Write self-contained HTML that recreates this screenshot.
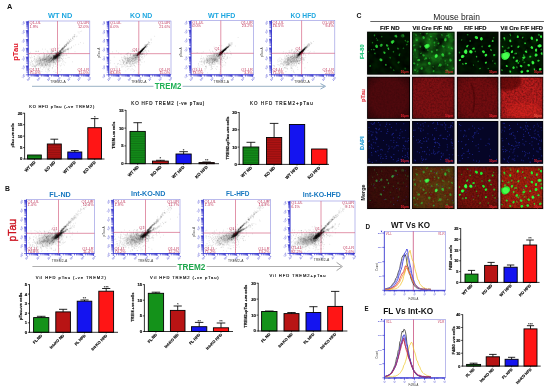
<!DOCTYPE html>
<html><head><meta charset="utf-8"><title>Figure</title>
<style>html,body{margin:0;padding:0;background:#fff}svg{display:block;filter:blur(.3px)}text{font-family:"Liberation Sans",sans-serif}</style></head>
<body>
<svg width="550" height="391" viewBox="0 0 550 391">
<defs><radialGradient id="cl"><stop offset="0" stop-color="#444" stop-opacity=".85"/><stop offset=".5" stop-color="#555" stop-opacity=".4"/><stop offset="1" stop-color="#666" stop-opacity="0"/></radialGradient><radialGradient id="cg"><stop offset="0" stop-color="#000" stop-opacity=".95"/><stop offset=".45" stop-color="#000" stop-opacity=".7"/><stop offset="1" stop-color="#000" stop-opacity="0"/></radialGradient><filter id="b1" x="-30%" y="-30%" width="160%" height="160%"><feGaussianBlur stdDeviation=".5"/></filter><filter id="b2" x="-30%" y="-30%" width="160%" height="160%"><feGaussianBlur stdDeviation=".9"/></filter><filter id="b0" x="-30%" y="-30%" width="160%" height="160%"><feGaussianBlur stdDeviation=".3"/></filter><filter id="nz" x="0" y="0" width="100%" height="100%"><feTurbulence type="fractalNoise" baseFrequency=".55" numOctaves="2" seed="3"/><feColorMatrix type="matrix" values="0 0 0 0 0  0 0 0 0 0  0 0 0 0 0  1.6 0 0 0 -.55"/></filter><radialGradient id="vg"><stop offset=".55" stop-color="#000" stop-opacity="0"/><stop offset="1" stop-color="#000" stop-opacity=".55"/></radialGradient><filter id="gm0" x="0" y="0" width="100%" height="100%" color-interpolation-filters="sRGB"><feTurbulence type="fractalNoise" baseFrequency=".11" numOctaves="3" seed="7"/><feColorMatrix type="matrix" values="0 0 0 0 0  0.15 0 0 0 -0.020000000000000004  0 0 0 0 0  0 0 0 0 1"/></filter><filter id="gq0" x="0" y="0" width="100%" height="100%" color-interpolation-filters="sRGB"><feTurbulence type="fractalNoise" baseFrequency=".11" numOctaves="3" seed="7"/><feColorMatrix type="matrix" values="0 0 0 0 .15  0 0 0 0 .75  0 0 0 0 .12  0.165 0 0 0 -0.07700000000000001"/></filter><filter id="gm1" x="0" y="0" width="100%" height="100%" color-interpolation-filters="sRGB"><feTurbulence type="fractalNoise" baseFrequency=".11" numOctaves="3" seed="8"/><feColorMatrix type="matrix" values=".1 0 0 0 0  0.55 0 0 0 -0.009999999999999995  .1 0 0 0 0  0 0 0 0 1"/></filter><filter id="gq1" x="0" y="0" width="100%" height="100%" color-interpolation-filters="sRGB"><feTurbulence type="fractalNoise" baseFrequency=".11" numOctaves="3" seed="8"/><feColorMatrix type="matrix" values="0 0 0 0 .15  0 0 0 0 .75  0 0 0 0 .12  0.6050000000000001 0 0 0 -0.066"/></filter><filter id="gm2" x="0" y="0" width="100%" height="100%" color-interpolation-filters="sRGB"><feTurbulence type="fractalNoise" baseFrequency=".11" numOctaves="3" seed="9"/><feColorMatrix type="matrix" values="0 0 0 0 0  0.16 0 0 0 -0.03  0 0 0 0 0  0 0 0 0 1"/></filter><filter id="gq2" x="0" y="0" width="100%" height="100%" color-interpolation-filters="sRGB"><feTurbulence type="fractalNoise" baseFrequency=".11" numOctaves="3" seed="9"/><feColorMatrix type="matrix" values="0 0 0 0 .15  0 0 0 0 .75  0 0 0 0 .12  0.17600000000000002 0 0 0 -0.08800000000000001"/></filter><filter id="gm3" x="0" y="0" width="100%" height="100%" color-interpolation-filters="sRGB"><feTurbulence type="fractalNoise" baseFrequency=".11" numOctaves="3" seed="10"/><feColorMatrix type="matrix" values="0 0 0 0 -0  0.26 0 0 0 -0.05  0 0 0 0 0  0 0 0 0 1"/></filter><filter id="gq3" x="0" y="0" width="100%" height="100%" color-interpolation-filters="sRGB"><feTurbulence type="fractalNoise" baseFrequency=".11" numOctaves="3" seed="10"/><feColorMatrix type="matrix" values="0 0 0 0 .15  0 0 0 0 .75  0 0 0 0 .12  0.28600000000000003 0 0 0 -0.11000000000000001"/></filter><clipPath id="c00"><rect x="367.2" y="31.8" width="42.8" height="42.7"/></clipPath><clipPath id="c01"><rect x="367.2" y="76.8" width="42.8" height="42"/></clipPath><clipPath id="c02"><rect x="367.2" y="121" width="42.8" height="42.8"/></clipPath><clipPath id="c03"><rect x="367.2" y="166.3" width="42.8" height="42.7"/></clipPath><clipPath id="c10"><rect x="412.1" y="31.8" width="42.4" height="42.7"/></clipPath><clipPath id="c11"><rect x="412.1" y="76.8" width="42.4" height="42"/></clipPath><clipPath id="c12"><rect x="412.1" y="121" width="42.4" height="42.8"/></clipPath><clipPath id="c13"><rect x="412.1" y="166.3" width="42.4" height="42.7"/></clipPath><clipPath id="c20"><rect x="456.9" y="31.8" width="41.5" height="42.7"/></clipPath><clipPath id="c21"><rect x="456.9" y="76.8" width="41.5" height="42"/></clipPath><clipPath id="c22"><rect x="456.9" y="121" width="41.5" height="42.8"/></clipPath><clipPath id="c23"><rect x="456.9" y="166.3" width="41.5" height="42.7"/></clipPath><clipPath id="c30"><rect x="500.4" y="31.8" width="42.8" height="42.7"/></clipPath><clipPath id="c31"><rect x="500.4" y="76.8" width="42.8" height="42"/></clipPath><clipPath id="c32"><rect x="500.4" y="121" width="42.8" height="42.8"/></clipPath><clipPath id="c33"><rect x="500.4" y="166.3" width="42.8" height="42.7"/></clipPath></defs>
<rect width="550" height="391" fill="#fff"/>
<text x="6.9" y="8.7" font-size="7.4" fill="#111" font-weight="bold">A</text>
<text x="5" y="191.3" font-size="7.7" fill="#111" font-weight="bold" textLength="4.9" lengthAdjust="spacingAndGlyphs">B</text>
<text x="356.5" y="17.8" font-size="7.7" fill="#111" font-weight="bold" textLength="5" lengthAdjust="spacingAndGlyphs">C</text>
<text x="365.5" y="229" font-size="7.7" fill="#111" font-weight="bold" textLength="4.6" lengthAdjust="spacingAndGlyphs">D</text>
<text x="364.4" y="310.8" font-size="7.7" fill="#111" font-weight="bold" textLength="4.1" lengthAdjust="spacingAndGlyphs">E</text>
<text x="60.1" y="17.7" font-size="7.5" fill="#1ea7e0" font-weight="bold" text-anchor="middle" textLength="24.4" lengthAdjust="spacingAndGlyphs">WT ND</text>
<rect x="28.2" y="21" width="61.6" height="53.8" fill="#fff" stroke="#8d8de0" stroke-width=".6"/>
<line x1="28.2" y1="21" x2="28.2" y2="74.8" stroke="#2626cc" stroke-width="0.8"/>
<line x1="28.2" y1="74.8" x2="89.8" y2="74.8" stroke="#2626cc" stroke-width="0.8"/>
<path d="M31.2 74.8v1.8M28.2 72.1h-2M33 74.8v1.8M28.2 70.6h-2M34.3 74.8v1.8M28.2 69.5h-2M35.3 74.8v1.8M28.2 68.6h-2M36.1 74.8v1.8M28.2 67.9h-2M36.7 74.8v1.8M28.2 67.3h-2M37.3 74.8v1.8M28.2 66.8h-2M37.8 74.8v1.8M28.2 66.4h-2M41.4 74.8v1.8M28.2 63.3h-2M43.1 74.8v1.8M28.2 61.8h-2M44.4 74.8v1.8M28.2 60.7h-2M45.4 74.8v1.8M28.2 59.8h-2M46.2 74.8v1.8M28.2 59.1h-2M46.9 74.8v1.8M28.2 58.5h-2M47.4 74.8v1.8M28.2 58h-2M48 74.8v1.8M28.2 57.5h-2M51.5 74.8v1.8M28.2 54.5h-2M53.3 74.8v1.8M28.2 52.9h-2M54.5 74.8v1.8M28.2 51.8h-2M55.5 74.8v1.8M28.2 51h-2M56.3 74.8v1.8M28.2 50.3h-2M57 74.8v1.8M28.2 49.7h-2M57.6 74.8v1.8M28.2 49.2h-2M58.1 74.8v1.8M28.2 48.7h-2M61.6 74.8v1.8M28.2 45.6h-2M63.4 74.8v1.8M28.2 44.1h-2M64.6 74.8v1.8M28.2 43h-2M65.6 74.8v1.8M28.2 42.1h-2M66.4 74.8v1.8M28.2 41.4h-2M67.1 74.8v1.8M28.2 40.8h-2M67.7 74.8v1.8M28.2 40.3h-2M68.2 74.8v1.8M28.2 39.9h-2M71.7 74.8v1.8M28.2 36.8h-2M73.5 74.8v1.8M28.2 35.3h-2M74.7 74.8v1.8M28.2 34.2h-2M75.7 74.8v1.8M28.2 33.3h-2M76.5 74.8v1.8M28.2 32.6h-2M77.2 74.8v1.8M28.2 32h-2M77.8 74.8v1.8M28.2 31.5h-2M78.3 74.8v1.8M28.2 31h-2M81.8 74.8v1.8M28.2 28h-2M83.6 74.8v1.8M28.2 26.4h-2M84.9 74.8v1.8M28.2 25.3h-2M85.8 74.8v1.8M28.2 24.5h-2M86.6 74.8v1.8M28.2 23.8h-2M87.3 74.8v1.8M28.2 23.2h-2M87.9 74.8v1.8M28.2 22.7h-2M88.4 74.8v1.8M28.2 22.2h-2" stroke="#2020c8" stroke-width=".55"/>
<line x1="25.8" y1="74.8" x2="28.2" y2="74.8" stroke="#2222cc" stroke-width="0.65"/>
<text x="25.4" y="75.2" font-size="2.7" fill="#3333cc" text-anchor="end" transform="rotate(-55 25.4 75.2)">10<tspan font-size="2" dy="-1">0</tspan></text>
<line x1="28.2" y1="74.8" x2="28.2" y2="77.2" stroke="#2222cc" stroke-width="0.65"/>
<text x="29.2" y="79.8" font-size="2.7" fill="#3333cc" text-anchor="middle" transform="rotate(-35 29.2 79.8)">10<tspan font-size="2" dy="-1">0</tspan></text>
<line x1="25.8" y1="66" x2="28.2" y2="66" stroke="#2222cc" stroke-width="0.65"/>
<text x="25.4" y="66.4" font-size="2.7" fill="#3333cc" text-anchor="end" transform="rotate(-55 25.4 66.4)">10<tspan font-size="2" dy="-1">1</tspan></text>
<line x1="38.3" y1="74.8" x2="38.3" y2="77.2" stroke="#2222cc" stroke-width="0.65"/>
<text x="39.3" y="79.8" font-size="2.7" fill="#3333cc" text-anchor="middle" transform="rotate(-35 39.3 79.8)">10<tspan font-size="2" dy="-1">1</tspan></text>
<line x1="25.8" y1="57.1" x2="28.2" y2="57.1" stroke="#2222cc" stroke-width="0.65"/>
<text x="25.4" y="57.5" font-size="2.7" fill="#3333cc" text-anchor="end" transform="rotate(-55 25.4 57.5)">10<tspan font-size="2" dy="-1">2</tspan></text>
<line x1="48.4" y1="74.8" x2="48.4" y2="77.2" stroke="#2222cc" stroke-width="0.65"/>
<text x="49.4" y="79.8" font-size="2.7" fill="#3333cc" text-anchor="middle" transform="rotate(-35 49.4 79.8)">10<tspan font-size="2" dy="-1">2</tspan></text>
<line x1="25.8" y1="48.3" x2="28.2" y2="48.3" stroke="#2222cc" stroke-width="0.65"/>
<text x="25.4" y="48.7" font-size="2.7" fill="#3333cc" text-anchor="end" transform="rotate(-55 25.4 48.7)">10<tspan font-size="2" dy="-1">3</tspan></text>
<line x1="58.5" y1="74.8" x2="58.5" y2="77.2" stroke="#2222cc" stroke-width="0.65"/>
<text x="59.5" y="79.8" font-size="2.7" fill="#3333cc" text-anchor="middle" transform="rotate(-35 59.5 79.8)">10<tspan font-size="2" dy="-1">3</tspan></text>
<line x1="25.8" y1="39.5" x2="28.2" y2="39.5" stroke="#2222cc" stroke-width="0.65"/>
<text x="25.4" y="39.9" font-size="2.7" fill="#3333cc" text-anchor="end" transform="rotate(-55 25.4 39.9)">10<tspan font-size="2" dy="-1">4</tspan></text>
<line x1="68.7" y1="74.8" x2="68.7" y2="77.2" stroke="#2222cc" stroke-width="0.65"/>
<text x="69.7" y="79.8" font-size="2.7" fill="#3333cc" text-anchor="middle" transform="rotate(-35 69.7 79.8)">10<tspan font-size="2" dy="-1">4</tspan></text>
<line x1="25.8" y1="30.6" x2="28.2" y2="30.6" stroke="#2222cc" stroke-width="0.65"/>
<text x="25.4" y="31" font-size="2.7" fill="#3333cc" text-anchor="end" transform="rotate(-55 25.4 31)">10<tspan font-size="2" dy="-1">5</tspan></text>
<line x1="78.8" y1="74.8" x2="78.8" y2="77.2" stroke="#2222cc" stroke-width="0.65"/>
<text x="79.8" y="79.8" font-size="2.7" fill="#3333cc" text-anchor="middle" transform="rotate(-35 79.8 79.8)">10<tspan font-size="2" dy="-1">5</tspan></text>
<line x1="25.8" y1="21.8" x2="28.2" y2="21.8" stroke="#2222cc" stroke-width="0.65"/>
<text x="25.4" y="22.2" font-size="2.7" fill="#3333cc" text-anchor="end" transform="rotate(-55 25.4 22.2)">10<tspan font-size="2" dy="-1">6</tspan></text>
<line x1="88.9" y1="74.8" x2="88.9" y2="77.2" stroke="#2222cc" stroke-width="0.65"/>
<text x="89.9" y="79.8" font-size="2.7" fill="#3333cc" text-anchor="middle" transform="rotate(-35 89.9 79.8)">10<tspan font-size="2" dy="-1">6</tspan></text>
<line x1="57.5" y1="21" x2="57.5" y2="74.8" stroke="#d25a7c" stroke-width="0.65"/>
<line x1="28.2" y1="53.6" x2="89.8" y2="53.6" stroke="#d25a7c" stroke-width="0.65"/>
<ellipse cx="48" cy="59.8" rx="15" ry="7.5" fill="url(#cl)" opacity=".4" transform="rotate(-14 48 59.8)"/>
<path d="M60.9 55h0M56 55.3h0M53.8 58.5h0M52.8 56.9h0M57.1 55.9h0M57.1 54.2h0M56.5 56.1h0M53.3 59.8h0M59.3 57.9h0M56.9 55.6h0M59.7 53.9h0M58.4 54h0M57.9 56.8h0M58.3 54.9h0M54.2 58.9h0M57.3 56.8h0M57.9 56.8h0M56.5 56.5h0M57.2 53.7h0M55.1 56.5h0M61.3 52h0M58.6 55.5h0M54.5 55.2h0M58.5 53.8h0M57.2 53.4h0M56.5 58.4h0M58.9 52h0M53.2 58.9h0M58.4 54.9h0M56.4 54.6h0M58.9 56.1h0M54.2 55.7h0M55.3 58.5h0M52.2 59.7h0M54 58.1h0M55.9 56.7h0M60.5 53.5h0M59.7 53.3h0M55.6 57.6h0M49.5 62h0M55.9 54.6h0M57.2 54.7h0M50.3 61h0M53.7 57.7h0M57.2 57.8h0M56.7 56h0M55.9 53.6h0M58.6 52.6h0M56.6 54.2h0M53.8 57.8h0M61.7 53h0M54.8 57.2h0M53.6 58.5h0M55.7 58.1h0M52.9 58.7h0M53.8 57.2h0M58.3 54.9h0M58.9 56.2h0M58.2 52.5h0M56.3 53.3h0M57.9 58.2h0M55.7 56.2h0M56.9 55.9h0M55.9 55.4h0M59.9 54.9h0M56.2 56.9h0M59 55.9h0M58 56.1h0M55 55.7h0M56.1 58.2h0M59 54.3h0M55.4 57.7h0M61.7 54.1h0M54.8 57.6h0M52 58.1h0M57 55.8h0M59.9 55.5h0M59.6 55.8h0M54.2 56.2h0M60 57.8h0M56.4 54.3h0M58.3 57.1h0M54.6 59.1h0M56.1 58.7h0M58.7 54.9h0M61.1 51.7h0M56.4 59.5h0M56.2 60.2h0M55.5 55.3h0M56.6 56.3h0M56.8 55.6h0M57.2 51.7h0M54.9 57.1h0M59.3 50.5h0M54.7 55.8h0M55.4 58.2h0M58.7 56.8h0M55.3 57.7h0M60.1 54.7h0M56.6 58h0M55.7 59.9h0M56.8 55.8h0M57.9 56.5h0M60.7 52.5h0M56.1 57.5h0M52.9 56.3h0M58.2 54.1h0M58.4 52.9h0M49.6 62.4h0M58.2 57.5h0M58 55.4h0M57.6 54.6h0M55.6 54.7h0M57.1 54.3h0M56 57.8h0M57.9 53.3h0M60.9 51.5h0M59.3 55.4h0M57.2 55.9h0M61.6 53.4h0M56.1 53.5h0M55.6 58.9h0M56.2 54.8h0M54.7 57.2h0M58.5 55.2h0M58.3 53.3h0M58.5 53.7h0M57.2 58.5h0M56.6 55.9h0M55.7 56.2h0M61.5 54.4h0M58.4 54.9h0M59 54h0M57.9 55.7h0M58.1 57.7h0M61.9 53.9h0M53.3 62h0M57.8 54.3h0M57.4 57.4h0M60.1 54.6h0M56.9 55.9h0M58.5 54.4h0M53.8 57.4h0M56.4 56.8h0M60.9 50.2h0M57.6 55.1h0M58.4 56.9h0M59.4 53.5h0M54 56h0M57.4 57.6h0M56.4 57.4h0M58.6 55.1h0M59.1 53.9h0M53.5 56.7h0M58.5 53.9h0M56.4 57.7h0M56 59.6h0M57.7 54.3h0M55.9 58.6h0M53.1 58h0M56.7 56.4h0M56.9 56.6h0M55.5 56.8h0M60.1 54.2h0M56.8 58.8h0M51.7 60.4h0M59 55.8h0M56.5 55.6h0M57.8 54.8h0M55.3 52.4h0M56.8 54.6h0M59.4 55h0M57.9 54.3h0M57.3 55h0M56.9 55.6h0M56 60h0M56.6 52.7h0M57.5 53h0M55.4 56.1h0M55.4 57.5h0M54.5 55.4h0M56.8 56.6h0M60.5 52.1h0M53.3 58.3h0M57.4 54h0M55.2 58.2h0M56.7 56.4h0M54.3 56.7h0M55.6 56.7h0M56 57.3h0M58.3 55.6h0M56.9 54.3h0M54.4 59.3h0M56.6 56.3h0M53.5 58.4h0M54.2 56.7h0M53.7 56h0M57.7 57.2h0M54.8 57.8h0M54.4 59.1h0M60 51.1h0M57.1 58.1h0M57.5 55.6h0M51.4 60.3h0M60 55.7h0M57.6 54.3h0M53.3 55.8h0M54.8 59.5h0M55.1 55.1h0M58.3 51.8h0M59.3 53.3h0M57.9 56.2h0M58.2 56.9h0M56.3 55.8h0M53.7 56.1h0M55.6 58.6h0M59.7 55.9h0M63.8 51.3h0M56.6 53.9h0M57.7 58.9h0M57.7 55h0M55.7 53.7h0M53.4 56.6h0M51.9 61.4h0M58.7 54h0M56.5 54.5h0M58.2 56h0M61.6 54.6h0M57.6 55.1h0M54 57.3h0M58.5 55.5h0M57.9 57.8h0M58.1 54.9h0M56.1 56.7h0M53.4 57.2h0M56.9 54.9h0M56.9 58h0M57.1 57.9h0M57.7 57.7h0M56.2 53.5h0M59.4 53.4h0M51.8 60.4h0M55.8 54.6h0M55.5 58h0M60.9 54.4h0M60.4 54.8h0M49.8 60.6h0M54.7 53.1h0M59.1 55.5h0M54.3 57.4h0M54.2 58.1h0M56.4 56.3h0M54.3 58.7h0M56.5 57.8h0M56 54.1h0M53 59.2h0M55.7 57.7h0M58.5 54.6h0M51.4 58.5h0M57 54h0M59.1 53.8h0M57 54.3h0M53.8 53.5h0M56.5 57.2h0M53.6 57.2h0M56.4 56.4h0M55.1 58.5h0M53.4 60.7h0M52.4 58.3h0M58.9 52.5h0M52.5 59.7h0M53.3 57h0M54.2 56.9h0M53.3 57.2h0M59.9 52.2h0M57.7 52.8h0M56.8 53.8h0M55.9 57.8h0M53.6 55.3h0M55 57.2h0M57.1 54h0M55.8 56.9h0M52.4 59.5h0M54.8 58.3h0M56.1 56.3h0M50.5 61.1h0M54.8 56h0M54.2 56h0M57.5 56.5h0M57.5 54.5h0M61.3 53.6h0M54.1 58h0M52.4 59.4h0M59.3 56h0M54 55.3h0M57.2 57.9h0M57.9 57.2h0M59.8 56.1h0M57.4 54.3h0M59.7 57.8h0M53.7 55.4h0M62 52.3h0M54.5 56.9h0M53.3 60.1h0M56.3 55.3h0M55.1 56.6h0M59 53.8h0M59.2 52.5h0M54.6 57h0M55.1 57.2h0M60 55.3h0M54.9 59.7h0M58.1 57.6h0M55.4 55.7h0M59 55.2h0M55.4 57.2h0M57.1 56.2h0M51.3 58.5h0M56.9 56.3h0M53.7 55.5h0M59.5 53.1h0M55.3 59.9h0M60.1 54.9h0M59 55h0M54.1 58.2h0M57.9 56.1h0M56.8 54.2h0M54.7 57.1h0M55.3 55.7h0M51 58.7h0M57.2 55.6h0M56.3 53.1h0M56.2 57.9h0M50.8 59.2h0M53.4 60.8h0M56.1 55.6h0M56.8 55.8h0M59.7 55.5h0M59 54.7h0M59.1 55.4h0M57.8 52h0M57.4 55.6h0M56.7 55.6h0M56.7 56.8h0M57.1 55.9h0M52.8 57.2h0M53.2 56h0M54.5 56.4h0M50.5 58h0M54.9 56.6h0M62.6 52.6h0M54.2 57.3h0M53.4 57.5h0M55.6 56.9h0M55.7 58.3h0M59.7 56.8h0M53.9 59.6h0M54.2 55.4h0M54.4 55.2h0M58.7 59h0M61.2 55.3h0M58.1 52.2h0M57.6 55.5h0M56.7 54.3h0M53.4 62.4h0M59.7 54.1h0M55.4 57.4h0M54.3 59.7h0M56.8 55.7h0M55.4 57h0M56.5 55.5h0M59 54.4h0M55.5 55.5h0M60.6 55h0M56.6 52.9h0M56.5 57.9h0M57.7 57.4h0M56.1 57.9h0M55.7 52.7h0M55.3 56.8h0M54.2 56.6h0M60.3 52.8h0M57.3 53.2h0M51 60h0M56.9 54.6h0M58.5 55.9h0M55.4 57.1h0M55.6 58.8h0M61.3 53.1h0M54.7 56.5h0M56.6 57.7h0M55.9 59.2h0M53.5 58.7h0M61.2 55.3h0M56.2 57.8h0M63.7 52.2h0M51.4 61h0M61.4 50.2h0M57 52.2h0M59.7 52.1h0M59.2 55.4h0M48.5 60.5h0M56 54h0M55.7 55.3h0M59.4 52.9h0M54.8 58.7h0M59.4 53.5h0M57.6 56.1h0M54.3 56h0M57.5 54.8h0M53.9 59.9h0M57.7 55.4h0M54.5 57.5h0M58.4 55.4h0M53.7 57h0M57.5 55.7h0M57.6 53.3h0M60.2 56.1h0M58.9 54.4h0M57.6 53.1h0M62.2 49.8h0M73.1 36.9h0M74.4 34.9h0M65.3 46.5h0M80.2 31.5h0M70.6 38.9h0M69.5 42.4h0M69.3 40.7h0M63.2 48.1h0M74.8 36.8h0M59.6 51.3h0M72.5 37.8h0M62.1 49.4h0M68 43.7h0M62.1 49.3h0M74.8 36.2h0M64.2 45.2h0M65.1 45.3h0M64.9 46.1h0M72 40.2h0M66.4 44.6h0M62.1 49.1h0M66.2 46h0M65.4 46.4h0M66.6 44.6h0M62.4 48.1h0M63.7 48.8h0M67 43.5h0M76.7 36.7h0M62.7 48.1h0M64 47.5h0M68.8 41.4h0M64 46.9h0M60.7 51.2h0M62.6 48.7h0M60.9 50.5h0M61.9 49.9h0M61.7 49.1h0M69.5 42.9h0M67.1 42.7h0M64.5 47.4h0M67.2 41.5h0M68.4 42.9h0M60.6 51.6h0M61.9 50.5h0M59.8 51.7h0M81.7 31.1h0M63.1 48.1h0M59.9 50.7h0M66.7 45.6h0M64.9 46.4h0M63.2 49.6h0M60.2 50.9h0M64.8 45.6h0M60.6 51.1h0M61.7 49.6h0M71.1 41.2h0M73.4 38.1h0M59.9 50.8h0M62.9 48.2h0M64.3 46.5h0M77 36.1h0M60.6 51.4h0M63.2 48.5h0M64.6 46.4h0M64 48.8h0M61.5 48.8h0M64.6 47.4h0M61.1 49.9h0M69.3 41.3h0M59.8 52h0M82.1 25.1h0M61.5 49.3h0M69.4 41.5h0M72.5 38.7h0M68.5 43.5h0M63.4 48.2h0M65.5 46.2h0M66.4 45.8h0M66 45h0M60.6 50.5h0M68.1 43.5h0M61.8 49.7h0M64.3 47.6h0M62.3 48.7h0M74.2 36.4h0M67.7 43.2h0M62.3 49h0M67.3 42.9h0M74.2 34.9h0M62 48.9h0M60.6 50.9h0M60.6 50.8h0M65.1 46.5h0M67.5 42.5h0M61.2 49.9h0M60.7 49.7h0M63.2 47.6h0M59.8 52h0M66.3 45.1h0M60.3 51.3h0M62.2 48.6h0M59.6 51.5h0M62.5 49.1h0M70.1 41.7h0M67.7 43.9h0M68.6 42.7h0M60.3 51h0M60.1 51.7h0M59.9 51.8h0M79.1 33.1h0M66.7 44.6h0M62.2 50h0M64.3 46.3h0M63.2 49.4h0M70.3 39.5h0M65.6 44.5h0M73.1 36.4h0M66.7 45.3h0M64.5 46h0M62.9 48.1h0M75 34.8h0M59.8 51.2h0M64.7 46.9h0M63.8 48h0M65.1 46.2h0M65.1 46.8h0M63.9 47.1h0M62.9 48.6h0M66.5 43.7h0M72.4 38.3h0M68.5 42.6h0M62.1 49.1h0M68.1 44.2h0M61.1 51.2h0M74.6 37h0M73.8 39.6h0M62.6 49.1h0M72.6 38.1h0M62.8 48.3h0M66.1 45.4h0M61.6 49.3h0M65.5 44.5h0M60.1 52.3h0M66.5 44.2h0M62.4 47.8h0M63.6 47.2h0M69.7 40.5h0M78.1 31.9h0M63.2 48h0M64 47.2h0M59.9 51.6h0M59.9 51.5h0M60.6 51.2h0M62.9 49h0M62.3 50.2h0M66.9 44.1h0M71.1 40.4h0M70.8 39.6h0M61.3 49.6h0M60.7 50.5h0M70.4 41.5h0M74.1 36.4h0M62.1 48.2h0M68.6 39.7h0M59.4 53.5h0M61.2 53h0M67.6 48.3h0M64.8 51.3h0M63.6 52.3h0M71.3 47.9h0M60.1 53.1h0M61.2 52.4h0M65.9 50.5h0M71.3 47.4h0M61.9 52.6h0M65.7 50h0M59.5 53.2h0M65.8 51.9h0M66.9 49h0M62.9 52.1h0M67.1 49.6h0M62.1 52h0M62.7 50.8h0M68.5 48.1h0M60 53.3h0M59.5 53.9h0M59.8 53.8h0M65.7 51.5h0M67.7 49.3h0M78.7 44.3h0M68.6 49h0M61.9 52.4h0M64.5 50.9h0M62.6 50.8h0M62.4 53.1h0M80.6 42.6h0M71.6 46.8h0M60.5 52.9h0M68.2 50.9h0M60 53h0M63.6 50.9h0M67.6 49.4h0M73.7 45.9h0M64.9 49.8h0M64.6 50.5h0M67.2 49.5h0M59.8 53.3h0M63.4 51.2h0M63.7 49.8h0M60.8 53.2h0M59.5 54h0M60.9 52.9h0M61.4 51.5h0M65.1 49.6h0M61 52.4h0M62.9 51.8h0M62.3 52.5h0M62.1 52.8h0M60.5 53.3h0M59.9 53.2h0M64 51.9h0M63.9 50.5h0M66.1 50h0M60.9 53.2h0M61.5 52.6h0M60.4 53.7h0M60 53.5h0M68.1 49.7h0M63.5 51.8h0M70.7 48.7h0M63.5 51h0M60.3 53.2h0M65 51.8h0M59.8 53.9h0M66.1 49.4h0M64.4 51.8h0M59.9 53.4h0M60.7 53.1h0M61.7 52.4h0M83.5 43.2h0M61.7 52.7h0M65.6 50.1h0M61.4 52.5h0M68.5 48.9h0M60.3 53h0M68.2 49.3h0M63.6 50.8h0M60.5 52.7h0M59.7 53.8h0M67.8 48.7h0M75.7 44.8h0M69.3 48.2h0M64.6 51h0M63.2 52.1h0M62.5 61.8h0M44.3 53.9h0M35.7 69.1h0M58.2 61.8h0M49 59.9h0M53.2 60.3h0M49.3 55.7h0M37.8 63.2h0M48.2 65.3h0M39.4 54.4h0M32.8 63.8h0M62.7 54.6h0M43.4 62.6h0M62.1 60.3h0M56.6 61.2h0M46.6 60.6h0M53.1 65.6h0M30.6 62.4h0M52 57.9h0M47.8 58.9h0M41.3 63.6h0M59.5 55.4h0M53 62.8h0M43.6 60.7h0M38.9 68.5h0M63.1 55h0M65.8 58.4h0M34.1 65.5h0M51.3 61h0M54.5 56.4h0M58.5 58.3h0M64.6 55h0M29.1 72.4h0M52.9 51.4h0M43.7 57.9h0M56.5 55.1h0M58.4 55.1h0M56.7 55.2h0M39.4 64.5h0M47.3 62.1h0M35 59.3h0M46.9 67.9h0M51.7 52.3h0M51.3 54.1h0M57.5 60.7h0M66.8 55.6h0M45.2 63.8h0M37.7 60.9h0M40.5 59.6h0M37.8 56.9h0M40 63.5h0M49.2 59.2h0M53.2 61.4h0M53.7 66.4h0M51.5 60.4h0M45.4 64.8h0M59.7 45.1h0M55.3 53.6h0M51.9 59.1h0M38.1 57.2h0M47.9 70.1h0M38.6 60.8h0M46.5 59.2h0M59.1 64.9h0M48.8 61.3h0M46.9 66.3h0M48.8 62.3h0M47.8 64.3h0M48.1 56.5h0M64 48h0M50.3 57.9h0M42.3 69.6h0M51.6 57.3h0M41.8 62.8h0M48.9 58.7h0M44.1 66.9h0M50.7 58.4h0M38.4 59.4h0M54.8 55.1h0M54.3 57.7h0M52.4 60h0M45.3 59.6h0M48.7 62.3h0M69.2 57.6h0M39 70.9h0M47.8 57.2h0M50 59.1h0M51.1 58.9h0M49.3 64.5h0M63 56.2h0M62.5 59.6h0M59 58h0M51 62.2h0M41.1 61.9h0M40 65.6h0M51 61.4h0M45.9 57.4h0M56.8 55.8h0M47.3 60.2h0M52.9 58.8h0M40 57.9h0M57.3 56.2h0M46.7 56.8h0M56.9 59.3h0M43.9 54.2h0M63.7 53.5h0M39.2 60.3h0M39.6 62.1h0M44 56.3h0M54.3 54.8h0M33.8 65h0M44.1 56.7h0M35 60.6h0M43.8 59.1h0M45.3 65.5h0M57.9 58.5h0M53.5 56.6h0M37.2 64.8h0M60.1 53.9h0M43 58.5h0M38.3 64.6h0M40.6 67.2h0M62.8 56.2h0M48.3 56.4h0M56.5 57.9h0M36.4 59.3h0M52.7 56.7h0M52.7 59.6h0M60.8 56h0M58.2 61.5h0M59.8 55.4h0M52.3 68.7h0M47.2 57.7h0M49.5 54.9h0M41.8 59.9h0M47 64h0M39.9 61.3h0M51 57.9h0M56 66.5h0M39.8 58.7h0M44.6 58.7h0M44.7 62.4h0M64.3 65.1h0M47.6 52h0M61.9 56.2h0M46 64.7h0M48 59h0M42.1 65h0M55.6 54.5h0M44.8 65.6h0M42.9 59.6h0M42.6 60.4h0M56.1 57.9h0M57.4 59.7h0M32.3 64h0M48.2 53.3h0M55.4 57.7h0M45 62.7h0M57.2 60.2h0M44.7 60.6h0M68.7 49.3h0M49.6 59.6h0M61.6 58.6h0M50.7 58h0M59.3 57.1h0M48.3 60.5h0M54.7 58.2h0M51.4 62.1h0M43 60.3h0M49.8 62h0M53.4 56.5h0M40.3 60.5h0M45.2 64.1h0M54.3 58.4h0M39.6 57h0M50.2 61.6h0M52 57.8h0M53 50.9h0M59 62.8h0M50.5 60.1h0M47.6 63.5h0M41.2 59.4h0M51.7 53.3h0M53.2 60.3h0M48.7 57.7h0M63.2 53.7h0M50.6 62.3h0M49.3 63.6h0M49.1 60.6h0M49.2 62.1h0M44 64.4h0M57.1 53.4h0M36.2 57.9h0M42.7 64h0M50.3 66.6h0M61.4 50.3h0M45.7 59.3h0M62.5 59h0M56.3 54.5h0M65.3 50.9h0M48.9 55.9h0M41.7 62.5h0M41.9 64.2h0M53.3 58.7h0M54.7 62.5h0M57.6 52.9h0M54.7 61.5h0M45.8 59h0M59.2 59.4h0M50.6 64.8h0M57.3 64.1h0M46.2 64.2h0M32.4 61.5h0M62.4 52.2h0M47.6 58.6h0M53.4 62.9h0M62.2 55.5h0M52.1 62.2h0M58.4 56h0M59.6 51.1h0M50.8 53.8h0M44.9 57.6h0M64.2 62h0M55.5 58.5h0M32.2 57.5h0M50.8 62h0M53 55.7h0M42.8 63.4h0M68 57.4h0M48.6 59.3h0M52.8 59.8h0M37.8 68.6h0M53 60.7h0M45.7 64.8h0M57.1 54.6h0M57.2 54.6h0M34.1 66.9h0M40.6 59.7h0M41.3 61.4h0M46.1 61h0M53.5 64.8h0M53 60.5h0M53.4 61.6h0M56.5 58.7h0M39.1 58.5h0M51.2 57.8h0M45.4 58.5h0M43.5 65.3h0M55 53.1h0M50.6 59.1h0M45.6 64.6h0M51.7 59.2h0M42.3 65.1h0M51.2 60.1h0M43.9 66.8h0M34.8 58.4h0M40.3 59.9h0M46.3 61.1h0M60.4 58.8h0M50 58.7h0M52.4 61.8h0M43.6 67.9h0M49.2 62.9h0M28.9 65.7h0M46.3 65.6h0M57.5 58.6h0M54.1 57h0M42 65.9h0M38.9 60.3h0M39 58.6h0M45.9 63.7h0M41.3 64.5h0M33.4 60.5h0M42.1 64h0M59 47.9h0M50.2 65.6h0M49.8 65.8h0M58.6 58.1h0M37.2 60.2h0M61.4 52.8h0M39.9 60.3h0M59.5 57.2h0M36.2 60.6h0M55 62.5h0M61.8 58.2h0M52.5 54.9h0M43.8 55.7h0M48 61.5h0M49 55.9h0M54.1 61.8h0M58.4 48.7h0M53.8 62.3h0M55 58.1h0M51 58.1h0M43.1 57.3h0M75 51.7h0M53.8 60.4h0M56.3 57.4h0M57.4 65.1h0M43.5 58.8h0M40.7 60.5h0M39 63.6h0M55 62.7h0M59.5 55.3h0M50.3 56.2h0M49.6 59.8h0M53.1 58.3h0M40.6 65.7h0M47.4 54.6h0M35.2 66h0M34.6 66.1h0M61.6 58.3h0M55.9 60h0M44.2 61.8h0M33.9 66.1h0M54.3 58.8h0M57.8 56.6h0M35.5 68.7h0M49.6 57.1h0M44.6 59.4h0M50.2 54.4h0M49.8 58h0M54.2 57h0M53.9 54.9h0M51.8 57.7h0M57.9 58.7h0M57.2 55.6h0M44.1 60.8h0M40.5 60.8h0M58.9 52.8h0M44.4 61.1h0M63.2 64.1h0M44.3 59.1h0M50.9 56.6h0M33 66.2h0M52.2 59.9h0M53.5 59.1h0M44.1 63.3h0M48.8 60.3h0M40.1 62.3h0M48.3 56.5h0M42.6 59.7h0M48.9 57.2h0M40.1 62.3h0M39.2 63.5h0M41.9 60.7h0M57.3 48.8h0M37.9 60.6h0M47.5 56.6h0M41.1 59.3h0M40.8 62.2h0M43.3 60.5h0M49.6 62.1h0M43.7 59.4h0M51.6 50.6h0M49.1 56.1h0M56 56.5h0M42.2 65.4h0M44.2 57.5h0M52 51.4h0M47.9 62.6h0M39.1 65.9h0M46.3 58.2h0M35.9 68.5h0M59.7 55.4h0M51.3 51.7h0M49.7 60.8h0M42.5 58.9h0M47 57h0M35.6 66.1h0M56.2 59.9h0M55.2 61.9h0M45.3 49.2h0M48.9 57.5h0M39.7 64h0M40.2 57.3h0M68.3 52.9h0M50.5 61.4h0M53.7 57.9h0M53 58.1h0M45.2 59.6h0M54.2 60.8h0M51.9 53h0M47.4 62h0M46 62.3h0M50.4 63.8h0M30.5 65.2h0M57.8 59.8h0M44.7 59.9h0M46.3 62h0M54.8 55.8h0M57.8 59h0M31.9 62.7h0M47.7 57.4h0M49.7 59.2h0M48.1 58.8h0M51 56.8h0M52.8 51.8h0M49.4 57.6h0M46 61.5h0M42.6 49.1h0M37.1 62h0M46.5 58.4h0M44 63.6h0M48.6 55.7h0M42.3 65h0M50 60.7h0M49.2 60.3h0M44.2 57.1h0M40.7 58.4h0M63.5 58.1h0M49.4 59.1h0M36.2 65.9h0M35.3 67.2h0M44.4 55.4h0M60.5 52.7h0M46.7 59.6h0M37.1 64.5h0M38.1 61.8h0M40.3 68h0M49.9 64.9h0M44.8 61.6h0M53.3 58.7h0M47.2 64.4h0M52.1 59h0M54.6 47.6h0M40.8 63.7h0M45.9 59.4h0M36.9 61.4h0M59.9 54.7h0M40.8 60.7h0M57.3 54.9h0M35.8 64h0M46.2 60.9h0M34.7 59.2h0M46.6 61.5h0M63.6 60.9h0M58.6 60.7h0M57.7 59.7h0M54 56.8h0M45.5 65.6h0M39.3 60h0M47.2 60.8h0M43.3 59.3h0M42.3 58.5h0M47.1 72.9h0M40.4 71.3h0M39 63h0M48.6 62.1h0M46.1 56.2h0M44.4 59.6h0M36.9 62.5h0M49.2 53.8h0M38.6 65.5h0M41 59.2h0M43.9 58.5h0M53.4 59.3h0M66 53.6h0M51.7 56.2h0M56.1 51.8h0M42.1 60.6h0M72.4 61.8h0M65.1 55.2h0M36.6 65h0M57.5 54.7h0M65.7 62.7h0M35.1 61.8h0M46.7 59.2h0M47.8 60.1h0M47.9 69.8h0M44.7 56h0M58.9 60.8h0M39.4 58.8h0M41 53.4h0M38.5 64.2h0M38.1 61.6h0M46.5 58h0M52.9 59.2h0M59.2 58.2h0M44.7 67.2h0M51.7 60.8h0M51.3 57.7h0M41.9 66.3h0M42.9 60.1h0M56.5 61.4h0M49.9 67h0M48.1 68.9h0M60.3 57.3h0M47.5 64.3h0M35.4 66h0M55.2 64.1h0M60.6 57.7h0M52.5 55h0M53.2 55.5h0M38.6 69.2h0M63.5 55.3h0M52.4 67.9h0M38.6 68.3h0M46.7 62.7h0M49 65.6h0M58.9 56.4h0M59.2 60.6h0M60.2 52.6h0M56.1 57.7h0M50.5 53.2h0M66.6 54.7h0M52.2 53h0M47.5 60.7h0M49.6 55.1h0M51.7 57.3h0M56 53.3h0M58.3 53.1h0M40 63.8h0M54.2 59.9h0M44.3 59.8h0M42 65.8h0M34.1 59h0M39.6 64.1h0M37.1 65.9h0M34.4 56.8h0M51.9 60.4h0M46.5 65.5h0M45.2 58.6h0M48 65.1h0M48.3 67.1h0M60.7 60.7h0M57 62.5h0M52.1 49.6h0M50.5 58.7h0M38.7 55.1h0M49.7 55.1h0M48.7 56.5h0M51.4 55.2h0M50.9 58.9h0M45.1 59.6h0M50.2 49h0M33.2 64.2h0M36.7 51.3h0M55.1 60.1h0M31.9 66.2h0M58.3 52.5h0M48.9 58.7h0M30.6 52.3h0M30.7 57.7h0M39.1 63.1h0M49.2 70.3h0M56.9 54.6h0M49.5 70.9h0M37.3 64.6h0M61.1 65.3h0M51.9 57.8h0M61.3 69.9h0M39.6 57.6h0M29.4 61.8h0M57.4 68.8h0M34 56.2h0M34.4 56.6h0M35.7 54.4h0M47.1 71.8h0M56.8 65h0M39.4 71.7h0M36 51.5h0M36.2 68.9h0M51.8 57.8h0M36.3 65.4h0M45.7 69h0M43.6 52.5h0M31.5 56h0M46.1 67.2h0M47.2 50.8h0M60 61.2h0M46.7 55.1h0M37.1 55.6h0M48.8 71.7h0M37.7 58.7h0M38.5 51.3h0M29.5 68.7h0M60.8 51.6h0M31.7 61.1h0M39 56.3h0M57.3 55.1h0M35.5 71.6h0M49.3 66.5h0M50.8 51.2h0M60.8 51.3h0M36.5 61.6h0M56.3 72.6h0M29.5 53.8h0M29.7 53.8h0M58.7 52.6h0M46.6 55.1h0M29.5 57.1h0M37.6 63.2h0M57.4 62.9h0M46.4 57.1h0M35 61.7h0M41.9 71.5h0M35.9 51.2h0M30.9 58h0M36.3 59.8h0M57.6 67.5h0M48.4 69.9h0M57.6 52.1h0M51.5 53.6h0M42.5 59.6h0M38 51.6h0M35.5 67h0M60.1 71.7h0M29.9 63.8h0M35.4 62.7h0M46.4 54.4h0M32 61.7h0M30.9 70.1h0M57.9 50.9h0M55.1 70.1h0M30.5 64.2h0M44.5 54.7h0M55.6 63.7h0M55.4 72.3h0M60.5 66h0M57.4 52.1h0M40.1 61.6h0M45.7 59.1h0M55.6 64.1h0M56.5 60.9h0M59.6 58.9h0M61.3 63.7h0M41.4 65h0M32.6 66.5h0M48.6 69.3h0M31.6 60.3h0M48.1 52h0M53.8 71.5h0M49.4 68.3h0M59.7 61.1h0M45.7 71.2h0M51.1 57h0M48.2 68.4h0M56.5 53.6h0M34.6 66.5h0M52.3 67.5h0M45 59.5h0M60.2 56.5h0M38.5 51.2h0M31.9 65.1h0M50.6 55.7h0M53.1 54.6h0" stroke="#222" stroke-width=".4" stroke-linecap="round" opacity=".32" fill="none"/>
<ellipse cx="56.6" cy="56.1" rx="6" ry="2.1" fill="url(#cg)" opacity=".88" transform="rotate(-40 56.6 56.1)"/>
<ellipse cx="57.5" cy="54" rx="2.2" ry=".9" fill="#b01030" opacity=".35" transform="rotate(-40 57.5 54)"/>
<text x="29.4" y="24.4" font-size="3.9" fill="#c23a5e">Q1-UL</text>
<text x="29.4" y="27.6" font-size="3.9" fill="#c23a5e">1.9%</text>
<text x="89" y="24.4" font-size="3.9" fill="#c23a5e" text-anchor="end">Q1-UR</text>
<text x="89" y="27.6" font-size="3.9" fill="#c23a5e" text-anchor="end">12.0%</text>
<text x="29.4" y="70.8" font-size="3.9" fill="#c23a5e">Q1-LL</text>
<text x="29.4" y="73.9" font-size="3.9" fill="#c23a5e">75.0%</text>
<text x="89" y="70.8" font-size="3.9" fill="#c23a5e" text-anchor="end">Q1-LR</text>
<text x="89" y="73.9" font-size="3.9" fill="#c23a5e" text-anchor="end">11.0%</text>
<text x="56.5" y="50.6" font-size="3.9" fill="#c23a5e" text-anchor="end">Q1</text>
<text x="58" y="83" font-size="3.3" fill="#333" text-anchor="middle" letter-spacing=".15">TREM2-A</text>
<text x="141.1" y="17.7" font-size="7.5" fill="#1ea7e0" font-weight="bold" text-anchor="middle" textLength="22.4" lengthAdjust="spacingAndGlyphs">KO ND</text>
<rect x="108.8" y="21" width="62.2" height="53.8" fill="#fff" stroke="#8d8de0" stroke-width=".6"/>
<line x1="108.8" y1="21" x2="108.8" y2="74.8" stroke="#2626cc" stroke-width="0.8"/>
<line x1="108.8" y1="74.8" x2="171" y2="74.8" stroke="#2626cc" stroke-width="0.8"/>
<path d="M111.9 74.8v1.8M108.8 72.1h-2M113.7 74.8v1.8M108.8 70.6h-2M114.9 74.8v1.8M108.8 69.5h-2M115.9 74.8v1.8M108.8 68.6h-2M116.7 74.8v1.8M108.8 67.9h-2M117.4 74.8v1.8M108.8 67.3h-2M118 74.8v1.8M108.8 66.8h-2M118.5 74.8v1.8M108.8 66.4h-2M122.1 74.8v1.8M108.8 63.3h-2M123.9 74.8v1.8M108.8 61.8h-2M125.2 74.8v1.8M108.8 60.7h-2M126.1 74.8v1.8M108.8 59.8h-2M127 74.8v1.8M108.8 59.1h-2M127.6 74.8v1.8M108.8 58.5h-2M128.2 74.8v1.8M108.8 58h-2M128.8 74.8v1.8M108.8 57.5h-2M132.3 74.8v1.8M108.8 54.5h-2M134.1 74.8v1.8M108.8 52.9h-2M135.4 74.8v1.8M108.8 51.8h-2M136.4 74.8v1.8M108.8 51h-2M137.2 74.8v1.8M108.8 50.3h-2M137.9 74.8v1.8M108.8 49.7h-2M138.4 74.8v1.8M108.8 49.2h-2M139 74.8v1.8M108.8 48.7h-2M142.5 74.8v1.8M108.8 45.6h-2M144.3 74.8v1.8M108.8 44.1h-2M145.6 74.8v1.8M108.8 43h-2M146.6 74.8v1.8M108.8 42.1h-2M147.4 74.8v1.8M108.8 41.4h-2M148.1 74.8v1.8M108.8 40.8h-2M148.7 74.8v1.8M108.8 40.3h-2M149.2 74.8v1.8M108.8 39.9h-2M152.7 74.8v1.8M108.8 36.8h-2M154.5 74.8v1.8M108.8 35.3h-2M155.8 74.8v1.8M108.8 34.2h-2M156.8 74.8v1.8M108.8 33.3h-2M157.6 74.8v1.8M108.8 32.6h-2M158.3 74.8v1.8M108.8 32h-2M158.9 74.8v1.8M108.8 31.5h-2M159.4 74.8v1.8M108.8 31h-2M162.9 74.8v1.8M108.8 28h-2M164.7 74.8v1.8M108.8 26.4h-2M166 74.8v1.8M108.8 25.3h-2M167 74.8v1.8M108.8 24.5h-2M167.8 74.8v1.8M108.8 23.8h-2M168.5 74.8v1.8M108.8 23.2h-2M169.1 74.8v1.8M108.8 22.7h-2M169.6 74.8v1.8M108.8 22.2h-2" stroke="#2020c8" stroke-width=".55"/>
<line x1="106.4" y1="74.8" x2="108.8" y2="74.8" stroke="#2222cc" stroke-width="0.65"/>
<text x="106" y="75.2" font-size="2.7" fill="#3333cc" text-anchor="end" transform="rotate(-55 106 75.2)">10<tspan font-size="2" dy="-1">0</tspan></text>
<line x1="108.8" y1="74.8" x2="108.8" y2="77.2" stroke="#2222cc" stroke-width="0.65"/>
<text x="109.8" y="79.8" font-size="2.7" fill="#3333cc" text-anchor="middle" transform="rotate(-35 109.8 79.8)">10<tspan font-size="2" dy="-1">0</tspan></text>
<line x1="106.4" y1="66" x2="108.8" y2="66" stroke="#2222cc" stroke-width="0.65"/>
<text x="106" y="66.4" font-size="2.7" fill="#3333cc" text-anchor="end" transform="rotate(-55 106 66.4)">10<tspan font-size="2" dy="-1">1</tspan></text>
<line x1="119" y1="74.8" x2="119" y2="77.2" stroke="#2222cc" stroke-width="0.65"/>
<text x="120" y="79.8" font-size="2.7" fill="#3333cc" text-anchor="middle" transform="rotate(-35 120 79.8)">10<tspan font-size="2" dy="-1">1</tspan></text>
<line x1="106.4" y1="57.1" x2="108.8" y2="57.1" stroke="#2222cc" stroke-width="0.65"/>
<text x="106" y="57.5" font-size="2.7" fill="#3333cc" text-anchor="end" transform="rotate(-55 106 57.5)">10<tspan font-size="2" dy="-1">2</tspan></text>
<line x1="129.2" y1="74.8" x2="129.2" y2="77.2" stroke="#2222cc" stroke-width="0.65"/>
<text x="130.2" y="79.8" font-size="2.7" fill="#3333cc" text-anchor="middle" transform="rotate(-35 130.2 79.8)">10<tspan font-size="2" dy="-1">2</tspan></text>
<line x1="106.4" y1="48.3" x2="108.8" y2="48.3" stroke="#2222cc" stroke-width="0.65"/>
<text x="106" y="48.7" font-size="2.7" fill="#3333cc" text-anchor="end" transform="rotate(-55 106 48.7)">10<tspan font-size="2" dy="-1">3</tspan></text>
<line x1="139.4" y1="74.8" x2="139.4" y2="77.2" stroke="#2222cc" stroke-width="0.65"/>
<text x="140.4" y="79.8" font-size="2.7" fill="#3333cc" text-anchor="middle" transform="rotate(-35 140.4 79.8)">10<tspan font-size="2" dy="-1">3</tspan></text>
<line x1="106.4" y1="39.5" x2="108.8" y2="39.5" stroke="#2222cc" stroke-width="0.65"/>
<text x="106" y="39.9" font-size="2.7" fill="#3333cc" text-anchor="end" transform="rotate(-55 106 39.9)">10<tspan font-size="2" dy="-1">4</tspan></text>
<line x1="149.6" y1="74.8" x2="149.6" y2="77.2" stroke="#2222cc" stroke-width="0.65"/>
<text x="150.6" y="79.8" font-size="2.7" fill="#3333cc" text-anchor="middle" transform="rotate(-35 150.6 79.8)">10<tspan font-size="2" dy="-1">4</tspan></text>
<line x1="106.4" y1="30.6" x2="108.8" y2="30.6" stroke="#2222cc" stroke-width="0.65"/>
<text x="106" y="31" font-size="2.7" fill="#3333cc" text-anchor="end" transform="rotate(-55 106 31)">10<tspan font-size="2" dy="-1">5</tspan></text>
<line x1="159.9" y1="74.8" x2="159.9" y2="77.2" stroke="#2222cc" stroke-width="0.65"/>
<text x="160.9" y="79.8" font-size="2.7" fill="#3333cc" text-anchor="middle" transform="rotate(-35 160.9 79.8)">10<tspan font-size="2" dy="-1">5</tspan></text>
<line x1="106.4" y1="21.8" x2="108.8" y2="21.8" stroke="#2222cc" stroke-width="0.65"/>
<text x="106" y="22.2" font-size="2.7" fill="#3333cc" text-anchor="end" transform="rotate(-55 106 22.2)">10<tspan font-size="2" dy="-1">6</tspan></text>
<line x1="170.1" y1="74.8" x2="170.1" y2="77.2" stroke="#2222cc" stroke-width="0.65"/>
<text x="171.1" y="79.8" font-size="2.7" fill="#3333cc" text-anchor="middle" transform="rotate(-35 171.1 79.8)">10<tspan font-size="2" dy="-1">6</tspan></text>
<line x1="138.8" y1="21" x2="138.8" y2="74.8" stroke="#d25a7c" stroke-width="0.65"/>
<line x1="108.8" y1="53.7" x2="171" y2="53.7" stroke="#d25a7c" stroke-width="0.65"/>
<ellipse cx="131.8" cy="59.2" rx="11" ry="6" fill="url(#cl)" opacity=".2" transform="rotate(-20 131.8 59.2)"/>
<path d="M148.8 42.2h0M140.6 51.9h0M142 49.3h0M140.4 51.5h0M143.2 48.3h0M141 51.2h0M143 49.5h0M140.3 50.2h0M143.9 47.9h0M142.2 50.2h0M139.8 52.6h0M142.7 49.7h0M146.2 47h0M144.3 47.6h0M138.9 53.7h0M140 52.6h0M154.7 36.3h0M139.9 52.2h0M144.5 46.6h0M139.2 52.2h0M139 52.6h0M147.4 46.5h0M141.3 50.9h0M138.6 53.2h0M144.2 48.1h0M148.9 43h0M147.2 44.7h0M145 48.3h0M142.6 49.2h0M147.4 43.5h0M139.4 52.5h0M139.7 53.2h0M139.5 52.7h0M141.6 50.4h0M141.9 50.1h0M145.3 46.4h0M144.1 47.9h0M141.9 49.7h0M140.1 52.6h0M149 42.6h0M140 52.3h0M141.4 50h0M141.1 51h0M138.8 53.6h0M140.6 51.4h0M140.7 52.8h0M143.3 49.4h0M140.6 51.4h0M141.6 51.8h0M145.3 47.3h0M143 49.3h0M142.3 50.7h0M149 44.1h0M146 46.2h0M142.2 50.1h0M139.7 52.5h0M142 51.2h0M139.8 52.7h0M141.3 51h0M142.8 49.5h0M143.8 47.4h0M142 50.6h0M143.6 48.7h0M139.1 52.5h0M144.5 46.8h0M142.9 48.5h0M142 50.4h0M140.6 51.3h0M142.9 49.8h0M140.3 51.9h0M142.4 49.4h0M141.2 51h0M142.1 50.1h0M142.2 49.6h0M144.5 47.7h0M139.8 52.7h0M141.4 51h0M144.3 48.4h0M151.4 40h0M151.1 38.9h0M139.6 53.4h0M139.1 53.9h0M143.9 47.2h0M139.5 52.6h0M143.8 48.8h0M140 52.4h0M140.7 51.8h0M139.2 53h0M141.2 51.4h0M139.3 53.5h0M143.7 48.4h0M141.5 51.6h0M141.7 51.9h0M145.6 46.1h0M143.8 48.7h0M140 52.3h0M143.7 48.9h0M139.7 52.9h0M139.9 52h0M148.6 42.9h0M141.5 50.5h0M143 49.1h0M145.6 46.6h0M142 50.6h0M142 49.5h0M143.7 48.6h0M143.3 49.3h0M140.7 52.4h0M142.2 50.3h0M146.8 46.6h0M145.7 46.9h0M141.2 51.8h0M142.9 49.8h0M138.7 53.4h0M140.5 52h0M146.8 46h0M145 45.3h0M139.1 53.3h0M142.4 48.8h0M139.4 52.5h0M142.1 50.7h0M139.7 52.4h0M143.7 48.3h0M146.2 45.2h0M146.1 45.1h0M139.9 52.9h0M142.2 50h0M145.1 47.5h0M143.7 48h0M139.5 52.7h0M149.8 44.8h0M141.8 50.9h0M140.6 51.9h0M148.3 41.5h0M140.1 52.1h0M139.9 52.9h0M141.6 49.9h0M144 48.5h0M143.3 49.4h0M145.6 45.9h0M143.4 49.2h0M139.4 52.7h0M142.5 49.3h0M139.9 52.1h0M146.5 45.4h0M140.9 51.3h0M139.8 52.6h0M145.8 45.1h0M141.4 51.6h0M143.3 48.9h0M140.7 50.3h0M139.9 51.9h0M142.6 49.5h0M138.6 53.2h0M139 52.6h0M140.1 53h0M144.5 48.2h0M144.9 46.9h0M143.8 48.4h0M140.4 50.8h0M143 48h0M149.5 42.5h0M139.2 52.6h0M145.9 45h0M145.8 47.1h0M139 53.2h0M138.7 53.2h0M142.2 51.1h0M143.1 49.8h0M142 50.5h0M143.2 48.7h0M142.8 51h0M139.1 53.4h0M147.3 44.8h0M142.4 48.9h0M145.5 46.7h0M140.8 52h0M139.8 52.6h0M145.7 47h0M142.7 50.5h0M139.5 52.4h0M141.8 49.4h0M140.3 51.9h0M141.3 51.5h0M142.5 49.9h0M144.5 47.7h0M142.9 49.2h0M142.9 49.1h0M147.5 45h0M141.5 51.6h0M144.3 47.9h0M140.3 52h0M140.3 51.7h0M143.1 48.1h0M141.1 50.8h0M139.8 52.5h0M141.5 50.3h0M147.1 44.4h0M140.3 51.4h0M140.1 52.6h0M142 50.4h0M141.4 52.3h0M145.5 47.5h0M142.1 50.6h0M139.6 53h0M141.4 51h0M142.3 50.1h0M146 44.6h0M144.9 47.5h0M142.2 49.8h0M141.6 51h0M141.7 51.4h0M141.9 50.8h0M139.5 52.6h0M140.7 50.9h0M146 47h0M144.4 49h0M143.3 48.5h0M142 48.7h0M138.8 53h0M145.1 45.4h0M138.4 52.8h0M140.8 52.3h0M140.6 51.3h0M141.1 51.5h0M142.7 49.3h0M148.2 43.9h0M144 49.8h0M139.6 52.9h0M141.5 51.3h0M146.3 44.7h0M138.9 53.1h0M141.9 50.3h0M140.8 51.1h0M140.5 52.6h0M141.3 51.5h0M140.5 51.7h0M140.8 51.8h0M139.1 53.9h0M139 53.9h0M139 53.8h0M141.7 50.2h0M144.6 48.5h0M141.2 51.3h0M141.3 50.5h0M139.1 53.1h0M147.1 44.5h0M143.3 49.9h0M142 49.8h0M143.2 49h0M145 47.3h0M142.8 50.5h0M143.3 48.3h0M150.8 39.9h0M147.2 44.5h0M143.3 49.1h0M140.1 52.2h0M151.3 42.7h0M146.8 46.7h0M142.3 48.5h0M142.3 50.2h0M138.9 53.5h0M142.2 50.4h0M140.1 52.6h0M139.6 52.6h0M145 46.8h0M148.2 44.3h0M139.3 53.7h0M141 51.2h0M140.4 52h0M142.6 51h0M140.8 50.9h0M141.9 49.1h0M142.4 50.4h0M140.4 52.2h0M141.3 51.3h0M141.8 50.6h0M143.6 49.2h0M144.2 46.6h0M139.6 52.3h0M141 51.2h0M145.7 47.2h0M140.8 51.3h0M141.7 51h0M143.2 49.3h0M145.6 47.3h0M140.6 51.1h0M142.4 49.9h0M139.3 51.6h0M140.1 53.1h0M140.4 51.1h0M144.4 47.9h0M139.8 52.9h0M144.1 47.4h0M143.5 47.8h0M140 51.8h0M146.3 46.1h0M142 49.2h0M139.8 52.6h0M139.6 53h0M136.7 54.7h0M141.3 54.1h0M141.2 50.8h0M137.5 55.4h0M140.3 54.5h0M137.6 54h0M139.4 52.1h0M137.6 55.7h0M137.5 53.7h0M137.8 54.2h0M137.6 53.9h0M139 53h0M138.3 55.6h0M137.7 55.9h0M139.1 53h0M137.7 52.8h0M138.1 53.1h0M137.4 55.5h0M137.5 55.2h0M139.7 54.1h0M139.7 54.1h0M137.2 55h0M140.1 53.8h0M138.7 53.1h0M136.3 55.1h0M139.3 51.8h0M138.5 54.8h0M138.6 53h0M141.3 51.2h0M139.4 54.2h0M138.5 55h0M137.7 53.7h0M137.4 55.7h0M138.5 53.8h0M137.7 54.6h0M140.3 53.6h0M138.3 54.6h0M135.1 56.1h0M136.9 54.5h0M138 51.7h0M139.6 53.8h0M141.2 50.5h0M140.1 54.3h0M139.1 52.1h0M137.2 53.9h0M139 54.4h0M140.7 52.4h0M140.4 53.4h0M137.8 55.7h0M139.7 52.5h0M137.2 55.6h0M139.1 54.3h0M135.7 56.5h0M142.1 51.9h0M138.1 54.1h0M137.4 53.9h0M137.8 54.7h0M136.8 55.8h0M138 52.9h0M136.8 53.8h0M138.7 54.1h0M137.8 54.9h0M139.7 53.7h0M136.4 55.8h0M135.2 55h0M140.4 53h0M140.7 52.7h0M137.9 54.9h0M138.6 55.7h0M135.5 57.8h0M138.2 55.3h0M139.7 51.9h0M141 52.7h0M137.5 57.5h0M135.9 55h0M139.3 52.2h0M138.7 53.7h0M138.1 56.6h0M140.5 51.9h0M140.6 51.7h0M138.6 53.5h0M136.4 55.8h0M137.4 55.7h0M138.3 53.5h0M140.5 52.4h0M140.7 51.1h0M137.4 54.2h0M138.7 53.6h0M139.7 55.1h0M139.1 52.5h0M138.8 53.3h0M137.9 54.4h0M139 54.4h0M139.9 52.6h0M137.4 55.3h0M138 54.2h0M136.7 55.8h0M136.8 57.5h0M140 53.4h0M137.3 55.6h0M140.1 52.1h0M136.9 55.6h0M136 58h0M138.2 52.6h0M140.2 53.7h0M139.8 53.5h0M140.7 51.9h0M140.3 51.9h0M137.3 54.9h0M137.3 55.8h0M137.7 55.3h0M140 54.6h0M140.5 51.1h0M138.1 54.2h0M138.8 56.1h0M140 52.1h0M136.2 55.7h0M139.5 55h0M137.7 56.8h0M136.7 56.4h0M136.6 55.5h0M135.6 57.9h0M137.8 53.4h0M135.5 57.1h0M137.5 53.2h0M139 53.3h0M136.4 55.2h0M135.6 58.1h0M139.7 52.5h0M136 55.2h0M137.4 54h0M138.3 53.1h0M140.5 53.5h0M137.1 54.4h0M134.4 58.4h0M138.3 52.9h0M139.5 52h0M137.4 56.3h0M137.7 52.1h0M136.6 54.3h0M138.3 54.5h0M137.9 54.8h0M139.4 52.6h0M136.1 55.3h0M140.7 53.9h0M138.4 54.6h0M136.9 54.9h0M139.4 52.4h0M138.7 53.9h0M140.2 52.5h0M132.2 57.7h0M129.5 63.6h0M146.4 47.8h0M139.2 52.6h0M128.5 59.1h0M129.6 58.4h0M129.3 66.6h0M122.8 59.9h0M127.6 61.3h0M124.1 61.8h0M134.2 65.4h0M136.9 56.9h0M134.1 65h0M131.7 56.5h0M128.5 58.9h0M138.2 52.9h0M128.8 60h0M126.8 63.3h0M130.3 61.4h0M136.6 62.8h0M143.9 51.3h0M123.6 57.7h0M136 59.4h0M132.7 58.6h0M143.1 58.2h0M134.4 60.4h0M123.2 66.6h0M146.4 54.2h0M130.3 64.2h0M129.5 60.2h0M136.7 56.6h0M136.7 50h0M116.9 67.3h0M136.3 58.2h0M130.2 59.8h0M135.3 53.5h0M134.2 55.3h0M146.7 54.9h0M134.9 61.7h0M139.4 59.8h0M128.5 60.8h0M138.7 57.3h0M133.4 56.4h0M134.5 63.2h0M124.4 56.7h0M124.3 56.1h0M141.9 62.3h0M136.1 57.8h0M142.3 59.1h0M117.8 64h0M148.9 51.3h0M127.9 58.2h0M143.1 53.3h0M136 62h0M134 58.3h0M125.5 56.8h0M139.5 51.5h0M140.3 60.5h0M142.7 54.4h0M127.3 61.1h0M141.6 57.5h0M135.9 57.1h0M138.2 49.5h0M125.7 67.1h0M136.2 60.1h0M120 60.3h0M130 59.4h0M140.4 53.8h0M133.4 55.8h0M131.5 60.6h0M135.9 61.2h0M124.8 64.5h0M135.5 54.8h0M141.2 53.2h0M130.6 61.5h0M142 53.8h0M142.7 56.6h0M128.1 63.2h0M133 56h0M132.3 63.5h0M135 57h0M137.7 51.8h0M137.6 61.9h0M124.8 57.6h0M127.1 60h0M127.9 60.5h0M126.4 62.1h0M136.7 58.9h0M129.4 63.1h0M122.4 60.1h0M132.8 63.4h0M130.5 61.8h0M144.3 61.8h0M143.9 51.7h0M134.8 59.9h0M137.4 58.9h0M132.1 59.2h0M124.1 64.6h0M134.8 55.9h0M144.6 54.4h0M128.8 62.4h0M136 60h0M132.6 61.7h0M134.1 62.7h0M134.7 55h0M126.4 63.2h0M138.5 51.3h0M136.9 57h0M134.4 55.2h0M125.4 59.3h0M127.4 59.2h0M133.6 58.6h0M144.9 50.8h0M130 60.1h0M136.6 53.6h0M123.6 63.1h0M135.6 59.9h0M136.5 51.7h0M139.8 55.7h0M146.4 52.3h0M118.7 63.5h0M134.2 59.4h0M134.1 56.3h0M121.9 62.1h0M130.6 57.2h0M133.1 57.5h0M119.4 60.6h0M127.3 59.8h0M143.5 54.7h0M135.7 50h0M140.6 53.9h0M136 53.6h0M132.9 61.7h0M132.8 59.6h0M127.6 58h0M134.6 57.4h0M133.5 56h0M130.6 62.3h0M141.9 53.9h0M128.7 60.7h0M139 57.5h0M139.9 55.4h0M126 54.4h0M138.5 57.6h0M128.8 61.5h0M125.7 65.1h0M140 60.3h0M130.5 64.8h0M138.8 62.3h0M122.1 66.1h0M141.3 54.6h0M139.1 56.8h0M142.3 54.4h0M132.8 54.5h0M146 50.9h0M125.7 58.1h0M133.5 58.7h0M136.3 63.1h0M138.8 51.2h0M134 57.7h0M137.9 57.3h0M141.6 56h0M145.3 50.7h0M140.8 59.2h0M127.7 55.8h0M128.8 61.6h0M143.2 49.6h0M130.6 54.9h0M138.1 57.4h0M133.4 61.3h0M135.4 63.2h0M130.8 57.3h0M133 58.6h0M141.1 54.3h0M129.3 57.6h0M127.2 53.6h0M134 60.2h0M133.7 55.6h0M139.2 59h0M134.8 60.3h0M132.4 60.4h0M136 53.2h0M129.4 57.4h0M134.6 48.7h0M134.8 58h0M131.9 60.5h0M123.3 63.1h0M127.8 58.4h0M141.7 54.2h0M139.8 56h0M130.8 58.1h0M123.3 61h0M134.3 63.3h0M138.1 59.8h0M126.6 58.3h0M135.5 59.7h0M126.3 64.9h0M128.8 61.2h0M130.1 62.4h0M138.9 60.2h0M127.1 61.4h0M147.5 53.4h0M136 58h0M130.2 66h0M142.9 52.5h0M136.9 64.1h0M136 57.9h0M139.6 59.3h0M124.8 58.8h0M143.1 52.9h0M132.4 56.5h0M145 49.7h0M134 56.9h0M130.6 55.1h0M127.6 59.9h0M133.9 51.6h0M133.2 55.4h0M132.4 57.3h0M132 58.1h0M135.9 57.6h0M121 54.3h0M123.5 63.2h0M121.5 59.2h0M144.7 53h0M131.7 60.4h0M136.8 55.3h0M132.8 51.2h0M135.2 60h0M121.8 66.1h0M144.4 45h0M132 64.2h0M137.1 54.5h0M128.6 58.9h0M137 54h0M123.2 62.7h0M128.3 66.6h0M126.1 62.2h0M130.8 54h0M128.7 52.8h0M134.9 54.4h0M124 56.1h0M142.1 57.1h0M126.1 60.5h0M137 59.2h0M132.1 51.2h0M143.9 54.1h0M141.4 50.8h0M138.5 61.5h0M139.9 51.5h0M131.6 64.8h0M127.6 63.2h0M131.1 53.8h0M139.4 60.3h0M137.1 58h0M138.7 49.2h0M133.1 64.9h0M136.4 61.4h0M131.3 60.5h0M125.3 63.4h0M134.5 56.7h0M132.7 59.1h0M134.4 60.9h0M138.7 48.5h0M134.9 62.1h0M125.1 60.9h0M148.3 50.7h0M139.5 57.1h0M123.2 61.3h0M120.6 61.9h0M139.1 58.8h0M134.6 56h0M137.5 61.6h0M138.3 60.4h0M136 59.2h0M127.5 66.3h0M125.5 58.1h0M127.9 57.8h0M141.6 54.7h0M131 58.4h0M133.3 63.5h0M142.6 53.5h0M144.4 56.7h0M135.4 62.6h0M133.8 59.6h0M133.5 54.2h0M124.2 58.3h0M126.9 58.7h0M129.6 64h0M133.2 61.5h0M134.8 54.8h0M130.4 54h0M121.5 64.3h0M132.6 59.1h0M138.7 51.5h0M130.9 51h0M127.1 62.9h0M122.1 57.7h0M131.2 65.5h0M137.6 56.2h0M136.8 57.5h0M129.8 57.8h0M135.5 57.2h0M137.5 54.8h0M137.9 55.2h0M140.8 59.4h0M128.8 68.6h0M134.8 55.4h0M124.4 62.1h0M133.3 55.6h0M125.3 59.7h0M125.4 58.9h0M127 62.4h0M116.6 72h0M129.7 59.6h0M124.3 65.8h0M131.5 57.8h0M126.8 63h0M135.5 55.3h0M143 51.5h0M140.6 56.4h0M123.5 61h0M136 55.9h0M133.2 58.1h0M135.1 55.3h0M144.9 55.4h0M142.3 54.2h0M133.6 54.7h0M133.5 64h0M134.4 55.3h0M129.3 62.1h0M132.3 66.3h0M134.2 58.2h0M138.1 62.7h0M122.4 59.8h0M127.4 53.3h0M131.6 58.7h0M138.5 58.9h0M137.2 59.2h0M130.9 70h0M142.4 53.9h0M126.9 62.7h0M139.6 58h0M138.2 60.3h0M135.2 54.4h0M128.9 53.6h0M138.6 54.5h0M134.7 65.8h0M127.5 60.7h0M126.8 54.1h0M139.2 56h0M132.6 61.6h0M131.6 61.6h0M140.8 53.2h0M135.7 58.2h0M140.6 64.8h0M126.7 66.6h0M133.7 60.8h0M135.2 57.3h0M124.6 61.7h0M127.5 66h0M135.5 55.6h0M130.7 63.5h0M123.5 62.8h0M133.4 55.1h0M140.8 61.2h0M110.7 60.4h0M127.3 54.9h0M138.8 64.5h0M127 57.3h0M114.2 57.1h0M131 66.5h0M132.4 51.4h0M135.5 66.8h0M132.3 62.8h0M138 72.9h0M129.1 60.7h0M127.7 69.2h0M132.1 68.6h0M120 64.6h0M117.6 64h0M110.3 63h0M133.8 71.7h0M125.8 70.9h0M116.4 51h0M128.1 58.6h0M122.8 64.5h0M134.7 70.6h0M120.5 64.2h0M130.6 66.5h0M129.1 61.4h0M136.5 51.2h0M135.7 54.6h0M115.8 66.2h0M124.8 58.6h0M112.4 51.9h0M118.6 52.9h0M132.8 55.3h0M122.4 60.4h0M133.1 69.6h0M130.6 55.7h0M114.3 63.6h0M121.9 67.4h0M116.9 66.7h0M121.6 57.2h0M115.8 68.1h0M126.4 63.3h0" stroke="#222" stroke-width=".4" stroke-linecap="round" opacity=".32" fill="none"/>
<ellipse cx="141.7" cy="50.6" rx="8.4" ry=".85" fill="url(#cg)" transform="rotate(-47 141.7 50.6)"/>
<ellipse cx="139.3" cy="53.1" rx="3.2" ry="1.15" fill="url(#cg)" opacity=".85" transform="rotate(-47 139.3 53.1)"/>
<ellipse cx="138.8" cy="53.7" rx="2.2" ry=".9" fill="#b01030" opacity=".5" transform="rotate(-47 138.8 53.7)"/>
<text x="110" y="24.4" font-size="3.9" fill="#c23a5e">Q1-UL</text>
<text x="110" y="27.6" font-size="3.9" fill="#c23a5e">0.0%</text>
<text x="170.2" y="24.4" font-size="3.9" fill="#c23a5e" text-anchor="end">Q1-UR</text>
<text x="170.2" y="27.6" font-size="3.9" fill="#c23a5e" text-anchor="end">21.6%</text>
<text x="110" y="70.8" font-size="3.9" fill="#c23a5e">Q1-LL</text>
<text x="110" y="73.9" font-size="3.9" fill="#c23a5e">63.4%</text>
<text x="170.2" y="70.8" font-size="3.9" fill="#c23a5e" text-anchor="end">Q1-LR</text>
<text x="170.2" y="73.9" font-size="3.9" fill="#c23a5e" text-anchor="end">15.0%</text>
<text x="137.8" y="50.7" font-size="3.9" fill="#c23a5e" text-anchor="end">Q1</text>
<text x="138.9" y="83" font-size="3.3" fill="#333" text-anchor="middle" letter-spacing=".15">TREM2-A</text>
<text x="100.2" y="52.7" font-size="3.2" fill="#333" text-anchor="middle" transform="rotate(-90 100.2 52.7)">pTau-A</text>
<text x="221.6" y="17.7" font-size="7.5" fill="#1ea7e0" font-weight="bold" text-anchor="middle" textLength="27.4" lengthAdjust="spacingAndGlyphs">WT HFD</text>
<rect x="191" y="20.6" width="62.6" height="54.2" fill="#fff" stroke="#8d8de0" stroke-width=".6"/>
<line x1="191" y1="20.6" x2="191" y2="74.8" stroke="#2626cc" stroke-width="0.8"/>
<line x1="191" y1="74.8" x2="253.6" y2="74.8" stroke="#2626cc" stroke-width="0.8"/>
<path d="M194.1 74.8v1.8M191 72.1h-2M195.9 74.8v1.8M191 70.6h-2M197.2 74.8v1.8M191 69.4h-2M198.2 74.8v1.8M191 68.6h-2M199 74.8v1.8M191 67.9h-2M199.7 74.8v1.8M191 67.3h-2M200.3 74.8v1.8M191 66.8h-2M200.8 74.8v1.8M191 66.3h-2M204.4 74.8v1.8M191 63.2h-2M206.2 74.8v1.8M191 61.7h-2M207.5 74.8v1.8M191 60.5h-2M208.5 74.8v1.8M191 59.7h-2M209.3 74.8v1.8M191 59h-2M210 74.8v1.8M191 58.4h-2M210.6 74.8v1.8M191 57.9h-2M211.1 74.8v1.8M191 57.4h-2M214.6 74.8v1.8M191 54.3h-2M216.5 74.8v1.8M191 52.8h-2M217.7 74.8v1.8M191 51.6h-2M218.7 74.8v1.8M191 50.8h-2M219.6 74.8v1.8M191 50.1h-2M220.2 74.8v1.8M191 49.5h-2M220.8 74.8v1.8M191 49h-2M221.4 74.8v1.8M191 48.5h-2M224.9 74.8v1.8M191 45.4h-2M226.7 74.8v1.8M191 43.9h-2M228 74.8v1.8M191 42.7h-2M229 74.8v1.8M191 41.9h-2M229.8 74.8v1.8M191 41.2h-2M230.5 74.8v1.8M191 40.6h-2M231.1 74.8v1.8M191 40.1h-2M231.6 74.8v1.8M191 39.6h-2M235.2 74.8v1.8M191 36.5h-2M237 74.8v1.8M191 35h-2M238.3 74.8v1.8M191 33.9h-2M239.3 74.8v1.8M191 33h-2M240.1 74.8v1.8M191 32.3h-2M240.8 74.8v1.8M191 31.7h-2M241.4 74.8v1.8M191 31.2h-2M241.9 74.8v1.8M191 30.7h-2M245.5 74.8v1.8M191 27.6h-2M247.3 74.8v1.8M191 26.1h-2M248.6 74.8v1.8M191 25h-2M249.6 74.8v1.8M191 24.1h-2M250.4 74.8v1.8M191 23.4h-2M251.1 74.8v1.8M191 22.8h-2M251.7 74.8v1.8M191 22.3h-2M252.2 74.8v1.8M191 21.8h-2" stroke="#2020c8" stroke-width=".55"/>
<line x1="188.6" y1="74.8" x2="191" y2="74.8" stroke="#2222cc" stroke-width="0.65"/>
<text x="188.2" y="75.2" font-size="2.7" fill="#3333cc" text-anchor="end" transform="rotate(-55 188.2 75.2)">10<tspan font-size="2" dy="-1">0</tspan></text>
<line x1="191" y1="74.8" x2="191" y2="77.2" stroke="#2222cc" stroke-width="0.65"/>
<text x="192" y="79.8" font-size="2.7" fill="#3333cc" text-anchor="middle" transform="rotate(-35 192 79.8)">10<tspan font-size="2" dy="-1">0</tspan></text>
<line x1="188.6" y1="65.9" x2="191" y2="65.9" stroke="#2222cc" stroke-width="0.65"/>
<text x="188.2" y="66.3" font-size="2.7" fill="#3333cc" text-anchor="end" transform="rotate(-55 188.2 66.3)">10<tspan font-size="2" dy="-1">1</tspan></text>
<line x1="201.3" y1="74.8" x2="201.3" y2="77.2" stroke="#2222cc" stroke-width="0.65"/>
<text x="202.3" y="79.8" font-size="2.7" fill="#3333cc" text-anchor="middle" transform="rotate(-35 202.3 79.8)">10<tspan font-size="2" dy="-1">1</tspan></text>
<line x1="188.6" y1="57" x2="191" y2="57" stroke="#2222cc" stroke-width="0.65"/>
<text x="188.2" y="57.4" font-size="2.7" fill="#3333cc" text-anchor="end" transform="rotate(-55 188.2 57.4)">10<tspan font-size="2" dy="-1">2</tspan></text>
<line x1="211.6" y1="74.8" x2="211.6" y2="77.2" stroke="#2222cc" stroke-width="0.65"/>
<text x="212.6" y="79.8" font-size="2.7" fill="#3333cc" text-anchor="middle" transform="rotate(-35 212.6 79.8)">10<tspan font-size="2" dy="-1">2</tspan></text>
<line x1="188.6" y1="48.1" x2="191" y2="48.1" stroke="#2222cc" stroke-width="0.65"/>
<text x="188.2" y="48.5" font-size="2.7" fill="#3333cc" text-anchor="end" transform="rotate(-55 188.2 48.5)">10<tspan font-size="2" dy="-1">3</tspan></text>
<line x1="221.8" y1="74.8" x2="221.8" y2="77.2" stroke="#2222cc" stroke-width="0.65"/>
<text x="222.8" y="79.8" font-size="2.7" fill="#3333cc" text-anchor="middle" transform="rotate(-35 222.8 79.8)">10<tspan font-size="2" dy="-1">3</tspan></text>
<line x1="188.6" y1="39.2" x2="191" y2="39.2" stroke="#2222cc" stroke-width="0.65"/>
<text x="188.2" y="39.6" font-size="2.7" fill="#3333cc" text-anchor="end" transform="rotate(-55 188.2 39.6)">10<tspan font-size="2" dy="-1">4</tspan></text>
<line x1="232.1" y1="74.8" x2="232.1" y2="77.2" stroke="#2222cc" stroke-width="0.65"/>
<text x="233.1" y="79.8" font-size="2.7" fill="#3333cc" text-anchor="middle" transform="rotate(-35 233.1 79.8)">10<tspan font-size="2" dy="-1">4</tspan></text>
<line x1="188.6" y1="30.3" x2="191" y2="30.3" stroke="#2222cc" stroke-width="0.65"/>
<text x="188.2" y="30.7" font-size="2.7" fill="#3333cc" text-anchor="end" transform="rotate(-55 188.2 30.7)">10<tspan font-size="2" dy="-1">5</tspan></text>
<line x1="242.4" y1="74.8" x2="242.4" y2="77.2" stroke="#2222cc" stroke-width="0.65"/>
<text x="243.4" y="79.8" font-size="2.7" fill="#3333cc" text-anchor="middle" transform="rotate(-35 243.4 79.8)">10<tspan font-size="2" dy="-1">5</tspan></text>
<line x1="188.6" y1="21.4" x2="191" y2="21.4" stroke="#2222cc" stroke-width="0.65"/>
<text x="188.2" y="21.8" font-size="2.7" fill="#3333cc" text-anchor="end" transform="rotate(-55 188.2 21.8)">10<tspan font-size="2" dy="-1">6</tspan></text>
<line x1="252.7" y1="74.8" x2="252.7" y2="77.2" stroke="#2222cc" stroke-width="0.65"/>
<text x="253.7" y="79.8" font-size="2.7" fill="#3333cc" text-anchor="middle" transform="rotate(-35 253.7 79.8)">10<tspan font-size="2" dy="-1">6</tspan></text>
<line x1="220.8" y1="20.6" x2="220.8" y2="74.8" stroke="#d25a7c" stroke-width="0.65"/>
<line x1="191" y1="53.3" x2="253.6" y2="53.3" stroke="#d25a7c" stroke-width="0.65"/>
<ellipse cx="213.8" cy="58.8" rx="11" ry="6" fill="url(#cl)" opacity=".3" transform="rotate(-20 213.8 58.8)"/>
<path d="M221.5 53.2h0M225.6 49.6h0M222 52.1h0M230 45.1h0M221.2 53.3h0M226.2 48.4h0M223.4 50.4h0M222.5 51.6h0M226.7 46.9h0M228.6 46.1h0M221.6 52.5h0M220.9 52.7h0M221.2 53h0M224.2 49.8h0M222.2 51h0M222.6 50.5h0M228.1 47.6h0M231.8 44.2h0M222.3 51.8h0M223.2 51.5h0M225.8 48.7h0M223.5 50.5h0M225.6 49h0M224.9 50.2h0M229.3 44.6h0M224.7 48.4h0M228.9 43.8h0M222 51.9h0M228 45.2h0M225.7 48.4h0M221.4 52.5h0M223.6 50.2h0M221.3 53h0M228.6 44.1h0M228.5 47.1h0M223.2 51.3h0M223.5 51.8h0M221.8 52.3h0M221.9 52.3h0M221.5 52.3h0M229.8 43.4h0M238.1 37.5h0M221.6 52.8h0M221.8 52.4h0M222.6 52.1h0M222.9 51.2h0M230.4 45.1h0M226.3 49.9h0M224.4 49.7h0M226.6 48.3h0M224.5 49.3h0M226.9 47.5h0M226 48.3h0M228.1 47.3h0M221.3 53.2h0M226.5 48h0M221.5 52.7h0M226.5 48.6h0M227.5 47.4h0M221.9 52.2h0M224.3 49.6h0M222.5 51.3h0M222.5 50.9h0M222.5 51.8h0M225.6 47.4h0M221.1 53.5h0M224.2 50h0M223.7 51h0M225.5 49.7h0M222.5 52.2h0M220.9 53.1h0M227.7 46.6h0M222.2 52.3h0M221.8 52.1h0M223 51.8h0M221.4 52.5h0M222.9 51.8h0M223.1 50.7h0M222.5 51.5h0M224.8 50.4h0M224.5 49.5h0M221.3 53.1h0M223.9 50.5h0M223.5 49.8h0M222.6 52.1h0M222.9 50.7h0M222.1 51.7h0M223.7 51h0M221.7 52.2h0M223.9 51h0M225.3 49.6h0M223.2 51h0M232.4 42.9h0M230.2 42.9h0M232.1 44.1h0M223.8 50.4h0M220.7 52.6h0M223.5 50.2h0M222.1 52.6h0M221.1 53.2h0M224 50.1h0M221.3 52.7h0M226.6 47.4h0M229.5 44.6h0M225.7 48.4h0M228.8 46.2h0M222.9 51.8h0M223.6 50.2h0M231.2 45.1h0M224 50.1h0M221.4 53.6h0M229.3 45.9h0M222.8 51.7h0M229.3 45.3h0M225.3 50.2h0M228.2 46h0M221 53h0M226.9 46.7h0M224.5 50.1h0M221.8 53h0M225.8 49.1h0M220.8 53.2h0M223.2 51.2h0M222.2 52.2h0M230 44.7h0M225.9 49.1h0M222.7 52h0M225.3 50h0M224.6 49.6h0M222.6 52.1h0M225.5 49.7h0M221.6 52.2h0M223.5 51h0M225.7 49.5h0M221.5 52.2h0M222.6 51h0M225.2 49.6h0M228.3 46.5h0M227.6 47.7h0M224.4 50.2h0M227.9 46.6h0M225.5 49.3h0M230.1 45.8h0M225 49.3h0M227.2 46.7h0M221.4 53.2h0M227.6 48.1h0M225.5 47.9h0M222.3 51.2h0M221.2 52.4h0M226.2 49h0M223.5 50.9h0M221 53h0M222.7 51.7h0M222.9 51.2h0M230.1 45.2h0M228 47.8h0M224.5 48.9h0M226.7 47.7h0M221.1 52.9h0M221.2 52.4h0M221.2 52.7h0M220.4 52.7h0M224.9 49.8h0M228.8 45.4h0M221.1 53.3h0M221.1 53.6h0M220.7 53h0M224.3 50.6h0M224 50.9h0M225.9 49.1h0M225.7 48.8h0M220.7 53.1h0M223.3 50.2h0M223.2 50.6h0M227.8 47.2h0M222.9 51.2h0M227.8 47.7h0M225.6 48.5h0M228.2 47.1h0M222.5 52.2h0M223.1 51.8h0M222.4 52.2h0M224.4 48.6h0M223.3 51.8h0M229.3 46.5h0M224 50.2h0M221.1 53.2h0M225.5 49.1h0M223.2 51.6h0M224.9 50.5h0M231.1 46.2h0M227.3 47.5h0M229.9 45.4h0M223.2 50.5h0M228.5 46.5h0M223.6 50.3h0M221.5 51.5h0M224.3 50.3h0M221.9 53h0M225.5 47.5h0M222.8 51.2h0M222.4 52.2h0M224.1 51.1h0M226.7 46.7h0M221.5 53.5h0M223 51.8h0M221 53h0M228.9 46.9h0M222.2 52.5h0M226.9 47.3h0M225.2 49.4h0M226.1 48.8h0M222.7 52.2h0M225.3 49h0M223.1 51.2h0M222.2 52.7h0M229 47h0M222.6 51.6h0M225.1 49.2h0M221.6 51.8h0M223.2 51.9h0M225.3 48.3h0M222 53h0M227.7 46.8h0M223.1 51.2h0M225.3 49.3h0M221.9 51.6h0M223.5 50.7h0M224.6 49.2h0M225.8 50h0M222.1 51.9h0M223.2 51h0M225 50.4h0M225.6 48.5h0M223.8 50.1h0M222.1 52.4h0M228 47.3h0M220.7 52.9h0M220.9 52.8h0M221.5 53.1h0M221.7 52.4h0M224.4 50h0M221.1 52.6h0M223.5 51.4h0M228.6 45.9h0M227 48.8h0M223.9 50.8h0M222.8 51.7h0M221.8 51.6h0M222.2 52.3h0M228 47.4h0M223.6 49.9h0M223 51.2h0M223.5 51.1h0M226.9 47.7h0M222.1 52.5h0M221 53h0M223.6 49.7h0M225.2 49.1h0M226.7 47.7h0M228.8 44.3h0M222.2 51.7h0M224.1 49.8h0M226.7 47.3h0M229.1 45.9h0M223.5 50.3h0M226.1 48.5h0M223.2 51.8h0M226.4 48.4h0M223.7 50.2h0M231.5 42.7h0M222.7 51.4h0M222.2 51.3h0M225.2 49.5h0M221.1 53.2h0M231.3 43.3h0M225.7 50h0M221.6 52.4h0M224.6 49.2h0M227.4 46.8h0M220.9 52.8h0M224 49h0M223.9 50h0M220.8 52.8h0M221.9 52.4h0M223.7 50.8h0M224.1 50.9h0M222.4 51.3h0M227.2 48h0M222.9 52h0M220.8 52.9h0M225.8 50.1h0M221.5 52.3h0M225.2 49.9h0M223.5 50.6h0M224.1 50.3h0M221.2 52.7h0M223.9 50.6h0M221.7 52.8h0M219.9 54.5h0M221.2 53.1h0M221.9 53.5h0M220.8 53.4h0M219.2 55.2h0M220.1 53.6h0M219.5 55.1h0M224.5 50.5h0M220.8 53.8h0M219.6 54.5h0M219.1 54.1h0M220.9 53.5h0M219.8 53.3h0M220.2 52.6h0M221.4 52.4h0M220.9 54.2h0M220.5 52h0M220.3 54.2h0M217.4 53.5h0M220.3 53.7h0M221.1 53.1h0M220.8 53.6h0M222.8 52.1h0M221 52.6h0M222 52h0M220.3 51.2h0M220.7 53.2h0M220.5 55.1h0M220.9 53h0M220.8 55.6h0M221.9 53.1h0M220.1 55.5h0M221.1 52.7h0M219.3 52.7h0M220.7 52h0M221.4 52.2h0M219.7 54.7h0M220.1 52.6h0M220.7 54.1h0M219.2 53.1h0M219.5 53.3h0M219.6 54.4h0M220.2 53.6h0M218.2 56.1h0M219.9 53.6h0M221.8 54.7h0M217.6 54.3h0M221.1 52.1h0M221.8 51.2h0M220.2 54.8h0M222 52.7h0M221 52.9h0M219.7 54.1h0M222.7 52.4h0M220.6 53.8h0M222.4 53.3h0M220.2 53.8h0M222.5 54.9h0M221.5 54.2h0M218.7 56.2h0M217.7 54.8h0M219.4 54.4h0M220.9 53.6h0M220.5 53h0M224.5 50.4h0M222.6 54.1h0M222.2 52.7h0M222 54.4h0M218.3 54.4h0M219.4 52.1h0M220 55.4h0M219.8 54.4h0M220.8 51.9h0M220.5 52.9h0M218.7 54.9h0M220.1 53.4h0M220 55.1h0M222.5 52.5h0M219.7 53.1h0M218.6 54h0M221.3 54h0M221.8 52.4h0M220 54.3h0M221 53.9h0M222.2 51.2h0M222.3 49.5h0M216.9 55h0M218.8 54.8h0M223.1 50.4h0M221.8 51.9h0M220 52.8h0M223.7 50.6h0M220.9 56h0M220.9 53.7h0M219.7 53.3h0M218.2 55.4h0M223.1 51.8h0M220.8 54.6h0M219.9 55.8h0M219.9 53.1h0M221.7 53.1h0M220.1 54.2h0M222.7 53.3h0M217.6 53h0M223.3 50.7h0M220.1 54.5h0M220.4 54.9h0M218.5 55.1h0M219.5 56.3h0M220.7 54.7h0M221.8 51h0M220.5 54.4h0M220.4 53.5h0M222.2 53.1h0M219.5 54.3h0M221.5 52.9h0M220 52.7h0M222.9 51.2h0M220.8 53.3h0M220.6 53.6h0M219.4 55h0M222.4 52.3h0M221.8 53h0M221.6 54.8h0M219.7 54.8h0M222.1 52.5h0M218.2 54.3h0M222.2 50.9h0M220.8 54h0M219.5 52.3h0M217.6 56.1h0M219.1 54.5h0M220.7 53.6h0M217.5 54.3h0M221.4 52h0M217.5 53.9h0M220.5 52.1h0M219.3 55.4h0M221.2 53.6h0M216.8 53.4h0M218.8 54.7h0M220 55.1h0M220.3 52.5h0M221.2 52.8h0M220.4 55h0M218.6 56.5h0M220.8 50.8h0M220 53.8h0M218.4 54.8h0M219.3 54.8h0M210.3 52h0M223 58.6h0M209.6 63.5h0M227.6 47.8h0M211.9 57.4h0M218.4 55.9h0M206 66.2h0M212.9 61.7h0M229.7 50h0M212.4 62.6h0M214.3 60.4h0M215.8 68.4h0M219.1 58h0M215.8 59.4h0M203.9 61.3h0M219.3 52.2h0M215.1 57.9h0M212.3 68.5h0M219.7 57.7h0M209.6 60.5h0M212.8 58.7h0M217.2 66.8h0M224.3 61.2h0M225 65.1h0M210 55.3h0M216.3 58.7h0M214.8 56h0M220 62.8h0M216.2 56.9h0M222.7 54.3h0M212.6 60.3h0M200.3 70.7h0M214.3 60.4h0M217.1 59h0M206.6 68h0M218.8 58h0M235.3 46h0M219.7 56.1h0M205.5 69h0M204.5 62.6h0M214.3 59.2h0M209.1 65.5h0M216.1 53.1h0M206.8 62.3h0M207.3 62.7h0M216.8 55.4h0M201.5 58.4h0M217 55.6h0M227 52.2h0M217.6 59.8h0M215.6 59.2h0M221.5 55.3h0M217 56.2h0M228.2 54h0M219.3 45.5h0M211.2 55.4h0M214.9 56.6h0M207.8 59.9h0M220.6 60.2h0M211.7 63.4h0M210.9 62.1h0M209.5 64.2h0M230.2 51.6h0M222.5 50.1h0M211.6 69.4h0M214.6 60.3h0M204 62.2h0M210.1 64.6h0M212.2 68.8h0M207.7 62.2h0M201.4 61.8h0M222.9 54.9h0M206.4 63.3h0M221.3 57.6h0M220.9 50.8h0M227.2 56.4h0M201.5 70.2h0M211.9 61.3h0M201.4 60.9h0M203 65.8h0M213 55.5h0M212.7 63.3h0M209.8 62.3h0M206.3 55.2h0M211.5 58.5h0M216.3 61.3h0M211.9 58h0M220.1 58h0M214.6 59.3h0M200.1 61.7h0M204.1 61h0M220.2 50h0M220.7 54h0M213.2 57.1h0M219.3 54.2h0M201.1 64.6h0M214 60.9h0M218.4 52.5h0M216.2 58.2h0M214.4 58.8h0M216.7 55.5h0M214.2 62.2h0M207.7 60.6h0M207.7 57h0M212.1 60h0M224.8 53.9h0M221.2 58h0M214.1 47h0M215.7 58.2h0M207.9 61.3h0M224.2 50.5h0M211.7 62.8h0M202.4 59h0M217.1 61h0M223.2 58h0M230.3 54h0M206.1 60.8h0M219.1 58.1h0M202.1 64.4h0M209.4 59.5h0M224.5 54.1h0M210.4 59.5h0M211.3 67.2h0M220.6 59.6h0M210 57.7h0M215.7 49.8h0M221.1 51.2h0M215.6 59.3h0M209.7 61.5h0M220.1 63.4h0M218.1 63.9h0M217.8 56.5h0M220.3 54.3h0M216 60.2h0M222.5 56.5h0M205.6 66.5h0M215.8 56.8h0M209.6 62.4h0M217.3 59.9h0M214.5 64.1h0M213.2 60.4h0M216.5 61.6h0M210.1 58.9h0M213.1 56.4h0M210 55.6h0M220.3 61.8h0M208.6 63.5h0M206.9 58.2h0M212.7 59.5h0M217.1 50.2h0M206.1 61.8h0M213.9 66.6h0M212.7 56.6h0M221.8 45.8h0M203.4 72.6h0M210.7 60.1h0M213.2 55.6h0M213.4 53.9h0M221.4 58.7h0M219 53.3h0M201.8 61.3h0M207.6 62.4h0M203.7 58.9h0M215.8 59.5h0M214.9 53.5h0M211 67.2h0M220.7 53h0M227.4 53.2h0M214.4 55.3h0M224.8 55h0M213.9 55.2h0M206.3 62.1h0M215.4 63.9h0M208.6 59.2h0M221.6 58.8h0M210.8 65.2h0M218.2 60.3h0M217.4 60.9h0M211.9 58.5h0M222.1 57h0M217.6 61.5h0M216.5 59.2h0M200 61.8h0M219.9 53.1h0M212.9 59.8h0M214.2 61.7h0M217.8 56.5h0M221.8 54.3h0M210.2 61.2h0M218.9 56.2h0M207.4 59.1h0M216.5 60.2h0M226.5 53.4h0M212.5 51.1h0M223.6 58.4h0M214.6 55.7h0M197.7 67.3h0M210.1 65.6h0M220.3 61.1h0M214.3 62.9h0M206 67h0M214.1 54.1h0M211.7 55.8h0M216.3 55h0M206.2 60.1h0M213.3 59.6h0M219.8 61.1h0M218.1 63.2h0M198.3 64.1h0M220.5 51.3h0M213.5 59.6h0M204.3 60h0M218.6 55.7h0M225.8 63h0M213.9 54.4h0M214.3 56.4h0M205.1 60.3h0M211.5 58.2h0M221.3 59.9h0M217.4 56h0M217.6 57.3h0M215.9 54.3h0M194.7 69h0M210.6 58h0M214.7 58.1h0M213.3 64.5h0M215.7 58.8h0M208.9 60.1h0M217.8 56.9h0M216.6 54.1h0M216.9 53.7h0M211.6 56.6h0M216.4 61.8h0M216.4 54.5h0M216 61.7h0M219.8 58.3h0M207.1 59.1h0M210.1 58.2h0M216.3 57.9h0M212.7 61.2h0M209.9 58.9h0M215 53.2h0M208.6 55.4h0M207.8 60.3h0M214.1 59.8h0M216.6 53.4h0M227.6 58.6h0M206.5 58.8h0M211.7 60.2h0M218.8 56.8h0M220.7 59.2h0M209.9 60.5h0M220.8 54.3h0M222.3 55.8h0M225.3 54.6h0M224.1 48.9h0M224.5 56.4h0M212.6 63.1h0M213.3 61.9h0M221.4 59.7h0M229.9 57.8h0M231.6 54.7h0M215.9 59.3h0M214.1 54h0M215.3 53.7h0M212.8 57.9h0M210.7 55.8h0M215.5 57.9h0M224.1 57.2h0M220.9 54.3h0M212.3 54.6h0M209.3 63h0M213.5 58.3h0M211.6 65.2h0M214.8 62.5h0M214.9 61.8h0M207.9 55.8h0M222 54.5h0M216.9 60.8h0M219.5 57.6h0M206.7 58.7h0M215.3 60.5h0M218.3 58.4h0M209.7 60.2h0M220.9 52.8h0M211.3 62.9h0M225.4 55.9h0M214.5 54.9h0M213.7 55.8h0M216 60.5h0M218.2 61.8h0M207.6 56.3h0M224.2 58.7h0M208.4 61.1h0M207.7 60.8h0M217.2 61h0M207.9 56.1h0M218.4 55.7h0M223.6 50.8h0M209.5 50.1h0M222.7 60.3h0M217.4 56.2h0M201 58.3h0M212 66.4h0M220.5 54h0M217.8 59.2h0M217.8 53.8h0M212.3 62.9h0M219.3 55.4h0M231 53.4h0M212.4 62.5h0M220.1 55.9h0M227.1 57.8h0M215.2 60.8h0M219.1 55.7h0M219.5 54.6h0M213.5 61.2h0M206.5 60.1h0M208.7 63.2h0M211.7 66.2h0M224.7 52.1h0M215.8 56.7h0M215 60.7h0M225.4 62.5h0M226.6 49.3h0M211.6 58.8h0M212.8 59.6h0M219 55.1h0M211.8 68.1h0M220.2 64.4h0M211.6 64.6h0M226.4 59h0M210.1 62.1h0M209.4 56.2h0M215 60.2h0M213.4 58.4h0M218.8 54.4h0M218 60.1h0M219.4 58.7h0M208.2 59.7h0M212.3 61.9h0M203.3 63.1h0M204.5 64.5h0M211.5 59.7h0M221.6 62.1h0M208.4 61.1h0M201.9 62.3h0M210.6 62.4h0M214.2 58.9h0M207.4 59.8h0M207.5 61.1h0M204.5 63.1h0M223.1 65h0M225.3 59.4h0M220.7 62h0M214.8 59.8h0M202.3 61.1h0M221.9 49.4h0M217 57.3h0M212.6 60.3h0M214.6 54.3h0M213.7 52.1h0M224.8 54.6h0M220.4 52.9h0M227.4 57.5h0M217.3 58.3h0M217.2 54.8h0M213.9 57.9h0M217.9 62.9h0M222.6 56.5h0M219 55.8h0M211.2 53.7h0M206.1 57.1h0M214.4 57.9h0M218.2 61.4h0M219.3 56.1h0M211.7 58.4h0M218.6 53.6h0M204.9 61.2h0M222.3 60.1h0M218.2 50h0M214.1 61.2h0M222.7 62.3h0M208.8 61.9h0M204.5 61.3h0M212.6 62.2h0M215.4 51.7h0M214.2 59.9h0M224.2 52.2h0M209 58.3h0M221.5 54.8h0M215.6 59.7h0M209.8 64.2h0M204.8 68.8h0M210.1 56.7h0M209.6 55.9h0M208.8 57.6h0M207.1 60.5h0M216.7 55.5h0M215.7 54.9h0M216.2 56.6h0M207.7 61.3h0M213.5 56.3h0M214.7 60.3h0M206.5 59.5h0M219 56.8h0M220.9 65h0M206.7 62.6h0M212.9 64.3h0M218.1 51.9h0M222 55.7h0M212.8 59.1h0M215.9 54.7h0M212.8 64.1h0M207.9 58.6h0M220.2 62.5h0M203.3 51.8h0M210.1 58.8h0M209.6 58.5h0M192.2 51.2h0M197.2 52.5h0M219.9 63.9h0M199.8 67h0M212.8 51.8h0M216.6 55.7h0M224.7 53.6h0M201.4 56.2h0M220.3 69.5h0M211 53.8h0M206.1 66.8h0M193.9 71.9h0M219.6 72.2h0M214.9 64.8h0M224 56.6h0M202 53.2h0M197.9 69.1h0M195.1 67.8h0M205 70.9h0M216.9 66.4h0M219.7 51.3h0M200.7 59h0M206.1 66.1h0M220.8 67.7h0M222.5 66.7h0M203.7 62.2h0M216.6 69.5h0M204.1 58.7h0M212.2 55.7h0M221 50.3h0M213.3 61.7h0M198.4 63.7h0M207.6 72.9h0M221 64.1h0M220.6 71.1h0M197.4 69.7h0M219.3 73.6h0M216.9 59.5h0M198.8 65.6h0M198.9 68.1h0M210.8 69.7h0M203.7 57.4h0M221.7 65.9h0M204.4 63.5h0" stroke="#222" stroke-width=".4" stroke-linecap="round" opacity=".32" fill="none"/>
<ellipse cx="223.9" cy="50.5" rx="8.4" ry=".85" fill="url(#cg)" transform="rotate(-42 223.9 50.5)"/>
<ellipse cx="221.4" cy="52.8" rx="3.2" ry="1.15" fill="url(#cg)" opacity=".85" transform="rotate(-42 221.4 52.8)"/>
<ellipse cx="220.8" cy="53.3" rx="2.2" ry=".9" fill="#b01030" opacity=".5" transform="rotate(-42 220.8 53.3)"/>
<text x="192.2" y="24" font-size="3.9" fill="#c23a5e">Q1-UL</text>
<text x="192.2" y="27.2" font-size="3.9" fill="#c23a5e">0.0%</text>
<text x="252.8" y="24" font-size="3.9" fill="#c23a5e" text-anchor="end">Q1-UR</text>
<text x="252.8" y="27.2" font-size="3.9" fill="#c23a5e" text-anchor="end">23.2%</text>
<text x="192.2" y="70.8" font-size="3.9" fill="#c23a5e">Q1-LL</text>
<text x="192.2" y="73.9" font-size="3.9" fill="#c23a5e">73.5%</text>
<text x="252.8" y="70.8" font-size="3.9" fill="#c23a5e" text-anchor="end">Q1-LR</text>
<text x="252.8" y="73.9" font-size="3.9" fill="#c23a5e" text-anchor="end">3.3%</text>
<text x="219.8" y="50.3" font-size="3.9" fill="#c23a5e" text-anchor="end">Q1</text>
<text x="221.3" y="83" font-size="3.3" fill="#333" text-anchor="middle" letter-spacing=".15">TREM2-A</text>
<text x="182.4" y="52.3" font-size="3.2" fill="#333" text-anchor="middle" transform="rotate(-90 182.4 52.3)">pTau-A</text>
<text x="303.3" y="17.5" font-size="7.5" fill="#1ea7e0" font-weight="bold" text-anchor="middle" textLength="25.6" lengthAdjust="spacingAndGlyphs">KO HFD</text>
<rect x="271.4" y="20.6" width="63.4" height="54.2" fill="#fff" stroke="#8d8de0" stroke-width=".6"/>
<line x1="271.4" y1="20.6" x2="271.4" y2="74.8" stroke="#2626cc" stroke-width="0.8"/>
<line x1="271.4" y1="74.8" x2="334.8" y2="74.8" stroke="#2626cc" stroke-width="0.8"/>
<path d="M274.5 74.8v1.8M271.4 72.1h-2M276.4 74.8v1.8M271.4 70.6h-2M277.7 74.8v1.8M271.4 69.4h-2M278.7 74.8v1.8M271.4 68.6h-2M279.5 74.8v1.8M271.4 67.9h-2M280.2 74.8v1.8M271.4 67.3h-2M280.8 74.8v1.8M271.4 66.8h-2M281.3 74.8v1.8M271.4 66.3h-2M284.9 74.8v1.8M271.4 63.2h-2M286.8 74.8v1.8M271.4 61.7h-2M288.1 74.8v1.8M271.4 60.5h-2M289.1 74.8v1.8M271.4 59.7h-2M289.9 74.8v1.8M271.4 59h-2M290.6 74.8v1.8M271.4 58.4h-2M291.2 74.8v1.8M271.4 57.9h-2M291.7 74.8v1.8M271.4 57.4h-2M295.3 74.8v1.8M271.4 54.3h-2M297.2 74.8v1.8M271.4 52.8h-2M298.5 74.8v1.8M271.4 51.6h-2M299.5 74.8v1.8M271.4 50.8h-2M300.3 74.8v1.8M271.4 50.1h-2M301 74.8v1.8M271.4 49.5h-2M301.6 74.8v1.8M271.4 49h-2M302.1 74.8v1.8M271.4 48.5h-2M305.8 74.8v1.8M271.4 45.4h-2M307.6 74.8v1.8M271.4 43.9h-2M308.9 74.8v1.8M271.4 42.7h-2M309.9 74.8v1.8M271.4 41.9h-2M310.7 74.8v1.8M271.4 41.2h-2M311.4 74.8v1.8M271.4 40.6h-2M312 74.8v1.8M271.4 40.1h-2M312.6 74.8v1.8M271.4 39.6h-2M316.2 74.8v1.8M271.4 36.5h-2M318 74.8v1.8M271.4 35h-2M319.3 74.8v1.8M271.4 33.9h-2M320.3 74.8v1.8M271.4 33h-2M321.1 74.8v1.8M271.4 32.3h-2M321.8 74.8v1.8M271.4 31.7h-2M322.4 74.8v1.8M271.4 31.2h-2M323 74.8v1.8M271.4 30.7h-2M326.6 74.8v1.8M271.4 27.6h-2M328.4 74.8v1.8M271.4 26.1h-2M329.7 74.8v1.8M271.4 25h-2M330.7 74.8v1.8M271.4 24.1h-2M331.5 74.8v1.8M271.4 23.4h-2M332.2 74.8v1.8M271.4 22.8h-2M332.8 74.8v1.8M271.4 22.3h-2M333.4 74.8v1.8M271.4 21.8h-2" stroke="#2020c8" stroke-width=".55"/>
<line x1="269" y1="74.8" x2="271.4" y2="74.8" stroke="#2222cc" stroke-width="0.65"/>
<text x="268.6" y="75.2" font-size="2.7" fill="#3333cc" text-anchor="end" transform="rotate(-55 268.6 75.2)">10<tspan font-size="2" dy="-1">0</tspan></text>
<line x1="271.4" y1="74.8" x2="271.4" y2="77.2" stroke="#2222cc" stroke-width="0.65"/>
<text x="272.4" y="79.8" font-size="2.7" fill="#3333cc" text-anchor="middle" transform="rotate(-35 272.4 79.8)">10<tspan font-size="2" dy="-1">0</tspan></text>
<line x1="269" y1="65.9" x2="271.4" y2="65.9" stroke="#2222cc" stroke-width="0.65"/>
<text x="268.6" y="66.3" font-size="2.7" fill="#3333cc" text-anchor="end" transform="rotate(-55 268.6 66.3)">10<tspan font-size="2" dy="-1">1</tspan></text>
<line x1="281.8" y1="74.8" x2="281.8" y2="77.2" stroke="#2222cc" stroke-width="0.65"/>
<text x="282.8" y="79.8" font-size="2.7" fill="#3333cc" text-anchor="middle" transform="rotate(-35 282.8 79.8)">10<tspan font-size="2" dy="-1">1</tspan></text>
<line x1="269" y1="57" x2="271.4" y2="57" stroke="#2222cc" stroke-width="0.65"/>
<text x="268.6" y="57.4" font-size="2.7" fill="#3333cc" text-anchor="end" transform="rotate(-55 268.6 57.4)">10<tspan font-size="2" dy="-1">2</tspan></text>
<line x1="292.2" y1="74.8" x2="292.2" y2="77.2" stroke="#2222cc" stroke-width="0.65"/>
<text x="293.2" y="79.8" font-size="2.7" fill="#3333cc" text-anchor="middle" transform="rotate(-35 293.2 79.8)">10<tspan font-size="2" dy="-1">2</tspan></text>
<line x1="269" y1="48.1" x2="271.4" y2="48.1" stroke="#2222cc" stroke-width="0.65"/>
<text x="268.6" y="48.5" font-size="2.7" fill="#3333cc" text-anchor="end" transform="rotate(-55 268.6 48.5)">10<tspan font-size="2" dy="-1">3</tspan></text>
<line x1="302.6" y1="74.8" x2="302.6" y2="77.2" stroke="#2222cc" stroke-width="0.65"/>
<text x="303.6" y="79.8" font-size="2.7" fill="#3333cc" text-anchor="middle" transform="rotate(-35 303.6 79.8)">10<tspan font-size="2" dy="-1">3</tspan></text>
<line x1="269" y1="39.2" x2="271.4" y2="39.2" stroke="#2222cc" stroke-width="0.65"/>
<text x="268.6" y="39.6" font-size="2.7" fill="#3333cc" text-anchor="end" transform="rotate(-55 268.6 39.6)">10<tspan font-size="2" dy="-1">4</tspan></text>
<line x1="313" y1="74.8" x2="313" y2="77.2" stroke="#2222cc" stroke-width="0.65"/>
<text x="314" y="79.8" font-size="2.7" fill="#3333cc" text-anchor="middle" transform="rotate(-35 314 79.8)">10<tspan font-size="2" dy="-1">4</tspan></text>
<line x1="269" y1="30.3" x2="271.4" y2="30.3" stroke="#2222cc" stroke-width="0.65"/>
<text x="268.6" y="30.7" font-size="2.7" fill="#3333cc" text-anchor="end" transform="rotate(-55 268.6 30.7)">10<tspan font-size="2" dy="-1">5</tspan></text>
<line x1="323.4" y1="74.8" x2="323.4" y2="77.2" stroke="#2222cc" stroke-width="0.65"/>
<text x="324.4" y="79.8" font-size="2.7" fill="#3333cc" text-anchor="middle" transform="rotate(-35 324.4 79.8)">10<tspan font-size="2" dy="-1">5</tspan></text>
<line x1="269" y1="21.4" x2="271.4" y2="21.4" stroke="#2222cc" stroke-width="0.65"/>
<text x="268.6" y="21.8" font-size="2.7" fill="#3333cc" text-anchor="end" transform="rotate(-55 268.6 21.8)">10<tspan font-size="2" dy="-1">6</tspan></text>
<line x1="333.8" y1="74.8" x2="333.8" y2="77.2" stroke="#2222cc" stroke-width="0.65"/>
<text x="334.8" y="79.8" font-size="2.7" fill="#3333cc" text-anchor="middle" transform="rotate(-35 334.8 79.8)">10<tspan font-size="2" dy="-1">6</tspan></text>
<line x1="301.6" y1="20.6" x2="301.6" y2="74.8" stroke="#d25a7c" stroke-width="0.65"/>
<line x1="271.4" y1="53.3" x2="334.8" y2="53.3" stroke="#d25a7c" stroke-width="0.65"/>
<ellipse cx="292.4" cy="59.6" rx="11" ry="6" fill="url(#cl)" opacity=".3" transform="rotate(-20 292.4 59.6)"/>
<path d="M299.7 54h0M301.6 52.1h0M303.8 50h0M306.2 46.5h0M299.6 53.6h0M302.9 50.4h0M300.5 53.2h0M302.4 52.4h0M302.8 49.6h0M300.2 53h0M302.1 52.1h0M300 52.6h0M300.8 52.6h0M304.5 48.4h0M302.3 51.2h0M301.4 52.2h0M307.5 45.3h0M303 50.3h0M304.2 48.8h0M305.5 47h0M304.1 49.3h0M303.2 49.9h0M301.7 52.2h0M299.9 53.5h0M305.7 48.1h0M300.8 53.3h0M303.6 50h0M302.4 51.1h0M302.1 51.6h0M301.7 51.4h0M304.6 49.9h0M302.3 51.9h0M301.1 52.3h0M302.6 51.1h0M299.7 53.2h0M299.9 54h0M301.9 52.1h0M306.4 47.4h0M307.7 44.3h0M299.9 52.4h0M303.2 50.4h0M307 46.2h0M309.3 45.4h0M305.1 47.4h0M300.4 53.4h0M301.8 51.8h0M308.9 46.3h0M299.7 53.8h0M302.1 51.5h0M300.1 53h0M300 53.7h0M304.2 49.3h0M299.9 53.8h0M302.1 51.5h0M300.4 52.8h0M304.7 49h0M300.2 54.8h0M303.7 50.3h0M299.9 53.2h0M304.6 48.8h0M299.9 54.1h0M304.2 49.5h0M299.9 54.5h0M301.7 51.2h0M302.9 50.7h0M299.7 54.1h0M301 53.5h0M300.4 53.2h0M304.5 48.6h0M304 49.4h0M304.5 48.3h0M300.9 51.7h0M301.4 52.1h0M302.2 52.4h0M307.2 45h0M303.3 51h0M301 51.7h0M301.3 51.6h0M302.9 49.7h0M301.2 53.5h0M301.1 52.3h0M310.7 42.3h0M300 53.4h0M301.3 52.1h0M306 47.3h0M302 51.6h0M303 49.8h0M299.1 53.4h0M299.5 54h0M300 53.4h0M300.9 52.4h0M301.9 50.7h0M303.3 49.6h0M301.5 51.7h0M301.1 51.9h0M305.1 47.5h0M305 48.7h0M300.6 52.9h0M303.6 49.5h0M303.2 49.6h0M302.4 51.5h0M299.7 53.2h0M308.2 45.4h0M300.2 53.1h0M303.6 49.7h0M300.1 53h0M300.2 53.8h0M301.4 52.1h0M304.5 49.6h0M303.3 49.7h0M308.1 46.2h0M299.6 53.7h0M301.5 51.7h0M302.8 51.8h0M307 47.2h0M304.7 50.1h0M300.7 53.1h0M303.6 49.9h0M308.7 44.2h0M299.5 54h0M301.9 52.2h0M306.7 46.9h0M301.2 52.3h0M300.1 54.3h0M304.8 49.7h0M305.8 47.6h0M301.8 50.9h0M304 50.8h0M309.5 44.4h0M303.1 51.5h0M300.5 52.3h0M301.8 51.8h0M299.8 53.3h0M300.6 52.7h0M301.7 52h0M300.3 52.9h0M302.8 50.3h0M303.1 50.2h0M300.8 52.5h0M308.9 45.9h0M302.7 51.6h0M301.4 52.5h0M300.3 53.2h0M307.3 45.6h0M301.5 51h0M301.9 51.5h0M303.8 49.3h0M308.6 43.9h0M299.6 52.7h0M304.7 49.5h0M302.4 50.2h0M305.3 47.2h0M303.5 51.3h0M304.8 49.2h0M304.8 48h0M300.8 53h0M302.8 51.5h0M309.2 44.2h0M303.4 50.5h0M300.8 52.4h0M300.1 53.5h0M302 52.1h0M301.3 51.5h0M307.6 47.5h0M301.2 52.1h0M311.3 43.4h0M309.6 43.7h0M302.4 50.8h0M302.5 51.2h0M301.8 52.9h0M305.2 47.4h0M301.6 52.2h0M303.5 51.4h0M304.1 50.4h0M301.5 51.3h0M302.8 50.6h0M302 51.4h0M300.4 53.2h0M300.5 53.3h0M313.5 41.5h0M302.3 52.3h0M301.2 51.5h0M304.9 46.9h0M304.3 48.4h0M305.7 47.3h0M300.1 52.8h0M302.1 51.4h0M302.1 50.9h0M302 51.6h0M301.7 51.4h0M305.2 49.1h0M301.8 51.3h0M303.3 50.7h0M308.8 45h0M311.2 42.7h0M301.1 52.7h0M303.8 48.6h0M300.4 53.7h0M306.7 47h0M303.3 51.2h0M306.6 46.9h0M308.4 44h0M306.4 48.2h0M302.1 50.7h0M304.7 49.4h0M302.6 50.6h0M304.7 47.5h0M300.4 53h0M301.6 51.6h0M303.3 49.5h0M303.5 51.3h0M302.2 50.9h0M303.6 48.6h0M306.3 46.1h0M302.9 49.8h0M303.6 49.4h0M303.7 49.8h0M306 48.1h0M305.2 48.3h0M302.1 51.1h0M300 53.6h0M300.8 51.5h0M300 53.2h0M307.8 45.5h0M299.6 53.9h0M302.6 50.2h0M300 53.4h0M299.5 53.9h0M302 51.6h0M306.2 48.6h0M299.1 53.6h0M301 53h0M300.3 53.1h0M310.8 44.2h0M299.2 53.4h0M301.9 52.4h0M300.7 52h0M302.1 51.5h0M309.1 44.7h0M302.7 50.6h0M299.3 53.7h0M305 47.4h0M302.5 51.7h0M299.9 54.2h0M303 50.6h0M302.4 52.4h0M305.1 49.3h0M311.8 43.4h0M300.5 53.2h0M302.6 52.2h0M303.5 48.7h0M301.7 51.8h0M302.4 51.6h0M302.2 51.3h0M300.2 54.2h0M309.5 45.7h0M301.4 52.7h0M304 48.1h0M307.7 46.6h0M303 51.4h0M307.3 46.5h0M300.9 52.9h0M303.4 50.2h0M306.6 48.9h0M302.6 50.5h0M302.2 51.3h0M302.6 52.3h0M305.9 47.3h0M301 52.5h0M305 47.9h0M303.2 49.2h0M301.9 51.8h0M303.1 51h0M304.8 48.5h0M304.8 49.6h0M303 49.5h0M302 51.6h0M300.2 53.6h0M302 51.3h0M302.2 50.9h0M304.5 49.8h0M302.1 51.2h0M307.9 47.6h0M299.7 53.9h0M303 51.5h0M300.1 52.2h0M300.7 52.8h0M302.4 52h0M301.5 52.2h0M303.3 50.7h0M302.7 51.3h0M300.2 53.4h0M300.6 52.1h0M301.4 52.2h0M301.4 52.8h0M303.3 49.7h0M304.9 48.5h0M302.4 51.8h0M304.1 48.8h0M299.5 53.9h0M297.1 57.2h0M299.5 54.3h0M300 54.5h0M298.1 55.8h0M298.2 54.7h0M298.6 56.4h0M295.2 57.4h0M299.9 53.3h0M298.8 56h0M297.6 55.6h0M299.3 53.5h0M298.4 55.2h0M299.9 52.5h0M299.8 53.6h0M297.8 54.1h0M301.9 52.3h0M299.3 53.9h0M301 51.7h0M297.2 55.4h0M299.2 54.7h0M296.4 57.5h0M300.1 54.7h0M299.6 55.8h0M301.6 51.3h0M299.3 55.4h0M300.8 52.7h0M299.7 51.8h0M300.7 53.4h0M300.7 53.5h0M299.8 53.2h0M299.7 51.2h0M299.1 53.7h0M301.1 51h0M299.3 54.2h0M300.2 53.3h0M297.5 55.9h0M301.2 53.3h0M297.3 54.7h0M297.2 56.2h0M298.6 54.4h0M298.5 55.3h0M301.6 53.2h0M299 55.6h0M299.6 55.6h0M301.2 53.6h0M302.9 51.9h0M301.3 54h0M297.4 55.7h0M299.2 55.5h0M298.4 53.6h0M297.9 55.4h0M298.2 54.8h0M297.1 56.6h0M297 56h0M298 55.1h0M300.9 52.1h0M296.9 53.4h0M298 55.8h0M299.2 55.4h0M299.2 55.4h0M300.2 54.7h0M299.3 55.4h0M297.9 54.6h0M299.8 51.9h0M298.8 56.8h0M299.6 54.4h0M299.4 54.1h0M301.9 51.7h0M301.1 52.4h0M297.9 55.2h0M300.8 56h0M298.5 55.6h0M297.3 57h0M299.2 54.9h0M298.9 54h0M299.2 54.3h0M300.5 52.9h0M298.1 53.8h0M300.2 53.1h0M298.6 56.5h0M300.4 53.1h0M298.3 53.5h0M295.8 57.9h0M297.4 57h0M298.7 55.1h0M298.6 55.5h0M300.3 53.4h0M300.6 53.9h0M297.8 53.6h0M299.6 53.2h0M296.4 54.7h0M297.4 57.8h0M302.5 52.8h0M300.7 50.3h0M299.3 52.5h0M297.4 56.9h0M299.8 52.5h0M295.7 55.8h0M299.3 55.3h0M302.2 51.9h0M296.9 55.2h0M299.5 54.8h0M296.4 57.5h0M298.7 55.9h0M297.3 57.4h0M302 53.3h0M301.3 52.3h0M298.5 53.6h0M298.5 54h0M300.4 54.1h0M299.8 55.7h0M296.8 56h0M301.3 51.9h0M298.4 51.9h0M300.7 51.9h0M298.7 56h0M298 53.2h0M300.3 52h0M298.1 54.6h0M298.1 54.8h0M298.2 54.7h0M302.7 51.1h0M299.5 53.2h0M301.9 52.3h0M298.8 54h0M299 52.2h0M297.8 55.2h0M299.6 54.1h0M297.3 56.9h0M298 54.8h0M299 54.1h0M298.1 54.9h0M300 53.5h0M298.9 53.7h0M300.7 52.9h0M298.6 56.2h0M296.6 55.9h0M299.9 53.1h0M298.3 54.7h0M299.3 54.7h0M299.4 53.2h0M297.1 53.9h0M298.6 55.5h0M299.8 55.2h0M298.8 55h0M299.5 52.5h0M300.1 51.7h0M297.5 53.7h0M298 54.2h0M299.1 51.8h0M296.4 59.3h0M297.3 61.3h0M298.4 53.8h0M297 54.9h0M288.7 59.7h0M289.8 58.1h0M300.1 56.8h0M280.5 60.9h0M290.8 68.4h0M294.7 56.6h0M295.4 49.8h0M303.2 54.1h0M287.3 64.3h0M287.6 57h0M299.3 64.1h0M290.9 59.7h0M292.6 60.8h0M290.6 60.5h0M288.1 60.5h0M298.2 51.7h0M298.6 63.5h0M288.7 59.4h0M294 58.7h0M286.5 64.7h0M297.8 61.2h0M297.7 55.2h0M292.1 57.2h0M310.2 51.4h0M299.7 62.2h0M292.6 60.2h0M296.6 63.8h0M285.5 63h0M296.4 59.6h0M288.4 64.3h0M296.2 54.4h0M287.2 68.7h0M288.7 55h0M295.6 54.2h0M293.4 60.9h0M286.8 56.3h0M305.1 50h0M285.7 61.8h0M296.1 57.8h0M287.8 64.5h0M285.8 58.9h0M298.1 61.1h0M296.7 61.2h0M296.2 61h0M288.5 58.2h0M297.4 61.3h0M290.4 57.4h0M292.8 63.3h0M292.7 58.4h0M292.3 58.4h0M296.6 56.4h0M294.1 58h0M288.3 61.1h0M294.6 52.3h0M295 59.4h0M292.2 55.7h0M289.3 63.1h0M287.9 64.8h0M290.9 61.3h0M274 68.2h0M293.9 53h0M299.7 55h0M286.2 66.8h0M302.8 59.5h0M299.4 61.1h0M282 62.8h0M302.8 57.8h0M294.2 57.9h0M290.9 57.2h0M291.7 49.4h0M300.2 56.7h0M274.7 66.1h0M294.8 58.2h0M298.1 60.2h0M296.7 51.7h0M279 61.5h0M298.6 50.3h0M289.8 58.3h0M291.8 53.8h0M297 56.8h0M299.5 57.3h0M293.5 62.7h0M302.1 57.8h0M288.8 62.1h0M300.7 59.3h0M304.5 59.3h0M291.8 67.6h0M298.4 59.9h0M294.4 54.3h0M280.7 66.3h0M300.7 62.7h0M287.9 60.8h0M290.5 62.6h0M288.3 58h0M283.8 62h0M299.5 52.4h0M291.1 65.2h0M287.5 53.6h0M287.5 64.3h0M293.3 55.8h0M289.6 65.1h0M284.9 67.4h0M290.9 62.2h0M286.2 58.6h0M309.2 52.7h0M287.2 63.3h0M288.5 57.3h0M287.5 59.3h0M301.8 49.9h0M295.6 52.3h0M297.1 55.9h0M297.5 56.7h0M299.9 59.3h0M296.4 60.4h0M290.3 58.9h0M288.5 63h0M295.9 57.7h0M285.9 61.6h0M296.9 60.7h0M289.6 63.2h0M285.3 60.4h0M286.5 62.5h0M287.2 58.7h0M300.6 60.3h0M282.8 66.9h0M299.4 60.4h0M291 65h0M296.9 52.9h0M279.2 60.6h0M297.8 69.6h0M284.9 64.2h0M294.6 59.3h0M298.3 61.2h0M294.8 65.2h0M299.4 61.5h0M301.3 52.8h0M304 51.9h0M294.5 57.9h0M287.8 61h0M283.7 65h0M292.6 56.9h0M294.7 59.9h0M291.9 52.7h0M296.5 59.1h0M307.4 62.6h0M301.5 58.3h0M296.1 56.5h0M290.6 57h0M288.4 57.7h0M302.4 62.2h0M274.5 66h0M279 59.1h0M292 58.6h0M314.1 51.8h0M286.9 55.8h0M296.4 55h0M290.2 55.1h0M301.3 57.9h0M300.9 54.3h0M293.8 57.6h0M286.8 63.8h0M281.1 61.2h0M284.8 62.5h0M283.4 62.1h0M287.4 59.5h0M291.2 67.2h0M287.4 66h0M291.8 70.6h0M295.2 62.2h0M284.7 67.9h0M292.5 56.5h0M294.4 64.9h0M289.5 61.3h0M301.7 60h0M286.5 55.9h0M300.3 58.5h0M299.1 60.8h0M294.3 61.5h0M289.6 59.7h0M294.3 56.6h0M292.8 65.5h0M293.2 62.3h0M294.7 53.9h0M297.7 50.5h0M296.1 57.7h0M287.9 63.7h0M291.1 67.3h0M281.9 68.6h0M300.1 58.4h0M284.9 57.5h0M279.3 65.2h0M291.9 63h0M295.1 60.7h0M282.7 63.6h0M296.5 62h0M276.5 69.7h0M281.3 63.9h0M295.5 66.2h0M297.2 58h0M287.6 57.8h0M284.2 61.6h0M288.2 65.5h0M286.7 64.6h0M291.8 56.5h0M293.6 52.1h0M295.8 58.1h0M289.9 61.4h0M297.5 61.3h0M293.8 57h0M296.3 51.1h0M304.2 53.8h0M296.6 63.7h0M288.5 59.6h0M294.6 55.4h0M300.1 50.1h0M290.7 61.3h0M294.8 56.6h0M303.8 60.5h0M294.1 61.7h0M285.5 65.8h0M295.7 61.3h0M298.2 58.5h0M292.7 54h0M281.4 58.8h0M298.8 57.7h0M289 58.1h0M298 57h0M303.7 53.8h0M285.6 54h0M288 62.5h0M283.6 65.1h0M297 53h0M295.4 53h0M293.8 57h0M297 53.7h0M291.9 61.4h0M289.6 58.9h0M288.4 64.5h0M294.9 61.2h0M299 58.6h0M295.5 55.9h0M293.2 61.2h0M284.5 58.6h0M298.7 63.5h0M296.7 58h0M303.5 59h0M303 58.6h0M295.1 61.5h0M303.6 59.3h0M283.5 69h0M290 55.8h0M285.2 63.3h0M277.5 60.2h0M294.4 61h0M303.5 55.3h0M288 58h0M298.1 57.6h0M294.8 55.8h0M287.1 58.8h0M294.6 59.8h0M303.3 57.8h0M294.4 63.2h0M283.2 59.9h0M297.5 60.9h0M293.2 53.7h0M284.1 63.4h0M295.8 50.8h0M290.4 59.9h0M300.5 60.5h0M290 56.7h0M291.6 57.3h0M288.5 63.2h0M292.4 49.8h0M293.1 60.9h0M284.8 67.7h0M295.7 58.2h0M289.9 64h0M299.9 53.7h0M277.7 69.3h0M291.2 52h0M299.4 47h0M288.1 55.1h0M283.4 62.7h0M308 50.3h0M301.2 53h0M286.5 61.8h0M281.2 69.4h0M286.9 55.7h0M291.7 58.2h0M287.7 62.3h0M303.2 54.4h0M288.4 64.3h0M299.5 54h0M291.4 56.4h0M283.5 65.6h0M297.1 63.1h0M304.2 44.9h0M284.3 61.5h0M305.2 54.5h0M298.6 53.8h0M302.3 61h0M302.4 59.1h0M290.9 66.6h0M288.1 57.6h0M287.9 61.5h0M301.9 56h0M296.6 57.4h0M297.5 57.9h0M286.2 71.6h0M299.3 60.2h0M296.7 55.4h0M292.5 61.9h0M301.8 57.6h0M289 59.7h0M286 60.2h0M291.5 57.2h0M296.1 65.7h0M288.5 55.1h0M288.9 64.9h0M286.5 65.5h0M300.7 55.2h0M283.6 64.3h0M287 61.5h0M305.7 55.5h0M280.5 63.4h0M286.4 68.1h0M294.9 56h0M293.6 57.9h0M285.8 56.8h0M292.1 56.5h0M291.1 61.9h0M300.2 53.6h0M294.5 54.4h0M279.3 68h0M303.2 53.1h0M284.6 56h0M291.1 62.9h0M295.2 53h0M293.8 53.1h0M290.8 61.1h0M294.6 51.2h0M287.6 60.6h0M295.6 56.3h0M296.9 62.4h0M282.3 64h0M308.8 54.2h0M292.3 63.8h0M299.8 57.3h0M277.3 64.7h0M294.8 60.4h0M302.7 49.4h0M285.4 62.1h0M298.5 54.4h0M286.8 62.8h0M293.9 61.9h0M291.9 60.7h0M282.3 64.7h0M295.6 56.9h0M285.1 67.8h0M298.9 56.2h0M299.6 63.3h0M291.2 65.2h0M297.8 56.2h0M291.4 64.5h0M300.4 58.8h0M286.9 59.6h0M292.3 54h0M282.4 59.8h0M296.2 59.9h0M292.8 61.6h0M303.4 51.1h0M298.4 55h0M301.9 48.9h0M294.2 51.6h0M292.9 58.7h0M291.2 62.4h0M284.9 61.3h0M297.7 56.1h0M297.2 57.4h0M294.4 55.6h0M284.7 60.3h0M301.9 57.5h0M290.4 57.8h0M301.2 59h0M293.4 61.4h0M294.4 63.6h0M287.1 62.2h0M297 59.5h0M288.1 58.6h0M299 63.3h0M287.4 60.3h0M301.4 55.3h0M298.1 60.9h0M292.9 66.5h0M293.7 57.5h0M300.3 60.8h0M287.6 61.2h0M289.8 60.6h0M285 63.1h0M301.6 54h0M291.7 59.2h0M284.8 62.1h0M290.2 57.5h0M303 53.5h0M289.2 50.5h0M296.7 57.3h0M299.7 54h0M292.3 59h0M304.5 57.7h0M281.4 71.5h0M301.1 54.7h0M285.6 59.3h0M281.5 61.8h0M299.3 56.6h0M287.9 63h0M296.9 58.8h0M298.5 62.8h0M297.6 62.1h0M300.1 56.1h0M298.4 57.2h0M291.3 61.5h0M297.6 60.7h0M294.4 53.4h0M293.9 60.3h0M298.8 58.6h0M293.1 59.1h0M301.5 59.5h0M293.7 60.1h0M294.2 57.4h0M293.2 57.9h0M297.9 54.2h0M291.2 62.1h0M296 54.6h0M287.8 60h0M296.1 61h0M293.5 65.2h0M298 51.6h0M292 62.9h0M300.2 55.2h0M291.4 59.2h0M294.2 54.8h0M295.3 62.5h0M295.6 61.6h0M289.1 63.7h0M291.4 61.7h0M297.1 53.8h0M287 65.1h0M298.1 59.2h0M289 64.1h0M297.8 54.4h0M286.1 64.6h0M294 55.7h0M290.4 57h0M296 58.3h0M299.8 57.9h0M295.3 63.1h0M292.4 55.4h0M292.4 56.3h0M298.7 63.6h0M288.9 59.9h0M285.3 68.1h0M305.7 57.3h0M304.2 60.2h0M290 59.9h0M281.5 59.6h0M292.4 68.9h0M300.4 55.5h0M291.7 68.5h0M278.7 69.3h0M280.4 64.2h0M289 62.9h0M300.7 53.6h0M281 73h0M293.3 71.5h0M280 57.8h0M291.8 68.6h0M289.4 52.1h0M287.2 68.4h0M301.7 52.4h0M285.4 71.7h0M296.8 64.8h0M277.9 61.9h0M286.3 62.1h0M288.8 52.4h0M299.4 60.6h0M278.7 64.8h0M283.1 53.3h0M291.7 50.8h0M302.9 63.7h0M281.2 72.3h0M291.7 50.6h0M296.4 51.6h0M281.6 63.7h0M294.3 72.7h0M299.6 54.5h0M290.6 52.7h0M295.8 60.3h0M294.1 51.9h0M288.8 60.6h0M273.8 65.8h0M304.9 67.9h0M304.4 52.6h0M293.6 64h0M287.4 69.2h0M286.1 52.4h0M293.4 70.3h0M284.7 65.1h0M277.3 73.3h0M304.9 50.7h0M293.7 72.1h0M289.4 52.2h0M296.6 62.1h0M283.7 51.7h0M279.8 69.5h0M288 62.8h0M293.7 59.2h0M297.6 67.3h0M273.1 65.3h0" stroke="#222" stroke-width=".4" stroke-linecap="round" opacity=".32" fill="none"/>
<ellipse cx="302.4" cy="51.1" rx="8.4" ry=".85" fill="url(#cg)" transform="rotate(-45 302.4 51.1)"/>
<ellipse cx="300" cy="53.5" rx="3.2" ry="1.15" fill="url(#cg)" opacity=".85" transform="rotate(-45 300 53.5)"/>
<ellipse cx="301.6" cy="53.3" rx="2.2" ry=".9" fill="#b01030" opacity=".5" transform="rotate(-45 301.6 53.3)"/>
<text x="272.6" y="24" font-size="3.9" fill="#c23a5e">Q1-UL</text>
<text x="272.6" y="27.2" font-size="3.9" fill="#c23a5e">16.5%</text>
<text x="334" y="24" font-size="3.9" fill="#c23a5e" text-anchor="end">Q1-UR</text>
<text x="334" y="27.2" font-size="3.9" fill="#c23a5e" text-anchor="end">9.4%</text>
<text x="272.6" y="70.8" font-size="3.9" fill="#c23a5e">Q1-LL</text>
<text x="272.6" y="73.9" font-size="3.9" fill="#c23a5e">71.5%</text>
<text x="334" y="70.8" font-size="3.9" fill="#c23a5e" text-anchor="end">Q1-LR</text>
<text x="334" y="73.9" font-size="3.9" fill="#c23a5e" text-anchor="end">2.5%</text>
<text x="300.6" y="50.3" font-size="3.9" fill="#c23a5e" text-anchor="end">Q1</text>
<text x="302.1" y="83" font-size="3.3" fill="#333" text-anchor="middle" letter-spacing=".15">TREM2-A</text>
<text x="262.8" y="52.3" font-size="3.2" fill="#333" text-anchor="middle" transform="rotate(-90 262.8 52.3)">pTau-A</text>
<text x="18.2" y="52" font-size="7.6" fill="#e01020" font-weight="bold" text-anchor="middle" transform="rotate(-90 18.2 52)">pTau</text>
<line x1="32" y1="86.3" x2="324" y2="86.3" stroke="#8fa9bd" stroke-width="0.9"/>
<path d="M320.5 83.6L325.5 86.3L320.5 89" fill="none" stroke="#6f93b3" stroke-width=".8"/>
<rect x="153.5" y="82" width="29" height="8" fill="#fff"/>
<text x="168" y="89.2" font-size="8.4" fill="#1fb155" font-weight="bold" text-anchor="middle" textLength="26.6" lengthAdjust="spacingAndGlyphs">TREM2</text>
<text x="61.8" y="107.8" font-size="4" fill="#111" text-anchor="middle" textLength="65" lengthAdjust="spacing" stroke="#111" stroke-width=".16">KO HFD pTau (-ve TREM2)</text>
<rect x="27.6" y="155" width="13.7" height="4" fill="#14921a" stroke="#000" stroke-width=".9"/>
<path d="M28 156.6H40.9M28 158.3H40.9" stroke="#000" stroke-width=".45" opacity=".45"/>
<text x="35.9" y="162.6" font-size="4.2" fill="#111" font-weight="bold" text-anchor="end" transform="rotate(-45 35.9 162.6)" stroke="#111" stroke-width=".18">WT ND</text>
<line x1="34.5" y1="159" x2="34.5" y2="160.2" stroke="#000" stroke-width="0.6"/>
<line x1="54.3" y1="144" x2="54.3" y2="139.2" stroke="#000" stroke-width="0.85"/>
<line x1="50.4" y1="139.2" x2="58.2" y2="139.2" stroke="#000" stroke-width="0.85"/>
<rect x="47.3" y="144" width="14" height="15" fill="#b81414" stroke="#000" stroke-width=".9"/>
<path d="M47.7 145.6H60.9M47.7 147.3H60.9M47.7 149.1H60.9M47.7 150.8H60.9M47.7 152.6H60.9M47.7 154.3H60.9M47.7 156.1H60.9M47.7 157.8H60.9" stroke="#000" stroke-width=".45" opacity=".45"/>
<text x="55.7" y="162.6" font-size="4.2" fill="#111" font-weight="bold" text-anchor="end" transform="rotate(-45 55.7 162.6)" stroke="#111" stroke-width=".18">KO ND</text>
<line x1="54.3" y1="159" x2="54.3" y2="160.2" stroke="#000" stroke-width="0.6"/>
<line x1="74.8" y1="152" x2="74.8" y2="150.5" stroke="#000" stroke-width="0.85"/>
<line x1="70.9" y1="150.5" x2="78.7" y2="150.5" stroke="#000" stroke-width="0.85"/>
<rect x="67.8" y="152" width="14" height="7" fill="#1414f0" stroke="#000" stroke-width=".9"/>
<text x="76.2" y="162.6" font-size="4.2" fill="#111" font-weight="bold" text-anchor="end" transform="rotate(-45 76.2 162.6)" stroke="#111" stroke-width=".18">WT HFD</text>
<line x1="74.8" y1="159" x2="74.8" y2="160.2" stroke="#000" stroke-width="0.6"/>
<line x1="94.7" y1="127.7" x2="94.7" y2="118.6" stroke="#000" stroke-width="0.85"/>
<line x1="90.8" y1="118.6" x2="98.5" y2="118.6" stroke="#000" stroke-width="0.85"/>
<rect x="87.8" y="127.7" width="13.7" height="31.3" fill="#ff1515" stroke="#000" stroke-width=".9"/>
<text x="94.7" y="119.3" font-size="4.2" fill="#222" font-weight="bold" text-anchor="middle">*</text>
<text x="96.1" y="162.6" font-size="4.2" fill="#111" font-weight="bold" text-anchor="end" transform="rotate(-45 96.1 162.6)" stroke="#111" stroke-width=".18">KO HFD</text>
<line x1="94.7" y1="159" x2="94.7" y2="160.2" stroke="#000" stroke-width="0.6"/>
<line x1="24.6" y1="112.9" x2="24.6" y2="159.3" stroke="#000" stroke-width="0.8"/>
<line x1="24.3" y1="159" x2="104.5" y2="159" stroke="#000" stroke-width="0.8"/>
<line x1="23" y1="159" x2="24.6" y2="159" stroke="#000" stroke-width="0.7"/>
<text x="22.3" y="160.4" font-size="4.2" fill="#111" font-weight="bold" text-anchor="end" stroke="#111" stroke-width=".18">0</text>
<line x1="23" y1="147.6" x2="24.6" y2="147.6" stroke="#000" stroke-width="0.7"/>
<text x="22.3" y="149" font-size="4.2" fill="#111" font-weight="bold" text-anchor="end" stroke="#111" stroke-width=".18">5</text>
<line x1="23" y1="136.1" x2="24.6" y2="136.1" stroke="#000" stroke-width="0.7"/>
<text x="22.3" y="137.5" font-size="4.2" fill="#111" font-weight="bold" text-anchor="end" stroke="#111" stroke-width=".18">10</text>
<line x1="23" y1="124.7" x2="24.6" y2="124.7" stroke="#000" stroke-width="0.7"/>
<text x="22.3" y="126.1" font-size="4.2" fill="#111" font-weight="bold" text-anchor="end" stroke="#111" stroke-width=".18">15</text>
<line x1="23" y1="113.2" x2="24.6" y2="113.2" stroke="#000" stroke-width="0.7"/>
<text x="22.3" y="114.7" font-size="4.2" fill="#111" font-weight="bold" text-anchor="end" stroke="#111" stroke-width=".18">20</text>
<text x="14.3" y="135.4" font-size="3.6" fill="#111" font-weight="bold" text-anchor="middle" transform="rotate(-90 14.3 135.4)" stroke="#111" stroke-width=".18">pTau +ve cells</text>
<text x="167.8" y="104.9" font-size="4.5" fill="#111" text-anchor="middle" textLength="73" lengthAdjust="spacing" stroke="#111" stroke-width=".16">KO HFD TREM2 (-ve pTau)</text>
<line x1="137.7" y1="131.4" x2="137.7" y2="122.7" stroke="#000" stroke-width="0.85"/>
<line x1="133.4" y1="122.7" x2="141.9" y2="122.7" stroke="#000" stroke-width="0.85"/>
<rect x="130" y="131.4" width="15.3" height="32.3" fill="#14921a" stroke="#000" stroke-width=".9"/>
<path d="M130.4 133H144.9M130.4 134.8H144.9M130.4 136.5H144.9M130.4 138.2H144.9M130.4 140H144.9M130.4 141.8H144.9M130.4 143.5H144.9M130.4 145.2H144.9M130.4 147H144.9M130.4 148.8H144.9M130.4 150.5H144.9M130.4 152.2H144.9M130.4 154H144.9M130.4 155.8H144.9M130.4 157.5H144.9M130.4 159.2H144.9M130.4 161H144.9M130.4 162.8H144.9" stroke="#000" stroke-width=".45" opacity=".45"/>
<text x="139.1" y="167.3" font-size="4.2" fill="#111" font-weight="bold" text-anchor="end" transform="rotate(-45 139.1 167.3)" stroke="#111" stroke-width=".18">WT ND</text>
<line x1="137.7" y1="163.7" x2="137.7" y2="164.9" stroke="#000" stroke-width="0.6"/>
<line x1="160.4" y1="161.1" x2="160.4" y2="160.3" stroke="#000" stroke-width="0.85"/>
<line x1="156" y1="160.3" x2="164.8" y2="160.3" stroke="#000" stroke-width="0.85"/>
<rect x="152.5" y="161.1" width="15.8" height="2.6" fill="#b81414" stroke="#000" stroke-width=".9"/>
<text x="160.4" y="160.2" font-size="4.2" fill="#222" font-weight="bold" text-anchor="middle">*</text>
<text x="161.8" y="167.3" font-size="4.2" fill="#111" font-weight="bold" text-anchor="end" transform="rotate(-45 161.8 167.3)" stroke="#111" stroke-width=".18">KO ND</text>
<line x1="160.4" y1="163.7" x2="160.4" y2="164.9" stroke="#000" stroke-width="0.6"/>
<line x1="183.6" y1="154" x2="183.6" y2="151.7" stroke="#000" stroke-width="0.85"/>
<line x1="179.3" y1="151.7" x2="187.9" y2="151.7" stroke="#000" stroke-width="0.85"/>
<rect x="176" y="154" width="15.2" height="9.7" fill="#1414f0" stroke="#000" stroke-width=".9"/>
<text x="183.6" y="151.8" font-size="4.2" fill="#222" font-weight="bold" text-anchor="middle">*</text>
<text x="185" y="167.3" font-size="4.2" fill="#111" font-weight="bold" text-anchor="end" transform="rotate(-45 185 167.3)" stroke="#111" stroke-width=".18">WT HFD</text>
<line x1="183.6" y1="163.7" x2="183.6" y2="164.9" stroke="#000" stroke-width="0.6"/>
<line x1="206.7" y1="162.6" x2="206.7" y2="162" stroke="#000" stroke-width="0.85"/>
<line x1="202.4" y1="162" x2="210.9" y2="162" stroke="#000" stroke-width="0.85"/>
<rect x="199" y="162.6" width="15.3" height="1.1" fill="#ff1515" stroke="#000" stroke-width=".9"/>
<text x="206.7" y="162" font-size="4.2" fill="#222" font-weight="bold" text-anchor="middle">**</text>
<text x="208.1" y="167.3" font-size="4.2" fill="#111" font-weight="bold" text-anchor="end" transform="rotate(-45 208.1 167.3)" stroke="#111" stroke-width=".18">KO HFD</text>
<line x1="206.7" y1="163.7" x2="206.7" y2="164.9" stroke="#000" stroke-width="0.6"/>
<line x1="126" y1="110" x2="126" y2="164" stroke="#000" stroke-width="0.8"/>
<line x1="125.7" y1="163.7" x2="219" y2="163.7" stroke="#000" stroke-width="0.8"/>
<line x1="124.4" y1="163.7" x2="126" y2="163.7" stroke="#000" stroke-width="0.7"/>
<text x="123.7" y="165.1" font-size="4.2" fill="#111" font-weight="bold" text-anchor="end" stroke="#111" stroke-width=".18">0</text>
<line x1="124.4" y1="145.9" x2="126" y2="145.9" stroke="#000" stroke-width="0.7"/>
<text x="123.7" y="147.3" font-size="4.2" fill="#111" font-weight="bold" text-anchor="end" stroke="#111" stroke-width=".18">5</text>
<line x1="124.4" y1="128.1" x2="126" y2="128.1" stroke="#000" stroke-width="0.7"/>
<text x="123.7" y="129.5" font-size="4.2" fill="#111" font-weight="bold" text-anchor="end" stroke="#111" stroke-width=".18">10</text>
<line x1="124.4" y1="110.3" x2="126" y2="110.3" stroke="#000" stroke-width="0.7"/>
<text x="123.7" y="111.8" font-size="4.2" fill="#111" font-weight="bold" text-anchor="end" stroke="#111" stroke-width=".18">15</text>
<text x="115.4" y="135.2" font-size="3.7" fill="#111" font-weight="bold" text-anchor="middle" transform="rotate(-90 115.4 135.2)" stroke="#111" stroke-width=".18">TREM +ve cells</text>
<text x="281.3" y="105.3" font-size="4.5" fill="#111" text-anchor="middle" textLength="62.8" lengthAdjust="spacing" stroke="#111" stroke-width=".16">KO HFD TREM2+pTau</text>
<line x1="250.9" y1="147" x2="250.9" y2="142.3" stroke="#000" stroke-width="0.85"/>
<line x1="246.5" y1="142.3" x2="255.3" y2="142.3" stroke="#000" stroke-width="0.85"/>
<rect x="243" y="147" width="15.8" height="17.4" fill="#14921a" stroke="#000" stroke-width=".9"/>
<path d="M243.4 148.6H258.4M243.4 150.3H258.4M243.4 152.1H258.4M243.4 153.8H258.4M243.4 155.6H258.4M243.4 157.3H258.4M243.4 159.1H258.4M243.4 160.8H258.4M243.4 162.6H258.4" stroke="#000" stroke-width=".45" opacity=".45"/>
<text x="252.3" y="168" font-size="4.2" fill="#111" font-weight="bold" text-anchor="end" transform="rotate(-45 252.3 168)" stroke="#111" stroke-width=".18">WT ND</text>
<line x1="250.9" y1="164.4" x2="250.9" y2="165.6" stroke="#000" stroke-width="0.6"/>
<line x1="274.1" y1="137.5" x2="274.1" y2="123.4" stroke="#000" stroke-width="0.85"/>
<line x1="269.8" y1="123.4" x2="278.4" y2="123.4" stroke="#000" stroke-width="0.85"/>
<rect x="266.5" y="137.5" width="15.2" height="26.9" fill="#b81414" stroke="#000" stroke-width=".9"/>
<path d="M266.9 139.1H281.3M266.9 140.8H281.3M266.9 142.6H281.3M266.9 144.3H281.3M266.9 146.1H281.3M266.9 147.8H281.3M266.9 149.6H281.3M266.9 151.3H281.3M266.9 153.1H281.3M266.9 154.8H281.3M266.9 156.6H281.3M266.9 158.3H281.3M266.9 160.1H281.3M266.9 161.8H281.3M266.9 163.6H281.3" stroke="#000" stroke-width=".45" opacity=".45"/>
<text x="275.5" y="168" font-size="4.2" fill="#111" font-weight="bold" text-anchor="end" transform="rotate(-45 275.5 168)" stroke="#111" stroke-width=".18">KO ND</text>
<line x1="274.1" y1="164.4" x2="274.1" y2="165.6" stroke="#000" stroke-width="0.6"/>
<rect x="289.4" y="124.5" width="15.3" height="39.9" fill="#1414f0" stroke="#000" stroke-width=".9"/>
<text x="298.4" y="168" font-size="4.2" fill="#111" font-weight="bold" text-anchor="end" transform="rotate(-45 298.4 168)" stroke="#111" stroke-width=".18">WT HFD</text>
<line x1="297" y1="164.4" x2="297" y2="165.6" stroke="#000" stroke-width="0.6"/>
<rect x="311.6" y="149" width="15.4" height="15.4" fill="#ff1515" stroke="#000" stroke-width=".9"/>
<text x="320.7" y="168" font-size="4.2" fill="#111" font-weight="bold" text-anchor="end" transform="rotate(-45 320.7 168)" stroke="#111" stroke-width=".18">KO HFD</text>
<line x1="319.3" y1="164.4" x2="319.3" y2="165.6" stroke="#000" stroke-width="0.6"/>
<line x1="239.2" y1="112.2" x2="239.2" y2="164.8" stroke="#000" stroke-width="0.8"/>
<line x1="238.9" y1="164.4" x2="329" y2="164.4" stroke="#000" stroke-width="0.8"/>
<line x1="237.6" y1="164.4" x2="239.2" y2="164.4" stroke="#000" stroke-width="0.7"/>
<text x="236.9" y="165.8" font-size="4.2" fill="#111" font-weight="bold" text-anchor="end" stroke="#111" stroke-width=".18">0</text>
<line x1="237.6" y1="147.1" x2="239.2" y2="147.1" stroke="#000" stroke-width="0.7"/>
<text x="236.9" y="148.5" font-size="4.2" fill="#111" font-weight="bold" text-anchor="end" stroke="#111" stroke-width=".18">10</text>
<line x1="237.6" y1="129.8" x2="239.2" y2="129.8" stroke="#000" stroke-width="0.7"/>
<text x="236.9" y="131.2" font-size="4.2" fill="#111" font-weight="bold" text-anchor="end" stroke="#111" stroke-width=".18">20</text>
<line x1="237.6" y1="112.5" x2="239.2" y2="112.5" stroke="#000" stroke-width="0.7"/>
<text x="236.9" y="114" font-size="4.2" fill="#111" font-weight="bold" text-anchor="end" stroke="#111" stroke-width=".18">30</text>
<text x="229.3" y="138" font-size="3.7" fill="#111" font-weight="bold" text-anchor="middle" transform="rotate(-90 229.3 138)" textLength="43" lengthAdjust="spacingAndGlyphs" stroke="#111" stroke-width=".18">TREM2+pTau +ve cells</text>
<text x="60" y="196.6" font-size="6.8" fill="#1878c0" font-weight="bold" text-anchor="middle" textLength="21.5" lengthAdjust="spacingAndGlyphs">FL-ND</text>
<rect x="26.4" y="199.6" width="68.1" height="54" fill="#fff" stroke="#8d8de0" stroke-width=".6"/>
<line x1="26.4" y1="199.6" x2="26.4" y2="253.6" stroke="#2626cc" stroke-width="0.8"/>
<line x1="26.4" y1="253.6" x2="94.5" y2="253.6" stroke="#2626cc" stroke-width="0.8"/>
<path d="M29.8 253.6v1.8M26.4 250.9h-2M31.7 253.6v1.8M26.4 249.4h-2M33.1 253.6v1.8M26.4 248.3h-2M34.2 253.6v1.8M26.4 247.4h-2M35.1 253.6v1.8M26.4 246.7h-2M35.8 253.6v1.8M26.4 246.1h-2M36.5 253.6v1.8M26.4 245.6h-2M37.1 253.6v1.8M26.4 245.1h-2M40.9 253.6v1.8M26.4 242.1h-2M42.9 253.6v1.8M26.4 240.5h-2M44.3 253.6v1.8M26.4 239.4h-2M45.4 253.6v1.8M26.4 238.5h-2M46.3 253.6v1.8M26.4 237.8h-2M47 253.6v1.8M26.4 237.2h-2M47.7 253.6v1.8M26.4 236.7h-2M48.2 253.6v1.8M26.4 236.3h-2M52.1 253.6v1.8M26.4 233.2h-2M54.1 253.6v1.8M26.4 231.6h-2M55.5 253.6v1.8M26.4 230.5h-2M56.6 253.6v1.8M26.4 229.7h-2M57.5 253.6v1.8M26.4 229h-2M58.2 253.6v1.8M26.4 228.4h-2M58.9 253.6v1.8M26.4 227.9h-2M59.4 253.6v1.8M26.4 227.4h-2M63.3 253.6v1.8M26.4 224.3h-2M65.3 253.6v1.8M26.4 222.8h-2M66.7 253.6v1.8M26.4 221.7h-2M67.8 253.6v1.8M26.4 220.8h-2M68.6 253.6v1.8M26.4 220.1h-2M69.4 253.6v1.8M26.4 219.5h-2M70 253.6v1.8M26.4 219h-2M70.6 253.6v1.8M26.4 218.5h-2M74.5 253.6v1.8M26.4 215.5h-2M76.5 253.6v1.8M26.4 213.9h-2M77.8 253.6v1.8M26.4 212.8h-2M78.9 253.6v1.8M26.4 211.9h-2M79.8 253.6v1.8M26.4 211.2h-2M80.6 253.6v1.8M26.4 210.6h-2M81.2 253.6v1.8M26.4 210.1h-2M81.8 253.6v1.8M26.4 209.7h-2M85.7 253.6v1.8M26.4 206.6h-2M87.6 253.6v1.8M26.4 205h-2M89 253.6v1.8M26.4 203.9h-2M90.1 253.6v1.8M26.4 203.1h-2M91 253.6v1.8M26.4 202.4h-2M91.7 253.6v1.8M26.4 201.8h-2M92.4 253.6v1.8M26.4 201.3h-2M93 253.6v1.8M26.4 200.8h-2" stroke="#2020c8" stroke-width=".55"/>
<line x1="24" y1="253.6" x2="26.4" y2="253.6" stroke="#2222cc" stroke-width="0.65"/>
<text x="23.6" y="254" font-size="2.7" fill="#3333cc" text-anchor="end" transform="rotate(-55 23.6 254)">10<tspan font-size="2" dy="-1">0</tspan></text>
<line x1="26.4" y1="253.6" x2="26.4" y2="256" stroke="#2222cc" stroke-width="0.65"/>
<text x="27.4" y="258.6" font-size="2.7" fill="#3333cc" text-anchor="middle" transform="rotate(-35 27.4 258.6)">10<tspan font-size="2" dy="-1">0</tspan></text>
<line x1="24" y1="244.7" x2="26.4" y2="244.7" stroke="#2222cc" stroke-width="0.65"/>
<text x="23.6" y="245.1" font-size="2.7" fill="#3333cc" text-anchor="end" transform="rotate(-55 23.6 245.1)">10<tspan font-size="2" dy="-1">1</tspan></text>
<line x1="37.6" y1="253.6" x2="37.6" y2="256" stroke="#2222cc" stroke-width="0.65"/>
<text x="38.6" y="258.6" font-size="2.7" fill="#3333cc" text-anchor="middle" transform="rotate(-35 38.6 258.6)">10<tspan font-size="2" dy="-1">1</tspan></text>
<line x1="24" y1="235.9" x2="26.4" y2="235.9" stroke="#2222cc" stroke-width="0.65"/>
<text x="23.6" y="236.3" font-size="2.7" fill="#3333cc" text-anchor="end" transform="rotate(-55 23.6 236.3)">10<tspan font-size="2" dy="-1">2</tspan></text>
<line x1="48.8" y1="253.6" x2="48.8" y2="256" stroke="#2222cc" stroke-width="0.65"/>
<text x="49.8" y="258.6" font-size="2.7" fill="#3333cc" text-anchor="middle" transform="rotate(-35 49.8 258.6)">10<tspan font-size="2" dy="-1">2</tspan></text>
<line x1="24" y1="227" x2="26.4" y2="227" stroke="#2222cc" stroke-width="0.65"/>
<text x="23.6" y="227.4" font-size="2.7" fill="#3333cc" text-anchor="end" transform="rotate(-55 23.6 227.4)">10<tspan font-size="2" dy="-1">3</tspan></text>
<line x1="59.9" y1="253.6" x2="59.9" y2="256" stroke="#2222cc" stroke-width="0.65"/>
<text x="60.9" y="258.6" font-size="2.7" fill="#3333cc" text-anchor="middle" transform="rotate(-35 60.9 258.6)">10<tspan font-size="2" dy="-1">3</tspan></text>
<line x1="24" y1="218.1" x2="26.4" y2="218.1" stroke="#2222cc" stroke-width="0.65"/>
<text x="23.6" y="218.5" font-size="2.7" fill="#3333cc" text-anchor="end" transform="rotate(-55 23.6 218.5)">10<tspan font-size="2" dy="-1">4</tspan></text>
<line x1="71.1" y1="253.6" x2="71.1" y2="256" stroke="#2222cc" stroke-width="0.65"/>
<text x="72.1" y="258.6" font-size="2.7" fill="#3333cc" text-anchor="middle" transform="rotate(-35 72.1 258.6)">10<tspan font-size="2" dy="-1">4</tspan></text>
<line x1="24" y1="209.3" x2="26.4" y2="209.3" stroke="#2222cc" stroke-width="0.65"/>
<text x="23.6" y="209.7" font-size="2.7" fill="#3333cc" text-anchor="end" transform="rotate(-55 23.6 209.7)">10<tspan font-size="2" dy="-1">5</tspan></text>
<line x1="82.3" y1="253.6" x2="82.3" y2="256" stroke="#2222cc" stroke-width="0.65"/>
<text x="83.3" y="258.6" font-size="2.7" fill="#3333cc" text-anchor="middle" transform="rotate(-35 83.3 258.6)">10<tspan font-size="2" dy="-1">5</tspan></text>
<line x1="24" y1="200.4" x2="26.4" y2="200.4" stroke="#2222cc" stroke-width="0.65"/>
<text x="23.6" y="200.8" font-size="2.7" fill="#3333cc" text-anchor="end" transform="rotate(-55 23.6 200.8)">10<tspan font-size="2" dy="-1">6</tspan></text>
<line x1="93.5" y1="253.6" x2="93.5" y2="256" stroke="#2222cc" stroke-width="0.65"/>
<text x="94.5" y="258.6" font-size="2.7" fill="#3333cc" text-anchor="middle" transform="rotate(-35 94.5 258.6)">10<tspan font-size="2" dy="-1">6</tspan></text>
<line x1="58.5" y1="199.6" x2="58.5" y2="253.6" stroke="#d25a7c" stroke-width="0.65"/>
<line x1="26.4" y1="233.3" x2="94.5" y2="233.3" stroke="#d25a7c" stroke-width="0.65"/>
<ellipse cx="49" cy="239.5" rx="15" ry="7.5" fill="url(#cl)" opacity=".4" transform="rotate(-14 49 239.5)"/>
<path d="M53.7 237.2h0M57.2 232.2h0M55.3 233.9h0M60.4 233.8h0M60.4 232.6h0M58.2 234.8h0M55.8 237.6h0M54.1 238.1h0M59.3 234.5h0M58.3 238.9h0M57.2 235.2h0M57.5 235.1h0M56.3 236.3h0M62.5 231.8h0M58.5 236.2h0M62.3 231.5h0M58 239.6h0M53.6 238.5h0M61 236.8h0M53.1 235.4h0M58.7 234h0M56.9 237.2h0M58.3 235.7h0M57.5 238.1h0M61.2 232.8h0M57 237.6h0M57.8 233.9h0M57.2 237.9h0M57 235.8h0M58 235.4h0M55.9 234h0M62 232.5h0M56.2 238.7h0M58.3 235.3h0M62 236h0M60.2 236.3h0M61.9 230.4h0M56.9 237.7h0M53.1 239.1h0M61.5 234.3h0M57.3 232.8h0M63.7 231.6h0M59.8 234.8h0M52.1 238h0M56.1 240.3h0M55.3 237.4h0M57.4 237h0M59 235.1h0M51.8 235.4h0M58.1 235.8h0M60.4 233.3h0M56.3 237.6h0M52.8 238.1h0M55.3 238.3h0M63.3 232.4h0M60.5 233.8h0M57.8 234.9h0M54.8 234.1h0M53.5 237.1h0M60.1 234.8h0M61.6 235.1h0M57.6 237.6h0M62.3 231.9h0M60 233.5h0M53.6 239.3h0M55.6 237.7h0M56.6 237.2h0M54 242.4h0M60.5 232.8h0M55.3 237.8h0M59.5 234.9h0M56.8 233.1h0M55.9 239.6h0M56.8 233.9h0M54.2 236.2h0M56 239.2h0M57.9 237.5h0M56.7 234h0M57.8 239.6h0M54.7 236.4h0M60.7 233.4h0M58.7 237.4h0M53.5 240h0M53.7 236.7h0M56.4 238.8h0M55.6 234.3h0M56 239.8h0M59.1 232.6h0M63.3 230.4h0M54.4 238.3h0M61.2 235.6h0M59.7 233.3h0M54.8 235.6h0M56.8 235.4h0M57 234.1h0M55.5 236.1h0M53.5 237.2h0M53.9 236.8h0M59 234.8h0M54.6 239.2h0M59.5 236.8h0M56.8 236.1h0M55.9 237.5h0M58.9 235h0M57.3 237h0M57.9 236h0M55.3 238.1h0M54.3 237.1h0M59.7 237.7h0M60 233.8h0M57.9 237.3h0M62 234.2h0M57.2 236.5h0M56.4 236.3h0M55.1 237.4h0M51.1 239.2h0M57.8 234.1h0M57.7 233.4h0M56.9 237.1h0M54.3 237.4h0M63.1 230h0M55.2 236.8h0M57.6 235.8h0M60.6 234.6h0M56.2 236.4h0M52.7 237.4h0M56.3 238.2h0M58.5 236.5h0M59.7 233.8h0M62.3 230.9h0M55.6 236.8h0M60.2 233.4h0M56 237.9h0M60.2 233.4h0M57.8 237.5h0M60.8 234.8h0M55.8 237.8h0M56.9 233.3h0M60.6 233.5h0M58.6 238.9h0M57.3 234.9h0M57.8 236.6h0M59.5 234.1h0M54.7 237h0M54.6 236.5h0M57 235.4h0M56.9 234.9h0M55.2 237.5h0M57.6 237.8h0M55.4 238h0M56.3 234.7h0M59.5 234.5h0M52.8 240.9h0M59.2 233.1h0M61.9 232.5h0M55.1 238.9h0M55.5 235.3h0M52.3 240.7h0M56.2 238.1h0M58 234.6h0M57.7 238.8h0M62.4 233.1h0M55.8 235.6h0M58 238.4h0M58.4 234.6h0M54.6 238.6h0M55.3 237.8h0M60.3 235.4h0M57.6 235.3h0M59.6 237.3h0M57.2 233.7h0M61.6 232.9h0M65.8 228.1h0M57 235.8h0M58 234.5h0M52.2 237h0M56.8 235.6h0M57.9 239.3h0M60.4 235.3h0M56.5 237.2h0M56.8 236.1h0M59.9 234.9h0M58.4 235.4h0M53.3 238.2h0M58.1 234.7h0M55.9 237.9h0M54.6 237.1h0M59.4 233.7h0M61.5 233.4h0M60.5 235.4h0M52.1 240.3h0M53.9 238.1h0M58.3 237.4h0M58.8 237.6h0M56.1 236.9h0M58.5 236.7h0M56.8 235.4h0M55.5 235.2h0M61.3 234h0M58.8 235.3h0M55.7 236.8h0M58.8 233.4h0M56.9 239.1h0M61.6 232.9h0M59 235h0M60.7 232.5h0M58.1 236.2h0M60.9 232.7h0M57.7 234.9h0M55.3 236.6h0M58.5 236.6h0M55.3 236.7h0M56.8 237.1h0M58.2 233.2h0M57.5 234.2h0M58.5 233.5h0M54.2 237.4h0M56.5 235h0M58.1 235.6h0M57.9 236h0M59 233.4h0M57.5 235.9h0M52.8 240.5h0M55 236.8h0M56.5 236.9h0M58.7 235.7h0M56.4 238h0M58.2 234.6h0M58.1 236.7h0M59.1 235.7h0M58.7 236.8h0M63.3 231.8h0M55 240.9h0M54.9 235.7h0M52 241.2h0M61 234.6h0M57.8 238.1h0M56.8 235.5h0M57.8 236h0M58 236.2h0M53.4 242h0M56.7 237.7h0M55.7 237.7h0M55.7 234.7h0M59 235.7h0M53 236.1h0M55.2 236.4h0M57.8 235.7h0M62 233.2h0M57 236.6h0M49.7 240.9h0M55.1 237.7h0M58.5 235.5h0M59.2 233.3h0M58.1 235.1h0M57.8 236.2h0M57 236.7h0M58.3 237h0M57.5 236.4h0M64.4 231.2h0M59.7 235.9h0M55.6 238.7h0M59.7 234.8h0M60.5 234.7h0M59.9 232.8h0M58.1 234.5h0M60.6 233.5h0M54.4 238.7h0M55.9 238.9h0M54.8 234.4h0M57.4 237.7h0M57.8 234.6h0M59.6 235.1h0M61.8 233.8h0M57.7 234.4h0M58.4 235.6h0M57.9 236.3h0M55.1 238.9h0M57.8 236.2h0M57 235.8h0M58.8 236.2h0M57 236.9h0M56 237.9h0M56.5 234.6h0M59.6 232.6h0M56.6 234.4h0M53.8 240.1h0M52.4 236.7h0M55.7 234.8h0M58.5 238.1h0M56.8 237.1h0M59.1 235h0M58.5 237.6h0M57.6 236.4h0M56.7 234.4h0M58.3 235.3h0M59.6 235.3h0M59.7 230.8h0M55.8 236.6h0M55.7 238.1h0M57.4 236.2h0M52.7 238.3h0M57 235.6h0M55.9 237h0M55.9 235.4h0M61 231.8h0M59.6 235.2h0M59.4 233.4h0M55.4 238.4h0M56.2 233h0M50.7 240.7h0M56.3 236.4h0M57.7 234.1h0M64.7 231.4h0M60.9 233.5h0M52.7 240.4h0M56.5 237.5h0M57.8 236.8h0M55.1 237.3h0M56.9 235.1h0M56.9 237.4h0M62 231.8h0M58.6 233.1h0M56.7 237.2h0M58.1 233.7h0M59.1 234.8h0M61.4 234.2h0M58.5 234.4h0M57.4 234.5h0M54 235.8h0M53.3 237.3h0M57.3 236.2h0M54.2 238.5h0M59.2 236h0M57.4 236.3h0M57.3 237.6h0M53.9 239.3h0M53.3 242.3h0M58 232h0M55.1 235.6h0M52.9 239.1h0M56.2 238.7h0M55.3 235.9h0M57.6 236.5h0M59.9 234.7h0M53.2 238.1h0M56.3 235.5h0M59 234.1h0M57 235.7h0M56.3 234.4h0M62.1 231.1h0M54.2 235.6h0M56.1 234.7h0M59.2 236.4h0M58.6 234.2h0M60.4 233.2h0M57.4 236.1h0M56.6 237.3h0M53 236.7h0M59.7 232.8h0M56.9 237h0M55.3 235.7h0M56.2 235.4h0M58.4 234.4h0M57.5 237.2h0M52.5 237.6h0M60.2 235.7h0M57.1 235h0M60.8 233.9h0M58.4 232.1h0M56.3 235.2h0M55.3 238.7h0M58.8 234h0M58 237.8h0M58.9 234.5h0M58.8 235h0M54 238h0M58.6 236h0M53.9 237.6h0M54.8 235.6h0M60.5 234.1h0M58.8 231.1h0M57 239.3h0M52.6 237h0M59.3 237h0M58.2 233.7h0M59.1 235.2h0M58.4 235.8h0M60.4 235.4h0M61.6 234.2h0M55.6 234.4h0M57.5 233.3h0M62 230.2h0M51.5 237.8h0M58.6 235.4h0M59.3 234.9h0M56.2 238.3h0M54.5 235.8h0M60.1 234.6h0M55 237.6h0M60.7 234.8h0M55.8 239.2h0M51.3 241.2h0M58.3 235h0M56.4 234.1h0M57.6 236.7h0M55.3 237.9h0M55.2 234h0M56.5 237.7h0M53.7 239.1h0M57.2 234h0M57.6 237.3h0M58.4 233.5h0M60.2 234.2h0M59 237.1h0M59.5 234.8h0M60.3 234.6h0M60.4 233.2h0M54.5 241h0M59.9 234.8h0M76.7 217.3h0M64.7 227.4h0M60.7 231.4h0M65.3 227.5h0M67.4 225.1h0M65.8 225.9h0M63.6 228.5h0M88.2 202.2h0M60.9 230.8h0M65.2 227h0M68.3 222.7h0M81 209.1h0M60.7 230.9h0M60.8 231.4h0M78.7 211.4h0M77 215.9h0M73.6 218.7h0M74.2 217.2h0M66.6 227.7h0M62.7 229.1h0M65.5 226.4h0M64 228.8h0M70.8 221.6h0M66.3 226h0M61 230.5h0M81.3 212.7h0M63 230.1h0M90.2 201.7h0M69.1 223.3h0M84 208.6h0M86.3 206.4h0M65.7 226.4h0M63.4 228.7h0M73.6 217h0M61.5 229.3h0M71.4 220.1h0M61.7 230.9h0M65.1 227.5h0M64.4 226.8h0M91.4 200.3h0M62.9 228.8h0M67.6 224.1h0M72.9 219.8h0M72.1 220.7h0M60.7 231.5h0M66.6 224.6h0M69.2 222.8h0M66.8 224.9h0M60.8 231h0M60.9 231.5h0M63.4 227.8h0M84.5 207.9h0M64.3 226.7h0M85.5 205.5h0M88.5 204.7h0M62.2 229.8h0M85.8 207.5h0M73 219.5h0M66.8 223.8h0M64.2 228.7h0M68 224.2h0M64.4 227.4h0M66.6 224.9h0M66 225.8h0M61.3 231.2h0M62.1 230.2h0M74.9 217.8h0M72.8 218.9h0M70.3 223.4h0M64.9 226.8h0M63.2 228.5h0M78.2 210.4h0M62.5 230h0M62.3 230.6h0M68.3 224.1h0M61 231.9h0M67 225.4h0M80.1 213.5h0M61.8 230.5h0M71.6 219h0M62.6 229h0M87.9 204.2h0M71.2 221h0M61.7 230.9h0M70.3 222.1h0M80.7 210.8h0M69.8 221.8h0M78.2 215.2h0M63.6 229.1h0M64.3 228.8h0M67.2 224.8h0M81.2 209.4h0M62.8 229.3h0M63.5 228.9h0M61.4 230.6h0M64.8 227.8h0M69.6 222.8h0M70.2 221.9h0M66.9 225.5h0M70.6 220h0M83 209.3h0M62 230.1h0M68 224.9h0M80.4 208.8h0M65.4 226.3h0M74.8 217.6h0M61.5 230.3h0M63 228.3h0M63.8 229.2h0M68.9 221.5h0M61.3 229.9h0M73.8 217.7h0M69.8 222.5h0M77.3 214h0M64.7 226.7h0M63 228.4h0M65.3 226.6h0M61.3 231h0M71.2 218.8h0M61.4 231.2h0M64.1 228.5h0M76 218.5h0M80.8 210h0M65.5 226.5h0M63.2 229.5h0M63.8 228.4h0M61.1 229.9h0M86.9 204.2h0M66.8 226.3h0M61.9 230.7h0M68.6 225.5h0M68.3 224.9h0M65.8 226.1h0M65.8 226.5h0M84.3 209.4h0M64.5 226.5h0M63.7 227.3h0M75.4 215.7h0M61.1 231h0M85 204.4h0M83.4 208.5h0M68 223.2h0M73 218.9h0M62.8 228.3h0M69.2 223.1h0M62 230.3h0M73.2 220.3h0M61.7 230.7h0M62.3 229.8h0M61.2 230.3h0M78.6 213.8h0M62.2 229.9h0M68.3 223.3h0M63.2 228.8h0M72.3 219.8h0M61.8 230.4h0M68.4 222.8h0M68.9 221h0M83.6 208.2h0M63.3 228.1h0M62.3 230.7h0M64.8 225.6h0M62.1 230.6h0M70.3 221.7h0M60.3 231.2h0M86 204h0M71.2 222.5h0M65.8 226.8h0M64 227.2h0M71.7 218.3h0M69.2 222.7h0M75.4 217.2h0M60.8 231.8h0M74.9 217.2h0M60.6 230.7h0M67.4 224.2h0M62.7 229.5h0M76.3 214.7h0M69.7 221.2h0M63.2 229.4h0M63.9 229h0M68.5 223.5h0M72.4 218.2h0M63.9 228.1h0M72.2 218.6h0M74 219h0M65.9 226h0M63.2 228.6h0M77.4 214.6h0M60.8 231.5h0M74.3 218.6h0M66.1 226.5h0M74.6 215.6h0M60.9 231.4h0M75.1 216.9h0M76 213.7h0M69.1 222.5h0M68.5 221.6h0M61.2 231.9h0M62.1 228.9h0M61.2 230.9h0M64.9 227.4h0M61.4 230.7h0M65.7 226.4h0M63.8 228.2h0M62 229.6h0M89.6 204.4h0M62.6 229h0M65 226.4h0M60.9 231.4h0M66.2 226h0M77.4 212h0M71.1 221h0M81.6 206.4h0M74.2 216h0M70.7 222h0M79.9 211.4h0M62.3 229.3h0M64.2 227.9h0M74.7 218.9h0M62.1 229h0M64.6 227.2h0M61.3 230.4h0M61.9 229.9h0M63.8 228.6h0M65.6 226.4h0M61.9 230.8h0M89.4 202.2h0M76.2 214h0M61.8 231.3h0M62.2 230.1h0M65.1 231h0M67 228.7h0M63.5 232h0M73 225.8h0M61.1 232.8h0M62.7 231.4h0M61.8 233h0M62.2 232.6h0M64.2 231.3h0M61.4 232.7h0M60.5 233h0M66.9 229.5h0M70.8 228.4h0M68 229h0M61.3 233.6h0M64.5 232h0M73.8 227.1h0M66.1 231.2h0M63.7 231.9h0M63.5 232.1h0M63.6 232.1h0M60.6 233.3h0M61.9 232.4h0M60.6 233.1h0M62.7 233.3h0M60.5 232.9h0M61.2 233.8h0M62.6 232.5h0M64 232.4h0M60.9 233.4h0M66.1 230h0M63.5 231.9h0M61.6 232.8h0M62 232.6h0M64.6 232.3h0M62 231.7h0M64.7 231.2h0M63.2 231.6h0M62.7 231.7h0M63.4 232.3h0M71.9 228.1h0M62 232.2h0M65.4 231.5h0M60.9 232.6h0M60.6 233.6h0M60.9 233.3h0M60.2 232.8h0M60.6 233.2h0M65.7 230.3h0M60.3 233.3h0M62.4 232.5h0M65.8 229.3h0M70 228.3h0M65.5 231h0M63.5 231.6h0M62.2 232.4h0M71.5 227.2h0M62.9 232.4h0M73.7 223.8h0M63.5 232.9h0M60.4 232.4h0M67.5 229.6h0M61.7 232.3h0M60.8 232.5h0M63.3 232.5h0M61.6 232.5h0M65 230.6h0M63.5 231.8h0M69.4 228.9h0M66 230.6h0M65.3 231.6h0M64.4 232.1h0M61.9 232.2h0M62.3 232.2h0M74.4 225.6h0M60.3 233.2h0M64.2 231.5h0M60.6 233.6h0M69.8 230.8h0M61.5 232.8h0M61 233.2h0M61.6 233.2h0M61.8 232.7h0M61.2 234h0M68.3 230.8h0M74.2 227.1h0M61.4 232.3h0M61.2 233h0M61.4 233.1h0M66.9 229.9h0M62.2 232.5h0M70.8 228.8h0M66.7 229.2h0M72.6 226.1h0M64.7 231h0M62.2 232.9h0M63.6 231.9h0M61.1 233.4h0M62.8 232.4h0M75.6 223.1h0M67.6 229.8h0M64.9 230.9h0M62.5 232.8h0M66 231.2h0M61.7 232.1h0M61.4 233.5h0M61.7 232.9h0M60.2 233.5h0M61.7 233.1h0M65.8 230.2h0M67 229.7h0M61.6 233h0M64.9 230.9h0M66.7 230.1h0M70.5 227.1h0M65.5 230.7h0M61.3 232.9h0M63.5 231.6h0M67.4 229.7h0M62.2 232h0M70 228.5h0M61.8 232.1h0M65.7 230.3h0M62.2 232.4h0M65.5 231.4h0M47.1 238.4h0M40.2 243.6h0M51.5 240.6h0M51.5 238.6h0M43.1 241.2h0M56.5 238.2h0M54.7 241.4h0M52.7 237.7h0M42.9 246h0M48.7 239.1h0M51.2 242.1h0M56.8 234.9h0M50 243.8h0M45.3 240.8h0M42.9 235.8h0M39.9 242.7h0M51.7 229.2h0M48 239.1h0M37.8 242.4h0M44.4 246h0M42.7 245.2h0M40.4 238.1h0M61.3 233.5h0M46.2 234.4h0M51.9 244.1h0M47.8 238.9h0M49.9 236.5h0M40 242.2h0M46.9 233.6h0M31 246.2h0M40.2 243.7h0M57.3 237.2h0M44.4 231.3h0M62.7 239.3h0M43.7 237h0M53.3 230.9h0M56.1 241.3h0M40.1 238h0M64.2 233.7h0M51.3 237.7h0M34.1 247.4h0M62.9 233.7h0M43.5 246.8h0M37.9 241.4h0M38.7 236.4h0M44.1 230.8h0M40.4 242.1h0M43.8 236.8h0M70.2 236.9h0M46.3 244.4h0M55.2 238.6h0M55.9 236.4h0M46.1 247.1h0M51.2 244.8h0M33.7 240.2h0M42.8 241.7h0M49.9 243h0M54.2 238.2h0M54.5 240.8h0M51.4 229.7h0M46.4 242.6h0M47.4 245.3h0M45.9 240.6h0M43.5 240.6h0M59.5 242.1h0M57.3 239.9h0M50.6 234.3h0M54.8 235.6h0M52.3 238.3h0M56.6 235h0M56.4 237.6h0M63 235.4h0M48.1 232.7h0M57.1 237.5h0M32.5 245.8h0M53.8 237.1h0M60.4 236.1h0M49 241.1h0M41.2 243.7h0M43.3 242.1h0M58.7 235.5h0M45.5 246.8h0M50.7 243.2h0M55 239.7h0M61.5 236.1h0M37.7 241.7h0M44.9 236.5h0M47 241.7h0M54.2 238.6h0M49.1 239.9h0M46.3 237.1h0M51.1 242.4h0M44.4 240.9h0M55.3 234.3h0M53.2 239.1h0M58 233.9h0M47.2 246h0M66.8 237.1h0M61 234.1h0M58.4 238.3h0M55.3 233.4h0M51.8 241.6h0M59.4 238.6h0M54.1 242h0M63.5 230.6h0M35.6 243.5h0M64 242.6h0M56 234.4h0M55 235.8h0M57.2 237h0M63.6 232.2h0M61.9 233.6h0M56.1 239.1h0M39.2 235.1h0M48.9 238.6h0M45.9 243.3h0M53 240.9h0M42 241.1h0M49.5 243.4h0M60.3 234.8h0M49.3 230.4h0M66.8 236.3h0M54.6 239.5h0M48.4 233.2h0M42.7 238.3h0M48.1 235.8h0M52.2 241.3h0M51.8 239.5h0M69 231.4h0M45.4 243.8h0M48.1 246.5h0M45 240.8h0M63.6 229.7h0M58.9 238.2h0M52.7 244.1h0M45.9 243h0M46.8 245.2h0M40.5 241.8h0M45.7 236.5h0M58.2 235.7h0M54.1 229.5h0M41.7 237.9h0M52.6 232.6h0M53.3 242.2h0M51 239.7h0M46.9 236.9h0M50 240.2h0M62.3 236.8h0M44.8 244h0M41.2 234.1h0M48 237.2h0M55.2 237.7h0M39.4 239.4h0M46.7 248.1h0M39.6 238.2h0M60.6 242.1h0M47.9 245.1h0M49.1 236.1h0M49.6 242.9h0M61.9 235.3h0M39.7 243h0M46.2 237.8h0M53.6 239.2h0M40.1 239.4h0M61.3 235.5h0M63.7 226.5h0M41.4 241.7h0M42.2 242.1h0M50.2 234.2h0M65.4 241.9h0M36.4 241.9h0M39.3 240.6h0M46.3 239.4h0M59.5 241.4h0M47.6 241.6h0M54.9 232.1h0M50.3 235.4h0M59.9 241.5h0M53.2 244.1h0M47.5 237h0M61 236.4h0M52.3 233.7h0M55.9 237.4h0M48.6 235.5h0M43.7 239.4h0M51.8 243.7h0M35.4 237.9h0M42 238.6h0M42.8 236.8h0M44.7 242.4h0M46.3 236.8h0M54.9 238.5h0M42.5 245.9h0M44.3 237.1h0M52.7 235.4h0M42.4 246.6h0M45.9 236.7h0M51.4 238.3h0M34 241.9h0M53.7 236.5h0M53.1 233.9h0M56.6 236.1h0M43.5 236.2h0M57.5 237.1h0M46.9 241.4h0M48.6 238.3h0M52.5 236.8h0M58.2 246h0M36.2 243.1h0M46.8 242.6h0M34.9 251.5h0M57.1 245.3h0M58.8 233h0M49.3 245.8h0M58.9 234h0M52.6 243.9h0M60.5 235.1h0M53.5 240.5h0M48.1 238.9h0M58 237.2h0M50 243.8h0M59.7 238.9h0M46.5 237.2h0M41 239.4h0M52.1 233.8h0M42.8 237.4h0M51.5 237.3h0M63 241h0M50.5 238.7h0M58.6 233.7h0M57.5 232.5h0M47.2 241.4h0M50.6 233h0M43.6 241.6h0M38 249.4h0M44.5 241.4h0M72.7 232.3h0M52.6 240.9h0M48.6 235.8h0M37.7 243.5h0M48.9 244.8h0M51.9 241.4h0M41.5 240.4h0M53.5 237h0M55.4 236.3h0M48 241.4h0M41.6 251.6h0M40.4 247.5h0M62.5 235.1h0M53.9 242.1h0M53.4 241h0M47.7 241.9h0M45.3 236.3h0M48.7 242.5h0M52.7 240.1h0M47 240.7h0M43.7 240.6h0M50.6 236.1h0M61.6 228.8h0M55.2 236.7h0M58.2 235.2h0M56.6 234.6h0M43.8 240.2h0M50 235.6h0M59.2 232.7h0M48.2 240.2h0M49.4 243.5h0M42.9 245h0M59.3 237h0M65.3 229.2h0M44.7 235.2h0M51.9 234.6h0M30.5 244.8h0M39.3 240.5h0M46.2 245.7h0M30.4 245.2h0M77.4 231.9h0M52.3 238.3h0M56.9 239h0M54.5 233.7h0M50 241.1h0M50.2 241.3h0M58.9 242h0M52 241h0M46.7 238.8h0M55.5 232.9h0M59.1 232.5h0M48.9 236.5h0M43 242.9h0M36.4 248.4h0M36.7 245.6h0M47.6 238.8h0M53.1 243.4h0M51.2 236.2h0M50.4 243h0M41.8 242.5h0M59.8 234.2h0M49 243.1h0M45.1 240.5h0M47.7 240.8h0M40.2 235.4h0M58.6 233.9h0M42.4 244.6h0M45.1 239.8h0M40.5 240.7h0M53.3 242.4h0M55.6 233h0M47.3 242.5h0M42.5 237.7h0M47.6 244.1h0M40.6 244.8h0M55.5 235.2h0M39.6 240.9h0M46.7 237.7h0M51.2 247.8h0M58.1 241.8h0M49.8 243.9h0M44.3 241.7h0M60.1 245.4h0M54.5 238.6h0M49.1 235.8h0M55.4 244.2h0M55.6 237.5h0M47.4 236.2h0M61.1 236.2h0M59.3 233.3h0M56.3 240.7h0M48.5 237.5h0M72.1 239.7h0M60.4 233.9h0M62 238.4h0M64.3 235h0M47.7 235.8h0M36.7 236.3h0M46.8 240.2h0M63.2 243.4h0M44.3 232h0M52.5 240.1h0M46.1 236.6h0M44.2 241.5h0M50.5 232.4h0M48.3 235.7h0M41.8 241.7h0M42.9 241.9h0M29.5 246.7h0M51.2 237h0M42.1 235.1h0M41 248.5h0M52.9 238h0M44 238.2h0M39.9 243h0M57 233.2h0M54.6 236.2h0M52 235h0M56.7 243.9h0M44.7 239.4h0M57.2 234.5h0M38 232.4h0M45.6 244.8h0M43.4 240.1h0M28.8 242.8h0M47.6 237h0M44.9 235.7h0M42.1 245.7h0M40.2 246.7h0M38.7 247h0M48.7 241.9h0M48.1 241.6h0M68.3 225.3h0M44.9 242.1h0M61.4 231.1h0M50.6 242.5h0M45.6 240.5h0M52.4 242.5h0M53.5 239.8h0M44.3 238.8h0M67.6 229.5h0M46.6 237.5h0M50.1 235.7h0M55.6 234.8h0M44.5 234.7h0M45.3 234.3h0M47.6 241.8h0M36.6 250.1h0M56.6 238.3h0M47.1 244h0M53.3 236.7h0M51.3 239.4h0M43.4 246.4h0M38.8 243.9h0M42.2 241.1h0M48.1 240.4h0M62.6 234h0M54.7 239.6h0M51.6 234.3h0M49.3 233h0M59.9 242.4h0M51.6 240.9h0M49 232.4h0M47.7 243.6h0M49 236.3h0M64.2 242.3h0M70.4 225.2h0M50.4 241.8h0M45.4 241.4h0M59.3 234.5h0M54.9 234.2h0M29.4 244.9h0M54.4 240.1h0M56.4 233.5h0M54.2 225.7h0M51 233.7h0M49.6 234.6h0M51.7 242.2h0M58.8 234.8h0M61.7 237.3h0M61.5 236h0M40.9 241.9h0M41.9 237.5h0M32.3 244.7h0M60.5 232h0M47.4 233.9h0M53.5 242.6h0M49.7 242h0M55.6 236.9h0M55.5 231h0M48.5 240.2h0M55.7 242.8h0M47.7 236.4h0M45.9 239h0M41.6 235.9h0M51.7 233.9h0M49.5 239.3h0M49.5 243.4h0M53 239.2h0M61.9 234.5h0M38.1 240.2h0M57.6 233.2h0M42.8 243h0M69.9 232.2h0M59.4 242.7h0M45 237.8h0M47.5 237h0M49.2 234.5h0M47.5 239.3h0M66.4 229.3h0M50.2 236h0M49.1 237.6h0M42.6 240.2h0M43.3 241.7h0M58.1 238.9h0M50.6 241.5h0M48.1 241.6h0M72.2 234.8h0M66.7 237.6h0M46.4 241.2h0M41.3 243.6h0M59.9 238.3h0M57 237.6h0M45.4 233.2h0M54 241.8h0M56.7 236.4h0M54.8 240h0M54.8 235.3h0M39.4 234.2h0M45.9 238.6h0M42.8 241.7h0M38.8 243h0M62.4 235.1h0M34.9 243h0M44.6 240.6h0M46.6 237.5h0M52.3 242.5h0M47.9 240h0M37.3 250.3h0M42.1 241.2h0M37.9 244.2h0M41.6 241.5h0M44.1 239.4h0M46.1 236.6h0M47.6 236.5h0M46.3 238.3h0M40.5 242.3h0M54.3 238.3h0M36.6 244.5h0M55.3 230.9h0M56.5 228h0M51.8 240.9h0M59.9 241.9h0M53 241.7h0M62.3 242.5h0M51.8 241.6h0M39 238.8h0M60.7 237.7h0M39.6 241.2h0M35.3 242.6h0M56.5 230.6h0M48.9 240.6h0M48.1 240h0M43.5 237.7h0M49 232.2h0M48 233.9h0M43.9 246.4h0M46.1 238.2h0M56 234.4h0M44.6 240.2h0M54.2 234.3h0M48.5 232.2h0M39.1 241.6h0M44.2 241.5h0M54.8 229.6h0M52.1 239h0M46.7 240.5h0M43.1 242.5h0M51.5 245.6h0M33.4 239.4h0M53.1 242.1h0M39 237.7h0M45.4 241.6h0M42.3 244.7h0M61.6 235h0M58.1 231h0M41.4 243.6h0M56.1 232.3h0M45.8 241.9h0M48.9 236.4h0M49.7 242.3h0M44.9 235.5h0M60 234.6h0M33 244.7h0M57.5 241.3h0M57.4 237h0M52.5 240.2h0M63.3 236.8h0M37.3 246.5h0M50.9 238.3h0M48 242.7h0M49.9 240.3h0M36.4 237.9h0M43.3 242.1h0M62 232.7h0M32.1 250.4h0M37.5 242.3h0M38.1 250.3h0M60.2 243h0M30.7 238.6h0M52.1 242.9h0M37.2 239.2h0M29.6 239.3h0M56.3 238.9h0M43.8 234h0M52.4 239.6h0M40.9 247.5h0M37.8 232h0M49.9 246.8h0M29.3 238h0M58.5 241.6h0M41.7 233.2h0M37.5 243.4h0M59.5 245.1h0M61.4 239.4h0M29.8 237.9h0M40.3 231.6h0M30.3 250.6h0M58.8 233.3h0M30.3 252.2h0M33.3 237h0M35.3 234.9h0M28.5 240.6h0M54.6 231.9h0M44.7 233.2h0M55 250.5h0M58.1 242.2h0M32.4 246.3h0M29.8 247.6h0M37.9 250.2h0M37.4 246.8h0M44.8 235.6h0M44.6 239.9h0M32.9 242.5h0M46.1 245.9h0M39.3 244h0M34.4 241.9h0M35.8 247.8h0M34.1 236.8h0M29.9 237h0M46.4 235.4h0M31.6 250.2h0M38.3 235.1h0M41.4 249.1h0M53.6 250.4h0M46.6 237.8h0M45 231.6h0M51.4 249h0M59.5 248.8h0M50.1 248.2h0M37.6 242.8h0M33.1 251.2h0M45.4 234.2h0M61.9 244.1h0M34.9 249.2h0M49.4 244.2h0M58.2 237.3h0M37.1 243h0M34.5 245.9h0M44.1 234.8h0M31.8 233.9h0M47.6 250.7h0M55.4 249.2h0M47.3 248.2h0M39 238.5h0M59.1 236.1h0M49.3 243h0M29.2 242.9h0M55.4 250.1h0M42.1 250.3h0M28.7 250.5h0M51.3 248.4h0M43.1 243.4h0M56.4 235.3h0M33.8 247.1h0M58.1 235.4h0M46.6 241.6h0M38.3 249.1h0M37.3 247.7h0M41.9 233.6h0M61.2 233.6h0M31 231h0M39.7 230.9h0M32.8 251.3h0M36.3 246.3h0M34.9 230.6h0M27.6 233h0M60.9 240.5h0M36.2 231.3h0M49.9 237.4h0M33.7 240h0M52.4 237.9h0M47.1 234.5h0M47 231.2h0M59.8 251h0M47.6 240.9h0M41.3 247h0M47.7 246.1h0M43 239.2h0M52.8 234.3h0M39.4 235.7h0M34.6 249.6h0" stroke="#222" stroke-width=".4" stroke-linecap="round" opacity=".32" fill="none"/>
<ellipse cx="57.6" cy="235.8" rx="6" ry="2.1" fill="url(#cg)" opacity=".88" transform="rotate(-40 57.6 235.8)"/>
<ellipse cx="58.5" cy="233.7" rx="2.2" ry=".9" fill="#b01030" opacity=".35" transform="rotate(-40 58.5 233.7)"/>
<text x="27.6" y="203" font-size="3.9" fill="#c23a5e">Q1-UL</text>
<text x="27.6" y="206.2" font-size="3.9" fill="#c23a5e">1.4%</text>
<text x="93.7" y="203" font-size="3.9" fill="#c23a5e" text-anchor="end">Q1-UR</text>
<text x="93.7" y="206.2" font-size="3.9" fill="#c23a5e" text-anchor="end">12.4%</text>
<text x="27.6" y="249.6" font-size="3.9" fill="#c23a5e">Q1-LL</text>
<text x="27.6" y="252.7" font-size="3.9" fill="#c23a5e">74.8%</text>
<text x="93.7" y="249.6" font-size="3.9" fill="#c23a5e" text-anchor="end">Q1-LR</text>
<text x="93.7" y="252.7" font-size="3.9" fill="#c23a5e" text-anchor="end">11.4%</text>
<text x="57.5" y="230.3" font-size="3.9" fill="#c23a5e" text-anchor="end">Q1</text>
<text x="59.5" y="262.4" font-size="3.3" fill="#333" text-anchor="middle" letter-spacing=".15">TREM2-A</text>
<text x="148.2" y="196.2" font-size="6.8" fill="#1878c0" font-weight="bold" text-anchor="middle" textLength="34.5" lengthAdjust="spacingAndGlyphs">Int-KO-ND</text>
<rect x="113.3" y="199.6" width="66.7" height="54" fill="#fff" stroke="#8d8de0" stroke-width=".6"/>
<line x1="113.3" y1="199.6" x2="113.3" y2="253.6" stroke="#2626cc" stroke-width="0.8"/>
<line x1="113.3" y1="253.6" x2="180" y2="253.6" stroke="#2626cc" stroke-width="0.8"/>
<path d="M116.6 253.6v1.8M113.3 250.9h-2M118.5 253.6v1.8M113.3 249.4h-2M119.9 253.6v1.8M113.3 248.3h-2M121 253.6v1.8M113.3 247.4h-2M121.8 253.6v1.8M113.3 246.7h-2M122.6 253.6v1.8M113.3 246.1h-2M123.2 253.6v1.8M113.3 245.6h-2M123.7 253.6v1.8M113.3 245.1h-2M127.5 253.6v1.8M113.3 242.1h-2M129.5 253.6v1.8M113.3 240.5h-2M130.8 253.6v1.8M113.3 239.4h-2M131.9 253.6v1.8M113.3 238.5h-2M132.8 253.6v1.8M113.3 237.8h-2M133.5 253.6v1.8M113.3 237.2h-2M134.1 253.6v1.8M113.3 236.7h-2M134.7 253.6v1.8M113.3 236.3h-2M138.5 253.6v1.8M113.3 233.2h-2M140.4 253.6v1.8M113.3 231.6h-2M141.8 253.6v1.8M113.3 230.5h-2M142.9 253.6v1.8M113.3 229.7h-2M143.7 253.6v1.8M113.3 229h-2M144.5 253.6v1.8M113.3 228.4h-2M145.1 253.6v1.8M113.3 227.9h-2M145.6 253.6v1.8M113.3 227.4h-2M149.4 253.6v1.8M113.3 224.3h-2M151.4 253.6v1.8M113.3 222.8h-2M152.7 253.6v1.8M113.3 221.7h-2M153.8 253.6v1.8M113.3 220.8h-2M154.7 253.6v1.8M113.3 220.1h-2M155.4 253.6v1.8M113.3 219.5h-2M156 253.6v1.8M113.3 219h-2M156.6 253.6v1.8M113.3 218.5h-2M160.4 253.6v1.8M113.3 215.5h-2M162.3 253.6v1.8M113.3 213.9h-2M163.7 253.6v1.8M113.3 212.8h-2M164.8 253.6v1.8M113.3 211.9h-2M165.6 253.6v1.8M113.3 211.2h-2M166.4 253.6v1.8M113.3 210.6h-2M167 253.6v1.8M113.3 210.1h-2M167.5 253.6v1.8M113.3 209.7h-2M171.3 253.6v1.8M113.3 206.6h-2M173.3 253.6v1.8M113.3 205h-2M174.6 253.6v1.8M113.3 203.9h-2M175.7 253.6v1.8M113.3 203.1h-2M176.6 253.6v1.8M113.3 202.4h-2M177.3 253.6v1.8M113.3 201.8h-2M177.9 253.6v1.8M113.3 201.3h-2M178.5 253.6v1.8M113.3 200.8h-2" stroke="#2020c8" stroke-width=".55"/>
<line x1="110.9" y1="253.6" x2="113.3" y2="253.6" stroke="#2222cc" stroke-width="0.65"/>
<text x="110.5" y="254" font-size="2.7" fill="#3333cc" text-anchor="end" transform="rotate(-55 110.5 254)">10<tspan font-size="2" dy="-1">0</tspan></text>
<line x1="113.3" y1="253.6" x2="113.3" y2="256" stroke="#2222cc" stroke-width="0.65"/>
<text x="114.3" y="258.6" font-size="2.7" fill="#3333cc" text-anchor="middle" transform="rotate(-35 114.3 258.6)">10<tspan font-size="2" dy="-1">0</tspan></text>
<line x1="110.9" y1="244.7" x2="113.3" y2="244.7" stroke="#2222cc" stroke-width="0.65"/>
<text x="110.5" y="245.1" font-size="2.7" fill="#3333cc" text-anchor="end" transform="rotate(-55 110.5 245.1)">10<tspan font-size="2" dy="-1">1</tspan></text>
<line x1="124.2" y1="253.6" x2="124.2" y2="256" stroke="#2222cc" stroke-width="0.65"/>
<text x="125.2" y="258.6" font-size="2.7" fill="#3333cc" text-anchor="middle" transform="rotate(-35 125.2 258.6)">10<tspan font-size="2" dy="-1">1</tspan></text>
<line x1="110.9" y1="235.9" x2="113.3" y2="235.9" stroke="#2222cc" stroke-width="0.65"/>
<text x="110.5" y="236.3" font-size="2.7" fill="#3333cc" text-anchor="end" transform="rotate(-55 110.5 236.3)">10<tspan font-size="2" dy="-1">2</tspan></text>
<line x1="135.2" y1="253.6" x2="135.2" y2="256" stroke="#2222cc" stroke-width="0.65"/>
<text x="136.2" y="258.6" font-size="2.7" fill="#3333cc" text-anchor="middle" transform="rotate(-35 136.2 258.6)">10<tspan font-size="2" dy="-1">2</tspan></text>
<line x1="110.9" y1="227" x2="113.3" y2="227" stroke="#2222cc" stroke-width="0.65"/>
<text x="110.5" y="227.4" font-size="2.7" fill="#3333cc" text-anchor="end" transform="rotate(-55 110.5 227.4)">10<tspan font-size="2" dy="-1">3</tspan></text>
<line x1="146.1" y1="253.6" x2="146.1" y2="256" stroke="#2222cc" stroke-width="0.65"/>
<text x="147.1" y="258.6" font-size="2.7" fill="#3333cc" text-anchor="middle" transform="rotate(-35 147.1 258.6)">10<tspan font-size="2" dy="-1">3</tspan></text>
<line x1="110.9" y1="218.1" x2="113.3" y2="218.1" stroke="#2222cc" stroke-width="0.65"/>
<text x="110.5" y="218.5" font-size="2.7" fill="#3333cc" text-anchor="end" transform="rotate(-55 110.5 218.5)">10<tspan font-size="2" dy="-1">4</tspan></text>
<line x1="157.1" y1="253.6" x2="157.1" y2="256" stroke="#2222cc" stroke-width="0.65"/>
<text x="158.1" y="258.6" font-size="2.7" fill="#3333cc" text-anchor="middle" transform="rotate(-35 158.1 258.6)">10<tspan font-size="2" dy="-1">4</tspan></text>
<line x1="110.9" y1="209.3" x2="113.3" y2="209.3" stroke="#2222cc" stroke-width="0.65"/>
<text x="110.5" y="209.7" font-size="2.7" fill="#3333cc" text-anchor="end" transform="rotate(-55 110.5 209.7)">10<tspan font-size="2" dy="-1">5</tspan></text>
<line x1="168" y1="253.6" x2="168" y2="256" stroke="#2222cc" stroke-width="0.65"/>
<text x="169" y="258.6" font-size="2.7" fill="#3333cc" text-anchor="middle" transform="rotate(-35 169 258.6)">10<tspan font-size="2" dy="-1">5</tspan></text>
<line x1="110.9" y1="200.4" x2="113.3" y2="200.4" stroke="#2222cc" stroke-width="0.65"/>
<text x="110.5" y="200.8" font-size="2.7" fill="#3333cc" text-anchor="end" transform="rotate(-55 110.5 200.8)">10<tspan font-size="2" dy="-1">6</tspan></text>
<line x1="179" y1="253.6" x2="179" y2="256" stroke="#2222cc" stroke-width="0.65"/>
<text x="180" y="258.6" font-size="2.7" fill="#3333cc" text-anchor="middle" transform="rotate(-35 180 258.6)">10<tspan font-size="2" dy="-1">6</tspan></text>
<line x1="145.5" y1="199.6" x2="145.5" y2="253.6" stroke="#d25a7c" stroke-width="0.65"/>
<line x1="113.3" y1="232.4" x2="180" y2="232.4" stroke="#d25a7c" stroke-width="0.65"/>
<ellipse cx="136" cy="238.6" rx="15" ry="7.5" fill="url(#cl)" opacity=".4" transform="rotate(-14 136 238.6)"/>
<path d="M144.2 232.2h0M142.7 236.7h0M148.1 232h0M140.7 238.7h0M142.6 238.7h0M145.4 237.3h0M143.3 234.2h0M140.6 237.7h0M146.6 235.3h0M144.5 233.7h0M144.5 232.5h0M145.1 233.2h0M149 232.9h0M144.5 233.2h0M146.2 234.2h0M142.6 235.5h0M147.3 232h0M146.7 235.5h0M142.4 239.8h0M146.4 232.3h0M141.1 235.7h0M144.6 230.5h0M146.9 233.3h0M142.4 235.9h0M143.4 235.5h0M146 232.3h0M148 233.7h0M144.4 236.1h0M143.2 236.2h0M147.3 235.9h0M144.2 235h0M144.4 234.8h0M143.4 239.1h0M142.5 235.7h0M143.3 237.2h0M154.3 231.9h0M147.2 233.3h0M143.6 234h0M146.3 233.4h0M149.4 230.4h0M140.5 235.2h0M140.6 239.3h0M144.4 233.1h0M141 238.4h0M143.8 236h0M143.8 234.3h0M140.3 238.7h0M144.9 235h0M147.6 234h0M143.8 236.6h0M139.7 240.2h0M145.3 236.1h0M146.2 232h0M145.1 236.4h0M143.2 236.2h0M143.5 236.9h0M144.5 233.6h0M139.1 235.7h0M146.2 232.8h0M142.3 235.9h0M142.8 237.6h0M144.2 231.4h0M144.5 235.2h0M143.8 235.8h0M148.9 231.8h0M148.3 233.5h0M142.3 239.9h0M144.8 234.3h0M148.5 235.5h0M142 235.9h0M143.9 232.5h0M141.8 237.4h0M146.8 234h0M147.5 234.3h0M143.1 235.6h0M143.5 235.3h0M148 233.5h0M139.8 239.8h0M140.9 236.1h0M148.9 233.6h0M148 233.2h0M148.1 230h0M146 232.6h0M141.6 234.6h0M149.8 233.6h0M146.2 232.6h0M144.1 233.5h0M145.2 237.1h0M149.1 232.3h0M146.4 233.2h0M145.3 234h0M145.2 233.3h0M146.9 232.6h0M145 234.4h0M149.2 232.7h0M141.8 235.7h0M146.1 233.9h0M144.1 235.7h0M148.6 231.4h0M147.7 231.5h0M144.2 235.8h0M144 234.6h0M141.6 236.9h0M143.5 235.8h0M147.6 233.3h0M147.6 232.8h0M146.2 234.7h0M147.2 234.5h0M143.6 236.6h0M146.1 235.8h0M146.2 232.6h0M146.2 234.8h0M145.8 236.1h0M144.2 233.1h0M146 235.1h0M143.2 237.4h0M139.4 242.8h0M140.7 237.4h0M142.6 234.2h0M144.5 233.4h0M139.3 235.4h0M147.3 234.7h0M144 235.8h0M148.9 232.1h0M148.3 233.6h0M146.9 234h0M147.7 232.7h0M144.3 234h0M138.7 238.4h0M144.7 236.7h0M142.1 233.7h0M147.3 234.8h0M145.7 234.6h0M145.3 234.3h0M147.4 231.2h0M141.5 235.1h0M142.8 235.3h0M143.2 236.5h0M146.1 231.4h0M144.3 234h0M142.6 235.9h0M144.2 232.6h0M148.3 231.7h0M141.5 234.9h0M147.9 233.4h0M147 233.3h0M150.3 232.9h0M150.3 230.8h0M146.7 232.6h0M144.7 234.4h0M144.8 234.9h0M144.7 234.9h0M144.7 234.2h0M142.5 236h0M146.9 234.3h0M149.4 235.1h0M142.8 237.9h0M140.9 237.1h0M142.7 236.7h0M149.2 233.8h0M146.3 235.2h0M144.6 232.8h0M148.2 230.9h0M143.2 236h0M141.7 236.3h0M145.7 232.4h0M141.5 234.6h0M140.2 239.2h0M145.4 233.7h0M148 230.4h0M145.3 233.1h0M144.9 235.5h0M142.4 239.2h0M144.4 235.2h0M144.5 235.7h0M140.5 236.3h0M145.3 234h0M143.9 236.1h0M147.6 230.7h0M138.2 239.8h0M140.1 238.3h0M142.2 237h0M149.1 231h0M139.5 237.4h0M140.7 235.7h0M145.9 234.2h0M147.8 233.7h0M143.8 234.7h0M143.3 236h0M141.5 234.8h0M151.6 231.5h0M143.5 235.1h0M144 236.2h0M141.9 233.4h0M145.7 235h0M140 236.4h0M143.4 234.1h0M147.8 233.7h0M140.7 239.1h0M140.3 237.3h0M147.7 231.9h0M145.8 233.2h0M149.6 230.8h0M152.7 229.2h0M143.7 235.8h0M145.2 237.1h0M142.7 238.1h0M149.2 233h0M142.4 239.1h0M147.7 234.3h0M142.2 237.3h0M147.6 232.6h0M144.8 234.1h0M144.2 235.4h0M150.9 229.5h0M142.4 235h0M145.8 234.3h0M141.9 234.3h0M149.3 230.8h0M143 236.8h0M142.1 236.6h0M139.1 238.5h0M138.6 241.4h0M144.1 234.8h0M143.2 233.6h0M144.3 235.1h0M145.9 232.5h0M142.9 236.1h0M144.9 234.7h0M145.7 235.4h0M145.2 234.9h0M142.7 233.9h0M145.4 233.5h0M142.9 234h0M149.6 232.5h0M143.9 236.3h0M148.5 235.2h0M145.8 235.6h0M142.1 236.6h0M143.6 235.1h0M142 238h0M141.3 236.1h0M145.3 236.8h0M147.1 232.5h0M140.4 235.9h0M145.1 235.8h0M146.4 233.1h0M142.8 237.2h0M147.5 232.4h0M145.4 233.7h0M145.1 236.9h0M144.1 237.6h0M143.5 235.8h0M147.1 234h0M142.9 236.1h0M144.5 235.1h0M145 236h0M142.7 238h0M145.8 231.8h0M143.7 234.3h0M140.6 238.4h0M145.5 233.3h0M145.3 234.4h0M139.4 239h0M148.1 234.4h0M140.1 236.1h0M145.2 233.9h0M144.4 234.2h0M146.9 234.2h0M143.6 235.8h0M144.8 235.8h0M145.5 234.7h0M146.3 233.7h0M144.1 236.9h0M142.3 234.7h0M142.4 236.9h0M142.9 235.6h0M145.4 235h0M143.4 235.1h0M145.7 235.6h0M140.8 237.2h0M141.1 236.6h0M148.1 235.5h0M143.4 234.2h0M142.6 237.9h0M147.9 233.8h0M146 232.9h0M142.6 236.6h0M146.1 232.8h0M143 238.3h0M142.1 239.7h0M142.3 238h0M144.4 237.2h0M143.4 236h0M145.3 233.7h0M140.6 237.1h0M142.5 237h0M136.2 243.8h0M149.7 230.9h0M141.7 236.1h0M141.3 235.8h0M145.7 229.9h0M142.2 236.8h0M142.4 239.6h0M143.6 235.8h0M143.3 235.6h0M143.5 237.9h0M141.5 236.1h0M145.1 232.5h0M148.6 231h0M145.6 237h0M142.2 240h0M142 235.9h0M148.1 234.9h0M144.4 235.4h0M144.5 234.8h0M145.1 234.6h0M141.7 235.6h0M139 240h0M143 236.5h0M145.7 234h0M146.3 233.8h0M146.9 232.7h0M143.7 237h0M142.7 238.6h0M142.7 235.5h0M147.6 235.3h0M141.4 236.8h0M148.7 235.9h0M138.8 239.1h0M141.8 235.1h0M150.2 230.8h0M144.8 234.2h0M148.3 233h0M143.2 235.1h0M145.6 234h0M141.5 236.7h0M143.8 237.8h0M141.1 238.9h0M144.4 234.8h0M144 237.3h0M144.6 237.1h0M145.7 234.1h0M142.8 236.4h0M146 235.4h0M140.9 236.7h0M141.6 236.3h0M140.7 239.6h0M146.6 230.5h0M147.5 231.6h0M146.9 235.5h0M144.8 236.2h0M144.1 235.6h0M143.2 236.5h0M145.7 235.8h0M143.4 233.4h0M144.2 237.8h0M143 237.1h0M143.2 236.9h0M150 234.1h0M140.9 236.6h0M141.6 236.1h0M144.2 235.1h0M147.7 233.2h0M144.2 235.3h0M145.7 235.4h0M148.7 230.8h0M147.1 233.3h0M144.1 236.1h0M145.1 239.5h0M145.9 233.2h0M144.3 234.3h0M143.5 235.3h0M141.5 235.7h0M147.7 232.2h0M145.7 233.3h0M142.9 235.5h0M151.8 230.9h0M146.9 233.3h0M144.3 236.2h0M145.9 231.6h0M142.9 237.8h0M144.7 234.4h0M140.5 235.6h0M141.5 236.2h0M145 235.6h0M146.2 235h0M145 237.5h0M145.5 234.9h0M144.4 233.3h0M148.9 233.4h0M147 233.3h0M142.6 237.7h0M146.8 236.9h0M142.2 236.2h0M142.3 235.6h0M141 237.1h0M146.3 236.9h0M150.3 232.3h0M142.4 237.7h0M147.4 233.8h0M143.8 237.6h0M143.7 234.9h0M150 232h0M146.7 235.6h0M142.5 233.7h0M148 232.1h0M144.7 234.5h0M149.7 230.8h0M142 234.6h0M143.8 233.3h0M145.4 235.2h0M148.2 232.1h0M138.4 235.6h0M145 235.5h0M141.7 240.2h0M146.6 236.7h0M140.7 236h0M148.8 233.4h0M142 238.7h0M148 230.1h0M150.8 228.1h0M154.8 223.7h0M156.9 221.5h0M151.5 227.3h0M150.9 227.2h0M152.1 225.7h0M149.2 228.1h0M150.2 227.4h0M149.5 227.6h0M164.7 212.9h0M165.1 212.5h0M170.1 206.8h0M149.4 229.4h0M147.8 230.5h0M148.2 230.5h0M151.2 228.5h0M165.4 213.4h0M148.5 229.6h0M149.6 228.1h0M150.8 226.6h0M161.4 216.7h0M151.7 226.5h0M158 221.4h0M167.6 206.6h0M147.9 230h0M155.8 223.5h0M153 224.4h0M157.1 221.3h0M157.5 216.9h0M156.7 223.6h0M147.5 230.5h0M150.8 227.4h0M149.2 229.8h0M151.8 226.3h0M148.7 229.5h0M151.3 226.5h0M152.1 225.5h0M149.9 229.1h0M162.1 214.4h0M151.3 227h0M170.4 207.4h0M150.6 228.2h0M149.1 229.8h0M163 215.2h0M150.6 226.5h0M148.2 230.3h0M150.5 227.6h0M150 227.8h0M154.4 223.6h0M148.2 230.3h0M148.6 229.3h0M153.4 222.8h0M151.8 225.9h0M148.9 229.4h0M150 227.9h0M150.3 228.9h0M151.4 225.5h0M156.5 221.2h0M162 214.5h0M151 227.1h0M148.8 229.1h0M149.4 229.4h0M150.7 228.7h0M158.1 221.9h0M160.1 218h0M157.7 220.6h0M160.6 217.3h0M148.8 229.5h0M151 227.1h0M154.2 222.4h0M148.3 230.1h0M169.3 212.4h0M161.8 216.5h0M147.8 230.6h0M148.5 229.8h0M149.3 229h0M154.2 224.8h0M150.5 228.4h0M154 223.9h0M162.7 213h0M162.8 213.1h0M151.9 226.9h0M147.6 230.2h0M151.1 226.7h0M157.9 218.6h0M160.9 216.6h0M149.7 227.2h0M170.2 209.9h0M149.7 227.9h0M156.5 222.7h0M149.4 228h0M147.9 230.2h0M154.3 223.7h0M149.1 229.8h0M157 222.4h0M148 229.9h0M153 225h0M160.4 217.7h0M147.7 230.5h0M171.3 208.5h0M157.3 222h0M155.2 222.2h0M163.9 212.8h0M176.5 200.7h0M152.9 225.8h0M151.1 225.5h0M150.9 226.8h0M171.8 205.5h0M160.7 218.4h0M158.4 220.7h0M150.6 227.1h0M162.5 215.4h0M151.3 227h0M158.6 219.6h0M157.2 220.2h0M153.4 224.4h0M152.7 224.8h0M152.4 225.3h0M149.9 228.7h0M171.1 207.6h0M156.2 222h0M164.6 212.9h0M153.6 224.1h0M150 229.1h0M147.6 229.7h0M160 219.7h0M149.5 228.9h0M161.3 215.8h0M154.4 223.1h0M156.5 220.6h0M156.4 222.6h0M164.2 212.8h0M154.6 224.5h0M167 211.9h0M152.2 225h0M150.5 228.1h0M149.8 228.2h0M153.2 224.9h0M152.6 224.8h0M155.1 223.1h0M161.7 217.2h0M157.5 219.7h0M150.7 227.6h0M150.9 227.9h0M150.8 227h0M149 228.6h0M155.9 222.8h0M159.2 218.8h0M151.1 226.7h0M164.5 212.8h0M149.2 230h0M162.1 214h0M151.3 225.2h0M167.4 209.6h0M171.5 206.2h0M148.9 228.8h0M157.1 219.7h0M157.9 221.6h0M148 230h0M155.8 223.7h0M152.7 225h0M154.6 223.5h0M147.7 229.8h0M150.5 227.5h0M157.2 221h0M156.1 221.7h0M153.4 225h0M158.3 220.7h0M149.1 228.7h0M147.5 230.3h0M154.3 224.8h0M150 228.2h0M148.5 229.2h0M148.1 230.4h0M160.9 215.8h0M155.2 223.5h0M153.8 224.5h0M150.6 227.6h0M155.7 222.1h0M154.2 224h0M171.6 208.8h0M168.7 208.2h0M150.7 227.1h0M161.2 216.7h0M169.2 208.1h0M160.5 216.3h0M152.3 226.1h0M150.4 228.3h0M176.7 204.7h0M152.7 225.6h0M147.9 230.6h0M148.7 229.1h0M156.9 220.1h0M151.4 226.9h0M149.4 229h0M148.2 229.9h0M153.2 224.6h0M172.8 203.1h0M164.3 210.7h0M173 202.9h0M149.5 228.7h0M152 227.6h0M174.1 203.6h0M156.8 219.7h0M159 219.8h0M148.5 229.2h0M148.4 230.3h0M149.4 229.4h0M147.6 230.5h0M163.7 215.2h0M161.6 217.5h0M156.2 221.8h0M151.4 227.9h0M148.2 229.8h0M151.6 228.2h0M148.7 228.9h0M149.8 228.4h0M149.5 228.2h0M157.8 220.1h0M153 225h0M154.7 223.2h0M168.7 210.2h0M148.4 230.2h0M147.7 232.6h0M148 231.9h0M159.5 226.9h0M148.7 232h0M150.6 231.5h0M148.1 232.7h0M153.6 229.8h0M148.6 232.1h0M149.9 231.5h0M158.6 226.4h0M153.8 227.8h0M150.6 231.2h0M147.5 232.5h0M160.7 223.8h0M149.5 231.9h0M148 232.1h0M157.8 226.7h0M150.8 230.4h0M153.5 229.8h0M149.2 231.4h0M152.8 230.9h0M147.9 232.4h0M148.4 231.6h0M148.8 231.9h0M152.5 229.5h0M148 231.8h0M148.8 232.2h0M147.1 232.3h0M147.7 232.7h0M150.2 230.8h0M148 232.8h0M148.3 232.8h0M152.9 229.9h0M154.3 227.7h0M148.6 231h0M147.2 232.6h0M148.1 232h0M147.6 232.2h0M147.8 231.7h0M149.8 232h0M179.2 214.2h0M148.8 231.8h0M150 231.2h0M150.5 231h0M147.6 232.8h0M158.2 227.5h0M148.6 232.3h0M150.6 230.2h0M154 230.1h0M159 226.2h0M156 227.9h0M148.9 232h0M148.3 231.5h0M163.7 223.4h0M148.6 231.5h0M148.5 232.1h0M148.9 231.9h0M148.8 232.2h0M166 222h0M150.9 230.8h0M177.5 217.2h0M147.7 231.9h0M149.3 231.3h0M147.9 231.9h0M150.4 230.8h0M148.4 232.3h0M148.9 232.1h0M153.5 228.7h0M150.9 230.5h0M154.2 229.8h0M150.3 229.9h0M150.2 230.8h0M149.4 232h0M170.4 219.1h0M153.7 228.7h0M154.7 228.4h0M155.4 229.4h0M149.1 231h0M147.4 232.4h0M153.9 228.7h0M155.7 228.7h0M148.8 232.4h0M148.8 231.9h0M160.8 225.2h0M150.4 231.9h0M156.7 228h0M153.5 228.1h0M161.2 226.5h0M159.2 225.6h0M149 232.4h0M151.7 230.9h0M152.8 230.1h0M155.2 228.5h0M148.5 232.6h0M153.9 227.8h0M147.7 232h0M147.1 232h0M150.6 231.9h0M148.4 232.5h0M157.3 227.6h0M162.6 222.4h0M157.6 228.4h0M149.7 231.8h0M165.4 222.5h0M151.3 230.9h0M149.9 230.9h0M150 230.8h0M152.1 230.7h0M155.8 228h0M153.7 229.1h0M151.7 230.6h0M150.5 230.7h0M150.4 231.6h0M149.6 230.2h0M153.2 229.6h0M159.2 226.2h0M148.5 231.5h0M153.4 229.3h0M147.8 232.3h0M163.6 223.9h0M157.9 227h0M165 222.2h0M148.8 231.1h0M149.5 231.3h0M149.2 231.6h0M131 237.3h0M123.5 234.1h0M158.8 232.2h0M131.4 244h0M133.9 240.9h0M144.9 236.6h0M137 234.9h0M133 240.1h0M137.7 246.4h0M144.1 227.2h0M131.4 239.5h0M131.6 238.5h0M135.1 242.2h0M133.4 233.2h0M136.2 246.1h0M139.6 235.8h0M146.3 237.9h0M151.9 249.2h0M142 242.4h0M147.1 238.5h0M135.1 241.7h0M130.8 240.6h0M129.8 233h0M136.2 242.4h0M119.8 243.4h0M141.9 238.7h0M146.1 243.4h0M132.2 246.2h0M147.9 229.4h0M129.9 241.6h0M134.3 243.3h0M140.9 234.9h0M151.7 232h0M140.7 239.9h0M134.1 237h0M144.6 237.3h0M130.6 241.4h0M126.3 237.9h0M147.4 232.9h0M137.5 237h0M131.9 235.9h0M137.2 239.1h0M141.5 236.6h0M141.6 239.4h0M142 241.8h0M130.9 240.3h0M121.9 243.2h0M116.5 243.8h0M137 235.4h0M131.2 239.7h0M139.6 239.2h0M137.2 235.7h0M140.1 236.9h0M134.2 236.1h0M144.3 240.6h0M134.5 235.7h0M135.1 240.9h0M131.4 236.6h0M150 232.7h0M126.2 235.7h0M146 234.7h0M132.9 239h0M129.7 240.5h0M159.4 233.6h0M142.3 237.4h0M136.4 246.4h0M136.2 248.3h0M130.9 237.2h0M130.6 243.5h0M135.4 232.7h0M143.5 239.9h0M140.4 238.1h0M133.7 237.2h0M134.2 248.4h0M143.4 238.5h0M132.1 244.1h0M136.6 235.1h0M134.8 246.4h0M127.3 238.2h0M142.9 236.2h0M127.2 243.1h0M136.5 239.3h0M135.5 242.3h0M127.3 233.1h0M131 242.4h0M120.2 241.8h0M136.7 236.8h0M137.4 233.8h0M141.6 239.1h0M143.6 237.6h0M132.3 244.9h0M141.5 242.2h0M120.3 238.2h0M130.7 237.9h0M125.8 240h0M145.4 236.9h0M136.2 238.1h0M139.6 239h0M137.9 236.9h0M134.5 248.1h0M145.6 233.2h0M131.2 240.1h0M135 238.2h0M146 232.4h0M120.5 236.5h0M125.5 237.9h0M135.9 244h0M127.4 235h0M143 236.3h0M148.4 237.9h0M137 238.1h0M132 245h0M142.5 236h0M136.9 241.4h0M135.7 244h0M141.2 233.8h0M133.5 242.7h0M133.8 240.4h0M139.6 240.8h0M138.2 235.1h0M140.6 237.4h0M142.2 237.5h0M137.6 236.3h0M140.3 245h0M139.8 243.5h0M131.7 247.2h0M124.5 245.8h0M132.7 239h0M131.3 243.2h0M140.3 237.7h0M131.2 239.4h0M137.4 242.3h0M147 241.4h0M144.8 226.4h0M140.2 231.3h0M146.9 239.3h0M132.4 242.9h0M136.7 234.6h0M132.6 237.4h0M140.9 237.4h0M139.8 241.2h0M143.8 240.9h0M124.9 243h0M137.6 241.9h0M122 248h0M133.1 240.9h0M136.9 233.1h0M148.7 240.9h0M140.4 242.9h0M145.6 237.9h0M140 240.8h0M137 239.2h0M122.9 238.9h0M144.8 235.5h0M149 236.8h0M137 229.8h0M142.5 232.5h0M139.6 240.2h0M135.2 237.4h0M139.1 239.6h0M146.2 234.3h0M132.3 244.9h0M129.3 241.9h0M136 233.5h0M120.8 237.7h0M138 241.2h0M132 241.7h0M131 244.8h0M125.1 247.6h0M137 240.5h0M147.2 235.5h0M144.4 232.6h0M141.3 236.8h0M146.4 238.1h0M128.1 242.5h0M145.5 232.4h0M140.6 238.8h0M130.7 237.4h0M131.5 239.2h0M145.3 235.2h0M130.5 242.4h0M156.1 234.5h0M129 245.8h0M128.5 238.6h0M143.6 234.9h0M133.3 240.2h0M124 238.4h0M136.9 232.8h0M130.5 242.1h0M143.6 226.2h0M135.9 241.7h0M144.3 239h0M127.3 238.5h0M134.3 240.5h0M119.1 246.5h0M149.2 231.5h0M140 228.7h0M136.4 234.4h0M119.2 245.2h0M138.3 237.6h0M130.2 242.1h0M138.8 237.2h0M137.8 245.5h0M129.7 245h0M132.1 237.9h0M132.3 239.7h0M139.7 246.7h0M148.1 232h0M136.4 230.8h0M131 234h0M147 231.1h0M139.3 238.5h0M143.8 241.9h0M135 237.3h0M142.9 246.3h0M134.8 236.4h0M139.5 236.4h0M133.9 234.5h0M134.5 241.6h0M136.4 244.7h0M136.4 238.5h0M134.3 245h0M145.2 237.8h0M131.1 237.8h0M119.3 245h0M130.7 244h0M134.9 234.8h0M138.2 238.5h0M131.2 243h0M123.9 245.8h0M137.8 239.1h0M137.6 239.2h0M133.2 238.8h0M142.5 237.6h0M130.2 234.1h0M144.5 235.3h0M127 234.3h0M137.7 231h0M147.8 232.1h0M140.8 229.9h0M127.9 243.1h0M137.2 237.4h0M139.6 243.4h0M134.7 240.3h0M133.7 233.6h0M121.5 249.3h0M140.6 235.7h0M145 227.8h0M135.2 245h0M136.9 240.2h0M121.6 244.6h0M139 235.4h0M140.1 236.9h0M126.5 244.7h0M146.3 235.4h0M141.9 241.4h0M159.3 230.8h0M133.3 237.8h0M133.6 239.8h0M135.8 242.5h0M145.1 239.8h0M130.3 235.7h0M147.3 229.7h0M129.7 239.4h0M148.6 232.7h0M126.8 243.6h0M140.5 240.8h0M148.1 236.2h0M136 236.1h0M135.5 238.3h0M146.8 232.4h0M149.2 232.5h0M143.9 232.7h0M140.3 236.2h0M144.2 233.3h0M126.6 242h0M128.9 239.7h0M136.4 242.3h0M140.5 240.8h0M143.6 232.9h0M138.2 243h0M136.5 241.4h0M129.3 236.7h0M136.3 233.7h0M129.6 238h0M138.3 233.7h0M132.5 244h0M145.4 233.6h0M153.2 240.2h0M142 238.9h0M127.2 239.9h0M156.1 231.3h0M123.8 244.8h0M152 237.5h0M142.2 233.7h0M130.2 235.6h0M152 229.8h0M140.8 239.5h0M143.7 232.1h0M144.9 239.6h0M142.1 240.5h0M126 235.2h0M158.2 232.1h0M134.5 242.1h0M156.5 233.5h0M133.4 232.1h0M139.3 243.3h0M128.1 237.5h0M137.5 242.8h0M142 242.9h0M124 244.8h0M129 235.8h0M160.5 237.2h0M132.4 250h0M121.1 241.3h0M141 228.6h0M145.5 231h0M135.5 246.1h0M136.3 238.2h0M134.5 240.9h0M127.6 238.9h0M143.1 230.2h0M129.4 239.1h0M131.1 243.2h0M144.9 237.7h0M145.6 239.9h0M134.7 229.5h0M137.7 233.9h0M147.2 238.3h0M143.3 233.9h0M139 242.9h0M132 246.6h0M125.4 245.7h0M142.6 242.4h0M153.7 237.6h0M141.9 240.5h0M148.1 231.2h0M136.2 244.2h0M138.4 237.1h0M134 235.4h0M146.4 235.8h0M126.2 241.2h0M123 244.4h0M144.4 245.1h0M132.4 240.8h0M140.7 236.1h0M149.2 237.5h0M131.9 234.2h0M128.4 242.3h0M120.8 246.3h0M119.2 240.5h0M141.4 232.7h0M134.2 240.8h0M132.5 239.7h0M152.9 235.7h0M129.4 230.5h0M148.3 239.4h0M130.9 235.9h0M129.6 244.4h0M145.6 239.4h0M137.5 229.6h0M131.6 233.7h0M135.7 237.3h0M135.4 234.3h0M148 241.3h0M142.4 231.8h0M131.7 239.9h0M133.9 239.1h0M138.2 239h0M128 243.5h0M127.7 240.7h0M143.1 237h0M151.3 238h0M149.8 235.9h0M122.3 246.7h0M132.6 238.9h0M156.9 235.7h0M138.3 234.7h0M140.7 236.6h0M132.9 246.4h0M142 234.5h0M150 232h0M141.3 236.7h0M134.6 238.5h0M138.1 241h0M140.7 234.8h0M145.1 240.8h0M143.2 237.2h0M127.5 242.6h0M115.2 248h0M135.5 237.8h0M139.4 241.5h0M133.3 247h0M117.6 243.5h0M131.1 236.3h0M128.3 240h0M134.2 247.8h0M150.1 238.5h0M123.2 238.6h0M135.7 240.4h0M137.2 239.7h0M132.7 236.7h0M134 242h0M150.9 233.8h0M132 235.8h0M139.8 238h0M120.2 242.2h0M152.1 233.7h0M144.6 235.7h0M132.8 240.8h0M149.6 236.2h0M124.2 243.2h0M133.4 243.8h0M127.3 240.4h0M122.5 245.1h0M139.1 232.3h0M138 235.3h0M126.4 243.3h0M120.3 242.8h0M139.5 239.2h0M134.3 240h0M141.9 241.1h0M128.7 247.3h0M115 244.7h0M141.9 233.4h0M138.3 241.3h0M139.6 237.8h0M140.9 233.7h0M126.7 241h0M128.2 237.3h0M142 237.4h0M131.5 241.9h0M136.7 234.8h0M147.9 231.1h0M142.9 232.1h0M139.7 235.4h0M141.5 236.2h0M138.5 239.3h0M135.1 236.3h0M136.6 241.8h0M135.6 243.5h0M149.5 238.4h0M147.4 238.6h0M136.7 238.6h0M153.8 235.2h0M131.1 235h0M139.9 232.4h0M141.8 234.2h0M137.3 233.2h0M138.9 239.2h0M126.2 239.8h0M133.2 233h0M139 235.4h0M128.4 245h0M135.7 240.8h0M133.4 236.5h0M133 233.8h0M128.1 243.6h0M134 243.8h0M138.4 238.1h0M140.5 236h0M156.3 232.7h0M132.4 241.8h0M145.7 242.2h0M145.9 235.8h0M133.1 236.4h0M127.3 244.1h0M134.4 242.4h0M132 240.5h0M124.9 237.2h0M142.1 232h0M156.7 229.2h0M146.5 238.5h0M143.4 239h0M130.3 239.3h0M127.4 240.2h0M146.9 234.4h0M140.5 242h0M142.1 234.2h0M142.5 235.2h0M142.8 231.7h0M140.1 234.4h0M131.3 241h0M154.1 230h0M138.2 244.6h0M149.4 231.4h0M146.2 231.2h0M147.3 238.8h0M123.6 247.5h0M134.3 242.6h0M126.6 239.3h0M122.7 242.8h0M148.8 236.6h0M142.2 239.4h0M134.7 239.6h0M152.4 237.8h0M145 228.3h0M129.3 241.9h0M137 235.7h0M145.3 234.2h0M148.8 238.8h0M139.2 242.1h0M136.1 234h0M126.7 237h0M139.5 244.3h0M138 242.6h0M136.2 234.9h0M136.4 238h0M137.1 234.6h0M139.1 236.1h0M114.6 239.5h0M144.1 234.5h0M138.2 237.8h0M144.1 236.1h0M132.7 237.3h0M124.6 238h0M139.9 241h0M143.9 236.2h0M163.5 235.2h0M130.8 235.4h0M143.1 235.6h0M132.1 240.7h0M152.3 236.8h0M153.2 238.5h0M131.4 244.8h0M142.9 237.5h0M131.1 237h0M138.2 240.6h0M140.4 241h0M144.6 236h0M149.8 232.9h0M135.8 242.3h0M124.9 234.8h0M152.5 230.1h0M143.1 233.7h0M128.5 238.7h0M137.7 233.6h0M127.5 239.3h0M115.8 239.5h0M114.6 236.3h0M116.9 241.5h0M125.3 251.4h0M148.1 235.8h0M120.8 235.7h0M138.3 242.6h0M131.2 245.7h0M130 243.7h0M132 249.7h0M147.1 233.9h0M147.8 235.9h0M130.6 236.9h0M140.1 239.9h0M143.5 245.8h0M115.2 234.5h0M126.9 241.6h0M139 244.1h0M125.8 247.1h0M138.4 247.7h0M133.6 230.4h0M145.8 230.6h0M124.9 240.7h0M114.6 229.9h0M115.2 249.7h0M141 249h0M127.6 233.5h0M118.1 251.2h0M145.7 249.1h0M137 230.2h0M137.9 239.3h0M144.2 230.3h0M135.9 241.9h0M120.2 237.4h0M114.3 232.9h0M147.9 230.9h0M146.1 236.9h0M145.7 246.4h0M120.7 240.6h0M116.8 246.8h0M125.2 234.9h0M142 232h0M122.2 236.6h0M117.3 244.1h0M131.1 232.3h0M128.8 248h0M139.9 236.5h0M132.2 239.7h0M146.6 230.2h0M138.8 234h0M135 243.9h0M121.5 232.1h0M138.9 236.7h0M118 249.3h0M137 242.1h0M116.7 249.5h0M142.5 242h0M121.4 248.9h0M128.3 242.5h0M121.9 252.1h0M147.6 232.2h0M120.4 234.3h0M127.7 245.4h0M121.9 238.5h0M140.9 250.9h0M135.9 241h0M134.8 245.5h0M133.3 239.4h0M147.9 229.6h0M130.1 236.6h0M145.5 245.7h0M141 241.6h0M129.1 235.1h0M140.9 247.4h0M141.5 239h0M115.3 238.4h0M117.8 245.5h0M130.9 251.8h0M127.1 234.4h0M130.6 250.8h0M139.9 243.4h0M145.3 232.6h0M141.8 244.3h0M142.3 249.8h0M118.5 237h0M145.4 248.2h0M120.5 238.9h0M145.5 236.7h0M131.1 241.9h0M121.2 234.8h0M147 232.5h0M132.6 250h0M145.2 250.5h0M131.2 235.4h0M137.7 250.5h0M148.1 231.7h0M137.1 250.6h0M123.9 240.8h0M148.4 240.2h0M148.8 247.4h0M126.1 246.8h0M145.7 232.5h0M128.5 243.5h0M124.6 230h0M146 235.2h0M138.2 236.1h0M146.5 241.3h0M121.4 248.1h0M123.8 247.2h0" stroke="#222" stroke-width=".4" stroke-linecap="round" opacity=".32" fill="none"/>
<ellipse cx="144.6" cy="234.9" rx="6" ry="2.1" fill="url(#cg)" opacity=".88" transform="rotate(-40 144.6 234.9)"/>
<ellipse cx="145.5" cy="232.8" rx="2.2" ry=".9" fill="#b01030" opacity=".35" transform="rotate(-40 145.5 232.8)"/>
<text x="114.5" y="203" font-size="3.9" fill="#c23a5e">Q1-UL</text>
<text x="114.5" y="206.2" font-size="3.9" fill="#c23a5e">1.9%</text>
<text x="179.2" y="203" font-size="3.9" fill="#c23a5e" text-anchor="end">Q1-UR</text>
<text x="179.2" y="206.2" font-size="3.9" fill="#c23a5e" text-anchor="end">11.7%</text>
<text x="114.5" y="249.6" font-size="3.9" fill="#c23a5e">Q1-LL</text>
<text x="114.5" y="252.7" font-size="3.9" fill="#c23a5e">74.2%</text>
<text x="179.2" y="249.6" font-size="3.9" fill="#c23a5e" text-anchor="end">Q1-LR</text>
<text x="179.2" y="252.7" font-size="3.9" fill="#c23a5e" text-anchor="end">12.2%</text>
<text x="144.5" y="229.4" font-size="3.9" fill="#c23a5e" text-anchor="end">Q1</text>
<text x="145.7" y="262.4" font-size="3.3" fill="#333" text-anchor="middle" letter-spacing=".15">TREM2-A</text>
<text x="104.7" y="231.4" font-size="3.2" fill="#333" text-anchor="middle" transform="rotate(-90 104.7 231.4)">pTau-A</text>
<text x="237.8" y="196.2" font-size="6.8" fill="#1878c0" font-weight="bold" text-anchor="middle" textLength="23.4" lengthAdjust="spacingAndGlyphs">FL-HFD</text>
<rect x="203.3" y="199.6" width="67.1" height="54" fill="#fff" stroke="#8d8de0" stroke-width=".6"/>
<line x1="203.3" y1="199.6" x2="203.3" y2="253.6" stroke="#2626cc" stroke-width="0.8"/>
<line x1="203.3" y1="253.6" x2="270.4" y2="253.6" stroke="#2626cc" stroke-width="0.8"/>
<path d="M206.6 253.6v1.8M203.3 250.9h-2M208.6 253.6v1.8M203.3 249.4h-2M209.9 253.6v1.8M203.3 248.3h-2M211 253.6v1.8M203.3 247.4h-2M211.9 253.6v1.8M203.3 246.7h-2M212.6 253.6v1.8M203.3 246.1h-2M213.2 253.6v1.8M203.3 245.6h-2M213.8 253.6v1.8M203.3 245.1h-2M217.6 253.6v1.8M203.3 242.1h-2M219.6 253.6v1.8M203.3 240.5h-2M220.9 253.6v1.8M203.3 239.4h-2M222 253.6v1.8M203.3 238.5h-2M222.9 253.6v1.8M203.3 237.8h-2M223.6 253.6v1.8M203.3 237.2h-2M224.3 253.6v1.8M203.3 236.7h-2M224.8 253.6v1.8M203.3 236.3h-2M228.6 253.6v1.8M203.3 233.2h-2M230.6 253.6v1.8M203.3 231.6h-2M232 253.6v1.8M203.3 230.5h-2M233 253.6v1.8M203.3 229.7h-2M233.9 253.6v1.8M203.3 229h-2M234.6 253.6v1.8M203.3 228.4h-2M235.3 253.6v1.8M203.3 227.9h-2M235.8 253.6v1.8M203.3 227.4h-2M239.7 253.6v1.8M203.3 224.3h-2M241.6 253.6v1.8M203.3 222.8h-2M243 253.6v1.8M203.3 221.7h-2M244 253.6v1.8M203.3 220.8h-2M244.9 253.6v1.8M203.3 220.1h-2M245.7 253.6v1.8M203.3 219.5h-2M246.3 253.6v1.8M203.3 219h-2M246.9 253.6v1.8M203.3 218.5h-2M250.7 253.6v1.8M203.3 215.5h-2M252.6 253.6v1.8M203.3 213.9h-2M254 253.6v1.8M203.3 212.8h-2M255.1 253.6v1.8M203.3 211.9h-2M255.9 253.6v1.8M203.3 211.2h-2M256.7 253.6v1.8M203.3 210.6h-2M257.3 253.6v1.8M203.3 210.1h-2M257.9 253.6v1.8M203.3 209.7h-2M261.7 253.6v1.8M203.3 206.6h-2M263.6 253.6v1.8M203.3 205h-2M265 253.6v1.8M203.3 203.9h-2M266.1 253.6v1.8M203.3 203.1h-2M266.9 253.6v1.8M203.3 202.4h-2M267.7 253.6v1.8M203.3 201.8h-2M268.3 253.6v1.8M203.3 201.3h-2M268.9 253.6v1.8M203.3 200.8h-2" stroke="#2020c8" stroke-width=".55"/>
<line x1="200.9" y1="253.6" x2="203.3" y2="253.6" stroke="#2222cc" stroke-width="0.65"/>
<text x="200.5" y="254" font-size="2.7" fill="#3333cc" text-anchor="end" transform="rotate(-55 200.5 254)">10<tspan font-size="2" dy="-1">0</tspan></text>
<line x1="203.3" y1="253.6" x2="203.3" y2="256" stroke="#2222cc" stroke-width="0.65"/>
<text x="204.3" y="258.6" font-size="2.7" fill="#3333cc" text-anchor="middle" transform="rotate(-35 204.3 258.6)">10<tspan font-size="2" dy="-1">0</tspan></text>
<line x1="200.9" y1="244.7" x2="203.3" y2="244.7" stroke="#2222cc" stroke-width="0.65"/>
<text x="200.5" y="245.1" font-size="2.7" fill="#3333cc" text-anchor="end" transform="rotate(-55 200.5 245.1)">10<tspan font-size="2" dy="-1">1</tspan></text>
<line x1="214.3" y1="253.6" x2="214.3" y2="256" stroke="#2222cc" stroke-width="0.65"/>
<text x="215.3" y="258.6" font-size="2.7" fill="#3333cc" text-anchor="middle" transform="rotate(-35 215.3 258.6)">10<tspan font-size="2" dy="-1">1</tspan></text>
<line x1="200.9" y1="235.9" x2="203.3" y2="235.9" stroke="#2222cc" stroke-width="0.65"/>
<text x="200.5" y="236.3" font-size="2.7" fill="#3333cc" text-anchor="end" transform="rotate(-55 200.5 236.3)">10<tspan font-size="2" dy="-1">2</tspan></text>
<line x1="225.3" y1="253.6" x2="225.3" y2="256" stroke="#2222cc" stroke-width="0.65"/>
<text x="226.3" y="258.6" font-size="2.7" fill="#3333cc" text-anchor="middle" transform="rotate(-35 226.3 258.6)">10<tspan font-size="2" dy="-1">2</tspan></text>
<line x1="200.9" y1="227" x2="203.3" y2="227" stroke="#2222cc" stroke-width="0.65"/>
<text x="200.5" y="227.4" font-size="2.7" fill="#3333cc" text-anchor="end" transform="rotate(-55 200.5 227.4)">10<tspan font-size="2" dy="-1">3</tspan></text>
<line x1="236.3" y1="253.6" x2="236.3" y2="256" stroke="#2222cc" stroke-width="0.65"/>
<text x="237.3" y="258.6" font-size="2.7" fill="#3333cc" text-anchor="middle" transform="rotate(-35 237.3 258.6)">10<tspan font-size="2" dy="-1">3</tspan></text>
<line x1="200.9" y1="218.1" x2="203.3" y2="218.1" stroke="#2222cc" stroke-width="0.65"/>
<text x="200.5" y="218.5" font-size="2.7" fill="#3333cc" text-anchor="end" transform="rotate(-55 200.5 218.5)">10<tspan font-size="2" dy="-1">4</tspan></text>
<line x1="247.4" y1="253.6" x2="247.4" y2="256" stroke="#2222cc" stroke-width="0.65"/>
<text x="248.4" y="258.6" font-size="2.7" fill="#3333cc" text-anchor="middle" transform="rotate(-35 248.4 258.6)">10<tspan font-size="2" dy="-1">4</tspan></text>
<line x1="200.9" y1="209.3" x2="203.3" y2="209.3" stroke="#2222cc" stroke-width="0.65"/>
<text x="200.5" y="209.7" font-size="2.7" fill="#3333cc" text-anchor="end" transform="rotate(-55 200.5 209.7)">10<tspan font-size="2" dy="-1">5</tspan></text>
<line x1="258.4" y1="253.6" x2="258.4" y2="256" stroke="#2222cc" stroke-width="0.65"/>
<text x="259.4" y="258.6" font-size="2.7" fill="#3333cc" text-anchor="middle" transform="rotate(-35 259.4 258.6)">10<tspan font-size="2" dy="-1">5</tspan></text>
<line x1="200.9" y1="200.4" x2="203.3" y2="200.4" stroke="#2222cc" stroke-width="0.65"/>
<text x="200.5" y="200.8" font-size="2.7" fill="#3333cc" text-anchor="end" transform="rotate(-55 200.5 200.8)">10<tspan font-size="2" dy="-1">6</tspan></text>
<line x1="269.4" y1="253.6" x2="269.4" y2="256" stroke="#2222cc" stroke-width="0.65"/>
<text x="270.4" y="258.6" font-size="2.7" fill="#3333cc" text-anchor="middle" transform="rotate(-35 270.4 258.6)">10<tspan font-size="2" dy="-1">6</tspan></text>
<line x1="235.5" y1="199.6" x2="235.5" y2="253.6" stroke="#d25a7c" stroke-width="0.65"/>
<line x1="203.3" y1="233" x2="270.4" y2="233" stroke="#d25a7c" stroke-width="0.65"/>
<ellipse cx="226.6" cy="238.2" rx="15" ry="7.5" fill="url(#cl)" opacity=".3" transform="rotate(-14 226.6 238.2)"/>
<path d="M234.9 235.6h0M234.3 234.8h0M232.6 236.3h0M238.2 232.7h0M237.8 232.7h0M236.2 234h0M231.7 238.9h0M236.8 234.1h0M229.5 236.3h0M232.5 236h0M235.8 233.9h0M235.8 232.9h0M236.2 234.4h0M234.9 237.7h0M237.5 234.6h0M233 235.1h0M234.2 235.2h0M236.9 233.5h0M233.2 234.6h0M234.8 236.9h0M233.3 236.5h0M234.9 232.2h0M236.3 235.8h0M229.9 238.4h0M234.2 234h0M236.3 233.5h0M232.2 238.4h0M237.5 234.2h0M238.9 232h0M234.3 233.1h0M236.1 232.7h0M232.9 234.3h0M232.3 236.1h0M236.6 229.9h0M231.7 237.8h0M239.1 232.2h0M228.3 236h0M235.4 233.1h0M233.2 237.9h0M237.9 232.5h0M236.1 234.5h0M239.5 231.9h0M236.8 234.1h0M232.3 239.1h0M237.9 233.2h0M229.7 238h0M235.7 231.1h0M235.5 236h0M233.2 238.9h0M236.3 233.3h0M236.4 234.6h0M236.4 235.5h0M233.1 235.5h0M237.7 232.5h0M233.7 237.4h0M238.3 231.1h0M231.6 237.3h0M234.5 234.6h0M237.7 230.7h0M237.1 230.7h0M233.7 236.8h0M238.6 233.1h0M236.1 234h0M236 234.9h0M234.9 235.2h0M236.5 233.4h0M237.4 233.6h0M240.3 230.8h0M233.7 235.1h0M235.8 235.5h0M234.6 235.7h0M237.5 228.3h0M232.5 237.2h0M236.3 234h0M234.6 236.1h0M235.4 233.5h0M241.4 230h0M233.7 235.6h0M234.5 235h0M228 239.7h0M236.6 231.4h0M235.7 235.7h0M238.4 234.3h0M230.6 237.7h0M234.8 235.9h0M235.5 229.7h0M236.6 230.9h0M235.5 231.7h0M236.5 235.4h0M234.9 235.1h0M237.2 233.1h0M236.2 236.3h0M237.4 232.2h0M240.9 227.8h0M237.1 232.5h0M236 235h0M236.2 234.8h0M230.1 236.2h0M235.8 232.4h0M231.4 235.2h0M238.8 232.7h0M237.9 230.6h0M234.1 233.5h0M238.3 234.6h0M234.2 238h0M237.4 232.4h0M231.4 240.1h0M234.4 234.2h0M236.4 234.2h0M237.9 230.5h0M239.1 233.7h0M238.5 231.4h0M234.1 237.1h0M235.5 234.5h0M238.4 231.4h0M229.1 238.9h0M231.2 239.2h0M235.4 233.3h0M235.8 235.4h0M236.4 235.8h0M235.8 235.8h0M240.1 233.1h0M234.2 236.9h0M229.6 237.4h0M231.2 239.7h0M232.1 237.1h0M234.6 235h0M233.8 236h0M239.5 231h0M237.2 234.5h0M233.6 233.8h0M234.6 236.8h0M230.6 237.4h0M238.2 233.3h0M235.8 235.4h0M234.5 233.1h0M230.7 237.2h0M236.9 232.1h0M232.2 235.7h0M231.2 237.6h0M232.5 237.4h0M229.6 239.8h0M231.9 234h0M236.6 232.8h0M228.9 238.3h0M235.4 233.5h0M237.6 233.7h0M237 233.6h0M238.9 232.5h0M234.5 231.6h0M238.4 234.1h0M234 234.7h0M238.4 228.9h0M238.3 236h0M233.4 237.2h0M239.6 230.6h0M237.2 234.3h0M232.8 236.4h0M236.5 234.8h0M234.9 234.5h0M232.3 236.3h0M237.4 232.9h0M232.3 235.5h0M242.6 230.3h0M234.5 230.7h0M237 233.8h0M239.6 231.6h0M235.4 235.3h0M231.2 239.6h0M235.3 233.2h0M239.9 233.7h0M231.1 236.8h0M236 234.2h0M233.3 234.4h0M241.2 231.3h0M231 235.7h0M240.1 232.1h0M240.2 231.7h0M233.2 236.7h0M229.2 238.3h0M235.4 235.2h0M233.2 236h0M236.5 234h0M236.8 233.5h0M235 236.1h0M234.5 233.7h0M233.6 235.9h0M235 235h0M235.2 234.8h0M233.7 233.6h0M237 234.8h0M236 233.5h0M235.4 232.7h0M230.5 238.6h0M233.4 237.3h0M230.2 234.2h0M233.9 238.3h0M233 234h0M233.7 236.7h0M236.5 233.8h0M239.3 232.3h0M235.5 235.2h0M240 232.2h0M236.7 231.4h0M235.3 235.6h0M235.3 236.3h0M237.3 234.3h0M236.7 237.6h0M238 231.8h0M237.5 237h0M235 236.2h0M237.5 232.6h0M232.4 237.2h0M236.9 235h0M237 233h0M237.6 233.4h0M235.7 234.2h0M235.1 235.8h0M232 236.1h0M233.9 233.1h0M232.4 233.5h0M233.9 236.6h0M236.4 233.4h0M233.3 233.7h0M240 231.4h0M237 231.5h0M233.1 233.2h0M237.8 233.9h0M230.4 238.5h0M235.2 231.5h0M229.7 237.3h0M232.4 234.5h0M235.4 234.8h0M237.2 234h0M239.8 232.7h0M231.5 236.8h0M231.6 235.7h0M234.9 234.8h0M235 232h0M232 237.1h0M234.4 234.7h0M234.3 234h0M237.1 233.5h0M234.3 234.1h0M232.4 232.2h0M232.7 236.7h0M231.6 237.9h0M234.3 232.9h0M234.2 234.8h0M236.7 234.3h0M234.3 233.8h0M234.7 234.8h0M237.1 233.4h0M232.2 234.7h0M233.6 234.6h0M232.3 236.8h0M234 235.7h0M236 233.1h0M240.5 229.5h0M237.9 232.5h0M235.9 229.9h0M233.5 236.4h0M238.5 235.7h0M237 235.2h0M237.8 234h0M236.2 233.4h0M235.4 232.5h0M237.1 231.2h0M237.5 236.2h0M234.6 235.1h0M238 232.2h0M233.3 236.5h0M237.1 234.1h0M234.7 237.9h0M239.2 231.2h0M235.4 233.6h0M238 231h0M236.4 232.7h0M234 236.7h0M238.4 231.8h0M234.1 236.8h0M235.2 235h0M239.8 232.6h0M235.7 237.9h0M235.8 235.4h0M233.5 235.9h0M232.3 240h0M237.4 230.6h0M230.1 236.1h0M237.6 231.7h0M234.7 234.4h0M233.9 233.8h0M234 233.1h0M235.2 235.1h0M236.1 233.4h0M233 236.6h0M235.2 237.2h0M236.9 232.9h0M233.4 234.9h0M232.5 236.2h0M236.3 234.5h0M238.2 235.5h0M233.4 236.1h0M240.4 227h0M234 235.8h0M235.8 234.7h0M234.8 235.5h0M235.9 235.3h0M229.7 237.6h0M234.2 233.6h0M233.1 237.4h0M234 236.6h0M237.2 233.4h0M236.3 233.5h0M231.6 237.5h0M235.8 233.1h0M235.5 235.6h0M233.5 237h0M239.2 230.2h0M235.3 234.1h0M239.1 231.7h0M236.7 232.1h0M235.1 234.6h0M232 239.7h0M235.8 231h0M236.8 232.9h0M236.5 234h0M231.2 237.5h0M238.3 231h0M231.5 235.3h0M232.4 237.4h0M239.6 231.5h0M237.6 236.3h0M233.3 235h0M236.9 234.1h0M231.6 235.5h0M236 234.2h0M231.7 237.1h0M234.2 236.2h0M234.7 234.8h0M235.1 236.4h0M238.2 231.4h0M236.5 232.1h0M235.9 235.2h0M238.5 231.1h0M235.1 234.9h0M231.4 237.7h0M233.8 236.4h0M230.7 235h0M235.4 234.8h0M234.5 236.6h0M233.9 234.6h0M235 232.1h0M233.4 236h0M237 232.7h0M235.3 233.3h0M237.2 235.6h0M235.4 238.4h0M233.5 235.9h0M236.4 235.3h0M230.3 235.1h0M237.3 234.1h0M238.8 235.9h0M235.8 234.4h0M237.7 233.1h0M238.1 229.9h0M231.3 231.9h0M236.8 232.6h0M239.2 234.8h0M234.9 234.4h0M233.2 234.8h0M234.1 236.5h0M235.2 234.6h0M235.4 235.9h0M236.2 233.4h0M236.6 233.1h0M233.5 238.4h0M235.4 232.7h0M238 232.7h0M232.6 239.4h0M236.7 234.8h0M235.5 234h0M232.1 238.8h0M234.9 234.3h0M236 234h0M236.4 232.8h0M233.2 232.5h0M234.6 236.1h0M238.1 231.5h0M236.1 236.4h0M234.9 236h0M239.2 231.2h0M237.5 231.4h0M235.5 234.1h0M236.3 235.5h0M240.4 229h0M234.1 236.3h0M232.9 237.3h0M236.3 233.1h0M235.1 232h0M235.7 231.5h0M232.9 235.5h0M234.8 236.3h0M235 234h0M237.8 235.1h0M235.4 235h0M238.4 232.3h0M234 239.7h0M238.9 228.1h0M235.4 235.1h0M238 233.3h0M233.6 234.1h0M236.2 235.4h0M231.6 235.8h0M233.4 232.7h0M234.1 234.7h0M235.6 233h0M232.6 236h0M234.4 234h0M235.8 235.3h0M240.2 228.7h0M242.1 225.7h0M243.9 225.3h0M240.9 227.4h0M254.3 211.1h0M238.8 228.4h0M245.2 223.7h0M262.4 202h0M238.6 229.8h0M240.5 228.1h0M242.7 224.8h0M258.7 208h0M254.1 214.3h0M269.8 200.3h0M248.7 220.3h0M240.7 227.5h0M240.7 227.9h0M241 226.7h0M240.4 227.6h0M238.2 230h0M240.7 228.4h0M242.3 226.4h0M247.2 222.6h0M239 229.7h0M246.8 222h0M249.1 219.6h0M250.8 217.7h0M243.7 224.5h0M241.9 225.9h0M243.7 224.3h0M259.8 209.7h0M240.5 227.9h0M251.8 216.3h0M262.6 205.4h0M244.1 224.5h0M259.9 206.3h0M244.7 223.7h0M246.7 221.7h0M249.1 219.5h0M248.3 219.7h0M242.9 225.1h0M241.7 226.7h0M246.1 222.5h0M245.2 222.9h0M255.7 213.2h0M239.6 228.8h0M269.4 200.8h0M238.7 229.6h0M263.9 200.4h0M249 220.6h0M257.1 212.3h0M241.2 228h0M244 225.1h0M239.9 227.6h0M240.5 227.3h0M243.5 225.3h0M239.6 228.8h0M263.4 207.4h0M238.3 229.4h0M238.5 229.7h0M258 211.5h0M246.9 222.1h0M248.4 219.5h0M247.8 221.4h0M243.8 224.1h0M243.9 223.7h0M238.3 229.8h0M240.8 227.1h0M253.4 214.9h0M240 227.8h0M245.1 223.5h0M244.2 224.3h0M239 228.9h0M238.7 229.9h0M249.5 220.2h0M254.4 214.7h0M246.1 223.1h0M243.3 225.3h0M252.1 216.3h0M246.1 224h0M239.9 228.1h0M254.7 213.8h0M242.7 225.6h0M253.7 215.9h0M242.1 227.4h0M256.4 212.7h0M265.5 204.1h0M240.6 227.7h0M242.6 226.5h0M238.6 229.9h0M267.6 201.3h0M250.4 218.3h0M254 213.5h0M239.2 228.6h0M242.8 225.4h0M258.8 206.9h0M260.3 206.8h0M239.7 229.4h0M243.4 224.8h0M254.7 212.9h0M248.5 222.6h0M242.9 225.5h0M240 227.9h0M253.5 216.9h0M241.4 227.3h0M249.5 220.1h0M249.5 218.5h0M242.2 226.3h0M239.9 228.5h0M247.7 219.4h0M262.3 206.5h0M239.7 228.8h0M238.7 230.3h0M238.2 230.2h0M242.9 225.6h0M240.6 227.2h0M240.4 227.6h0M248.2 219.5h0M267.2 200.7h0M241.2 227.3h0M249 219.5h0M259.8 208.4h0M241.1 226.6h0M238.2 229.9h0M242.4 225.2h0M248 217.8h0M252.5 216.6h0M241.3 227.3h0M246.1 222h0M243.7 224.7h0M254.2 214.3h0M237.9 229.6h0M239.6 228.4h0M240.3 227.6h0M248.6 218.8h0M256 212.5h0M242.2 226.7h0M239 230h0M250.7 216h0M238.4 230.4h0M244.2 222.9h0M252 215.2h0M239.4 229.1h0M241.2 227.7h0M252.8 215.5h0M251.1 218.1h0M241.1 226.5h0M246 220.8h0M246.2 222.6h0M241 226.4h0M240.2 227h0M261 208.2h0M241 227.4h0M253.4 216.7h0M242.2 225.8h0M260.1 207.1h0M263.7 205.4h0M248.4 219.3h0M245.1 223.8h0M257.6 208.2h0M244.1 224h0M241.7 225.9h0M240.6 227.6h0M263.3 204h0M239.9 228.7h0M266 201.9h0M242.7 225.8h0M238.7 229.8h0M250 216.9h0M251.5 215.1h0M238.7 229.3h0M255.7 211.6h0M256.3 212.1h0M259.2 208.3h0M264.3 204.3h0M240.6 227.7h0M239.9 229.5h0M256 212.6h0M249 219.8h0M241.4 226.2h0M239.6 229.5h0M240.8 228.1h0M242.2 226.1h0M241.3 227.1h0M241.6 226.6h0M242 225.8h0M248.3 219.9h0M238.3 229.7h0M254.1 214.7h0M242.5 225.5h0M240.4 227.3h0M260.1 210.4h0M240.4 228.5h0M238.3 230.3h0M238 229.9h0M254.9 213.2h0M240.1 227.8h0M256.9 211.1h0M241.6 227.3h0M240.7 227.6h0M250.5 217h0M248.8 219.4h0M239.2 229.4h0M253.4 212.5h0M248.3 219.3h0M243.7 225.2h0M262.8 208.3h0M238.7 230.2h0M240.6 227.7h0M246.3 223.8h0M243.4 225.3h0M244.5 223.4h0M246.2 222.1h0M248.3 218.1h0M242.6 225.6h0M258 210.8h0M249.5 218.6h0M244 223.8h0M253.5 214h0M244.6 223.5h0M260.9 207.1h0M242.1 226.6h0M251.1 217.4h0M239.9 228.3h0M241 227h0M240.3 228.7h0M242.7 226.3h0M253.3 217.9h0M239.4 229.2h0M240.4 230.9h0M260.1 221.1h0M240.4 230.1h0M238.9 231.6h0M239 231.5h0M240.8 231.2h0M246.3 228h0M243.6 228.3h0M241.2 230.5h0M238.5 231.6h0M244.8 228.1h0M249.8 224.7h0M245.4 228.6h0M240.8 230.8h0M250 227.3h0M245.5 227.8h0M243.2 228.2h0M243 229h0M243.2 229.6h0M238.1 231.6h0M244.8 229.2h0M243.1 229.5h0M241.4 230.9h0M242.6 229h0M252.5 225.4h0M238.7 231.4h0M240.1 230.4h0M241.5 230.5h0M242 230h0M238.9 231.9h0M241 229.3h0M238.2 231.7h0M244.3 228.4h0M241.3 229.8h0M241.3 229.6h0M240.9 231h0M243.9 228.9h0M240.5 230.9h0M259.5 220h0M240.4 231.3h0M240.7 230.9h0M237.7 232h0M244.4 229.1h0M240.1 231h0M245.3 228.8h0M252.3 223.8h0M246.4 227.6h0M240.5 230.9h0M246 228.3h0M246.3 227.2h0M242 229.6h0M239.5 231.8h0M243.2 229.3h0M247.1 227.7h0M239.4 231h0M242.5 230.6h0M240.6 231.5h0M247.9 226.8h0M239.7 231.7h0M240.8 230.7h0M244.7 228.7h0M239.6 231.3h0M241.6 230.7h0M240.5 230.3h0M239.9 230.6h0M252 225h0M247.1 227.1h0M250.4 225.7h0M247 226.9h0M243.2 229.5h0M253.9 223.7h0M243.5 229.3h0M238.8 232h0M239.3 231.6h0M238.5 231.5h0M250.4 225.8h0M249.3 225.6h0M242.9 229.7h0M248.9 225h0M246.2 228.1h0M243.9 228.7h0M241.9 230.1h0M248.6 225.5h0M242.1 230h0M238.8 232h0M241.8 230.7h0M238.8 231.9h0M241.1 229.9h0M248.4 226.7h0M238 232.4h0M241.9 229.5h0M243.9 229.4h0M240.5 230.4h0M255.9 224.2h0M243.5 229.7h0M237.8 231.9h0M251.5 224h0M240.3 231.5h0M241.3 230.3h0M250.8 226.9h0M243.2 229.6h0M240.2 231.3h0M241 230.2h0M241.8 230.2h0M240.7 230.4h0M240.2 230.1h0M239.5 231.1h0M246.7 226.7h0M239.7 231.6h0M242.1 230.8h0M246.1 227.7h0M239.9 231h0M242.8 230.1h0M243.2 229.5h0M244.5 228.5h0M249.2 226h0M239.7 231.2h0M238.1 232.5h0M243.6 230.5h0M243.8 229.5h0M242.1 228.7h0M242.6 229.1h0M242.3 229.2h0M244.1 229.2h0M241.6 231.1h0M227.7 236.2h0M228.6 238.7h0M229.6 228.9h0M222.9 236.2h0M233.4 230.3h0M221.6 238.5h0M225.2 242.5h0M224.3 242.6h0M214.8 234.4h0M237.8 237h0M231.7 237.4h0M231.1 232.3h0M235.2 233.9h0M235.8 236.2h0M210.8 237.5h0M236.8 235h0M224.4 239.8h0M223.9 236.9h0M228.5 238.3h0M240.1 234.8h0M243.8 240.7h0M242.2 238.2h0M228.7 238.2h0M226.1 235.5h0M226.8 235.7h0M241.3 236.4h0M223.2 231.7h0M227 236.5h0M218.2 236.1h0M209.3 245.1h0M228 248h0M227.3 237.5h0M239.6 235.3h0M228.8 236.2h0M223.2 245h0M236.5 242.3h0M224.7 238.9h0M220.7 243.6h0M216.3 243.2h0M237.2 240.9h0M220.3 244.2h0M221.4 236.7h0M217.1 245.3h0M241 232.1h0M221.2 238.4h0M248.7 236.3h0M222.4 232.4h0M222.5 244h0M242.9 232.9h0M221.7 237.6h0M212.4 245.6h0M219.1 244.4h0M213 236.9h0M229.7 234.5h0M234 236.3h0M218.2 243h0M233.8 228.9h0M242.8 235.9h0M233.2 229.3h0M221.5 238.3h0M235.9 230.1h0M219.5 232.2h0M225.7 239.8h0M213.5 239.5h0M232.4 242.9h0M233 235.4h0M217.5 237h0M222.2 240h0M227.8 244.4h0M229.6 233.3h0M240.7 238.2h0M228.2 235h0M211.8 238.3h0M234.8 232.9h0M216.8 241.7h0M229.8 239.8h0M233.5 241.9h0M221.1 243.6h0M219.7 242.8h0M229.2 238.5h0M235.6 235.8h0M237.1 238.9h0M228.5 235.5h0M221.2 237.7h0M225.9 238.4h0M252.4 233.8h0M233.6 233h0M221.6 238.4h0M228.8 233.6h0M240.7 232.3h0M235.6 226.7h0M227.6 239.1h0M229.4 239.9h0M230 238h0M211.7 239.5h0M208.5 245.6h0M230.1 236.6h0M220.6 237.6h0M243.5 240.5h0M227.6 243h0M213.8 234.2h0M223.3 235.7h0M223.1 240h0M252.3 228.8h0M228.1 238.9h0M227.7 241.6h0M241.8 229.4h0M228.8 236.6h0M230 231.4h0M212.2 233.1h0M232 237.6h0M227.3 228.8h0M224.2 236h0M215.6 237.6h0M233.6 238.5h0M227.6 240h0M222.7 239.6h0M228.1 240h0M227 237.6h0M226.2 235.8h0M246.2 235h0M232 245.8h0M238.6 229h0M233.7 239.6h0M243.6 238.8h0M233.5 231.8h0M220.5 240.9h0M231.4 233h0M224.3 237.3h0M228.2 239.1h0M224.8 233.9h0M238.5 241.3h0M227.1 242.1h0M231.5 239.5h0M231.3 234h0M232.7 240.6h0M221 247.5h0M245.5 240.3h0M244.3 236.4h0M224.6 236.5h0M220.9 240.2h0M227.6 240.6h0M211.8 251.2h0M246.4 232.9h0M233.4 238.3h0M229.8 236.6h0M226.3 235.1h0M229.1 237.5h0M229.9 234h0M227.9 238.1h0M232.2 232.6h0M231.4 240.8h0M232.4 235.3h0M223.5 238.2h0M234.2 242.3h0M226.1 235.9h0M230.8 237.9h0M219.8 237.2h0M227 240.8h0M217.4 236.8h0M231.2 232.2h0M228.6 239.1h0M226.3 234.4h0M227 236.9h0M230.1 234.1h0M236 229.2h0M226.1 238.4h0M235.3 233.6h0M231.9 234.6h0M234.3 243h0M224.5 240.6h0M220.3 243.7h0M237.6 235.5h0M218.4 242h0M237.5 239.6h0M233.6 229.2h0M222.5 244.9h0M217.9 245h0M243.4 236.7h0M236.7 234.3h0M217.5 240.3h0M225.9 238.3h0M233.3 235.9h0M229.3 239.2h0M228.3 245h0M231.3 237.3h0M225.7 236.1h0M238.7 235.6h0M218.5 238.2h0M226.3 236.6h0M236.1 231.2h0M231.7 237.5h0M217.9 240.8h0M227 240.1h0M224 240.1h0M213.5 237.6h0M234.5 240.2h0M227.3 235.8h0M235.7 227.7h0M221.3 242.3h0M232.6 232.6h0M212.6 247.7h0M228.5 234.3h0M228.4 241.3h0M206.7 247.9h0M232.9 228.5h0M233.3 229.5h0M237.1 237h0M245.9 230.7h0M228 242h0M222.1 236.7h0M224.5 238.5h0M218.9 242.2h0M232.1 237.1h0M241.5 233h0M238.2 233h0M233.1 229h0M229.2 236.9h0M223.3 236.8h0M224.5 236h0M209.3 240.6h0M222.9 237.2h0M218.8 239.8h0M234 235.3h0M224.1 244.2h0M236 239.3h0M237 234.2h0M227 242.5h0M223 238.8h0M230.9 238.6h0M225.7 242.3h0M226.4 241.1h0M236.7 238.1h0M233.2 232h0M216.6 238.5h0M232.1 242.7h0M217.6 241.9h0M220.3 237.1h0M225.6 241.2h0M229.8 242h0M219.8 243.6h0M235.3 236.2h0M231.3 234.8h0M218.5 238.9h0M223.4 250.4h0M224.2 245.3h0M229.4 238.7h0M233.4 233.4h0M235.3 237.4h0M215.3 243.6h0M232.3 238.5h0M240.5 232.9h0M232.1 239.7h0M220.6 244.5h0M215.1 236.3h0M231.5 232.7h0M226 232h0M227.7 233.5h0M229.8 231.4h0M231.2 236h0M228.1 237.6h0M228.2 232.7h0M206.5 243.8h0M219.7 238.3h0M230.4 229.5h0M221.1 237.4h0M219 241.6h0M226.1 235.2h0M219.8 243.2h0M222.4 241.7h0M230.6 229.8h0M218.7 240.4h0M230.7 240.2h0M234.6 240.2h0M224.4 238h0M233.8 234.7h0M235.7 229.6h0M232.9 235.9h0M211.8 246.1h0M230.2 237.4h0M218.5 238.6h0M239.8 231.5h0M217.7 240.1h0M224 235.4h0M221.1 243.8h0M216.5 248.6h0M222.7 235.1h0M234.3 238.4h0M219.3 243.1h0M212.1 238.6h0M236.8 234.5h0M217.1 242.8h0M235.2 235.9h0M212.6 240.7h0M231.3 240h0M242.8 232.9h0M223.6 238.9h0M237.2 231.8h0M237.3 224.7h0M233.9 233.7h0M231.6 239.6h0M217.8 240.3h0M229.8 239.7h0M219.6 236.3h0M212.7 251.9h0M225.9 237.6h0M215.6 244.8h0M223.7 244.6h0M234.6 236.2h0M233.2 232.2h0M224.7 236.5h0M217.1 240.9h0M227 243.8h0M219.9 238.3h0M231.2 238.6h0M227.7 236.1h0M231.8 238.3h0M212.3 241.1h0M215.8 236.5h0M228.8 237.9h0M228.2 234.4h0M225.6 235h0M231 239.8h0M242.6 238.9h0M220.8 238h0M220 241.2h0M244.2 236.3h0M209 238.1h0M217.1 242.8h0M227.7 239.1h0M242 230.9h0M221.4 247.3h0M230.1 234.3h0M210.3 236.7h0M207.5 243.7h0M228.3 241.7h0M226.2 235.7h0M222.2 246.9h0M213.1 242.6h0M228 240.3h0M224.5 240.8h0M234.3 235.6h0M223.8 238.3h0M219.6 239.3h0M225.2 239.5h0M239.1 240h0M224.2 241.3h0M230.3 240.2h0M227.9 239h0M223.4 236.1h0M235.3 241h0M233.2 238.2h0M229.6 235.7h0M213.2 244.5h0M229 235.5h0M220.1 245h0M213.4 248.7h0M233.8 245.6h0M221.7 239.5h0M223.5 239.7h0M225.6 235.6h0M236.2 232.6h0M223.6 241.2h0M223 237.5h0M230.4 235.8h0M217.3 240.4h0M226.4 245h0M218.9 244.1h0M221 238.4h0M225 239.8h0M235.4 242.7h0M222.9 244.5h0M236.1 238.9h0M221.7 243.1h0M226.8 239.6h0M225.6 241.1h0M208.7 246.2h0M214.2 239.1h0M236.3 247.5h0M235.4 249.5h0M209 236.2h0M205.3 245.4h0M227.7 237.9h0M218.8 244.9h0M228.9 235.6h0M234.1 238h0M226.4 234.1h0M208.4 250.6h0M230.1 246.1h0M205.7 230.9h0M210 234.5h0M215 238.6h0M205.7 237h0M226.8 234.1h0M233.8 242.9h0M229.5 235.8h0M219.6 245.5h0M216.6 230h0M233.7 247.5h0M214.4 231h0M234.4 243.7h0M206 235.5h0M208.2 247.9h0M211.7 250.7h0M230.7 231.9h0M228.8 238.9h0M230.6 248.7h0M214.2 232h0M237.6 239.6h0M237 245.6h0M230.3 248.8h0M226.4 240.2h0M206.2 245.8h0M219.4 241.6h0M237 232.9h0M231.1 231h0M229 248.2h0M213.5 242.3h0M238.4 244.4h0M223.4 235.6h0M206.4 238.1h0M218.8 234.6h0M215.2 233.1h0M229.2 245.1h0M212.7 235.5h0M222.4 240.1h0M237.2 237.9h0M214.8 250h0M209.3 242.7h0M216 248.4h0M223.6 247.2h0M210.3 245.1h0M225.4 240.4h0M231.3 248.8h0M208.3 236.5h0M217 234.7h0M206.4 236.3h0M211.2 245.9h0M220.1 232.6h0M215.7 240.6h0M217.1 233.8h0M206.8 230.2h0M239.2 247h0M207.3 246.2h0M238.8 242.7h0M208.1 241h0M219.6 234.3h0M223.4 230.2h0M236.7 244.6h0M226.4 251.1h0M227.3 235.7h0M213 233.1h0M205.3 247.5h0" stroke="#222" stroke-width=".4" stroke-linecap="round" opacity=".32" fill="none"/>
<ellipse cx="235.2" cy="234.5" rx="6" ry="2.1" fill="url(#cg)" opacity=".88" transform="rotate(-40 235.2 234.5)"/>
<ellipse cx="235.5" cy="233.4" rx="2.2" ry=".9" fill="#b01030" opacity=".35" transform="rotate(-40 235.5 233.4)"/>
<text x="204.5" y="203" font-size="3.9" fill="#c23a5e">Q1-UL</text>
<text x="204.5" y="206.2" font-size="3.9" fill="#c23a5e">1.3%</text>
<text x="269.6" y="203" font-size="3.9" fill="#c23a5e" text-anchor="end">Q1-UR</text>
<text x="269.6" y="206.2" font-size="3.9" fill="#c23a5e" text-anchor="end">14.3%</text>
<text x="204.5" y="249.6" font-size="3.9" fill="#c23a5e">Q1-LL</text>
<text x="204.5" y="252.7" font-size="3.9" fill="#c23a5e">71.2%</text>
<text x="269.6" y="249.6" font-size="3.9" fill="#c23a5e" text-anchor="end">Q1-LR</text>
<text x="269.6" y="252.7" font-size="3.9" fill="#c23a5e" text-anchor="end">13.2%</text>
<text x="234.5" y="230" font-size="3.9" fill="#c23a5e" text-anchor="end">Q1</text>
<text x="235.8" y="262.4" font-size="3.3" fill="#333" text-anchor="middle" letter-spacing=".15">TREM2-A</text>
<text x="194.7" y="232" font-size="3.2" fill="#333" text-anchor="middle" transform="rotate(-90 194.7 232)">pTau-A</text>
<text x="321.8" y="197" font-size="6.8" fill="#1878c0" font-weight="bold" text-anchor="middle" textLength="38" lengthAdjust="spacingAndGlyphs">Int-KO-HFD</text>
<rect x="290" y="201" width="65" height="52.4" fill="#fff" stroke="#8d8de0" stroke-width=".6"/>
<line x1="290" y1="201" x2="290" y2="253.4" stroke="#2626cc" stroke-width="0.8"/>
<line x1="290" y1="253.4" x2="355" y2="253.4" stroke="#2626cc" stroke-width="0.8"/>
<path d="M293.2 253.4v1.8M290 250.8h-2M295.1 253.4v1.8M290 249.3h-2M296.4 253.4v1.8M290 248.2h-2M297.5 253.4v1.8M290 247.4h-2M298.3 253.4v1.8M290 246.7h-2M299 253.4v1.8M290 246.1h-2M299.6 253.4v1.8M290 245.6h-2M300.2 253.4v1.8M290 245.2h-2M303.9 253.4v1.8M290 242.2h-2M305.8 253.4v1.8M290 240.7h-2M307.1 253.4v1.8M290 239.6h-2M308.1 253.4v1.8M290 238.8h-2M309 253.4v1.8M290 238.1h-2M309.7 253.4v1.8M290 237.5h-2M310.3 253.4v1.8M290 237h-2M310.9 253.4v1.8M290 236.6h-2M314.6 253.4v1.8M290 233.6h-2M316.4 253.4v1.8M290 232.1h-2M317.8 253.4v1.8M290 231h-2M318.8 253.4v1.8M290 230.2h-2M319.6 253.4v1.8M290 229.5h-2M320.4 253.4v1.8M290 228.9h-2M321 253.4v1.8M290 228.4h-2M321.5 253.4v1.8M290 228h-2M325.2 253.4v1.8M290 225h-2M327.1 253.4v1.8M290 223.5h-2M328.4 253.4v1.8M290 222.4h-2M329.5 253.4v1.8M290 221.6h-2M330.3 253.4v1.8M290 220.9h-2M331 253.4v1.8M290 220.3h-2M331.6 253.4v1.8M290 219.8h-2M332.2 253.4v1.8M290 219.4h-2M335.9 253.4v1.8M290 216.4h-2M337.8 253.4v1.8M290 214.9h-2M339.1 253.4v1.8M290 213.8h-2M340.1 253.4v1.8M290 213h-2M341 253.4v1.8M290 212.3h-2M341.7 253.4v1.8M290 211.7h-2M342.3 253.4v1.8M290 211.2h-2M342.9 253.4v1.8M290 210.8h-2M346.6 253.4v1.8M290 207.8h-2M348.4 253.4v1.8M290 206.3h-2M349.8 253.4v1.8M290 205.2h-2M350.8 253.4v1.8M290 204.4h-2M351.7 253.4v1.8M290 203.7h-2M352.4 253.4v1.8M290 203.1h-2M353 253.4v1.8M290 202.6h-2M353.5 253.4v1.8M290 202.2h-2" stroke="#2020c8" stroke-width=".55"/>
<line x1="287.6" y1="253.4" x2="290" y2="253.4" stroke="#2222cc" stroke-width="0.65"/>
<text x="287.2" y="253.8" font-size="2.7" fill="#3333cc" text-anchor="end" transform="rotate(-55 287.2 253.8)">10<tspan font-size="2" dy="-1">0</tspan></text>
<line x1="290" y1="253.4" x2="290" y2="255.8" stroke="#2222cc" stroke-width="0.65"/>
<text x="291" y="258.4" font-size="2.7" fill="#3333cc" text-anchor="middle" transform="rotate(-35 291 258.4)">10<tspan font-size="2" dy="-1">0</tspan></text>
<line x1="287.6" y1="244.8" x2="290" y2="244.8" stroke="#2222cc" stroke-width="0.65"/>
<text x="287.2" y="245.2" font-size="2.7" fill="#3333cc" text-anchor="end" transform="rotate(-55 287.2 245.2)">10<tspan font-size="2" dy="-1">1</tspan></text>
<line x1="300.7" y1="253.4" x2="300.7" y2="255.8" stroke="#2222cc" stroke-width="0.65"/>
<text x="301.7" y="258.4" font-size="2.7" fill="#3333cc" text-anchor="middle" transform="rotate(-35 301.7 258.4)">10<tspan font-size="2" dy="-1">1</tspan></text>
<line x1="287.6" y1="236.2" x2="290" y2="236.2" stroke="#2222cc" stroke-width="0.65"/>
<text x="287.2" y="236.6" font-size="2.7" fill="#3333cc" text-anchor="end" transform="rotate(-55 287.2 236.6)">10<tspan font-size="2" dy="-1">2</tspan></text>
<line x1="311.3" y1="253.4" x2="311.3" y2="255.8" stroke="#2222cc" stroke-width="0.65"/>
<text x="312.3" y="258.4" font-size="2.7" fill="#3333cc" text-anchor="middle" transform="rotate(-35 312.3 258.4)">10<tspan font-size="2" dy="-1">2</tspan></text>
<line x1="287.6" y1="227.6" x2="290" y2="227.6" stroke="#2222cc" stroke-width="0.65"/>
<text x="287.2" y="228" font-size="2.7" fill="#3333cc" text-anchor="end" transform="rotate(-55 287.2 228)">10<tspan font-size="2" dy="-1">3</tspan></text>
<line x1="322" y1="253.4" x2="322" y2="255.8" stroke="#2222cc" stroke-width="0.65"/>
<text x="323" y="258.4" font-size="2.7" fill="#3333cc" text-anchor="middle" transform="rotate(-35 323 258.4)">10<tspan font-size="2" dy="-1">3</tspan></text>
<line x1="287.6" y1="219" x2="290" y2="219" stroke="#2222cc" stroke-width="0.65"/>
<text x="287.2" y="219.4" font-size="2.7" fill="#3333cc" text-anchor="end" transform="rotate(-55 287.2 219.4)">10<tspan font-size="2" dy="-1">4</tspan></text>
<line x1="332.7" y1="253.4" x2="332.7" y2="255.8" stroke="#2222cc" stroke-width="0.65"/>
<text x="333.7" y="258.4" font-size="2.7" fill="#3333cc" text-anchor="middle" transform="rotate(-35 333.7 258.4)">10<tspan font-size="2" dy="-1">4</tspan></text>
<line x1="287.6" y1="210.4" x2="290" y2="210.4" stroke="#2222cc" stroke-width="0.65"/>
<text x="287.2" y="210.8" font-size="2.7" fill="#3333cc" text-anchor="end" transform="rotate(-55 287.2 210.8)">10<tspan font-size="2" dy="-1">5</tspan></text>
<line x1="343.4" y1="253.4" x2="343.4" y2="255.8" stroke="#2222cc" stroke-width="0.65"/>
<text x="344.4" y="258.4" font-size="2.7" fill="#3333cc" text-anchor="middle" transform="rotate(-35 344.4 258.4)">10<tspan font-size="2" dy="-1">5</tspan></text>
<line x1="287.6" y1="201.8" x2="290" y2="201.8" stroke="#2222cc" stroke-width="0.65"/>
<text x="287.2" y="202.2" font-size="2.7" fill="#3333cc" text-anchor="end" transform="rotate(-55 287.2 202.2)">10<tspan font-size="2" dy="-1">6</tspan></text>
<line x1="354" y1="253.4" x2="354" y2="255.8" stroke="#2222cc" stroke-width="0.65"/>
<text x="355" y="258.4" font-size="2.7" fill="#3333cc" text-anchor="middle" transform="rotate(-35 355 258.4)">10<tspan font-size="2" dy="-1">6</tspan></text>
<line x1="321" y1="201" x2="321" y2="253.4" stroke="#d25a7c" stroke-width="0.65"/>
<line x1="290" y1="232.7" x2="355" y2="232.7" stroke="#d25a7c" stroke-width="0.65"/>
<ellipse cx="309" cy="239.5" rx="15" ry="7.5" fill="url(#cl)" opacity=".5" transform="rotate(-14 309 239.5)"/>
<path d="M320.5 237.7h0M321.1 234.8h0M319.4 234.9h0M319.2 234.5h0M315.1 236.5h0M315 238.5h0M320.6 236.3h0M319.3 235h0M319.5 234.4h0M314.1 240.8h0M316.9 237h0M319.7 239.3h0M321.1 233.8h0M315.8 239.1h0M316.6 238.9h0M314 238.9h0M319.5 232.9h0M318.3 235.7h0M319.9 233.3h0M321.4 236.4h0M313.4 238.1h0M318.5 234.1h0M315.7 240.1h0M321.3 234.9h0M321.3 234.2h0M313.8 235.1h0M318.3 233.6h0M318.4 236.1h0M314.4 238.1h0M323.1 232.8h0M313.6 239h0M318.5 236.3h0M319.8 234.1h0M318.1 237.2h0M315.3 240h0M318.4 234.5h0M316.6 237.3h0M312.1 236.5h0M320.1 236.5h0M317.5 236.2h0M316.9 234.8h0M319.5 235.8h0M318.6 236.7h0M315.4 238.3h0M315.4 236.9h0M318.6 235.4h0M320.5 234.7h0M315.8 239.7h0M313.6 239.1h0M318.3 235.1h0M318.9 234.8h0M315.8 238.8h0M316.6 235h0M317.7 235.7h0M317.9 234.6h0M317.8 235.3h0M321.2 232.1h0M320.7 233.1h0M322.3 235.9h0M316.7 236.9h0M314.6 237.1h0M316.2 237.2h0M320.6 234.9h0M316.4 237.1h0M314.3 239.6h0M316 235.3h0M316.2 238h0M318.3 236.3h0M316.5 237h0M315.6 234.9h0M317 236.1h0M316.5 238.1h0M324.1 232.9h0M316.6 234.6h0M316.5 235.6h0M318.9 236.8h0M316.2 234.6h0M320.9 233.1h0M320.2 232.2h0M322.7 229.4h0M318.5 236.4h0M310.4 240.5h0M315 241h0M318.4 233.5h0M311.7 237.8h0M317.2 234.7h0M318 234.6h0M314.8 241.3h0M318.1 234.2h0M317.8 237.9h0M318.5 232.9h0M320.6 232.2h0M317.9 233.5h0M316.5 238.1h0M314.6 238.5h0M318 234.4h0M321.7 233.5h0M318 237.2h0M322 234.3h0M317.9 237h0M317.5 234h0M318.3 238.7h0M315.9 238.1h0M321.4 232h0M316.8 235.2h0M317.7 233.6h0M317.9 234.1h0M316.9 233.5h0M315.6 239.1h0M316.4 231.6h0M320.6 231.9h0M320.6 235.1h0M316.8 235.9h0M313.1 240.4h0M321.1 230.7h0M320.9 234.3h0M318.9 232.8h0M317.4 236.4h0M321 231.4h0M315.5 236.2h0M318.3 232.5h0M315.9 235h0M317.3 237.4h0M316.7 237.7h0M316.3 236.8h0M316.3 235.3h0M319.1 235.7h0M316.1 238.3h0M317.4 235.3h0M318.5 236.4h0M320.6 235.9h0M318.3 235.6h0M313.3 238.5h0M318 233.6h0M316.7 239.7h0M316.3 235h0M311.4 239.5h0M323.1 231.1h0M319.5 235.3h0M316.5 237.3h0M317.3 235.5h0M319.3 233h0M315 236.8h0M320 232.9h0M320.8 230.8h0M312.8 235.3h0M315.2 237.9h0M318.3 233.5h0M317.3 238.4h0M316.3 237h0M318.2 233.6h0M320.3 233.2h0M319.1 234h0M319.1 236.6h0M316.4 233.6h0M316.4 236.1h0M317.1 236.5h0M314.9 241.1h0M316.4 239h0M316.2 236.3h0M316.8 235.8h0M319.8 236h0M323.5 234h0M314.9 239.1h0M318.6 234.8h0M318.2 235.3h0M313.9 237.5h0M319.7 233.9h0M320.5 232.6h0M316.1 237.2h0M318.5 236.7h0M316.8 237.8h0M317.6 234.3h0M316.9 236.1h0M321 235.1h0M318.7 234h0M319.4 234.6h0M316.6 237.9h0M315.3 237.2h0M313.7 236.7h0M317 233.6h0M315.5 236.9h0M318 234.3h0M318.5 233.6h0M314.8 236.7h0M315.6 236.2h0M313.3 238.1h0M316.2 238.7h0M315.1 238.4h0M315.9 238.7h0M316.6 235.6h0M321.5 235h0M322 233.7h0M317 235.1h0M315.8 236.4h0M318.3 234.4h0M318.2 235.7h0M316.6 235.5h0M317 240.6h0M315.8 234.6h0M313.8 237.9h0M322.1 232.3h0M316.6 239.5h0M313.8 240.9h0M324.4 230.1h0M320.5 234.5h0M310.7 242.2h0M313.7 234.3h0M319.1 233.5h0M318.7 235.7h0M314 234.8h0M315.7 236.1h0M313.9 237.5h0M318.7 237.5h0M317.9 236h0M320.5 234.2h0M316.4 235.7h0M315.3 239.3h0M318.3 237.3h0M315 237h0M319.7 236.6h0M316.5 235.7h0M317.6 233.5h0M319.3 232.2h0M313.7 239.2h0M317.2 238.4h0M319.8 234.7h0M312.3 240.1h0M313.7 235.7h0M320.3 230.2h0M314.2 237.1h0M315.9 237.5h0M317.4 233.8h0M319 235.7h0M319.5 236.9h0M315.8 236.6h0M315.3 235.7h0M318.1 237.2h0M318.8 234.7h0M318.9 237h0M318.9 231.5h0M315 239.7h0M319.8 235.1h0M318.8 232.9h0M314.7 239h0M314.5 238.6h0M321 229.9h0M320.1 236.4h0M320.3 232.8h0M315.1 237.9h0M314.4 238.7h0M316.3 236.4h0M319.5 234.2h0M315.8 237h0M316.6 236.2h0M317 237.8h0M317.3 237.9h0M319.9 235.6h0M317.3 233.7h0M323 230.5h0M314.9 238.3h0M316.2 233.5h0M313.7 238.5h0M315.5 235.7h0M315 237.9h0M315.2 238.5h0M317.5 234.9h0M322.9 234h0M313.6 239h0M320.3 232.2h0M311.1 239.5h0M315 236.7h0M318.5 235.9h0M317.2 232.7h0M316.4 238.4h0M315 235.9h0M318.5 238.8h0M313.4 238.5h0M315.7 235.7h0M316.5 235.7h0M313.7 238.3h0M315.6 236.5h0M318.3 235.9h0M319 235.4h0M314.4 238.7h0M315.9 235.5h0M317.4 235.6h0M317.1 236.9h0M314.2 238.4h0M314.7 237.3h0M316.6 237.8h0M319.1 235.2h0M314.4 238.7h0M322.3 233.8h0M318.8 234.9h0M315.7 237.9h0M313.6 238.8h0M313.1 237.9h0M314.1 239.2h0M316.6 237.1h0M319.1 235h0M315.9 237.7h0M313.7 238.2h0M318.5 234.6h0M317.6 235.8h0M321.4 229.5h0M315.7 239.7h0M314.3 238.5h0M319.6 231h0M317.5 237h0M319.8 232.8h0M318.6 234.3h0M317.9 234.7h0M319.3 235.5h0M319.3 233.6h0M315.9 237.8h0M320.3 234.4h0M315.3 237.8h0M316.5 235.3h0M322.6 231.2h0M316.3 236.5h0M313.9 238.1h0M315.3 236.3h0M313.4 233.7h0M317.1 235.8h0M314.3 236.9h0M311.4 239.9h0M318 235.6h0M316.9 235.6h0M321.6 234.8h0M315.5 240.2h0M317.5 233.6h0M317.1 236.8h0M322.1 231.5h0M319.5 233.2h0M318 237.8h0M316.4 237.4h0M320 235h0M319.2 235.6h0M322.9 230.8h0M319.1 233.3h0M317.1 235.2h0M311.1 238.1h0M317 231.6h0M315.5 236.5h0M319.5 234.4h0M318 233.6h0M313.3 237.3h0M317.6 236.7h0M319.3 232.9h0M321.5 233h0M315.4 234.9h0M319.3 235.4h0M315.7 234.9h0M315.6 241.1h0M317.5 239.3h0M320 235.2h0M321.2 232.7h0M316 233.6h0M314.6 236.8h0M318 233.7h0M321.1 232.1h0M319.5 234.2h0M318.1 234.8h0M320.8 233.3h0M312.9 235.3h0M320.6 232.8h0M315.6 235.5h0M318.7 232.8h0M320.7 234.9h0M319.8 234.4h0M316.4 240.2h0M318.7 236.5h0M315.7 236.9h0M315.7 237.8h0M315.3 234.8h0M312.4 238.5h0M313.5 239.4h0M320 234.8h0M316.8 239.7h0M315.1 237.9h0M312.7 236.3h0M318.3 232.5h0M314 236.2h0M314.9 237.4h0M317.3 237.3h0M316.8 238.2h0M318.2 234.4h0M316.4 237.6h0M316.7 236.7h0M312.9 237.4h0M319 233.8h0M320.6 235.7h0M317 235.2h0M321.4 233.6h0M316 238.5h0M312.1 239h0M319.3 235.3h0M321.4 233.2h0M322.5 233.3h0M314.6 237h0M318.6 238.4h0M320.7 234.7h0M318.2 233.2h0M318.8 235.1h0M317.9 238.2h0M323.1 234.4h0M319.2 233h0M319.2 232.8h0M319.6 235.6h0M320.2 233.9h0M319.9 233.7h0M315.6 236.1h0M315.8 235.9h0M319.2 233.6h0M318.1 237.2h0M319.8 234.7h0M316.5 235h0M316 237.6h0M318.2 232.1h0M317.4 236h0M313.8 240.6h0M316 236.2h0M322.6 233.8h0M321 234.1h0M315.9 236.6h0M313.5 240.4h0M318.5 235.1h0M319.5 234.5h0M323.4 232.1h0M319.9 234.6h0M318.5 233.6h0M317.9 236.2h0M318.5 236.5h0M318.3 233.8h0M315.5 237.2h0M313.8 241.1h0M321.2 234.5h0M317.3 237.7h0M316.3 235.3h0M314.7 238.4h0M316.6 236.7h0M316.1 238.1h0M316.1 237.8h0M314.1 239.6h0M318.5 235.3h0M314.1 238.3h0M317.5 235.5h0M320.9 233.2h0M319.1 236.5h0M317.6 236.5h0M315.2 237.2h0M312.7 240.2h0M313.5 240.3h0M317.6 236.9h0M316.2 237.8h0M316.9 235.5h0M316.6 235.5h0M316.4 237.5h0M318.7 235.6h0M318.6 234.9h0M319.5 233.4h0M318.3 234.5h0M313.7 237.8h0M317.4 238.2h0M319.1 233.6h0M321 233.4h0M317.1 234.4h0M318.1 234.1h0M315.3 238.3h0M318.5 235.5h0M312.8 237.1h0M321.3 236.1h0M317.1 237.8h0M317.8 235.7h0M312.2 238.7h0M316.3 236.2h0M316.4 236h0M313.8 239.6h0M316.3 237.8h0M317.3 237.4h0M321.6 232.8h0M316.6 237.3h0M317.5 236.4h0M314.5 238.8h0M314.9 236.8h0M318.9 234.7h0M319.6 236.2h0M316.1 237.8h0M316.1 235.1h0M313.5 238.2h0M315.4 238.6h0M318.9 234.6h0M314.5 239h0M317.2 235.4h0M319.4 235.2h0M316.2 236h0M320.2 234h0M320.7 235.4h0M321 232.1h0M314.9 237.4h0M320.2 233.9h0M315.4 237.5h0M313.7 241.3h0M316.6 237.6h0M312.9 241.2h0M320.4 234h0M320.4 233.3h0M317.3 237.5h0M316.6 235.8h0M320.7 232.4h0M318.5 234.6h0M319.7 234.2h0M314.8 238.6h0M316.9 236.1h0M318.6 234.6h0M318.4 236h0M316.8 237.2h0M316.2 235.4h0M319.7 235.2h0M317.9 233.6h0M320.9 234h0M314.6 238.4h0M317 235.3h0M314.8 235.4h0M319.2 233.6h0M319.4 236.9h0M324 230.4h0M315.3 236.9h0M318.5 234.6h0M313.2 236.9h0M313.2 238.4h0M314.6 239.5h0M319.6 236.7h0M318.9 235.6h0M319.6 235.2h0M321.4 232.8h0M320.7 231.6h0M320.5 233.9h0M320.5 235.1h0M323.7 231h0M316.2 237.3h0M316 237.9h0M315.1 238.1h0M319.4 234h0M320.8 234h0M315.3 237.9h0M321.7 231.6h0M316.6 237.1h0M319.7 232h0M319.3 233.6h0M318.8 236.9h0M313.3 238.9h0M323.2 234.5h0M315.4 237.4h0M316.6 236.3h0M318 233.6h0M318 236h0M312.9 239.1h0M320 238h0M314.6 237.1h0M319.6 233.8h0M316 235.6h0M316.6 238.4h0M318.4 234.9h0M317 236.6h0M316.9 236.7h0M317.5 233.5h0M321 232.3h0M316.5 238.7h0M319.7 235.6h0M323.9 233.3h0M316 236h0M314.9 237.7h0M319.5 232.6h0M315.4 235.4h0M320.2 235.4h0M318.2 234h0M319.6 234.2h0M320.8 233.4h0M316.4 236.9h0M318.3 234.3h0M316.4 237.2h0M314.2 238.3h0M317.3 235.8h0M318.7 235.7h0M317.4 238.9h0M318.8 232.6h0M328.9 223.7h0M327.6 224.5h0M333.2 217.7h0M324.5 228h0M327.6 223.7h0M346 206.3h0M329.3 221.6h0M332.9 216.9h0M323.5 228.6h0M327.3 223.5h0M332.6 219.7h0M323.7 227.9h0M328.6 224.6h0M323 229.6h0M324.3 228h0M323 227.9h0M321.7 230.1h0M325.2 225.9h0M322.6 229.7h0M339.9 211.6h0M323.2 228.9h0M322.2 230.4h0M334.7 217.5h0M324.9 227.6h0M337.6 216.3h0M323.9 228.4h0M331.2 221.3h0M320.9 231.2h0M324 227.9h0M324.2 227.4h0M322.5 228.6h0M331.9 219.4h0M338.5 215.3h0M330.4 219.9h0M332 219.9h0M322.3 229.7h0M339 211.9h0M324.7 227.4h0M329.7 222.3h0M321.3 230.8h0M332.1 220h0M341 212.8h0M330.9 221.2h0M328.9 223.8h0M342.5 208.8h0M328.2 223.8h0M321.8 230.7h0M334.8 217.3h0M335.9 217.6h0M323.3 228.3h0M325.7 225.4h0M335.2 215.9h0M321.6 230.7h0M322.1 229.9h0M321.8 229.7h0M350.4 203.9h0M327 225.1h0M340.8 208.1h0M322.8 228.7h0M328.1 224h0M332.9 217.8h0M325.7 226h0M332.1 220.5h0M321.3 230.9h0M322.1 229.3h0M332.1 219.7h0M322 230.3h0M335.1 215.9h0M324.9 225.8h0M344.3 206.9h0M328.5 224.1h0M333 219.2h0M337.9 215.2h0M321.5 230.3h0M323.7 228.1h0M324.9 227.3h0M324.2 227.8h0M328.5 222.4h0M324 228h0M321.2 230.4h0M346.3 206.4h0M321.6 230.8h0M336.6 216h0M334.2 216.5h0M337.2 216.6h0M330 220h0M329.9 222.7h0M328.2 224.3h0M337 214.3h0M336 215.6h0M325.3 228.3h0M321.5 230.6h0M321.2 230.6h0M325.7 226.7h0M322.5 229.6h0M329.3 222.2h0M324.3 227.3h0M321 231.7h0M333.3 216.6h0M337.7 214.5h0M345.7 207.3h0M324.7 227.3h0M328.2 223.5h0M327.8 225h0M335.3 217.5h0M323.4 229h0M325.9 225.8h0M347.9 204.7h0M320.9 231.9h0M323 229.2h0M344.1 205.1h0M334.5 218.1h0M322.8 229.2h0M321.2 231.7h0M332.6 219.2h0M324.2 228.1h0M327.8 224.5h0M332.3 219.5h0M323.7 229.1h0M336.5 217.7h0M324.9 227.9h0M338.4 212.9h0M332 218.8h0M321.6 230.6h0M325.1 226.8h0M324 227.5h0M325 228.2h0M331.2 221.7h0M330.4 222.3h0M325.4 225.8h0M339.6 212.4h0M321.9 230.2h0M333.9 219h0M327.1 223.4h0M326.3 226.6h0M323.7 229.8h0M327.9 223.2h0M323.6 229.1h0M327.7 224.5h0M325.5 227h0M332.3 219.7h0M327.2 224.5h0M339.1 213.4h0M330.8 221.5h0M324.1 228.1h0M331.5 220.2h0M329.1 222.7h0M324.4 228.6h0M321.3 230.7h0M329 222.9h0M322.2 228.5h0M331.9 220.1h0M328.7 223.4h0M328.5 222.5h0M348 203.7h0M330.3 221.6h0M334.7 218h0M321.6 230.1h0M325.9 226h0M322.2 230.5h0M322.1 230.6h0M335.6 215.7h0M329.3 221.5h0M343.9 209.2h0M321.9 229.7h0M329.4 223.9h0M327.2 225.2h0M321.7 230.7h0M328.4 222.9h0M340 210.2h0M326.6 226.1h0M321.6 230.8h0M326.5 226.4h0M324.3 228.7h0M342.8 209.9h0M322.4 230.1h0M345.8 204.2h0M349.8 202.1h0M333.9 217.9h0M321.3 231.4h0M323.9 228.4h0M327.6 224.3h0M327.9 225.8h0M329.6 222.5h0M333.4 219.5h0M320.5 231.1h0M331.5 219.3h0M328.6 222.3h0M341.6 211.4h0M336.3 216.1h0M326 227.4h0M328.3 222.8h0M333.5 219.2h0M328.1 224.1h0M320.5 231.4h0M321.8 229.8h0M331.1 220.4h0M323 229.1h0M322.3 229.1h0M325.7 226.2h0M343.2 211.5h0M326.5 225.8h0M322.5 229.6h0M329 222.7h0M344.1 208.9h0M323.7 228.6h0M320.6 231.2h0M321 232h0M338.8 210.8h0M328.7 224.3h0M323.5 228.7h0M326.7 225.6h0M332.2 219.1h0M322 230.3h0M325.2 226.9h0M321.8 230.3h0M326.8 224.3h0M322.9 229h0M321.8 230.2h0M322.2 229.6h0M324.4 228.8h0M322.8 229.2h0M324.9 227.1h0M329.1 221.1h0M326.2 225h0M328.5 224.2h0M342.8 210.4h0M330.1 222.8h0M334.5 217.8h0M321.2 231.6h0M329.9 221.1h0M333.7 216.2h0M327.1 224.9h0M332.6 219.6h0M324.3 228.3h0M329.1 223.6h0M327.6 223.7h0M343.2 209.2h0M331.4 221.2h0M335.9 214.8h0M329 228.8h0M324.2 231.8h0M329.3 228.8h0M322.3 232.7h0M328.5 229.6h0M320.6 232.8h0M323.4 232.5h0M323.5 232.1h0M322 232.8h0M321.9 232.7h0M322 232.9h0M325.5 231.3h0M324 231.4h0M321.2 232.8h0M322.8 232.4h0M321.5 233.5h0M321 232.8h0M320.3 233.2h0M332.4 227.4h0M321.9 233.4h0M323.7 231h0M331.4 227.8h0M331.4 227.2h0M335.1 223.7h0M320.8 233.6h0M335 229.1h0M332.6 226.8h0M326.7 229.7h0M323.2 231.6h0M323.1 232.1h0M322.7 232.4h0M338.3 224.9h0M324.9 231.4h0M328.9 229.8h0M323.8 231.3h0M332.2 227h0M323.7 232.4h0M322.9 231.8h0M332.6 227.9h0M333.9 227.3h0M321.8 233h0M335.3 224.1h0M323 231.8h0M321.1 232.8h0M330.1 228.6h0M327.4 229.5h0M322 233h0M335 224.9h0M321.1 232.6h0M339.3 224h0M321.6 232.7h0M331.9 228.4h0M322.8 232.4h0M326.9 229.3h0M321.8 232.8h0M322.9 232.4h0M325.7 230.7h0M324 232h0M325 231.7h0M321.5 232.7h0M321.9 233h0M321.9 232.5h0M330.5 227.9h0M322.7 232.6h0M321.4 233.5h0M326.7 231.4h0M321.3 233.1h0M320.9 232.6h0M323.2 231.9h0M322 231.8h0M324.5 231.4h0M321.5 233h0M324.4 231.1h0M321.6 232.8h0M324.7 231.3h0M321.2 233.7h0M332.8 226.8h0M323.9 231.8h0M323.6 231.6h0M326.9 229.6h0M321.8 232.7h0M327.4 229.8h0M327.3 229.8h0M321.8 232.4h0M321.7 232.7h0M338.3 226.4h0M323.4 231.5h0M322 232.6h0M327.9 228.7h0M323.1 231.6h0M325.1 230.5h0M322.8 231.9h0M324.2 231.5h0M339.3 224h0M321.1 233.2h0M321.3 233h0M321.9 231.7h0M322.4 232.8h0M328.5 229.8h0M332.6 225.2h0M321.6 233.2h0M333.9 226h0M323.6 231.4h0M327.3 230.2h0M326.9 229.5h0M333.5 226.7h0M321.8 232.9h0M327.9 230.6h0M332.2 226.9h0M323.4 231.3h0M323 231.9h0M326.6 230.6h0M322 232.7h0M322.1 232.7h0M321.7 232.9h0M320.5 233h0M328.4 230.2h0M321.3 233h0M320.8 233.6h0M332.9 226.7h0M321.4 232.5h0M323.1 232.3h0M323.5 231.9h0M321.2 232.6h0M329.3 229.7h0M328.4 230.3h0M336 228.4h0M322 232.4h0M323.3 231.9h0M324.2 231.6h0M320.8 233.1h0M323.3 231.9h0M327.1 230.1h0M320.8 233.6h0M320.7 232.8h0M311.9 234h0M302.5 241.8h0M303.7 242.6h0M306 242.9h0M308.6 238.2h0M310.4 236h0M311 238h0M311.6 236.6h0M297.5 243.7h0M304.7 243.4h0M307.1 243.8h0M307.6 243.8h0M310.1 239.7h0M312.9 234.8h0M312.6 243.3h0M311.5 240h0M300.2 249.1h0M315.6 238.5h0M316.4 244.6h0M306.3 244h0M291.2 241.6h0M300.5 237.3h0M307.7 242.1h0M318.6 234.4h0M303.3 238.8h0M301.1 244.6h0M307.2 238h0M316.9 238.5h0M315.6 237.4h0M307.9 240.6h0M301.1 248.1h0M312.3 235.5h0M318.8 236.7h0M315.9 236.1h0M302.4 252.2h0M308.4 235.6h0M312.3 234.4h0M319.6 232.5h0M311.6 244h0M319 236.2h0M298.4 247.4h0M306.7 239.9h0M304.8 239.7h0M309.1 242.3h0M300 239.9h0M313.4 240h0M299.2 239.6h0M312.2 239.1h0M318.9 240.2h0M316.3 238.5h0M308.1 241.4h0M301.3 232.6h0M303.5 237.3h0M317.9 236.8h0M314.8 237.4h0M314.6 243.6h0M317.8 245.7h0M306.1 241.7h0M323 234.2h0M301.5 238.2h0M305.6 238.5h0M300.4 246.2h0M316.4 233.8h0M301.2 238.5h0M311 241.9h0M320.6 242.4h0M301.2 236.2h0M318.1 233.3h0M308.7 241.4h0M306.5 239.8h0M321.2 231.2h0M314.8 240.9h0M296 241.7h0M291.6 246.3h0M315.1 242.5h0M314.9 239.4h0M314.6 240.4h0M300.3 245.7h0M328 235.8h0M315.4 243.1h0M311.3 239.8h0M301.2 242.6h0M314.4 237.5h0M316.3 234.8h0M313.5 238.1h0M293 244.6h0M306.2 243.4h0M312.2 241.5h0M309.1 241.8h0M302.1 233.1h0M312.3 242.1h0M300.1 242.9h0M294.4 238.8h0M311 237.7h0M302.6 246.8h0M311.6 235.4h0M312.2 237.7h0M306.1 244.3h0M314.5 243.5h0M329.8 235.1h0M309.8 236.7h0M315.8 233.7h0M321.7 226.1h0M315.8 246h0M312.8 240.2h0M311.5 242.7h0M297.8 242.5h0M310.8 244.7h0M303.1 238.4h0M318.6 236.3h0M310.9 239.8h0M302.4 242.4h0M305.5 234.7h0M311.6 241.2h0M314.1 241h0M306.4 246.5h0M306.4 240.4h0M314.6 236.1h0M323.6 235.6h0M304.9 239.2h0M314.2 242.1h0M315.4 233.9h0M304 235.2h0M304.7 234.3h0M322.5 235.2h0M303.2 239.7h0M315.5 237.5h0M308.2 243.3h0M309.8 239.5h0M310.1 235.3h0M314.3 241.6h0M314.3 227.1h0M300.9 239h0M323.7 239.1h0M325.1 232h0M303.9 238.4h0M302.8 247.2h0M310.7 239.9h0M323.8 236.3h0M314.2 237.8h0M297.5 248h0M304.2 241.1h0M314.9 226.3h0M320.2 237.4h0M302.1 243.8h0M303.3 238.9h0M299.4 243.6h0M316.5 235.7h0M324.6 229.4h0M300.9 236.9h0M314.2 234.9h0M301.1 239.7h0M321.3 241.4h0M318.2 238.7h0M297.4 243.6h0M319.6 239.8h0M321.1 237.2h0M306.9 231h0M324.4 236.8h0M316.3 237.1h0M323.5 232.6h0M307.9 244h0M301.4 233.7h0M304.6 238.9h0M314.9 240h0M303.6 241.9h0M301.9 241.5h0M310.9 239.2h0M306.1 236.7h0M325.2 229.5h0M307.3 241.1h0M322 230.7h0M311.8 231.5h0M318 237.2h0M302 234.8h0M303.2 242h0M295.9 242.3h0M314.1 241.1h0M311 241.4h0M310.8 239.8h0M305.8 242.5h0M314.7 231h0M313.8 243.1h0M299.1 244.4h0M291.7 247.6h0M296.3 235.3h0M313.8 233.6h0M319 243.1h0M315.8 234.3h0M310.9 235.3h0M309.1 234.6h0M310 240.4h0M303.4 243.2h0M297.9 238h0M305.7 246.1h0M312.3 240.2h0M323.4 230.1h0M308.7 242.6h0M309.5 236.2h0M307.1 238.1h0M310.6 230.2h0M311.7 240.5h0M306.9 245.9h0M312.5 242.7h0M319.8 234.6h0M305.5 241.1h0M302 238.6h0M306 244.2h0M303.9 247.1h0M300.2 239.6h0M315.4 241.3h0M317.3 229.7h0M310 244h0M294.5 246.5h0M301.8 238h0M302.5 244.3h0M312.2 236.8h0M332.1 236.1h0M315.5 236.4h0M321.6 235.7h0M316.1 237.5h0M315.9 237.1h0M308.4 237h0M307 241.1h0M319.2 236h0M304.7 240.1h0M303.3 244.3h0M317.3 235.4h0M308.1 240.9h0M304.9 236.8h0M302 235.2h0M316.7 238.5h0M305.3 237.5h0M308.4 237.1h0M302.2 243.7h0M302.5 247h0M293.9 246h0M309 237.1h0M295.6 238.3h0M317.6 237.4h0M313.4 242.7h0M305.1 239.8h0M300.4 239.4h0M310.8 236.7h0M296.5 248.5h0M305.4 238.1h0M316.9 230.7h0M308.5 236.9h0M298.2 243.6h0M303.1 240.2h0M312.3 242.4h0M314.4 231.9h0M308.8 239.5h0M299.8 244.5h0M311.9 243h0M305.1 240h0M313.3 241.1h0M329.3 232.2h0M321.8 238h0M315.9 235h0M303.7 238.3h0M321.1 234.6h0M304.4 244.1h0M323.6 234.2h0M320.4 242.5h0M297.1 247.4h0M320.3 233.1h0M303.2 241.7h0M297.5 247.6h0M304.4 243.9h0M326.9 233h0M326.3 237h0M298.3 237.6h0M329.7 244.3h0M315.7 237.6h0M300.9 240.7h0M310.8 233.6h0M311.1 237.8h0M304.3 238.3h0M316.1 247.1h0M311.6 243.9h0M317.2 234.3h0M312.5 243.5h0M311.8 241h0M315.4 240.9h0M328 228.7h0M317.9 236.7h0M324.5 235.4h0M306.4 231.7h0M327.9 235.4h0M321.2 230.1h0M327.9 235.1h0M317.9 240.4h0M307.1 245h0M292 245.8h0M324.2 235.6h0M303.2 239.7h0M313.8 235.7h0M311.2 234.7h0M292.7 245.7h0M310.4 236.4h0M317.5 239.5h0M323.3 248.7h0M293.6 246.5h0M326.5 234.4h0M306.8 242h0M304.6 242h0M306.1 233.9h0M317.2 236h0M309.8 233h0M307.5 237.7h0M313.4 235.2h0M296.7 244.4h0M326.2 233.7h0M332.8 231.2h0M313.6 235.4h0M306 248h0M316.7 241.6h0M317.1 239.3h0M304.6 238.9h0M306.9 237h0M316.4 237.2h0M323.6 230.8h0M311.6 240.9h0M295.1 238.8h0M303.6 238.9h0M312.3 238.7h0M303.2 243.2h0M311 239.2h0M298.4 237.7h0M294.6 242h0M298.7 239.7h0M318.6 235.1h0M315.3 232.8h0M323 242.6h0M310.2 243.8h0M300.8 241.7h0M312.7 232.4h0M292 237.2h0M309.2 233.9h0M309.9 237.8h0M304.8 233.7h0M311.6 236.7h0M330.9 235.2h0M297.4 244.6h0M312.3 237h0M313 241h0M303.4 244.7h0M314 234.9h0M309.9 238.3h0M318.6 243.4h0M318.3 241h0M309.6 236.6h0M318.9 232.6h0M314.6 240.7h0M313.2 239.5h0M315.8 241.1h0M312.5 242h0M313.1 238.5h0M311.8 236.4h0M315.5 244.6h0M308.8 244.2h0M301.2 237.3h0M298.1 243.3h0M299 243.2h0M322.6 235.6h0M315.4 245.5h0M303 244.9h0M303.9 240h0M320.9 239.1h0M303.8 240.4h0M307.2 239.9h0M316.2 244.3h0M314.9 235.9h0M319 238.7h0M310 241.8h0M316.3 238.2h0M308.6 243h0M321.9 235.8h0M313.2 229.8h0M299.8 233.9h0M323.7 234h0M302.5 237.9h0M310.2 232.6h0M314.5 241.6h0M295.2 242.3h0M312.8 245.1h0M316.1 235.9h0M316.5 240.6h0M328 230.7h0M308.1 236.5h0M319 241.1h0M316.5 238.4h0M326.5 234.3h0M307.8 245.6h0M305.3 240.9h0M318.5 236.1h0M318.9 234.4h0M308.7 239.6h0M311.8 234.9h0M305.2 233h0M311.3 240.5h0M304.9 243h0M298.4 235.7h0M322 237.8h0M315.8 240.9h0M306.8 235.6h0M298.8 247.2h0M313 241.8h0M326.2 234.8h0M297.5 245.3h0M301.2 240.7h0M303.5 241.7h0M302 234.5h0M315.8 238.5h0M312.6 240.7h0M305.9 243.7h0M311.9 233.6h0M316.9 234.5h0M309.8 234.7h0M307.2 240h0M313.2 240.1h0M335.4 232.9h0M314.8 244.2h0M313.6 234.7h0M321.1 240h0M320.9 233h0M309.5 235.9h0M315.1 240.5h0M310.6 236.9h0M321.5 225.9h0M328.5 231.3h0M313.6 239.4h0M304.8 236h0M300.3 238.5h0M304 238.8h0M317.5 239.5h0M314.3 236h0M303.3 242.5h0M308.6 239.5h0M301.5 230.8h0M305.6 239.9h0M319.1 240.9h0M308.8 237.3h0M312 239.4h0M297.9 237.2h0M313.9 244.3h0M301.7 239.3h0M299 242.8h0M291.4 236h0M307.1 240.2h0M315.4 242.9h0M305.5 241.3h0M313.2 239h0M297.3 245.1h0M310.3 238.3h0M316.5 228.6h0M315.5 238h0M316.6 236.5h0M309.9 239h0M315.5 230.8h0M310.8 238.5h0M322.6 243.3h0M323.6 230.7h0M310 242.2h0M306.8 239.8h0M312 237.5h0M308.3 237.7h0M311.4 234.5h0M319.5 236.3h0M316 235.5h0M311 234.2h0M310.4 241.4h0M315.1 238.9h0M305.3 239.3h0M315.3 247.8h0M311.9 239h0M302.5 241.8h0M314.9 241.6h0M316.8 240.5h0M308.6 237.9h0M312.6 233.5h0M306.8 243.9h0M298.5 242.4h0M316.9 237.7h0M321.7 241.5h0M306.1 242.5h0M316.4 246h0M311.7 240.9h0M329.5 236.6h0M313.7 241.1h0M317.1 236h0M313.3 236.6h0M304.4 241h0M299.6 240.7h0M309.8 239h0M311 234.3h0M314.3 240.1h0M315.5 240h0M307.9 238.8h0M315.3 240.1h0M317.5 239.2h0M304.1 240.8h0M300.6 241h0M302.1 240.8h0M294.3 243.6h0M315.7 241.1h0M319.9 235.2h0M317.2 232.4h0M309.2 243.3h0M317.8 240.7h0M295.2 238.7h0M315.9 233.8h0M311.5 238.5h0M309.9 233.6h0M309.4 238.7h0M300.4 239.6h0M313.1 242.4h0M317 244.8h0M305.6 240.7h0M297.2 242.2h0M300.9 247.1h0M298.2 237.8h0M301.2 243.1h0M313.7 232.3h0M315.1 236.8h0M298.7 240.1h0M314.6 246.1h0M310.5 238.7h0M316.5 230.2h0M307.5 244.5h0M318.9 236.1h0M312.1 232.9h0M311.4 237.4h0M311.2 240.5h0M316.9 234.4h0M321.4 231.5h0M298.2 242h0M323.3 240h0M293.7 235.1h0M319 241.2h0M308.1 242.1h0M315.6 238.8h0M312.5 235.1h0M316.3 237.4h0M312.1 242.3h0M318.8 235.6h0M315.6 232.9h0M306.8 241.7h0M315.3 233.1h0M307.7 245.5h0M315.2 240.1h0M298.1 241.1h0M310.6 240.4h0M307.6 242.8h0M297.6 233.3h0M307.1 232.9h0M309.5 239.9h0M308.2 240.7h0M293.5 240.3h0M314.2 241.1h0M305.9 240h0M298.9 238.1h0M304.4 242.6h0M296 236.5h0M312.2 226.8h0M302.7 240h0M330.1 235.9h0M322.1 241.7h0M321.3 240.3h0M305.5 239.8h0M314.8 236.5h0M309.1 238.2h0M310.3 239.5h0M306.2 242.5h0M309.4 232.3h0M312.8 236.8h0M299.1 238.5h0M302.5 238.9h0M312 236.3h0M321.4 242.1h0M315.2 233.4h0M297.1 241.1h0M305.3 241.9h0M315.4 242.5h0M311.6 241.8h0M312.9 243.3h0M309.9 242.8h0M317.9 241.7h0M310.3 243.8h0M295.4 244h0M318.9 244.9h0M307.7 251.4h0M309.4 241.5h0M303.1 244.3h0M300.9 243.5h0M294.9 249.8h0M293.7 246.4h0M321.7 249h0M305.2 236.5h0M308.7 244.8h0M317.8 249.8h0M302.2 241.9h0M291.4 242.6h0M321.5 238.5h0M323.3 246.6h0M316.5 247.8h0M293.1 246.4h0M313.2 248.5h0M296.1 234.5h0M304.7 252.3h0M292.9 241.7h0M299.9 236.3h0M323.2 244.7h0M322.3 238h0M316.4 233.8h0M318.6 244.2h0M321.4 242.5h0M309.3 234.6h0M319.8 245.7h0M306.1 235h0M291.6 250.2h0M305.6 246.4h0M315.9 249.4h0M307.2 236.5h0M305 241.3h0M318.3 252.1h0M297 249.2h0M321.8 242.5h0M320.3 236h0M309.8 250.8h0M302 249.4h0M298.1 241.9h0M321.2 245.5h0M318.3 231.5h0M318.1 242.7h0M305.4 249.7h0M310.5 234.6h0M301.3 230.5h0M311.7 233.4h0M300.1 241.9h0M301.2 231h0M312.5 242.1h0M318.8 249.5h0M320.9 249.2h0M311.2 239.8h0M299.2 237h0M315.1 250.6h0M315.2 244.1h0M294.7 230.2h0M298.9 246.3h0M301.2 230.5h0M308.7 229.9h0M316.6 240.6h0M312 252.1h0M307.9 234.1h0M301.8 247.2h0M293.5 235.3h0M308.7 232.2h0M308.9 247.3h0M321.7 231.5h0M314.6 244.4h0M305.2 229.9h0M315 240.3h0M313 236.2h0M322.6 237.7h0M309.8 248.3h0M294.6 245h0M313.9 245.7h0M302.3 248.2h0M295.2 243.6h0M313.5 231.4h0M318 239.8h0M320.9 239.9h0M315.2 240h0M313.8 235.9h0M295.1 245.6h0M300.8 241.3h0M311.6 237.4h0M304.6 238.1h0M313.5 246.7h0M292.6 230.2h0M294 242.8h0M303.8 240.8h0M292.1 233.4h0M305.1 247.1h0M295.4 243.9h0M313.9 243.2h0M303.9 247.7h0M301.4 239.8h0M313.2 232.3h0M298.7 242.4h0M314.6 241.4h0M311.6 242.3h0M321.7 244.7h0M324.6 244.6h0M309.4 230.2h0M306.6 234.6h0M298.9 230.6h0M299.1 238.7h0M295.7 250.4h0M291.5 238.7h0M303.4 231.6h0M294.5 232.8h0M308.6 250.8h0M321 248.5h0" stroke="#222" stroke-width=".4" stroke-linecap="round" opacity=".32" fill="none"/>
<ellipse cx="317.6" cy="235.8" rx="6" ry="2.1" fill="url(#cg)" opacity=".88" transform="rotate(-40 317.6 235.8)"/>
<ellipse cx="321" cy="233.1" rx="2.2" ry=".9" fill="#b01030" opacity=".35" transform="rotate(-40 321 233.1)"/>
<text x="291.2" y="204.4" font-size="3.9" fill="#c23a5e">Q1-UL</text>
<text x="291.2" y="207.6" font-size="3.9" fill="#c23a5e">6.1%</text>
<text x="354.2" y="204.4" font-size="3.9" fill="#c23a5e" text-anchor="end">Q1-UR</text>
<text x="354.2" y="207.6" font-size="3.9" fill="#c23a5e" text-anchor="end">9.1%</text>
<text x="291.2" y="249.4" font-size="3.9" fill="#c23a5e">Q1-LL</text>
<text x="291.2" y="252.5" font-size="3.9" fill="#c23a5e">82.2%</text>
<text x="354.2" y="249.4" font-size="3.9" fill="#c23a5e" text-anchor="end">Q1-LR</text>
<text x="354.2" y="252.5" font-size="3.9" fill="#c23a5e" text-anchor="end">2.6%</text>
<text x="320" y="229.7" font-size="3.9" fill="#c23a5e" text-anchor="end">Q1</text>
<text x="321.5" y="260.6" font-size="3.3" fill="#333" text-anchor="middle" letter-spacing=".15">TREM2-A</text>
<text x="16.2" y="230.2" font-size="10.4" fill="#cc1420" text-anchor="middle" transform="rotate(-90 16.2 230.2)" stroke="#cc1420" stroke-width=".38">pTau</text>
<line x1="32.4" y1="266.5" x2="341" y2="266.5" stroke="#9a9a9a" stroke-width="0.8"/>
<path d="M336.6 262.4L342.4 266.5L336.6 270.6" fill="none" stroke="#8a8a8a" stroke-width=".8"/>
<rect x="176.6" y="261" width="30" height="10" fill="#fff"/>
<text x="191.5" y="269.6" font-size="9.8" fill="#1ea64c" font-weight="bold" text-anchor="middle" textLength="27.8" lengthAdjust="spacingAndGlyphs">TREM2</text>
<text x="70.8" y="279" font-size="4.1" fill="#111" text-anchor="middle" textLength="70" lengthAdjust="spacing" stroke="#111" stroke-width=".16">Vil HFD pTau (-ve TREM2)</text>
<line x1="41.2" y1="317.6" x2="41.2" y2="316.3" stroke="#000" stroke-width="0.85"/>
<line x1="36.9" y1="316.3" x2="45.5" y2="316.3" stroke="#000" stroke-width="0.85"/>
<rect x="33.6" y="317.6" width="15.2" height="14.7" fill="#14921a" stroke="#000" stroke-width=".9"/>
<text x="42.6" y="335.9" font-size="3.9" fill="#111" font-weight="bold" text-anchor="end" transform="rotate(-45 42.6 335.9)" stroke="#111" stroke-width=".18">FL ND</text>
<line x1="41.2" y1="332.3" x2="41.2" y2="333.5" stroke="#000" stroke-width="0.6"/>
<line x1="63.1" y1="311.9" x2="63.1" y2="309.3" stroke="#000" stroke-width="0.85"/>
<line x1="59" y1="309.3" x2="67.2" y2="309.3" stroke="#000" stroke-width="0.85"/>
<rect x="55.8" y="311.9" width="14.6" height="20.4" fill="#b81414" stroke="#000" stroke-width=".9"/>
<text x="64.5" y="335.9" font-size="3.9" fill="#111" font-weight="bold" text-anchor="end" transform="rotate(-45 64.5 335.9)" stroke="#111" stroke-width=".18">Int-KO ND</text>
<line x1="63.1" y1="332.3" x2="63.1" y2="333.5" stroke="#000" stroke-width="0.6"/>
<line x1="84.5" y1="301.2" x2="84.5" y2="300" stroke="#000" stroke-width="0.85"/>
<line x1="80.4" y1="300" x2="88.6" y2="300" stroke="#000" stroke-width="0.85"/>
<rect x="77.2" y="301.2" width="14.6" height="31.1" fill="#1414f0" stroke="#000" stroke-width=".9"/>
<text x="84.5" y="300.4" font-size="4.2" fill="#222" font-weight="bold" text-anchor="middle">**</text>
<text x="85.9" y="335.9" font-size="3.9" fill="#111" font-weight="bold" text-anchor="end" transform="rotate(-45 85.9 335.9)" stroke="#111" stroke-width=".18">FL HFD</text>
<line x1="84.5" y1="332.3" x2="84.5" y2="333.5" stroke="#000" stroke-width="0.6"/>
<line x1="106.2" y1="291.2" x2="106.2" y2="288.5" stroke="#000" stroke-width="0.85"/>
<line x1="102.1" y1="288.5" x2="110.3" y2="288.5" stroke="#000" stroke-width="0.85"/>
<rect x="98.8" y="291.2" width="14.8" height="41.1" fill="#ff1515" stroke="#000" stroke-width=".9"/>
<text x="106.2" y="288.8" font-size="4.2" fill="#222" font-weight="bold" text-anchor="middle">***</text>
<text x="107.6" y="335.9" font-size="3.9" fill="#111" font-weight="bold" text-anchor="end" transform="rotate(-45 107.6 335.9)" stroke="#111" stroke-width=".18">Int-KO HFD</text>
<line x1="106.2" y1="332.3" x2="106.2" y2="333.5" stroke="#000" stroke-width="0.6"/>
<line x1="29.5" y1="284.3" x2="29.5" y2="332.7" stroke="#000" stroke-width="0.8"/>
<line x1="29.2" y1="332.3" x2="118" y2="332.3" stroke="#000" stroke-width="0.8"/>
<line x1="27.9" y1="332.3" x2="29.5" y2="332.3" stroke="#000" stroke-width="0.7"/>
<text x="27.2" y="333.8" font-size="4.2" fill="#111" font-weight="bold" text-anchor="end" stroke="#111" stroke-width=".18">0</text>
<line x1="27.9" y1="322.8" x2="29.5" y2="322.8" stroke="#000" stroke-width="0.7"/>
<text x="27.2" y="324.2" font-size="4.2" fill="#111" font-weight="bold" text-anchor="end" stroke="#111" stroke-width=".18">1</text>
<line x1="27.9" y1="313.2" x2="29.5" y2="313.2" stroke="#000" stroke-width="0.7"/>
<text x="27.2" y="314.7" font-size="4.2" fill="#111" font-weight="bold" text-anchor="end" stroke="#111" stroke-width=".18">2</text>
<line x1="27.9" y1="303.7" x2="29.5" y2="303.7" stroke="#000" stroke-width="0.7"/>
<text x="27.2" y="305.1" font-size="4.2" fill="#111" font-weight="bold" text-anchor="end" stroke="#111" stroke-width=".18">3</text>
<line x1="27.9" y1="294.1" x2="29.5" y2="294.1" stroke="#000" stroke-width="0.7"/>
<text x="27.2" y="295.6" font-size="4.2" fill="#111" font-weight="bold" text-anchor="end" stroke="#111" stroke-width=".18">4</text>
<line x1="27.9" y1="284.6" x2="29.5" y2="284.6" stroke="#000" stroke-width="0.7"/>
<text x="27.2" y="286.1" font-size="4.2" fill="#111" font-weight="bold" text-anchor="end" stroke="#111" stroke-width=".18">5</text>
<text x="22.5" y="306.3" font-size="4.2" fill="#111" font-weight="bold" text-anchor="middle" transform="rotate(-90 22.5 306.3)" stroke="#111" stroke-width=".18">pTau+ve cells</text>
<text x="184.4" y="278.8" font-size="4.1" fill="#111" text-anchor="middle" textLength="68.6" lengthAdjust="spacing" stroke="#111" stroke-width=".16">Vil HFD TREM2 (-ve pTau)</text>
<line x1="155.9" y1="293.3" x2="155.9" y2="292.2" stroke="#000" stroke-width="0.85"/>
<line x1="151.7" y1="292.2" x2="160.2" y2="292.2" stroke="#000" stroke-width="0.85"/>
<rect x="148.3" y="293.3" width="15.3" height="38.2" fill="#14921a" stroke="#000" stroke-width=".9"/>
<text x="157.3" y="335.1" font-size="3.9" fill="#111" font-weight="bold" text-anchor="end" transform="rotate(-45 157.3 335.1)" stroke="#111" stroke-width=".18">FL ND</text>
<line x1="155.9" y1="331.5" x2="155.9" y2="332.7" stroke="#000" stroke-width="0.6"/>
<line x1="177.7" y1="310.4" x2="177.7" y2="306" stroke="#000" stroke-width="0.85"/>
<line x1="173.6" y1="306" x2="181.8" y2="306" stroke="#000" stroke-width="0.85"/>
<rect x="170.4" y="310.4" width="14.6" height="21.1" fill="#b81414" stroke="#000" stroke-width=".9"/>
<text x="177.7" y="306.4" font-size="4.2" fill="#222" font-weight="bold" text-anchor="middle">*</text>
<text x="179.1" y="335.1" font-size="3.9" fill="#111" font-weight="bold" text-anchor="end" transform="rotate(-45 179.1 335.1)" stroke="#111" stroke-width=".18">Int-KO ND</text>
<line x1="177.7" y1="331.5" x2="177.7" y2="332.7" stroke="#000" stroke-width="0.6"/>
<line x1="199.2" y1="326.7" x2="199.2" y2="322.4" stroke="#000" stroke-width="0.85"/>
<line x1="194.9" y1="322.4" x2="203.4" y2="322.4" stroke="#000" stroke-width="0.85"/>
<rect x="191.5" y="326.7" width="15.3" height="4.8" fill="#1414f0" stroke="#000" stroke-width=".9"/>
<text x="199.2" y="322.6" font-size="4.2" fill="#222" font-weight="bold" text-anchor="middle">**</text>
<text x="200.6" y="335.1" font-size="3.9" fill="#111" font-weight="bold" text-anchor="end" transform="rotate(-45 200.6 335.1)" stroke="#111" stroke-width=".18">FL HFD</text>
<line x1="199.2" y1="331.5" x2="199.2" y2="332.7" stroke="#000" stroke-width="0.6"/>
<line x1="221" y1="327.8" x2="221" y2="323" stroke="#000" stroke-width="0.85"/>
<line x1="216.7" y1="323" x2="225.3" y2="323" stroke="#000" stroke-width="0.85"/>
<rect x="213.4" y="327.8" width="15.2" height="3.7" fill="#ff1515" stroke="#000" stroke-width=".9"/>
<text x="221" y="323" font-size="4.2" fill="#222" font-weight="bold" text-anchor="middle">**</text>
<text x="222.4" y="335.1" font-size="3.9" fill="#111" font-weight="bold" text-anchor="end" transform="rotate(-45 222.4 335.1)" stroke="#111" stroke-width=".18">Int-KO HFD</text>
<line x1="221" y1="331.5" x2="221" y2="332.7" stroke="#000" stroke-width="0.6"/>
<line x1="144.4" y1="284.3" x2="144.4" y2="331.9" stroke="#000" stroke-width="0.8"/>
<line x1="144.1" y1="331.5" x2="233" y2="331.5" stroke="#000" stroke-width="0.8"/>
<line x1="142.8" y1="331.5" x2="144.4" y2="331.5" stroke="#000" stroke-width="0.7"/>
<text x="142.1" y="332.9" font-size="4.2" fill="#111" font-weight="bold" text-anchor="end" stroke="#111" stroke-width=".18">0</text>
<line x1="142.8" y1="315.9" x2="144.4" y2="315.9" stroke="#000" stroke-width="0.7"/>
<text x="142.1" y="317.3" font-size="4.2" fill="#111" font-weight="bold" text-anchor="end" stroke="#111" stroke-width=".18">5</text>
<line x1="142.8" y1="300.2" x2="144.4" y2="300.2" stroke="#000" stroke-width="0.7"/>
<text x="142.1" y="301.7" font-size="4.2" fill="#111" font-weight="bold" text-anchor="end" stroke="#111" stroke-width=".18">10</text>
<line x1="142.8" y1="284.6" x2="144.4" y2="284.6" stroke="#000" stroke-width="0.7"/>
<text x="142.1" y="286.1" font-size="4.2" fill="#111" font-weight="bold" text-anchor="end" stroke="#111" stroke-width=".18">15</text>
<text x="133.9" y="307.2" font-size="4.0" fill="#111" font-weight="bold" text-anchor="middle" transform="rotate(-90 133.9 307.2)" stroke="#111" stroke-width=".18">TREM +ve cells</text>
<text x="297.5" y="277" font-size="4.1" fill="#111" text-anchor="middle" textLength="56" lengthAdjust="spacing" stroke="#111" stroke-width=".16">Vil HFD TREM2+pTau</text>
<line x1="269.3" y1="311.5" x2="269.3" y2="311" stroke="#000" stroke-width="0.85"/>
<line x1="265" y1="311" x2="273.6" y2="311" stroke="#000" stroke-width="0.85"/>
<rect x="261.6" y="311.5" width="15.4" height="19.5" fill="#14921a" stroke="#000" stroke-width=".9"/>
<text x="270.7" y="334.6" font-size="3.9" fill="#111" font-weight="bold" text-anchor="end" transform="rotate(-45 270.7 334.6)" stroke="#111" stroke-width=".18">FL ND</text>
<line x1="269.3" y1="331" x2="269.3" y2="332.2" stroke="#000" stroke-width="0.6"/>
<line x1="291.5" y1="313.6" x2="291.5" y2="312.5" stroke="#000" stroke-width="0.85"/>
<line x1="287.3" y1="312.5" x2="295.7" y2="312.5" stroke="#000" stroke-width="0.85"/>
<rect x="284" y="313.6" width="15" height="17.4" fill="#b81414" stroke="#000" stroke-width=".9"/>
<text x="292.9" y="334.6" font-size="3.9" fill="#111" font-weight="bold" text-anchor="end" transform="rotate(-45 292.9 334.6)" stroke="#111" stroke-width=".18">Int-KO ND</text>
<line x1="291.5" y1="331" x2="291.5" y2="332.2" stroke="#000" stroke-width="0.6"/>
<line x1="313.4" y1="312.5" x2="313.4" y2="306.7" stroke="#000" stroke-width="0.85"/>
<line x1="309.3" y1="306.7" x2="317.5" y2="306.7" stroke="#000" stroke-width="0.85"/>
<rect x="306" y="312.5" width="14.8" height="18.5" fill="#1414f0" stroke="#000" stroke-width=".9"/>
<text x="314.8" y="334.6" font-size="3.9" fill="#111" font-weight="bold" text-anchor="end" transform="rotate(-45 314.8 334.6)" stroke="#111" stroke-width=".18">FL HFD</text>
<line x1="313.4" y1="331" x2="313.4" y2="332.2" stroke="#000" stroke-width="0.6"/>
<line x1="335.1" y1="306.4" x2="335.1" y2="291.4" stroke="#000" stroke-width="0.85"/>
<line x1="331" y1="291.4" x2="339.3" y2="291.4" stroke="#000" stroke-width="0.85"/>
<rect x="327.7" y="306.4" width="14.9" height="24.6" fill="#ff1515" stroke="#000" stroke-width=".9"/>
<text x="336.5" y="334.6" font-size="3.9" fill="#111" font-weight="bold" text-anchor="end" transform="rotate(-45 336.5 334.6)" stroke="#111" stroke-width=".18">Int-KO HFD</text>
<line x1="335.1" y1="331" x2="335.1" y2="332.2" stroke="#000" stroke-width="0.6"/>
<line x1="258.2" y1="282.9" x2="258.2" y2="331.4" stroke="#000" stroke-width="0.8"/>
<line x1="257.9" y1="331" x2="347.4" y2="331" stroke="#000" stroke-width="0.8"/>
<line x1="256.6" y1="331" x2="258.2" y2="331" stroke="#000" stroke-width="0.7"/>
<text x="255.9" y="332.4" font-size="4.2" fill="#111" font-weight="bold" text-anchor="end" stroke="#111" stroke-width=".18">0</text>
<line x1="256.6" y1="315.1" x2="258.2" y2="315.1" stroke="#000" stroke-width="0.7"/>
<text x="255.9" y="316.5" font-size="4.2" fill="#111" font-weight="bold" text-anchor="end" stroke="#111" stroke-width=".18">10</text>
<line x1="256.6" y1="299.1" x2="258.2" y2="299.1" stroke="#000" stroke-width="0.7"/>
<text x="255.9" y="300.6" font-size="4.2" fill="#111" font-weight="bold" text-anchor="end" stroke="#111" stroke-width=".18">20</text>
<line x1="256.6" y1="283.2" x2="258.2" y2="283.2" stroke="#000" stroke-width="0.7"/>
<text x="255.9" y="284.6" font-size="4.2" fill="#111" font-weight="bold" text-anchor="end" stroke="#111" stroke-width=".18">30</text>
<text x="247.4" y="306.3" font-size="3.7" fill="#111" font-weight="bold" text-anchor="middle" transform="rotate(-90 247.4 306.3)" textLength="43" lengthAdjust="spacingAndGlyphs" stroke="#111" stroke-width=".18">TREM2+pTau +ve cells</text>
<text x="456.6" y="20.2" font-size="8.5" fill="#222" text-anchor="middle" textLength="46.7" lengthAdjust="spacingAndGlyphs">Mouse brain</text>
<line x1="370.3" y1="21.5" x2="544" y2="21.5" stroke="#555" stroke-width="0.9"/>
<text x="389.8" y="29.6" font-size="6" fill="#111" font-weight="bold" text-anchor="middle" textLength="19.5" lengthAdjust="spacingAndGlyphs" stroke="#111" stroke-width=".18">F/F ND</text>
<text x="432.6" y="29.6" font-size="6" fill="#111" font-weight="bold" text-anchor="middle" textLength="40" lengthAdjust="spacingAndGlyphs" stroke="#111" stroke-width=".18">Vil Cre F/F ND</text>
<text x="475.2" y="29.6" font-size="6" fill="#111" font-weight="bold" text-anchor="middle" textLength="22.4" lengthAdjust="spacingAndGlyphs" stroke="#111" stroke-width=".18">F/F HFD</text>
<text x="521.8" y="29.6" font-size="6" fill="#111" font-weight="bold" text-anchor="middle" textLength="42.4" lengthAdjust="spacingAndGlyphs" stroke="#111" stroke-width=".18">Vil Cre F/F HFD</text>
<rect x="366.6" y="31.2" width="177.2" height="178.4" fill="#ececec"/>
<g clip-path="url(#c00)">
<rect x="367.2" y="31.8" width="42.8" height="42.7" fill="#020" filter="url(#gm0)"/>
<g filter="url(#b1)" fill="#30ea3c"><ellipse cx="392.6" cy="41.7" rx="2" ry="1.5" opacity=".8" transform="rotate(149 392.6 41.7)"/><ellipse cx="392.4" cy="42.5" rx="1.5" ry=".8" opacity=".7" transform="rotate(99 392.4 42.5)"/><ellipse cx="376.7" cy="46.2" rx="1.8" ry="1.3" opacity=".7" transform="rotate(78 376.7 46.2)"/><ellipse cx="376.4" cy="46.4" rx="1.3" ry="1.2" opacity=".5" transform="rotate(24 376.4 46.4)"/><ellipse cx="381.2" cy="45.4" rx="1.6" ry="1.4" opacity=".6" transform="rotate(134 381.2 45.4)"/><ellipse cx="381.5" cy="44.8" rx="1.2" ry=".8" opacity=".5" transform="rotate(141 381.5 44.8)"/><ellipse cx="387.2" cy="45.4" rx="1.4" ry="1" opacity=".6" transform="rotate(42 387.2 45.4)"/><ellipse cx="386.9" cy="45.3" rx="1" ry=".7" opacity=".5" transform="rotate(80 386.9 45.3)"/><ellipse cx="395.9" cy="36.4" rx="1.6" ry="1" opacity=".6" transform="rotate(33 395.9 36.4)"/><ellipse cx="396.2" cy="35.8" rx="1.2" ry=".9" opacity=".5" transform="rotate(63 396.2 35.8)"/><ellipse cx="402.6" cy="35.9" rx="2" ry="1.6" opacity=".3" transform="rotate(19 402.6 35.9)"/><ellipse cx="403.3" cy="35.3" rx="1.5" ry=".9" opacity=".3" transform="rotate(72 403.3 35.3)"/><ellipse cx="374.5" cy="35.4" rx="1.2" ry=".7" opacity=".3" transform="rotate(87 374.5 35.4)"/><ellipse cx="374.5" cy="35.3" rx=".9" ry=".7" opacity=".3" transform="rotate(121 374.5 35.3)"/><ellipse cx="388.4" cy="48.7" rx="1.4" ry=".8" opacity=".6" transform="rotate(70 388.4 48.7)"/><ellipse cx="388.4" cy="48.8" rx="1" ry=".7" opacity=".5" transform="rotate(76 388.4 48.8)"/><ellipse cx="384.2" cy="52.6" rx="1.4" ry=".9" opacity=".6" transform="rotate(58 384.2 52.6)"/><ellipse cx="384.8" cy="52.7" rx="1" ry=".9" opacity=".5" transform="rotate(90 384.8 52.7)"/><ellipse cx="380.9" cy="59.8" rx="1.6" ry="1.4" opacity=".7" transform="rotate(16 380.9 59.8)"/><ellipse cx="381.2" cy="60.1" rx="1.2" ry=".9" opacity=".5" transform="rotate(44 381.2 60.1)"/><ellipse cx="375" cy="53.4" rx="1" ry=".7" opacity=".4" transform="rotate(93 375 53.4)"/><ellipse cx="374.8" cy="53.4" rx=".7" ry=".6" opacity=".3" transform="rotate(163 374.8 53.4)"/><ellipse cx="399.3" cy="55.1" rx="1.2" ry=".7" opacity=".3" transform="rotate(69 399.3 55.1)"/><ellipse cx="399.3" cy="55.3" rx=".9" ry=".5" opacity=".3" transform="rotate(170 399.3 55.3)"/><ellipse cx="370" cy="66" rx="1" ry=".6" opacity=".5" transform="rotate(177 370 66)"/><ellipse cx="370.4" cy="65.8" rx=".7" ry=".6" opacity=".4" transform="rotate(46 370.4 65.8)"/><ellipse cx="385.9" cy="64.8" rx="1" ry=".9" opacity=".5" transform="rotate(37 385.9 64.8)"/><ellipse cx="385.7" cy="65" rx=".7" ry=".5" opacity=".4" transform="rotate(33 385.7 65)"/><ellipse cx="398.4" cy="62.6" rx="1.2" ry="1" opacity=".3" transform="rotate(141 398.4 62.6)"/><ellipse cx="398.9" cy="62.1" rx=".9" ry=".7" opacity=".3" transform="rotate(139 398.9 62.1)"/><ellipse cx="368" cy="51.7" rx=".8" ry=".7" opacity=".5" transform="rotate(159 368 51.7)"/><ellipse cx="367.9" cy="51.8" rx=".6" ry=".4" opacity=".4" transform="rotate(101 367.9 51.8)"/><ellipse cx="407.6" cy="41.7" rx="1.2" ry="1.1" opacity=".3" transform="rotate(42 407.6 41.7)"/><ellipse cx="408.1" cy="41.5" rx=".9" ry=".6" opacity=".3" transform="rotate(148 408.1 41.5)"/><ellipse cx="393.4" cy="51.7" rx="1" ry=".8" opacity=".3" transform="rotate(141 393.4 51.7)"/><ellipse cx="393.5" cy="51.9" rx=".7" ry=".5" opacity=".3" transform="rotate(129 393.5 51.9)"/><ellipse cx="377.5" cy="40" rx="1" ry=".7" opacity=".3" transform="rotate(30 377.5 40)"/><ellipse cx="377.3" cy="40.4" rx=".7" ry=".7" opacity=".3" transform="rotate(77 377.3 40.4)"/><ellipse cx="390.1" cy="57.6" rx="1" ry=".7" opacity=".3" transform="rotate(27 390.1 57.6)"/><ellipse cx="390.3" cy="58" rx=".7" ry=".6" opacity=".2" transform="rotate(76 390.3 58)"/><ellipse cx="403.5" cy="48.4" rx="1" ry=".7" opacity=".3" transform="rotate(162 403.5 48.4)"/><ellipse cx="403.4" cy="48" rx=".7" ry=".5" opacity=".2" transform="rotate(129 403.4 48)"/><ellipse cx="372.5" cy="42.5" rx=".8" ry=".7" opacity=".3" transform="rotate(147 372.5 42.5)"/><ellipse cx="372.4" cy="42.9" rx=".6" ry=".5" opacity=".3" transform="rotate(145 372.4 42.9)"/><ellipse cx="405.1" cy="68.5" rx="1" ry=".9" opacity=".2" transform="rotate(9 405.1 68.5)"/><ellipse cx="405.3" cy="68.8" rx=".7" ry=".4" opacity=".2" transform="rotate(118 405.3 68.8)"/><ellipse cx="381.7" cy="36.7" rx="1" ry=".7" opacity=".3" transform="rotate(47 381.7 36.7)"/><ellipse cx="381.9" cy="36.6" rx=".7" ry=".6" opacity=".2" transform="rotate(172 381.9 36.6)"/><ellipse cx="374.1" cy="49.5" rx="1.1" ry=".7" opacity=".3" transform="rotate(28 374.1 49.5)"/><ellipse cx="373.7" cy="49.6" rx=".9" ry=".8" opacity=".3" transform="rotate(50 373.7 49.6)"/><ellipse cx="398.1" cy="48.6" rx="1.2" ry="1" opacity=".3" transform="rotate(13 398.1 48.6)"/><ellipse cx="397.9" cy="48.5" rx=".9" ry=".8" opacity=".2" transform="rotate(59 397.9 48.5)"/><ellipse cx="371.5" cy="49.6" rx=".7" ry=".7" opacity=".4" transform="rotate(112 371.5 49.6)"/><ellipse cx="371.3" cy="49.7" rx=".5" ry=".4" opacity=".3" transform="rotate(116 371.3 49.7)"/><ellipse cx="406.8" cy="44.6" rx=".9" ry=".8" opacity=".3" transform="rotate(158 406.8 44.6)"/><ellipse cx="407" cy="44.4" rx=".7" ry=".4" opacity=".3" transform="rotate(14 407 44.4)"/><ellipse cx="376.5" cy="38.3" rx=".8" ry=".6" opacity=".2" transform="rotate(122 376.5 38.3)"/><ellipse cx="376.5" cy="38.5" rx=".6" ry=".6" opacity=".2" transform="rotate(143 376.5 38.5)"/><ellipse cx="393.8" cy="70.2" rx=".8" ry=".5" opacity=".4" transform="rotate(34 393.8 70.2)"/><ellipse cx="393.8" cy="70.2" rx=".6" ry=".5" opacity=".3" transform="rotate(69 393.8 70.2)"/><ellipse cx="390.9" cy="67.7" rx="1.2" ry=".9" opacity=".2" transform="rotate(64 390.9 67.7)"/><ellipse cx="390.6" cy="67.3" rx=".9" ry=".8" opacity=".2" transform="rotate(175 390.6 67.3)"/><ellipse cx="394.7" cy="36.1" rx=".7" ry=".4" opacity=".3" transform="rotate(55 394.7 36.1)"/><ellipse cx="394.8" cy="36.1" rx=".5" ry=".3" opacity=".2" transform="rotate(45 394.8 36.1)"/><ellipse cx="399.8" cy="54" rx=".8" ry=".7" opacity=".3" transform="rotate(18 399.8 54)"/><ellipse cx="399.4" cy="54.2" rx=".6" ry=".3" opacity=".3" transform="rotate(161 399.4 54.2)"/><ellipse cx="405.5" cy="40.7" rx="1" ry=".6" opacity=".3" transform="rotate(64 405.5 40.7)"/><ellipse cx="405.2" cy="40.4" rx=".7" ry=".7" opacity=".2" transform="rotate(136 405.2 40.4)"/></g>
<g filter="url(#b1)" fill="#48ff50"></g>
<rect x="367.5" y="32.1" width="42.2" height="42.1" fill="none" stroke="#000" stroke-width="1.1" opacity=".85"/>
<text x="408.6" y="73" font-size="3" fill="#ee2430" font-weight="bold" text-anchor="end">50μm</text>
</g>
<g clip-path="url(#c01)">
<rect x="367.2" y="76.8" width="42.8" height="42" fill="#4e090d"/>
<rect x="367.2" y="76.8" width="42.8" height="42" fill="#200000" filter="url(#nz)" opacity="0.2"/>
<ellipse cx="388.6" cy="97.8" rx="32.1" ry="31.5" fill="url(#vg)" opacity="0.9"/>
<rect x="367.5" y="77.1" width="42.2" height="41.4" fill="none" stroke="#000" stroke-width="1.1" opacity=".85"/>
<text x="408.6" y="117.3" font-size="3" fill="#ee2430" font-weight="bold" text-anchor="end">50μm</text>
</g>
<g clip-path="url(#c02)">
<rect x="367.2" y="121" width="42.8" height="42.8" fill="#050526"/>
<path d="M386.7 144.8h0M405.9 141h0M388.9 146h0M375.7 142.9h0M393.9 154.4h0M372 134.4h0M371.9 155h0M396.5 123.7h0M408.3 161.4h0M394.9 147.1h0M374.6 122.6h0M389.8 124.4h0M376 131.9h0M369.4 140.9h0M386.2 156.4h0M389.4 148.1h0M388.6 149h0M386.9 133.3h0M408.9 162.6h0M402.5 150.9h0M381.1 131.4h0M380 124.9h0M399.5 138.3h0M402.7 137.8h0M407.3 156.6h0M368.2 130.6h0M405.3 141.2h0M408.2 138.2h0M371.2 147.7h0M400 133h0M371.8 135.6h0M407.5 152.9h0M373 132.1h0M372.3 124.4h0M400.7 129.2h0M391 140.3h0M376 151.9h0M373.5 148.3h0M373 139.2h0M376.9 133h0M407.8 154.8h0M380.6 158.1h0M376.8 138.1h0M403.1 148.2h0M372.3 162.4h0M376.9 132.5h0M399.7 135.4h0M380.3 125h0M371.9 145.8h0M378.1 146.5h0M383.4 140.5h0M407.3 141.7h0M391.6 157.4h0M375.7 128.3h0M405.3 155.4h0M378.4 129.7h0M398.4 160.4h0M376.2 160.8h0M404.2 146.6h0M385.4 126.2h0M369.8 161.3h0M377.9 150.7h0M378.7 155.6h0M392.5 134h0M375.4 151.4h0M371 131.3h0M391 156.8h0M393.3 133.4h0M405.6 130.3h0M368.9 133h0M386.4 124.5h0M375.4 137h0M391.5 127.4h0M383 158.4h0M408.2 148.8h0M396.4 145.8h0M373.9 123.4h0M368.9 159.1h0M396.8 161.3h0M369.1 148h0M387.9 151.8h0M381.2 162.8h0M371.3 144.3h0M398.3 158.7h0M398.3 150.7h0M400.6 159.3h0M382.6 150h0M405 157.5h0M385.2 154.3h0M403.4 145.4h0M393.7 137.6h0M392 146.8h0M371.5 148.1h0M408.7 157.9h0M397.9 137.8h0M398.2 145.7h0M386.2 156.2h0M371.6 152.6h0M369.4 146.5h0M387.8 131.4h0M396.7 142.3h0M393.3 159.6h0M378.6 122.5h0M380.5 149.7h0M376.5 128.9h0M405.2 148.9h0M386.2 158.4h0M381.5 149.2h0M376.3 139.6h0M401.1 159.3h0M404.1 137.7h0M392 134.9h0M373.8 142.3h0M402.4 156.6h0M397.2 160.8h0M379.5 128.9h0M386.6 133.2h0M376.9 138.9h0M393.7 142.2h0M381.1 156.2h0M408.3 140.5h0M371.2 123.3h0M403.8 123.7h0M397.1 145.3h0M380.8 154.3h0M369 127.5h0M386.8 123h0M402.1 131.7h0M373.9 123.9h0M393.9 140.2h0M393.9 148.7h0M401.1 161.1h0M396.1 130.1h0M387.6 129.3h0M368.6 141.3h0" stroke="#2c3acc" stroke-width="1.1" stroke-linecap="round" opacity=".62" filter="url(#b0)"/>
<rect x="367.5" y="121.3" width="42.2" height="42.2" fill="none" stroke="#000" stroke-width="1.1" opacity=".85"/>
<text x="408.6" y="162.3" font-size="3" fill="#ee2430" font-weight="bold" text-anchor="end">50μm</text>
</g>
<g clip-path="url(#c03)">
<rect x="367.2" y="166.3" width="42.8" height="42.7" fill="#3c0c0a"/>
<rect x="367.2" y="166.3" width="42.8" height="42.7" fill="#200000" filter="url(#nz)" opacity="0.3"/>
<rect x="367.2" y="166.3" width="42.8" height="42.7" fill="#020" filter="url(#gq0)" opacity="0.45"/>
<path d="M397.3 174.6h0M379.3 181.4h0M396.7 188.5h0M393.3 198.1h0M384.3 199.5h0M405.2 170.8h0M406.3 196.7h0M373.5 185.8h0M393.7 204.3h0M383.6 190.5h0M404.1 199.7h0M406.7 186.2h0M394.8 175.6h0M397.7 200.6h0" stroke="#3a3ad0" stroke-width="1.1" stroke-linecap="round" opacity=".42" filter="url(#b0)"/>
<g filter="url(#b1)" fill="#38c050"><ellipse cx="392.6" cy="176.2" rx="1.6" ry="1.2" opacity=".6" transform="rotate(149 392.6 176.2)"/><ellipse cx="392.4" cy="176.8" rx="1.2" ry=".7" opacity=".4" transform="rotate(99 392.4 176.8)"/><ellipse cx="376.7" cy="180.7" rx="1.4" ry="1" opacity=".4" transform="rotate(78 376.7 180.7)"/><ellipse cx="376.4" cy="180.9" rx="1.1" ry="1" opacity=".4" transform="rotate(24 376.4 180.9)"/><ellipse cx="381.2" cy="179.9" rx="1.3" ry="1.1" opacity=".4" transform="rotate(134 381.2 179.9)"/><ellipse cx="381.4" cy="179.4" rx="1" ry=".6" opacity=".3" transform="rotate(141 381.4 179.4)"/><ellipse cx="387.2" cy="179.9" rx="1.1" ry=".8" opacity=".4" transform="rotate(42 387.2 179.9)"/><ellipse cx="387" cy="179.8" rx=".8" ry=".6" opacity=".3" transform="rotate(80 387 179.8)"/><ellipse cx="395.9" cy="170.9" rx="1.3" ry=".8" opacity=".4" transform="rotate(33 395.9 170.9)"/><ellipse cx="396.1" cy="170.4" rx="1" ry=".7" opacity=".3" transform="rotate(63 396.1 170.4)"/><ellipse cx="402.6" cy="170.4" rx="1.6" ry="1.3" opacity=".2" transform="rotate(19 402.6 170.4)"/><ellipse cx="403.2" cy="169.9" rx="1.2" ry=".7" opacity=".2" transform="rotate(72 403.2 169.9)"/><ellipse cx="374.5" cy="169.9" rx=".9" ry=".6" opacity=".2" transform="rotate(87 374.5 169.9)"/><ellipse cx="374.5" cy="169.8" rx=".7" ry=".5" opacity=".2" transform="rotate(121 374.5 169.8)"/><ellipse cx="388.4" cy="183.2" rx="1.1" ry=".7" opacity=".4" transform="rotate(70 388.4 183.2)"/><ellipse cx="388.4" cy="183.3" rx=".8" ry=".6" opacity=".3" transform="rotate(76 388.4 183.3)"/><ellipse cx="384.2" cy="187.1" rx="1.1" ry=".7" opacity=".4" transform="rotate(58 384.2 187.1)"/><ellipse cx="384.7" cy="187.2" rx=".8" ry=".7" opacity=".3" transform="rotate(90 384.7 187.2)"/><ellipse cx="380.9" cy="194.3" rx="1.3" ry="1.1" opacity=".4" transform="rotate(16 380.9 194.3)"/><ellipse cx="381.2" cy="194.5" rx="1" ry=".7" opacity=".4" transform="rotate(44 381.2 194.5)"/><ellipse cx="375" cy="187.9" rx=".8" ry=".5" opacity=".3" transform="rotate(93 375 187.9)"/><ellipse cx="374.9" cy="187.9" rx=".6" ry=".5" opacity=".2" transform="rotate(163 374.9 187.9)"/><ellipse cx="399.3" cy="189.6" rx=".9" ry=".5" opacity=".2" transform="rotate(69 399.3 189.6)"/><ellipse cx="399.3" cy="189.8" rx=".7" ry=".4" opacity=".2" transform="rotate(170 399.3 189.8)"/><ellipse cx="370" cy="200.5" rx=".8" ry=".5" opacity=".3" transform="rotate(177 370 200.5)"/><ellipse cx="370.3" cy="200.4" rx=".6" ry=".4" opacity=".3" transform="rotate(46 370.3 200.4)"/><ellipse cx="385.9" cy="199.3" rx=".8" ry=".7" opacity=".3" transform="rotate(37 385.9 199.3)"/><ellipse cx="385.7" cy="199.5" rx=".6" ry=".4" opacity=".3" transform="rotate(33 385.7 199.5)"/><ellipse cx="398.4" cy="197.1" rx=".9" ry=".8" opacity=".2" transform="rotate(141 398.4 197.1)"/><ellipse cx="398.8" cy="196.7" rx=".7" ry=".6" opacity=".2" transform="rotate(139 398.8 196.7)"/><ellipse cx="368" cy="186.2" rx=".6" ry=".6" opacity=".3" transform="rotate(159 368 186.2)"/><ellipse cx="368" cy="186.2" rx=".5" ry=".3" opacity=".3" transform="rotate(101 368 186.2)"/><ellipse cx="407.6" cy="176.2" rx=".9" ry=".9" opacity=".2" transform="rotate(42 407.6 176.2)"/><ellipse cx="408" cy="176.1" rx=".7" ry=".5" opacity=".2" transform="rotate(148 408 176.1)"/><ellipse cx="393.4" cy="186.2" rx=".8" ry=".6" opacity=".2" transform="rotate(141 393.4 186.2)"/><ellipse cx="393.5" cy="186.4" rx=".6" ry=".4" opacity=".2" transform="rotate(129 393.5 186.4)"/><ellipse cx="377.5" cy="174.5" rx=".8" ry=".5" opacity=".2" transform="rotate(30 377.5 174.5)"/><ellipse cx="377.4" cy="174.8" rx=".6" ry=".5" opacity=".2" transform="rotate(77 377.4 174.8)"/><ellipse cx="390.1" cy="192.1" rx=".8" ry=".5" opacity=".2" transform="rotate(27 390.1 192.1)"/><ellipse cx="390.3" cy="192.4" rx=".6" ry=".5" opacity=".2" transform="rotate(76 390.3 192.4)"/><ellipse cx="403.5" cy="182.9" rx=".8" ry=".5" opacity=".2" transform="rotate(162 403.5 182.9)"/><ellipse cx="403.4" cy="182.6" rx=".6" ry=".4" opacity=".1" transform="rotate(129 403.4 182.6)"/><ellipse cx="372.5" cy="177" rx=".6" ry=".5" opacity=".2" transform="rotate(147 372.5 177)"/><ellipse cx="372.4" cy="177.3" rx=".5" ry=".4" opacity=".2" transform="rotate(145 372.4 177.3)"/><ellipse cx="405.1" cy="203" rx=".8" ry=".7" opacity=".1" transform="rotate(9 405.1 203)"/><ellipse cx="405.2" cy="203.2" rx=".6" ry=".4" opacity=".1" transform="rotate(118 405.2 203.2)"/><ellipse cx="381.7" cy="171.2" rx=".8" ry=".5" opacity=".2" transform="rotate(47 381.7 171.2)"/><ellipse cx="381.9" cy="171.1" rx=".6" ry=".5" opacity=".1" transform="rotate(172 381.9 171.1)"/><ellipse cx="374.1" cy="184" rx=".9" ry=".6" opacity=".2" transform="rotate(28 374.1 184)"/><ellipse cx="373.8" cy="184.1" rx=".7" ry=".6" opacity=".2" transform="rotate(50 373.8 184.1)"/><ellipse cx="398.1" cy="183.1" rx=".9" ry=".8" opacity=".2" transform="rotate(13 398.1 183.1)"/><ellipse cx="397.9" cy="183" rx=".7" ry=".7" opacity=".1" transform="rotate(59 397.9 183)"/><ellipse cx="371.5" cy="184.1" rx=".6" ry=".5" opacity=".2" transform="rotate(112 371.5 184.1)"/><ellipse cx="371.4" cy="184.2" rx=".4" ry=".3" opacity=".2" transform="rotate(116 371.4 184.2)"/><ellipse cx="406.8" cy="179.1" rx=".7" ry=".6" opacity=".2" transform="rotate(158 406.8 179.1)"/><ellipse cx="407" cy="178.9" rx=".5" ry=".3" opacity=".2" transform="rotate(14 407 178.9)"/><ellipse cx="376.5" cy="172.8" rx=".6" ry=".4" opacity=".2" transform="rotate(122 376.5 172.8)"/><ellipse cx="376.5" cy="172.9" rx=".5" ry=".5" opacity=".1" transform="rotate(143 376.5 172.9)"/><ellipse cx="393.8" cy="204.7" rx=".7" ry=".4" opacity=".2" transform="rotate(34 393.8 204.7)"/><ellipse cx="393.8" cy="204.7" rx=".5" ry=".4" opacity=".2" transform="rotate(69 393.8 204.7)"/><ellipse cx="390.9" cy="202.2" rx=".9" ry=".8" opacity=".1" transform="rotate(64 390.9 202.2)"/><ellipse cx="390.7" cy="201.8" rx=".7" ry=".6" opacity=".1" transform="rotate(175 390.7 201.8)"/><ellipse cx="394.7" cy="170.6" rx=".6" ry=".3" opacity=".2" transform="rotate(55 394.7 170.6)"/><ellipse cx="394.8" cy="170.6" rx=".4" ry=".3" opacity=".1" transform="rotate(45 394.8 170.6)"/><ellipse cx="399.8" cy="188.5" rx=".6" ry=".6" opacity=".2" transform="rotate(18 399.8 188.5)"/><ellipse cx="399.5" cy="188.7" rx=".5" ry=".3" opacity=".2" transform="rotate(161 399.5 188.7)"/><ellipse cx="405.5" cy="175.2" rx=".8" ry=".5" opacity=".2" transform="rotate(64 405.5 175.2)"/><ellipse cx="405.3" cy="174.9" rx=".6" ry=".5" opacity=".2" transform="rotate(136 405.3 174.9)"/></g>
<g filter="url(#b1)" fill="#48ff50"></g>
<ellipse cx="388.6" cy="187.7" rx="32.1" ry="32" fill="url(#vg)" opacity="0.7"/>
<rect x="367.5" y="166.6" width="42.2" height="42.1" fill="none" stroke="#000" stroke-width="1.1" opacity=".85"/>
<text x="408.6" y="207.5" font-size="3" fill="#ee2430" font-weight="bold" text-anchor="end">50μm</text>
</g>
<g clip-path="url(#c10)">
<rect x="412.1" y="31.8" width="42.4" height="42.7" fill="#020" filter="url(#gm1)"/>
<g filter="url(#b1)" fill="#30ea3c"><ellipse cx="427.2" cy="46.2" rx="2.8" ry="2.1" opacity=".9" transform="rotate(142 427.2 46.2)"/><ellipse cx="426.1" cy="45.9" rx="2.1" ry="1.4" opacity=".7" transform="rotate(177 426.1 45.9)"/><ellipse cx="436.1" cy="55.9" rx="2.2" ry="1.2" opacity=".8" transform="rotate(118 436.1 55.9)"/><ellipse cx="436.4" cy="56.2" rx="1.6" ry="1.3" opacity=".6" transform="rotate(128 436.4 56.2)"/><ellipse cx="445.3" cy="39.5" rx="1.8" ry="1.2" opacity=".6" transform="rotate(110 445.3 39.5)"/><ellipse cx="445.6" cy="40.1" rx="1.3" ry="1" opacity=".5" transform="rotate(74 445.6 40.1)"/><ellipse cx="423.5" cy="37.5" rx="1.6" ry="1.1" opacity=".5" transform="rotate(81 423.5 37.5)"/><ellipse cx="423.9" cy="37.7" rx="1.2" ry="1" opacity=".4" transform="rotate(45 423.9 37.7)"/><ellipse cx="442.8" cy="55.1" rx="1.8" ry="1.3" opacity=".6" transform="rotate(59 442.8 55.1)"/><ellipse cx="442.8" cy="54.5" rx="1.3" ry=".9" opacity=".5" transform="rotate(3 442.8 54.5)"/><ellipse cx="431.1" cy="36.7" rx="1.2" ry=".8" opacity=".4" transform="rotate(1 431.1 36.7)"/><ellipse cx="430.9" cy="36.3" rx=".9" ry=".6" opacity=".3" transform="rotate(16 430.9 36.3)"/><ellipse cx="415.2" cy="50.1" rx="1.4" ry="1" opacity=".4" transform="rotate(83 415.2 50.1)"/><ellipse cx="414.8" cy="49.6" rx="1" ry=".8" opacity=".3" transform="rotate(101 414.8 49.6)"/><ellipse cx="418.5" cy="60.1" rx="1.6" ry="1.2" opacity=".5" transform="rotate(175 418.5 60.1)"/><ellipse cx="419.1" cy="59.9" rx="1.2" ry="1.1" opacity=".4" transform="rotate(7 419.1 59.9)"/><ellipse cx="436.9" cy="50.1" rx="1.2" ry=".7" opacity=".4" transform="rotate(95 436.9 50.1)"/><ellipse cx="436.9" cy="50" rx=".9" ry=".8" opacity=".3" transform="rotate(128 436.9 50)"/><ellipse cx="429.4" cy="63.4" rx="1.6" ry="1.4" opacity=".5" transform="rotate(53 429.4 63.4)"/><ellipse cx="429" cy="63.1" rx="1.2" ry="1" opacity=".4" transform="rotate(101 429 63.1)"/><ellipse cx="440.3" cy="65.1" rx="1.6" ry="1.4" opacity=".5" transform="rotate(145 440.3 65.1)"/><ellipse cx="439.8" cy="64.7" rx="1.2" ry=".7" opacity=".4" transform="rotate(63 439.8 64.7)"/><ellipse cx="450.3" cy="60.1" rx="1.6" ry="1.2" opacity=".5" transform="rotate(81 450.3 60.1)"/><ellipse cx="450.8" cy="60.3" rx="1.2" ry=".9" opacity=".4" transform="rotate(23 450.8 60.3)"/><ellipse cx="452" cy="48.4" rx="1.4" ry=".8" opacity=".4" transform="rotate(27 452 48.4)"/><ellipse cx="451.9" cy="48.3" rx="1" ry=".6" opacity=".3" transform="rotate(71 451.9 48.3)"/><ellipse cx="416.8" cy="40" rx="1.2" ry="1" opacity=".4" transform="rotate(174 416.8 40)"/><ellipse cx="417.1" cy="40.3" rx=".9" ry=".8" opacity=".3" transform="rotate(135 417.1 40.3)"/><ellipse cx="421.9" cy="68.5" rx="1.4" ry="1.2" opacity=".4" transform="rotate(132 421.9 68.5)"/><ellipse cx="421.4" cy="68.6" rx="1" ry=".8" opacity=".3" transform="rotate(129 421.4 68.6)"/><ellipse cx="446.9" cy="70.1" rx="1.2" ry=".9" opacity=".4" transform="rotate(13 446.9 70.1)"/><ellipse cx="447.2" cy="70.5" rx=".9" ry=".8" opacity=".3" transform="rotate(82 447.2 70.5)"/><ellipse cx="433.6" cy="71" rx="1.2" ry=".9" opacity=".4" transform="rotate(120 433.6 71)"/><ellipse cx="433.7" cy="71.1" rx=".9" ry=".7" opacity=".3" transform="rotate(71 433.7 71.1)"/><ellipse cx="414.3" cy="63.4" rx="1.2" ry="1.1" opacity=".4" transform="rotate(161 414.3 63.4)"/><ellipse cx="414.1" cy="63.5" rx=".9" ry=".7" opacity=".3" transform="rotate(45 414.1 63.5)"/><ellipse cx="454.5" cy="40" rx="1.2" ry="1" opacity=".4" transform="rotate(38 454.5 40)"/><ellipse cx="454.7" cy="40" rx=".9" ry=".7" opacity=".3" transform="rotate(68 454.7 40)"/><ellipse cx="438.6" cy="43.4" rx="1.2" ry=".9" opacity=".4" transform="rotate(149 438.6 43.4)"/><ellipse cx="438.3" cy="43.3" rx=".9" ry=".7" opacity=".3" transform="rotate(71 438.3 43.3)"/><ellipse cx="423.5" cy="55.1" rx="1.4" ry="1.1" opacity=".4" transform="rotate(32 423.5 55.1)"/><ellipse cx="423.5" cy="55.6" rx="1" ry=".9" opacity=".3" transform="rotate(22 423.5 55.6)"/><ellipse cx="448.6" cy="35" rx="1" ry=".8" opacity=".4" transform="rotate(132 448.6 35)"/><ellipse cx="448.2" cy="35.4" rx=".7" ry=".6" opacity=".3" transform="rotate(132 448.2 35.4)"/><ellipse cx="420.2" cy="46.7" rx="1.2" ry=".7" opacity=".4" transform="rotate(73 420.2 46.7)"/><ellipse cx="420.6" cy="46.4" rx=".9" ry=".7" opacity=".3" transform="rotate(156 420.6 46.4)"/><ellipse cx="431.9" cy="51.7" rx="1.2" ry=".9" opacity=".4" transform="rotate(82 431.9 51.7)"/><ellipse cx="431.7" cy="51.5" rx=".9" ry=".7" opacity=".3" transform="rotate(43 431.7 51.5)"/><ellipse cx="443.6" cy="46.7" rx="1.2" ry=".8" opacity=".4" transform="rotate(155 443.6 46.7)"/><ellipse cx="443.1" cy="46.3" rx=".9" ry=".6" opacity=".3" transform="rotate(40 443.1 46.3)"/><ellipse cx="415.2" cy="70.1" rx="1.2" ry=".8" opacity=".4" transform="rotate(36 415.2 70.1)"/><ellipse cx="414.9" cy="70.2" rx=".9" ry=".7" opacity=".3" transform="rotate(83 414.9 70.2)"/><ellipse cx="453.6" cy="68.5" rx="1.2" ry=".7" opacity=".4" transform="rotate(160 453.6 68.5)"/><ellipse cx="453.5" cy="68.1" rx=".9" ry=".8" opacity=".3" transform="rotate(113 453.5 68.1)"/><ellipse cx="441.9" cy="35" rx="1" ry=".6" opacity=".4" transform="rotate(22 441.9 35)"/><ellipse cx="442" cy="34.7" rx=".7" ry=".5" opacity=".3" transform="rotate(55 442 34.7)"/><ellipse cx="434.4" cy="42.5" rx="1" ry=".9" opacity=".4" transform="rotate(94 434.4 42.5)"/><ellipse cx="434.4" cy="43" rx=".7" ry=".6" opacity=".3" transform="rotate(167 434.4 43)"/><ellipse cx="426" cy="58.4" rx="1.2" ry="1.1" opacity=".4" transform="rotate(144 426 58.4)"/><ellipse cx="426.1" cy="58.2" rx=".9" ry=".8" opacity=".3" transform="rotate(6 426.1 58.2)"/><ellipse cx="447.8" cy="65.1" rx="1" ry=".6" opacity=".4" transform="rotate(162 447.8 65.1)"/><ellipse cx="447.4" cy="64.7" rx=".7" ry=".6" opacity=".3" transform="rotate(134 447.4 64.7)"/><ellipse cx="416" cy="35" rx="1" ry=".6" opacity=".4" transform="rotate(79 416 35)"/><ellipse cx="416.3" cy="35" rx=".7" ry=".6" opacity=".3" transform="rotate(0 416.3 35)"/><ellipse cx="421" cy="53.4" rx="1" ry=".6" opacity=".4" transform="rotate(129 421 53.4)"/><ellipse cx="420.8" cy="53.5" rx=".7" ry=".4" opacity=".3" transform="rotate(1 420.8 53.5)"/><ellipse cx="449.4" cy="53.4" rx="1.2" ry="1.1" opacity=".4" transform="rotate(167 449.4 53.4)"/><ellipse cx="449.9" cy="53.6" rx=".9" ry=".7" opacity=".3" transform="rotate(67 449.9 53.6)"/><ellipse cx="436.6" cy="38.9" rx="1.3" ry=".8" opacity=".3" transform="rotate(57 436.6 38.9)"/><ellipse cx="436.6" cy="38.6" rx="1" ry=".6" opacity=".2" transform="rotate(108 436.6 38.6)"/><ellipse cx="432" cy="58" rx=".8" ry=".5" opacity=".2" transform="rotate(25 432 58)"/><ellipse cx="431.8" cy="57.8" rx=".6" ry=".5" opacity=".1" transform="rotate(103 431.8 57.8)"/><ellipse cx="424.8" cy="59.2" rx=".8" ry=".6" opacity=".3" transform="rotate(127 424.8 59.2)"/><ellipse cx="424.6" cy="59.1" rx=".6" ry=".4" opacity=".3" transform="rotate(124 424.6 59.1)"/><ellipse cx="415.9" cy="38.9" rx=".7" ry=".5" opacity=".3" transform="rotate(89 415.9 38.9)"/><ellipse cx="415.8" cy="39" rx=".6" ry=".5" opacity=".2" transform="rotate(6 415.8 39)"/><ellipse cx="427.9" cy="50.2" rx=".9" ry=".6" opacity=".3" transform="rotate(71 427.9 50.2)"/><ellipse cx="427.7" cy="50.3" rx=".7" ry=".5" opacity=".2" transform="rotate(59 427.7 50.3)"/><ellipse cx="429.4" cy="39.5" rx=".9" ry=".7" opacity=".2" transform="rotate(113 429.4 39.5)"/><ellipse cx="429.3" cy="39.1" rx=".7" ry=".5" opacity=".2" transform="rotate(28 429.3 39.1)"/><ellipse cx="417.6" cy="64.5" rx="1.1" ry=".9" opacity=".3" transform="rotate(64 417.6 64.5)"/><ellipse cx="417.5" cy="64.9" rx=".8" ry=".7" opacity=".2" transform="rotate(93 417.5 64.9)"/><ellipse cx="448.8" cy="47.1" rx=".9" ry=".7" opacity=".2" transform="rotate(64 448.8 47.1)"/><ellipse cx="448.4" cy="47.4" rx=".7" ry=".6" opacity=".2" transform="rotate(56 448.4 47.4)"/><ellipse cx="429.4" cy="58.2" rx=".7" ry=".6" opacity=".2" transform="rotate(40 429.4 58.2)"/><ellipse cx="429.4" cy="58.1" rx=".5" ry=".4" opacity=".2" transform="rotate(148 429.4 58.1)"/><ellipse cx="434.7" cy="45.1" rx=".7" ry=".7" opacity=".3" transform="rotate(162 434.7 45.1)"/><ellipse cx="434.7" cy="45.4" rx=".5" ry=".3" opacity=".2" transform="rotate(179 434.7 45.4)"/><ellipse cx="413.5" cy="54" rx=".8" ry=".5" opacity=".2" transform="rotate(45 413.5 54)"/><ellipse cx="413.7" cy="53.7" rx=".6" ry=".3" opacity=".1" transform="rotate(3 413.7 53.7)"/><ellipse cx="420.4" cy="33.7" rx=".8" ry=".5" opacity=".3" transform="rotate(20 420.4 33.7)"/><ellipse cx="420.5" cy="33.6" rx=".6" ry=".4" opacity=".2" transform="rotate(53 420.5 33.6)"/><ellipse cx="442.5" cy="45.8" rx="1.1" ry=".9" opacity=".2" transform="rotate(75 442.5 45.8)"/><ellipse cx="442.4" cy="46.1" rx=".8" ry=".6" opacity=".2" transform="rotate(105 442.4 46.1)"/><ellipse cx="433.2" cy="66.6" rx=".9" ry=".8" opacity=".3" transform="rotate(78 433.2 66.6)"/><ellipse cx="433.3" cy="66.8" rx=".7" ry=".4" opacity=".2" transform="rotate(66 433.3 66.8)"/><ellipse cx="441" cy="58.8" rx=".7" ry=".6" opacity=".2" transform="rotate(59 441 58.8)"/><ellipse cx="441.1" cy="58.6" rx=".5" ry=".4" opacity=".1" transform="rotate(172 441.1 58.6)"/><ellipse cx="414.4" cy="45.1" rx="1.2" ry="1" opacity=".3" transform="rotate(159 414.4 45.1)"/><ellipse cx="414" cy="45.6" rx=".9" ry=".9" opacity=".2" transform="rotate(108 414 45.6)"/><ellipse cx="447" cy="35.8" rx="1.1" ry=".8" opacity=".3" transform="rotate(163 447 35.8)"/><ellipse cx="447" cy="35.7" rx=".8" ry=".7" opacity=".2" transform="rotate(179 447 35.7)"/><ellipse cx="445.8" cy="63.2" rx=".8" ry=".6" opacity=".2" transform="rotate(173 445.8 63.2)"/><ellipse cx="445.6" cy="62.9" rx=".6" ry=".3" opacity=".1" transform="rotate(134 445.6 62.9)"/><ellipse cx="445.1" cy="61" rx="1.2" ry=".8" opacity=".2" transform="rotate(98 445.1 61)"/><ellipse cx="445.4" cy="60.8" rx=".9" ry=".8" opacity=".2" transform="rotate(55 445.4 60.8)"/><ellipse cx="449" cy="36.7" rx="1.3" ry="1" opacity=".3" transform="rotate(43 449 36.7)"/><ellipse cx="448.7" cy="37.2" rx="1" ry=".6" opacity=".2" transform="rotate(82 448.7 37.2)"/><ellipse cx="426.7" cy="33.7" rx="1" ry=".6" opacity=".3" transform="rotate(41 426.7 33.7)"/><ellipse cx="426.7" cy="34.1" rx=".8" ry=".7" opacity=".2" transform="rotate(152 426.7 34.1)"/><ellipse cx="427.3" cy="33.3" rx=".9" ry=".5" opacity=".3" transform="rotate(142 427.3 33.3)"/><ellipse cx="427.2" cy="33.2" rx=".6" ry=".5" opacity=".2" transform="rotate(46 427.2 33.2)"/><ellipse cx="416.8" cy="69.1" rx=".8" ry=".5" opacity=".2" transform="rotate(51 416.8 69.1)"/><ellipse cx="416.5" cy="69.3" rx=".6" ry=".5" opacity=".1" transform="rotate(170 416.5 69.3)"/><ellipse cx="417.6" cy="70.9" rx="1.2" ry=".8" opacity=".2" transform="rotate(146 417.6 70.9)"/><ellipse cx="417.7" cy="71.2" rx=".9" ry=".6" opacity=".2" transform="rotate(159 417.7 71.2)"/><ellipse cx="417" cy="57.6" rx="1.2" ry=".8" opacity=".1" transform="rotate(156 417 57.6)"/><ellipse cx="417" cy="57.7" rx=".9" ry=".8" opacity=".1" transform="rotate(145 417 57.7)"/><ellipse cx="438.7" cy="65.9" rx="1" ry=".7" opacity=".2" transform="rotate(120 438.7 65.9)"/><ellipse cx="438.5" cy="66.2" rx=".7" ry=".7" opacity=".2" transform="rotate(60 438.5 66.2)"/></g>
<g filter="url(#b1)" fill="#48ff50"><ellipse cx="427.2" cy="46.2" rx="1.8" ry="1.2" opacity=".7" transform="rotate(139 427.2 46.2)"/><ellipse cx="426.5" cy="45.5" rx="1.4" ry="1" opacity=".6" transform="rotate(148 426.5 45.5)"/><ellipse cx="436.1" cy="55.9" rx="1.4" ry="1.3" opacity=".5" transform="rotate(66 436.1 55.9)"/><ellipse cx="436.5" cy="55.9" rx="1.1" ry=".9" opacity=".4" transform="rotate(138 436.5 55.9)"/></g>
<rect x="412.4" y="32.1" width="41.8" height="42.1" fill="none" stroke="#000" stroke-width="1.1" opacity=".85"/>
<text x="453.1" y="73" font-size="3" fill="#ee2430" font-weight="bold" text-anchor="end">50μm</text>
</g>
<g clip-path="url(#c11)">
<rect x="412.1" y="76.8" width="42.4" height="42" fill="#7e1013"/>
<rect x="412.1" y="76.8" width="42.4" height="42" fill="#200000" filter="url(#nz)" opacity="0.34"/>
<ellipse cx="433.3" cy="97.8" rx="31.8" ry="31.5" fill="url(#vg)" opacity="0.45"/>
<rect x="412.4" y="77.1" width="41.8" height="41.4" fill="none" stroke="#000" stroke-width="1.1" opacity=".85"/>
<text x="453.1" y="117.3" font-size="3" fill="#ee2430" font-weight="bold" text-anchor="end">50μm</text>
</g>
<g clip-path="url(#c12)">
<rect x="412.1" y="121" width="42.4" height="42.8" fill="#050526"/>
<path d="M439 151.3h0M421.7 158.7h0M452.7 161.9h0M434.8 154.3h0M426 159.1h0M447.7 136.2h0M416.4 140h0M435.3 153.3h0M432.8 123.2h0M445.8 124.6h0M445.4 129.1h0M426.6 154.1h0M418.8 128.1h0M434 151.5h0M447 150.1h0M451.3 142.1h0M451.4 125.5h0M422 143.5h0M424.8 151.7h0M438.9 143.3h0M447.2 144.8h0M425.7 137.6h0M447.2 158.7h0M421.5 156.7h0M452.2 143.4h0M436.2 130.2h0M434.8 142.5h0M437.6 123.1h0M452.3 143.1h0M429.3 154.7h0M435.8 142h0M441 124.7h0M434.9 138.9h0M451.8 159.7h0M424 141.3h0M418.2 139.7h0M446.1 158.7h0M432.4 134.9h0M420.8 147.2h0M450.5 127.3h0M444.6 122.9h0M420.9 131.3h0M440.9 135.1h0M427.5 147.3h0M417.3 151.8h0M418.1 142.8h0M423.2 130.1h0M434.5 139.8h0M428.3 138.9h0M434.5 128.5h0M421.4 147.8h0M438.9 143.6h0M447.5 147h0M447.7 131.5h0M443 155.1h0M449.6 134.9h0M425.8 159.6h0M421.9 162.7h0M449 127.5h0M422.8 151.6h0M423.6 126h0M446.7 139.2h0M445 127.1h0M429.4 150h0M413.8 130.2h0M440.7 159.2h0M452.2 126.7h0M433.5 152.9h0M433.4 150h0M420.7 124.9h0M417.4 123.5h0M435.4 143h0M436.1 128h0M420.6 130.3h0M447 162.4h0M450.5 125.9h0M415.6 160.8h0M431.8 153.2h0M426.3 141.1h0M433.9 139.5h0M437.4 122.5h0M441.4 156.4h0M420.4 140.5h0M443 138.5h0M421 128.7h0M433.8 122.6h0M449.2 154.7h0M441.6 157.1h0M438.5 138.5h0M437.3 142.6h0M452.8 154.8h0M423.5 159.2h0M443.2 153.7h0M446 138.5h0M449.3 157.9h0M441.2 153.3h0M444 138.6h0M442.3 124.9h0M426.9 141.1h0M413.5 136.5h0M438.9 147.5h0M422.5 160.5h0M440 135.8h0M439.8 145.2h0M434.6 137.9h0M453.5 148.2h0M441.4 153.1h0M452.7 122.9h0M438 152.1h0M423.5 138.4h0M415.1 130h0M428.3 126h0M423.2 159h0M435.3 142.7h0M452.2 145.2h0M453.3 148h0M445.8 125.1h0M437.2 153h0M414.9 160h0M419.6 141.2h0M419.9 142.2h0M437.8 124.4h0M451.3 139.2h0M434.4 146.4h0M427.9 133.7h0M439.6 144.9h0M424.6 151.2h0M425.1 122.6h0M423 123.7h0M419.4 152.8h0" stroke="#2c3acc" stroke-width="1.1" stroke-linecap="round" opacity=".62" filter="url(#b0)"/>
<rect x="412.4" y="121.3" width="41.8" height="42.2" fill="none" stroke="#000" stroke-width="1.1" opacity=".85"/>
<text x="453.1" y="162.3" font-size="3" fill="#ee2430" font-weight="bold" text-anchor="end">50μm</text>
</g>
<g clip-path="url(#c13)">
<rect x="412.1" y="166.3" width="42.4" height="42.7" fill="#6a1c0c"/>
<rect x="412.1" y="166.3" width="42.4" height="42.7" fill="#200000" filter="url(#nz)" opacity="0.35"/>
<rect x="412.1" y="166.3" width="42.4" height="42.7" fill="#020" filter="url(#gq1)" opacity="0.55"/>
<path d="M428.9 203.8h0M443.3 169.3h0M453 205.7h0M416.1 204.2h0M430.5 186.7h0M452.4 177.2h0M434.2 205.4h0M442.3 186.4h0M452.6 200.5h0M437.5 172h0M438.3 185.8h0M421.3 169.4h0M434.4 172.4h0M431 194.5h0" stroke="#3a3ad0" stroke-width="1.1" stroke-linecap="round" opacity=".42" filter="url(#b0)"/>
<g filter="url(#b1)" fill="#30e040"><ellipse cx="427.2" cy="180.7" rx="2.6" ry="1.9" opacity=".8" transform="rotate(142 427.2 180.7)"/><ellipse cx="426.2" cy="180.4" rx="2" ry="1.3" opacity=".6" transform="rotate(177 426.2 180.4)"/><ellipse cx="436.1" cy="190.4" rx="2" ry="1.2" opacity=".7" transform="rotate(118 436.1 190.4)"/><ellipse cx="436.4" cy="190.7" rx="1.5" ry="1.2" opacity=".5" transform="rotate(128 436.4 190.7)"/><ellipse cx="445.3" cy="174" rx="1.7" ry="1.1" opacity=".6" transform="rotate(110 445.3 174)"/><ellipse cx="445.6" cy="174.5" rx="1.3" ry=".9" opacity=".4" transform="rotate(74 445.6 174.5)"/><ellipse cx="423.5" cy="172" rx="1.5" ry="1.1" opacity=".4" transform="rotate(81 423.5 172)"/><ellipse cx="423.9" cy="172.2" rx="1.1" ry=".9" opacity=".3" transform="rotate(45 423.9 172.2)"/><ellipse cx="442.8" cy="189.6" rx="1.7" ry="1.2" opacity=".6" transform="rotate(59 442.8 189.6)"/><ellipse cx="442.8" cy="189" rx="1.3" ry=".9" opacity=".4" transform="rotate(3 442.8 189)"/><ellipse cx="431.1" cy="171.2" rx="1.1" ry=".7" opacity=".4" transform="rotate(1 431.1 171.2)"/><ellipse cx="431" cy="170.8" rx=".8" ry=".6" opacity=".3" transform="rotate(16 431 170.8)"/><ellipse cx="415.2" cy="184.6" rx="1.3" ry=".9" opacity=".4" transform="rotate(83 415.2 184.6)"/><ellipse cx="414.8" cy="184.1" rx="1" ry=".7" opacity=".3" transform="rotate(101 414.8 184.1)"/><ellipse cx="418.5" cy="194.6" rx="1.5" ry="1.1" opacity=".4" transform="rotate(175 418.5 194.6)"/><ellipse cx="419.1" cy="194.4" rx="1.1" ry="1.1" opacity=".3" transform="rotate(7 419.1 194.4)"/><ellipse cx="436.9" cy="184.6" rx="1.1" ry=".7" opacity=".4" transform="rotate(95 436.9 184.6)"/><ellipse cx="436.9" cy="184.5" rx=".8" ry=".7" opacity=".3" transform="rotate(128 436.9 184.5)"/><ellipse cx="429.4" cy="197.9" rx="1.5" ry="1.3" opacity=".4" transform="rotate(53 429.4 197.9)"/><ellipse cx="429.1" cy="197.6" rx="1.1" ry=".9" opacity=".3" transform="rotate(101 429.1 197.6)"/><ellipse cx="440.3" cy="199.6" rx="1.5" ry="1.3" opacity=".4" transform="rotate(145 440.3 199.6)"/><ellipse cx="439.8" cy="199.2" rx="1.1" ry=".7" opacity=".3" transform="rotate(63 439.8 199.2)"/><ellipse cx="450.3" cy="194.6" rx="1.5" ry="1.1" opacity=".4" transform="rotate(81 450.3 194.6)"/><ellipse cx="450.7" cy="194.8" rx="1.1" ry=".9" opacity=".3" transform="rotate(23 450.7 194.8)"/><ellipse cx="452" cy="182.9" rx="1.3" ry=".8" opacity=".4" transform="rotate(27 452 182.9)"/><ellipse cx="451.9" cy="182.8" rx="1" ry=".6" opacity=".3" transform="rotate(71 451.9 182.8)"/><ellipse cx="416.8" cy="174.5" rx="1.1" ry=".9" opacity=".4" transform="rotate(174 416.8 174.5)"/><ellipse cx="417.1" cy="174.8" rx=".8" ry=".7" opacity=".3" transform="rotate(135 417.1 174.8)"/><ellipse cx="421.9" cy="203" rx="1.3" ry="1.1" opacity=".4" transform="rotate(132 421.9 203)"/><ellipse cx="421.4" cy="203.1" rx="1" ry=".7" opacity=".3" transform="rotate(129 421.4 203.1)"/><ellipse cx="446.9" cy="204.6" rx="1.1" ry=".9" opacity=".4" transform="rotate(13 446.9 204.6)"/><ellipse cx="447.2" cy="205" rx=".8" ry=".8" opacity=".3" transform="rotate(82 447.2 205)"/><ellipse cx="433.6" cy="205.5" rx="1.1" ry=".8" opacity=".4" transform="rotate(120 433.6 205.5)"/><ellipse cx="433.7" cy="205.6" rx=".8" ry=".7" opacity=".3" transform="rotate(71 433.7 205.6)"/><ellipse cx="414.3" cy="197.9" rx="1.1" ry="1" opacity=".4" transform="rotate(161 414.3 197.9)"/><ellipse cx="414.1" cy="198" rx=".8" ry=".7" opacity=".3" transform="rotate(45 414.1 198)"/><ellipse cx="454.5" cy="174.5" rx="1.1" ry=".9" opacity=".3" transform="rotate(38 454.5 174.5)"/><ellipse cx="454.7" cy="174.5" rx=".8" ry=".6" opacity=".2" transform="rotate(68 454.7 174.5)"/><ellipse cx="438.6" cy="177.9" rx="1.1" ry=".9" opacity=".4" transform="rotate(149 438.6 177.9)"/><ellipse cx="438.3" cy="177.8" rx=".8" ry=".6" opacity=".3" transform="rotate(71 438.3 177.8)"/><ellipse cx="423.5" cy="189.6" rx="1.3" ry="1.1" opacity=".4" transform="rotate(32 423.5 189.6)"/><ellipse cx="423.5" cy="190.1" rx="1" ry=".8" opacity=".3" transform="rotate(22 423.5 190.1)"/><ellipse cx="448.6" cy="169.5" rx=".9" ry=".7" opacity=".3" transform="rotate(132 448.6 169.5)"/><ellipse cx="448.2" cy="169.9" rx=".7" ry=".5" opacity=".2" transform="rotate(132 448.2 169.9)"/><ellipse cx="420.2" cy="181.2" rx="1.1" ry=".7" opacity=".3" transform="rotate(73 420.2 181.2)"/><ellipse cx="420.6" cy="181" rx=".8" ry=".7" opacity=".2" transform="rotate(156 420.6 181)"/><ellipse cx="431.9" cy="186.2" rx="1.1" ry=".8" opacity=".3" transform="rotate(82 431.9 186.2)"/><ellipse cx="431.7" cy="186" rx=".8" ry=".6" opacity=".2" transform="rotate(43 431.7 186)"/><ellipse cx="443.6" cy="181.2" rx="1.1" ry=".8" opacity=".3" transform="rotate(155 443.6 181.2)"/><ellipse cx="443.2" cy="180.8" rx=".8" ry=".5" opacity=".2" transform="rotate(40 443.2 180.8)"/><ellipse cx="415.2" cy="204.6" rx="1.1" ry=".7" opacity=".3" transform="rotate(36 415.2 204.6)"/><ellipse cx="414.9" cy="204.7" rx=".8" ry=".7" opacity=".2" transform="rotate(83 414.9 204.7)"/><ellipse cx="453.6" cy="203" rx="1.1" ry=".7" opacity=".3" transform="rotate(160 453.6 203)"/><ellipse cx="453.5" cy="202.6" rx=".8" ry=".8" opacity=".2" transform="rotate(113 453.5 202.6)"/><ellipse cx="441.9" cy="169.5" rx=".9" ry=".6" opacity=".3" transform="rotate(22 441.9 169.5)"/><ellipse cx="442" cy="169.2" rx=".7" ry=".4" opacity=".2" transform="rotate(55 442 169.2)"/><ellipse cx="434.4" cy="177" rx=".9" ry=".8" opacity=".3" transform="rotate(94 434.4 177)"/><ellipse cx="434.4" cy="177.4" rx=".7" ry=".5" opacity=".2" transform="rotate(167 434.4 177.4)"/><ellipse cx="426" cy="192.9" rx="1.1" ry="1" opacity=".3" transform="rotate(144 426 192.9)"/><ellipse cx="426.1" cy="192.7" rx=".8" ry=".7" opacity=".2" transform="rotate(6 426.1 192.7)"/><ellipse cx="447.8" cy="199.6" rx=".9" ry=".6" opacity=".3" transform="rotate(162 447.8 199.6)"/><ellipse cx="447.4" cy="199.2" rx=".7" ry=".5" opacity=".2" transform="rotate(134 447.4 199.2)"/><ellipse cx="416" cy="169.5" rx=".9" ry=".5" opacity=".3" transform="rotate(79 416 169.5)"/><ellipse cx="416.3" cy="169.5" rx=".7" ry=".6" opacity=".2" transform="rotate(0 416.3 169.5)"/><ellipse cx="421" cy="187.9" rx=".9" ry=".6" opacity=".3" transform="rotate(129 421 187.9)"/><ellipse cx="420.8" cy="188" rx=".7" ry=".4" opacity=".2" transform="rotate(1 420.8 188)"/><ellipse cx="449.4" cy="187.9" rx="1.1" ry="1" opacity=".3" transform="rotate(167 449.4 187.9)"/><ellipse cx="449.9" cy="188" rx=".8" ry=".6" opacity=".2" transform="rotate(67 449.9 188)"/><ellipse cx="436.6" cy="173.4" rx="1.2" ry=".8" opacity=".3" transform="rotate(57 436.6 173.4)"/><ellipse cx="436.6" cy="173.1" rx=".9" ry=".6" opacity=".2" transform="rotate(108 436.6 173.1)"/><ellipse cx="432" cy="192.5" rx=".8" ry=".5" opacity=".2" transform="rotate(25 432 192.5)"/><ellipse cx="431.8" cy="192.3" rx=".6" ry=".5" opacity=".1" transform="rotate(103 431.8 192.3)"/><ellipse cx="424.8" cy="193.7" rx=".8" ry=".5" opacity=".3" transform="rotate(127 424.8 193.7)"/><ellipse cx="424.6" cy="193.6" rx=".6" ry=".4" opacity=".2" transform="rotate(124 424.6 193.6)"/><ellipse cx="415.9" cy="173.4" rx=".7" ry=".4" opacity=".2" transform="rotate(89 415.9 173.4)"/><ellipse cx="415.8" cy="173.5" rx=".5" ry=".5" opacity=".2" transform="rotate(6 415.8 173.5)"/><ellipse cx="427.9" cy="184.7" rx=".8" ry=".5" opacity=".2" transform="rotate(71 427.9 184.7)"/><ellipse cx="427.7" cy="184.7" rx=".6" ry=".5" opacity=".2" transform="rotate(59 427.7 184.7)"/><ellipse cx="429.4" cy="174" rx=".9" ry=".7" opacity=".2" transform="rotate(113 429.4 174)"/><ellipse cx="429.3" cy="173.7" rx=".7" ry=".4" opacity=".1" transform="rotate(28 429.3 173.7)"/><ellipse cx="417.6" cy="199" rx="1" ry=".8" opacity=".2" transform="rotate(64 417.6 199)"/><ellipse cx="417.5" cy="199.4" rx=".8" ry=".6" opacity=".2" transform="rotate(93 417.5 199.4)"/><ellipse cx="448.8" cy="181.6" rx=".9" ry=".7" opacity=".2" transform="rotate(64 448.8 181.6)"/><ellipse cx="448.4" cy="181.9" rx=".7" ry=".6" opacity=".2" transform="rotate(56 448.4 181.9)"/><ellipse cx="429.4" cy="192.7" rx=".6" ry=".6" opacity=".2" transform="rotate(40 429.4 192.7)"/><ellipse cx="429.4" cy="192.6" rx=".5" ry=".4" opacity=".2" transform="rotate(148 429.4 192.6)"/><ellipse cx="434.7" cy="179.6" rx=".7" ry=".6" opacity=".2" transform="rotate(162 434.7 179.6)"/><ellipse cx="434.7" cy="179.8" rx=".5" ry=".3" opacity=".2" transform="rotate(179 434.7 179.8)"/><ellipse cx="413.5" cy="188.5" rx=".7" ry=".5" opacity=".1" transform="rotate(45 413.5 188.5)"/><ellipse cx="413.7" cy="188.2" rx=".6" ry=".3" opacity=".1" transform="rotate(3 413.7 188.2)"/><ellipse cx="420.4" cy="168.2" rx=".7" ry=".4" opacity=".2" transform="rotate(20 420.4 168.2)"/><ellipse cx="420.5" cy="168.1" rx=".6" ry=".4" opacity=".2" transform="rotate(53 420.5 168.1)"/><ellipse cx="442.5" cy="180.3" rx="1" ry=".9" opacity=".2" transform="rotate(75 442.5 180.3)"/><ellipse cx="442.4" cy="180.6" rx=".8" ry=".6" opacity=".2" transform="rotate(105 442.4 180.6)"/><ellipse cx="433.2" cy="201.1" rx=".8" ry=".7" opacity=".3" transform="rotate(78 433.2 201.1)"/><ellipse cx="433.3" cy="201.3" rx=".6" ry=".4" opacity=".2" transform="rotate(66 433.3 201.3)"/><ellipse cx="441" cy="193.3" rx=".6" ry=".5" opacity=".1" transform="rotate(59 441 193.3)"/><ellipse cx="441.1" cy="193.1" rx=".5" ry=".3" opacity=".1" transform="rotate(172 441.1 193.1)"/><ellipse cx="414.4" cy="179.6" rx="1.2" ry="1" opacity=".3" transform="rotate(159 414.4 179.6)"/><ellipse cx="414" cy="180" rx=".9" ry=".8" opacity=".2" transform="rotate(108 414 180)"/><ellipse cx="447" cy="170.3" rx="1" ry=".8" opacity=".2" transform="rotate(163 447 170.3)"/><ellipse cx="447" cy="170.2" rx=".8" ry=".6" opacity=".2" transform="rotate(179 447 170.2)"/><ellipse cx="445.8" cy="197.7" rx=".7" ry=".5" opacity=".2" transform="rotate(173 445.8 197.7)"/><ellipse cx="445.6" cy="197.5" rx=".6" ry=".3" opacity=".1" transform="rotate(134 445.6 197.5)"/><ellipse cx="445.1" cy="195.5" rx="1.1" ry=".8" opacity=".2" transform="rotate(98 445.1 195.5)"/><ellipse cx="445.4" cy="195.3" rx=".9" ry=".8" opacity=".2" transform="rotate(55 445.4 195.3)"/><ellipse cx="449" cy="171.2" rx="1.2" ry="1" opacity=".3" transform="rotate(43 449 171.2)"/><ellipse cx="448.7" cy="171.7" rx=".9" ry=".6" opacity=".2" transform="rotate(82 448.7 171.7)"/><ellipse cx="426.7" cy="168.2" rx=".9" ry=".6" opacity=".2" transform="rotate(41 426.7 168.2)"/><ellipse cx="426.7" cy="168.6" rx=".7" ry=".6" opacity=".2" transform="rotate(152 426.7 168.6)"/><ellipse cx="427.3" cy="167.8" rx=".8" ry=".5" opacity=".3" transform="rotate(142 427.3 167.8)"/><ellipse cx="427.2" cy="167.7" rx=".6" ry=".5" opacity=".2" transform="rotate(46 427.2 167.7)"/><ellipse cx="416.8" cy="203.6" rx=".8" ry=".4" opacity=".2" transform="rotate(51 416.8 203.6)"/><ellipse cx="416.5" cy="203.8" rx=".6" ry=".4" opacity=".1" transform="rotate(170 416.5 203.8)"/><ellipse cx="417.6" cy="205.4" rx="1.1" ry=".7" opacity=".2" transform="rotate(146 417.6 205.4)"/><ellipse cx="417.7" cy="205.7" rx=".9" ry=".6" opacity=".1" transform="rotate(159 417.7 205.7)"/><ellipse cx="417" cy="192.1" rx="1.1" ry=".8" opacity=".1" transform="rotate(156 417 192.1)"/><ellipse cx="417" cy="192.2" rx=".9" ry=".8" opacity=".1" transform="rotate(145 417 192.2)"/><ellipse cx="438.7" cy="200.4" rx=".9" ry=".7" opacity=".2" transform="rotate(120 438.7 200.4)"/><ellipse cx="438.5" cy="200.7" rx=".7" ry=".6" opacity=".2" transform="rotate(60 438.5 200.7)"/></g>
<g filter="url(#b1)" fill="#48ff50"><ellipse cx="427.2" cy="180.7" rx="1.8" ry="1.2" opacity=".7" transform="rotate(139 427.2 180.7)"/><ellipse cx="426.5" cy="180" rx="1.4" ry="1" opacity=".6" transform="rotate(148 426.5 180)"/><ellipse cx="436.1" cy="190.4" rx="1.4" ry="1.3" opacity=".5" transform="rotate(66 436.1 190.4)"/><ellipse cx="436.5" cy="190.4" rx="1.1" ry=".9" opacity=".4" transform="rotate(138 436.5 190.4)"/></g>
<ellipse cx="433.3" cy="187.7" rx="31.8" ry="32" fill="url(#vg)" opacity="0.4"/>
<rect x="412.4" y="166.6" width="41.8" height="42.1" fill="none" stroke="#000" stroke-width="1.1" opacity=".85"/>
<text x="453.1" y="207.5" font-size="3" fill="#ee2430" font-weight="bold" text-anchor="end">50μm</text>
</g>
<g clip-path="url(#c20)">
<rect x="456.9" y="31.8" width="41.5" height="42.7" fill="#020" filter="url(#gm2)"/>
<g filter="url(#b1)" fill="#30ea3c"><ellipse cx="476.4" cy="37.5" rx="1.8" ry="1.4" opacity="1" transform="rotate(33 476.4 37.5)"/><ellipse cx="476.5" cy="37.9" rx="1.3" ry=".9" opacity=".8" transform="rotate(64 476.5 37.9)"/><ellipse cx="481.4" cy="38.7" rx="1.6" ry="1.3" opacity="1" transform="rotate(70 481.4 38.7)"/><ellipse cx="481.2" cy="39.3" rx="1.2" ry="1.1" opacity=".8" transform="rotate(24 481.2 39.3)"/><ellipse cx="467.5" cy="45.9" rx="1.4" ry=".8" opacity=".9" transform="rotate(126 467.5 45.9)"/><ellipse cx="467" cy="46.5" rx="1" ry=".9" opacity=".7" transform="rotate(13 467 46.5)"/><ellipse cx="465.9" cy="51.7" rx="2.4" ry="1.4" opacity="1" transform="rotate(87 465.9 51.7)"/><ellipse cx="465.5" cy="51.9" rx="1.8" ry="1.6" opacity=".8" transform="rotate(21 465.5 51.9)"/><ellipse cx="470.9" cy="51.7" rx="1.8" ry="1.5" opacity="1" transform="rotate(33 470.9 51.7)"/><ellipse cx="470.6" cy="51.9" rx="1.3" ry="1.3" opacity=".8" transform="rotate(126 470.6 51.9)"/><ellipse cx="473.4" cy="48.4" rx="1.4" ry=".8" opacity="1" transform="rotate(152 473.4 48.4)"/><ellipse cx="473.9" cy="48.8" rx="1" ry=".8" opacity=".8" transform="rotate(11 473.9 48.8)"/><ellipse cx="462.5" cy="56.4" rx="1.8" ry="1.4" opacity="1" transform="rotate(140 462.5 56.4)"/><ellipse cx="462.4" cy="56.7" rx="1.3" ry="1" opacity=".8" transform="rotate(50 462.4 56.7)"/><ellipse cx="460" cy="60.1" rx="1.2" ry=".8" opacity=".9" transform="rotate(149 460 60.1)"/><ellipse cx="459.5" cy="60.3" rx=".9" ry=".7" opacity=".7" transform="rotate(44 459.5 60.3)"/><ellipse cx="465.9" cy="63.4" rx="1.2" ry=".7" opacity=".8" transform="rotate(179 465.9 63.4)"/><ellipse cx="466" cy="63.6" rx=".9" ry=".8" opacity=".6" transform="rotate(157 466 63.6)"/><ellipse cx="483.4" cy="51.7" rx="1.6" ry="1.2" opacity="1" transform="rotate(42 483.4 51.7)"/><ellipse cx="483.8" cy="52" rx="1.2" ry=".9" opacity=".8" transform="rotate(101 483.8 52)"/><ellipse cx="485.9" cy="55.1" rx="1.4" ry="1.2" opacity="1" transform="rotate(158 485.9 55.1)"/><ellipse cx="485.7" cy="55.6" rx="1" ry=".7" opacity=".8" transform="rotate(123 485.7 55.6)"/><ellipse cx="489.3" cy="45.9" rx="1.4" ry=".8" opacity=".9" transform="rotate(139 489.3 45.9)"/><ellipse cx="489.8" cy="46.4" rx="1" ry=".7" opacity=".7" transform="rotate(117 489.8 46.4)"/><ellipse cx="492.6" cy="40.9" rx="1.2" ry=".8" opacity=".8" transform="rotate(115 492.6 40.9)"/><ellipse cx="493.1" cy="41.2" rx=".9" ry=".5" opacity=".6" transform="rotate(178 493.1 41.2)"/><ellipse cx="494.3" cy="55.1" rx="1.2" ry="1" opacity=".7" transform="rotate(137 494.3 55.1)"/><ellipse cx="493.9" cy="55" rx=".9" ry=".6" opacity=".5" transform="rotate(78 493.9 55)"/><ellipse cx="476.7" cy="56.8" rx="1" ry=".6" opacity=".7" transform="rotate(89 476.7 56.8)"/><ellipse cx="476.4" cy="56.6" rx=".7" ry=".5" opacity=".5" transform="rotate(176 476.4 56.6)"/><ellipse cx="485.9" cy="62.6" rx="1.2" ry="1" opacity=".8" transform="rotate(131 485.9 62.6)"/><ellipse cx="486" cy="62.6" rx=".9" ry=".7" opacity=".6" transform="rotate(173 486 62.6)"/><ellipse cx="470.1" cy="40.9" rx=".8" ry=".7" opacity=".6" transform="rotate(37 470.1 40.9)"/><ellipse cx="470.2" cy="41.2" rx=".6" ry=".5" opacity=".4" transform="rotate(139 470.2 41.2)"/><ellipse cx="491" cy="50.1" rx="1" ry=".7" opacity=".7" transform="rotate(48 491 50.1)"/><ellipse cx="491" cy="49.8" rx=".7" ry=".5" opacity=".5" transform="rotate(156 491 49.8)"/><ellipse cx="480.1" cy="68.5" rx=".8" ry=".7" opacity=".6" transform="rotate(152 480.1 68.5)"/><ellipse cx="479.9" cy="68.7" rx=".6" ry=".5" opacity=".4" transform="rotate(67 479.9 68.7)"/><ellipse cx="495.1" cy="63.4" rx="1" ry=".7" opacity=".4" transform="rotate(93 495.1 63.4)"/><ellipse cx="494.8" cy="63.4" rx=".7" ry=".5" opacity=".4" transform="rotate(73 494.8 63.4)"/><ellipse cx="461.7" cy="40" rx=".8" ry=".7" opacity=".4" transform="rotate(121 461.7 40)"/><ellipse cx="461.6" cy="39.9" rx=".6" ry=".3" opacity=".4" transform="rotate(96 461.6 39.9)"/><ellipse cx="473.4" cy="65.1" rx=".8" ry=".4" opacity=".4" transform="rotate(35 473.4 65.1)"/><ellipse cx="473.4" cy="64.9" rx=".6" ry=".4" opacity=".4" transform="rotate(84 473.4 64.9)"/><ellipse cx="488.4" cy="68.5" rx=".8" ry=".6" opacity=".4" transform="rotate(22 488.4 68.5)"/><ellipse cx="488.1" cy="68.7" rx=".6" ry=".5" opacity=".4" transform="rotate(153 488.1 68.7)"/><ellipse cx="463.8" cy="56.1" rx=".8" ry=".7" opacity=".4" transform="rotate(161 463.8 56.1)"/><ellipse cx="463.8" cy="56.1" rx=".6" ry=".3" opacity=".3" transform="rotate(30 463.8 56.1)"/><ellipse cx="481.9" cy="46.6" rx="1.1" ry=".6" opacity=".4" transform="rotate(51 481.9 46.6)"/><ellipse cx="482.4" cy="46.3" rx=".8" ry=".7" opacity=".3" transform="rotate(76 482.4 46.3)"/><ellipse cx="459.6" cy="52.6" rx="1.1" ry=".7" opacity=".4" transform="rotate(81 459.6 52.6)"/><ellipse cx="459.3" cy="52.5" rx=".8" ry=".6" opacity=".3" transform="rotate(41 459.3 52.5)"/><ellipse cx="492.6" cy="60.9" rx=".9" ry=".5" opacity=".3" transform="rotate(121 492.6 60.9)"/><ellipse cx="492.9" cy="60.9" rx=".7" ry=".6" opacity=".2" transform="rotate(93 492.9 60.9)"/><ellipse cx="463" cy="64" rx="1.1" ry=".9" opacity=".4" transform="rotate(56 463 64)"/><ellipse cx="462.5" cy="63.7" rx=".8" ry=".5" opacity=".3" transform="rotate(59 462.5 63.7)"/><ellipse cx="475.3" cy="51.4" rx=".8" ry=".8" opacity=".4" transform="rotate(75 475.3 51.4)"/><ellipse cx="475.2" cy="51.7" rx=".6" ry=".5" opacity=".3" transform="rotate(141 475.2 51.7)"/><ellipse cx="463.6" cy="56.3" rx="1.1" ry=".9" opacity=".4" transform="rotate(105 463.6 56.3)"/><ellipse cx="463.5" cy="56.6" rx=".8" ry=".7" opacity=".3" transform="rotate(152 463.5 56.6)"/><ellipse cx="467.6" cy="34.7" rx=".9" ry=".8" opacity=".4" transform="rotate(45 467.6 34.7)"/><ellipse cx="467.8" cy="34.8" rx=".7" ry=".5" opacity=".3" transform="rotate(54 467.8 34.8)"/><ellipse cx="478" cy="61.4" rx=".9" ry=".6" opacity=".3" transform="rotate(92 478 61.4)"/><ellipse cx="478.3" cy="61.3" rx=".7" ry=".5" opacity=".3" transform="rotate(115 478.3 61.3)"/><ellipse cx="493.7" cy="37.8" rx=".8" ry=".6" opacity=".4" transform="rotate(2 493.7 37.8)"/><ellipse cx="493.5" cy="37.7" rx=".6" ry=".4" opacity=".3" transform="rotate(156 493.5 37.7)"/></g>
<g filter="url(#b1)" fill="#48ff50"><ellipse cx="465.9" cy="51.7" rx="1.6" ry="1.3" opacity=".6" transform="rotate(91 465.9 51.7)"/><ellipse cx="465.2" cy="51.7" rx="1.2" ry="1" opacity=".5" transform="rotate(135 465.2 51.7)"/><ellipse cx="470.9" cy="51.7" rx="1.2" ry="1.1" opacity=".5" transform="rotate(166 470.9 51.7)"/><ellipse cx="470.8" cy="51.3" rx=".9" ry=".6" opacity=".4" transform="rotate(63 470.8 51.3)"/><ellipse cx="462.5" cy="56.4" rx="1.2" ry=".8" opacity=".5" transform="rotate(55 462.5 56.4)"/><ellipse cx="462.2" cy="56.7" rx=".9" ry=".8" opacity=".4" transform="rotate(99 462.2 56.7)"/></g>
<rect x="457.2" y="32.1" width="40.9" height="42.1" fill="none" stroke="#000" stroke-width="1.1" opacity=".85"/>
<text x="497" y="73" font-size="3" fill="#ee2430" font-weight="bold" text-anchor="end">50μm</text>
</g>
<g clip-path="url(#c21)">
<rect x="456.9" y="76.8" width="41.5" height="42" fill="#720d10"/>
<rect x="456.9" y="76.8" width="41.5" height="42" fill="#200000" filter="url(#nz)" opacity="0.3"/>
<path d="M470.9 82.8q6 14 2 30" stroke="#300" stroke-width="1.6" fill="none" opacity=".4" filter="url(#b1)"/>
<ellipse cx="477.6" cy="97.8" rx="31.1" ry="31.5" fill="url(#vg)" opacity="0.6"/>
<rect x="457.2" y="77.1" width="40.9" height="41.4" fill="none" stroke="#000" stroke-width="1.1" opacity=".85"/>
<text x="497" y="117.3" font-size="3" fill="#ee2430" font-weight="bold" text-anchor="end">50μm</text>
</g>
<g clip-path="url(#c22)">
<rect x="456.9" y="121" width="41.5" height="42.8" fill="#050526"/>
<path d="M475.9 132.7h0M480.9 139.1h0M478.9 162.7h0M462.4 158.4h0M468.6 149.9h0M496.6 159.4h0M459.5 124.5h0M468.6 139.3h0M460.8 125.5h0M472.6 141.5h0M466.2 136h0M462.6 155h0M474.7 132.5h0M472.5 126h0M469.7 153.6h0M460.9 130.7h0M463.5 136.6h0M485.9 145.2h0M473.7 160.1h0M472.3 136.8h0M473.5 137.8h0M465.6 145h0M489.4 144.1h0M480.1 129.2h0M478.3 144.2h0M482.9 127.9h0M488.1 143.3h0M473.5 135.8h0M479.1 151.4h0M490.5 149.2h0M489.7 156h0M474.5 128h0M464.5 130.3h0M474.7 133.9h0M462.4 148.4h0M476 145.8h0M465.2 130.9h0M467.2 151.3h0M469 129h0M479.5 161h0M477 131h0M459.9 160.7h0M478.3 133.2h0M458.3 141.3h0M472.6 154.5h0M464.1 135.1h0M468.1 157.5h0M478.3 148h0M463.9 153.4h0M458 155.5h0M468.6 151.2h0M461.7 141.6h0M476.4 161h0M489.1 139h0M461.5 155.7h0M466.1 144.2h0M478.7 128.4h0" stroke="#2c3acc" stroke-width="1.1" stroke-linecap="round" opacity=".62" filter="url(#b0)"/>
<rect x="457.2" y="121.3" width="40.9" height="42.2" fill="none" stroke="#000" stroke-width="1.1" opacity=".85"/>
<text x="497" y="162.3" font-size="3" fill="#ee2430" font-weight="bold" text-anchor="end">50μm</text>
</g>
<g clip-path="url(#c23)">
<rect x="456.9" y="166.3" width="41.5" height="42.7" fill="#78120c"/>
<rect x="456.9" y="166.3" width="41.5" height="42.7" fill="#200000" filter="url(#nz)" opacity="0.4"/>
<rect x="456.9" y="166.3" width="41.5" height="42.7" fill="#020" filter="url(#gq2)" opacity="0.4"/>
<path d="M490.8 180h0M470.2 170.4h0M470 186.3h0M486.1 181.9h0M485 171.6h0M473.5 186.1h0M496.1 201.1h0M483.7 167.8h0M472.8 196.2h0M467.3 190.3h0M476 167.7h0M497.1 199.8h0M466.1 192.4h0M469.4 182.6h0" stroke="#3a3ad0" stroke-width="1.1" stroke-linecap="round" opacity=".42" filter="url(#b0)"/>
<g filter="url(#b1)" fill="#20e830"><ellipse cx="476.4" cy="172" rx="1.7" ry="1.3" opacity="1" transform="rotate(33 476.4 172)"/><ellipse cx="476.5" cy="172.4" rx="1.3" ry=".9" opacity=".8" transform="rotate(64 476.5 172.4)"/><ellipse cx="481.4" cy="173.2" rx="1.5" ry="1.3" opacity="1" transform="rotate(70 481.4 173.2)"/><ellipse cx="481.2" cy="173.8" rx="1.2" ry="1.1" opacity=".8" transform="rotate(24 481.2 173.8)"/><ellipse cx="467.5" cy="180.4" rx="1.3" ry=".7" opacity=".9" transform="rotate(126 467.5 180.4)"/><ellipse cx="467" cy="180.9" rx="1" ry=".8" opacity=".7" transform="rotate(13 467 180.9)"/><ellipse cx="465.9" cy="186.2" rx="2.3" ry="1.3" opacity="1" transform="rotate(87 465.9 186.2)"/><ellipse cx="465.5" cy="186.4" rx="1.7" ry="1.5" opacity=".8" transform="rotate(21 465.5 186.4)"/><ellipse cx="470.9" cy="186.2" rx="1.7" ry="1.4" opacity="1" transform="rotate(33 470.9 186.2)"/><ellipse cx="470.6" cy="186.4" rx="1.3" ry="1.2" opacity=".8" transform="rotate(126 470.6 186.4)"/><ellipse cx="473.4" cy="182.9" rx="1.3" ry=".7" opacity="1" transform="rotate(152 473.4 182.9)"/><ellipse cx="473.8" cy="183.3" rx="1" ry=".8" opacity=".8" transform="rotate(11 473.8 183.3)"/><ellipse cx="462.5" cy="190.9" rx="1.7" ry="1.4" opacity="1" transform="rotate(140 462.5 190.9)"/><ellipse cx="462.4" cy="191.2" rx="1.3" ry=".9" opacity=".8" transform="rotate(50 462.4 191.2)"/><ellipse cx="460" cy="194.6" rx="1.1" ry=".7" opacity=".9" transform="rotate(149 460 194.6)"/><ellipse cx="459.5" cy="194.8" rx=".9" ry=".7" opacity=".7" transform="rotate(44 459.5 194.8)"/><ellipse cx="465.9" cy="197.9" rx="1.1" ry=".7" opacity=".8" transform="rotate(179 465.9 197.9)"/><ellipse cx="466" cy="198.1" rx=".9" ry=".8" opacity=".6" transform="rotate(157 466 198.1)"/><ellipse cx="483.4" cy="186.2" rx="1.5" ry="1.1" opacity="1" transform="rotate(42 483.4 186.2)"/><ellipse cx="483.8" cy="186.5" rx="1.2" ry=".9" opacity=".8" transform="rotate(101 483.8 186.5)"/><ellipse cx="485.9" cy="189.6" rx="1.3" ry="1.2" opacity="1" transform="rotate(158 485.9 189.6)"/><ellipse cx="485.7" cy="190" rx="1" ry=".7" opacity=".8" transform="rotate(123 485.7 190)"/><ellipse cx="489.3" cy="180.4" rx="1.3" ry=".8" opacity=".9" transform="rotate(139 489.3 180.4)"/><ellipse cx="489.8" cy="180.9" rx="1" ry=".7" opacity=".7" transform="rotate(117 489.8 180.9)"/><ellipse cx="492.6" cy="175.4" rx="1.1" ry=".8" opacity=".8" transform="rotate(115 492.6 175.4)"/><ellipse cx="493.1" cy="175.7" rx=".9" ry=".5" opacity=".6" transform="rotate(178 493.1 175.7)"/><ellipse cx="494.3" cy="189.6" rx="1.1" ry=".9" opacity=".7" transform="rotate(137 494.3 189.6)"/><ellipse cx="493.9" cy="189.5" rx=".9" ry=".6" opacity=".5" transform="rotate(78 493.9 189.5)"/><ellipse cx="476.7" cy="191.3" rx=".9" ry=".5" opacity=".7" transform="rotate(89 476.7 191.3)"/><ellipse cx="476.4" cy="191.1" rx=".7" ry=".4" opacity=".5" transform="rotate(176 476.4 191.1)"/><ellipse cx="485.9" cy="197.1" rx="1.1" ry="1" opacity=".8" transform="rotate(131 485.9 197.1)"/><ellipse cx="486" cy="197.1" rx=".9" ry=".7" opacity=".6" transform="rotate(173 486 197.1)"/><ellipse cx="470.1" cy="175.4" rx=".8" ry=".7" opacity=".6" transform="rotate(37 470.1 175.4)"/><ellipse cx="470.2" cy="175.7" rx=".6" ry=".5" opacity=".4" transform="rotate(139 470.2 175.7)"/><ellipse cx="491" cy="184.6" rx=".9" ry=".7" opacity=".7" transform="rotate(48 491 184.6)"/><ellipse cx="491" cy="184.3" rx=".7" ry=".5" opacity=".5" transform="rotate(156 491 184.3)"/><ellipse cx="480.1" cy="203" rx=".8" ry=".6" opacity=".6" transform="rotate(152 480.1 203)"/><ellipse cx="479.9" cy="203.2" rx=".6" ry=".5" opacity=".4" transform="rotate(67 479.9 203.2)"/><ellipse cx="495.1" cy="197.9" rx=".9" ry=".7" opacity=".4" transform="rotate(93 495.1 197.9)"/><ellipse cx="494.8" cy="197.9" rx=".7" ry=".5" opacity=".4" transform="rotate(73 494.8 197.9)"/><ellipse cx="461.7" cy="174.5" rx=".8" ry=".7" opacity=".4" transform="rotate(121 461.7 174.5)"/><ellipse cx="461.6" cy="174.4" rx=".6" ry=".3" opacity=".4" transform="rotate(96 461.6 174.4)"/><ellipse cx="473.4" cy="199.6" rx=".8" ry=".4" opacity=".4" transform="rotate(35 473.4 199.6)"/><ellipse cx="473.4" cy="199.4" rx=".6" ry=".4" opacity=".4" transform="rotate(84 473.4 199.4)"/><ellipse cx="488.4" cy="203" rx=".8" ry=".6" opacity=".4" transform="rotate(22 488.4 203)"/><ellipse cx="488.1" cy="203.2" rx=".6" ry=".4" opacity=".4" transform="rotate(153 488.1 203.2)"/><ellipse cx="463.8" cy="190.6" rx=".8" ry=".7" opacity=".4" transform="rotate(161 463.8 190.6)"/><ellipse cx="463.8" cy="190.6" rx=".6" ry=".3" opacity=".3" transform="rotate(30 463.8 190.6)"/><ellipse cx="481.9" cy="181.1" rx="1" ry=".6" opacity=".4" transform="rotate(51 481.9 181.1)"/><ellipse cx="482.3" cy="180.8" rx=".8" ry=".7" opacity=".3" transform="rotate(76 482.3 180.8)"/><ellipse cx="459.6" cy="187.1" rx="1" ry=".7" opacity=".4" transform="rotate(81 459.6 187.1)"/><ellipse cx="459.3" cy="187" rx=".8" ry=".6" opacity=".3" transform="rotate(41 459.3 187)"/><ellipse cx="492.6" cy="195.4" rx=".9" ry=".5" opacity=".3" transform="rotate(121 492.6 195.4)"/><ellipse cx="492.9" cy="195.4" rx=".7" ry=".6" opacity=".2" transform="rotate(93 492.9 195.4)"/><ellipse cx="463" cy="198.5" rx="1.1" ry=".9" opacity=".4" transform="rotate(56 463 198.5)"/><ellipse cx="462.5" cy="198.2" rx=".8" ry=".5" opacity=".3" transform="rotate(59 462.5 198.2)"/><ellipse cx="475.3" cy="185.9" rx=".8" ry=".7" opacity=".4" transform="rotate(75 475.3 185.9)"/><ellipse cx="475.2" cy="186.2" rx=".6" ry=".5" opacity=".3" transform="rotate(141 475.2 186.2)"/><ellipse cx="463.6" cy="190.8" rx="1" ry=".9" opacity=".4" transform="rotate(105 463.6 190.8)"/><ellipse cx="463.5" cy="191.1" rx=".8" ry=".7" opacity=".3" transform="rotate(152 463.5 191.1)"/><ellipse cx="467.6" cy="169.2" rx=".9" ry=".8" opacity=".4" transform="rotate(45 467.6 169.2)"/><ellipse cx="467.8" cy="169.3" rx=".7" ry=".5" opacity=".3" transform="rotate(54 467.8 169.3)"/><ellipse cx="478" cy="195.9" rx=".9" ry=".5" opacity=".3" transform="rotate(92 478 195.9)"/><ellipse cx="478.3" cy="195.8" rx=".7" ry=".5" opacity=".3" transform="rotate(115 478.3 195.8)"/><ellipse cx="493.7" cy="172.3" rx=".8" ry=".6" opacity=".4" transform="rotate(2 493.7 172.3)"/><ellipse cx="493.5" cy="172.2" rx=".6" ry=".4" opacity=".3" transform="rotate(156 493.5 172.2)"/></g>
<g filter="url(#b1)" fill="#48ff50"><ellipse cx="465.9" cy="186.2" rx="1.6" ry="1.3" opacity=".6" transform="rotate(91 465.9 186.2)"/><ellipse cx="465.2" cy="186.2" rx="1.2" ry="1" opacity=".5" transform="rotate(135 465.2 186.2)"/><ellipse cx="470.9" cy="186.2" rx="1.2" ry="1.1" opacity=".5" transform="rotate(166 470.9 186.2)"/><ellipse cx="470.8" cy="185.8" rx=".9" ry=".6" opacity=".4" transform="rotate(63 470.8 185.8)"/><ellipse cx="462.5" cy="190.9" rx="1.2" ry=".8" opacity=".5" transform="rotate(55 462.5 190.9)"/><ellipse cx="462.2" cy="191.2" rx=".9" ry=".8" opacity=".4" transform="rotate(99 462.2 191.2)"/></g>
<ellipse cx="477.6" cy="187.7" rx="31.1" ry="32" fill="url(#vg)" opacity="0.4"/>
<rect x="457.2" y="166.6" width="40.9" height="42.1" fill="none" stroke="#000" stroke-width="1.1" opacity=".85"/>
<text x="497" y="207.5" font-size="3" fill="#ee2430" font-weight="bold" text-anchor="end">50μm</text>
</g>
<g clip-path="url(#c30)">
<rect x="500.4" y="31.8" width="42.8" height="42.7" fill="#020" filter="url(#gm3)"/>
<g filter="url(#b1)" fill="#30ea3c"><ellipse cx="505.7" cy="55.9" rx="4.7" ry="3.5" opacity="1" transform="rotate(142 505.7 55.9)"/><ellipse cx="503.8" cy="55.3" rx="3.6" ry="2.4" opacity=".8" transform="rotate(177 503.8 55.3)"/><ellipse cx="511.9" cy="51.7" rx="1.6" ry=".9" opacity="1" transform="rotate(118 511.9 51.7)"/><ellipse cx="512.1" cy="51.9" rx="1.2" ry="1" opacity=".8" transform="rotate(128 512.1 51.9)"/><ellipse cx="517.7" cy="36.7" rx="1.4" ry=".9" opacity="1" transform="rotate(110 517.7 36.7)"/><ellipse cx="518" cy="37.1" rx="1" ry=".7" opacity=".8" transform="rotate(74 518 37.1)"/><ellipse cx="510.2" cy="40.9" rx="1.4" ry="1" opacity=".9" transform="rotate(81 510.2 40.9)"/><ellipse cx="510.5" cy="41" rx="1" ry=".8" opacity=".7" transform="rotate(45 510.5 41)"/><ellipse cx="504.3" cy="38.4" rx="1.2" ry=".8" opacity=".9" transform="rotate(59 504.3 38.4)"/><ellipse cx="504.4" cy="37.9" rx=".9" ry=".6" opacity=".7" transform="rotate(3 504.4 37.9)"/><ellipse cx="500.2" cy="40.9" rx="1" ry=".7" opacity=".8" transform="rotate(1 500.2 40.9)"/><ellipse cx="500.1" cy="40.5" rx=".7" ry=".5" opacity=".6" transform="rotate(16 500.1 40.5)"/><ellipse cx="531.9" cy="38.4" rx="1.6" ry="1.1" opacity="1" transform="rotate(83 531.9 38.4)"/><ellipse cx="531.5" cy="37.8" rx="1.2" ry=".9" opacity=".8" transform="rotate(101 531.5 37.8)"/><ellipse cx="539.4" cy="45.9" rx="2" ry="1.5" opacity="1" transform="rotate(175 539.4 45.9)"/><ellipse cx="540.2" cy="45.7" rx="1.5" ry="1.4" opacity=".8" transform="rotate(7 540.2 45.7)"/><ellipse cx="536.1" cy="50.1" rx="1.6" ry="1" opacity="1" transform="rotate(95 536.1 50.1)"/><ellipse cx="536.1" cy="50" rx="1.2" ry="1.1" opacity=".8" transform="rotate(128 536.1 50)"/><ellipse cx="531.9" cy="47.6" rx="1.4" ry="1.2" opacity="1" transform="rotate(53 531.9 47.6)"/><ellipse cx="531.6" cy="47.2" rx="1" ry=".8" opacity=".8" transform="rotate(101 531.6 47.2)"/><ellipse cx="536.1" cy="55.1" rx="1.6" ry="1.4" opacity="1" transform="rotate(145 536.1 55.1)"/><ellipse cx="535.7" cy="54.6" rx="1.2" ry=".7" opacity=".8" transform="rotate(63 535.7 54.6)"/><ellipse cx="532.8" cy="62.6" rx="1.8" ry="1.3" opacity="1" transform="rotate(81 532.8 62.6)"/><ellipse cx="533.3" cy="62.8" rx="1.3" ry="1.1" opacity=".8" transform="rotate(23 533.3 62.8)"/><ellipse cx="526.1" cy="51.7" rx="1.4" ry=".8" opacity="1" transform="rotate(27 526.1 51.7)"/><ellipse cx="526" cy="51.7" rx="1" ry=".6" opacity=".8" transform="rotate(71 526 51.7)"/><ellipse cx="523.6" cy="57.6" rx="1.4" ry="1.1" opacity=".9" transform="rotate(174 523.6 57.6)"/><ellipse cx="523.9" cy="57.9" rx="1" ry=".9" opacity=".7" transform="rotate(135 523.9 57.9)"/><ellipse cx="516.9" cy="60.9" rx="1.4" ry="1.2" opacity=".9" transform="rotate(132 516.9 60.9)"/><ellipse cx="516.4" cy="61.1" rx="1" ry=".8" opacity=".7" transform="rotate(129 516.4 61.1)"/><ellipse cx="521.1" cy="66" rx="1.4" ry="1.1" opacity=".9" transform="rotate(13 521.1 66)"/><ellipse cx="521.4" cy="66.4" rx="1" ry=".9" opacity=".7" transform="rotate(82 521.4 66.4)"/><ellipse cx="513.5" cy="67.6" rx="1.4" ry="1.1" opacity=".9" transform="rotate(120 513.5 67.6)"/><ellipse cx="513.7" cy="67.8" rx="1" ry=".8" opacity=".7" transform="rotate(71 513.7 67.8)"/><ellipse cx="521.9" cy="71.8" rx="1.4" ry="1.3" opacity="1" transform="rotate(161 521.9 71.8)"/><ellipse cx="521.6" cy="71.9" rx="1" ry=".8" opacity=".8" transform="rotate(45 521.6 71.9)"/><ellipse cx="527.7" cy="71" rx="1.4" ry="1.2" opacity="1" transform="rotate(38 527.7 71)"/><ellipse cx="528" cy="70.9" rx="1" ry=".8" opacity=".8" transform="rotate(68 528 70.9)"/><ellipse cx="540.3" cy="69.3" rx="1.4" ry="1.1" opacity="1" transform="rotate(149 540.3 69.3)"/><ellipse cx="539.9" cy="69.1" rx="1" ry=".8" opacity=".8" transform="rotate(71 539.9 69.1)"/><ellipse cx="542" cy="53.4" rx="1.4" ry="1.1" opacity="1" transform="rotate(32 542 53.4)"/><ellipse cx="541.9" cy="53.9" rx="1" ry=".9" opacity=".8" transform="rotate(22 541.9 53.9)"/><ellipse cx="518.5" cy="46.7" rx="1.2" ry=".9" opacity=".8" transform="rotate(132 518.5 46.7)"/><ellipse cx="518.1" cy="47.2" rx=".9" ry=".7" opacity=".6" transform="rotate(132 518.1 47.2)"/><ellipse cx="513.5" cy="57.6" rx="1.2" ry=".7" opacity=".8" transform="rotate(73 513.5 57.6)"/><ellipse cx="514" cy="57.3" rx=".9" ry=".7" opacity=".6" transform="rotate(156 514 57.3)"/><ellipse cx="541.1" cy="36.7" rx="1.4" ry="1" opacity="1" transform="rotate(82 541.1 36.7)"/><ellipse cx="540.9" cy="36.4" rx="1" ry=".8" opacity=".8" transform="rotate(43 540.9 36.4)"/><ellipse cx="525.2" cy="43.4" rx="1" ry=".7" opacity=".8" transform="rotate(155 525.2 43.4)"/><ellipse cx="524.9" cy="43" rx=".7" ry=".5" opacity=".6" transform="rotate(40 524.9 43)"/><ellipse cx="506.8" cy="66" rx="1.2" ry=".8" opacity=".8" transform="rotate(36 506.8 66)"/><ellipse cx="506.5" cy="66.1" rx=".9" ry=".7" opacity=".6" transform="rotate(83 506.5 66.1)"/><ellipse cx="530.3" cy="56.8" rx="1.2" ry=".7" opacity=".8" transform="rotate(160 530.3 56.8)"/><ellipse cx="530.1" cy="56.4" rx=".9" ry=".8" opacity=".6" transform="rotate(113 530.1 56.4)"/><ellipse cx="501.8" cy="70.1" rx="1" ry=".6" opacity=".7" transform="rotate(22 501.8 70.1)"/><ellipse cx="501.9" cy="69.8" rx=".7" ry=".5" opacity=".5" transform="rotate(55 501.9 69.8)"/><ellipse cx="536.9" cy="40" rx="1.2" ry="1" opacity=".9" transform="rotate(94 536.9 40)"/><ellipse cx="536.9" cy="40.5" rx=".9" ry=".7" opacity=".7" transform="rotate(167 536.9 40.5)"/><ellipse cx="528.6" cy="65.1" rx="1.2" ry="1.1" opacity=".9" transform="rotate(144 528.6 65.1)"/><ellipse cx="528.6" cy="64.8" rx=".9" ry=".8" opacity=".7" transform="rotate(6 528.6 64.8)"/><ellipse cx="538.6" cy="60.9" rx="1.2" ry=".7" opacity=".9" transform="rotate(162 538.6 60.9)"/><ellipse cx="538.1" cy="60.4" rx=".9" ry=".7" opacity=".7" transform="rotate(134 538.1 60.4)"/><ellipse cx="516" cy="53.4" rx="1" ry=".6" opacity=".7" transform="rotate(79 516 53.4)"/><ellipse cx="516.3" cy="53.4" rx=".7" ry=".6" opacity=".5" transform="rotate(0 516.3 53.4)"/><ellipse cx="522.7" cy="37.5" rx="1" ry=".6" opacity=".7" transform="rotate(129 522.7 37.5)"/><ellipse cx="522.5" cy="37.6" rx=".7" ry=".4" opacity=".5" transform="rotate(1 522.5 37.6)"/><ellipse cx="510.2" cy="71.8" rx="1" ry=".9" opacity=".7" transform="rotate(167 510.2 71.8)"/><ellipse cx="510.5" cy="71.9" rx=".7" ry=".6" opacity=".5" transform="rotate(67 510.5 71.9)"/><ellipse cx="534.4" cy="69.3" rx="1" ry=".6" opacity=".8" transform="rotate(57 534.4 69.3)"/><ellipse cx="534.4" cy="69.1" rx=".7" ry=".5" opacity=".6" transform="rotate(108 534.4 69.1)"/><ellipse cx="502.7" cy="46.7" rx="1" ry=".6" opacity=".7" transform="rotate(25 502.7 46.7)"/><ellipse cx="502.4" cy="46.5" rx=".7" ry=".6" opacity=".5" transform="rotate(103 502.4 46.5)"/><ellipse cx="541.3" cy="49.6" rx="1.1" ry=".8" opacity=".4" transform="rotate(127 541.3 49.6)"/><ellipse cx="541.1" cy="49.4" rx=".8" ry=".6" opacity=".3" transform="rotate(124 541.1 49.4)"/><ellipse cx="510.2" cy="34.2" rx="1" ry=".7" opacity=".3" transform="rotate(89 510.2 34.2)"/><ellipse cx="510" cy="34.4" rx=".8" ry=".7" opacity=".2" transform="rotate(6 510 34.4)"/><ellipse cx="517" cy="67.2" rx="1.2" ry=".8" opacity=".3" transform="rotate(71 517 67.2)"/><ellipse cx="516.7" cy="67.3" rx=".9" ry=".7" opacity=".2" transform="rotate(59 516.7 67.3)"/><ellipse cx="504.8" cy="40.1" rx="1.2" ry=".9" opacity=".2" transform="rotate(113 504.8 40.1)"/><ellipse cx="504.6" cy="39.6" rx=".9" ry=".6" opacity=".2" transform="rotate(28 504.6 39.6)"/><ellipse cx="510.6" cy="35.4" rx=".8" ry=".6" opacity=".4" transform="rotate(64 510.6 35.4)"/><ellipse cx="510.6" cy="35.7" rx=".6" ry=".5" opacity=".3" transform="rotate(93 510.6 35.7)"/><ellipse cx="508.9" cy="47.7" rx="1.1" ry=".9" opacity=".4" transform="rotate(64 508.9 47.7)"/><ellipse cx="508.5" cy="48.1" rx=".9" ry=".7" opacity=".3" transform="rotate(56 508.5 48.1)"/><ellipse cx="518.3" cy="63" rx="1" ry=".9" opacity=".4" transform="rotate(40 518.3 63)"/><ellipse cx="518.3" cy="62.8" rx=".8" ry=".6" opacity=".4" transform="rotate(148 518.3 62.8)"/><ellipse cx="511.6" cy="46" rx="1" ry="1" opacity=".5" transform="rotate(162 511.6 46)"/><ellipse cx="511.5" cy="46.5" rx=".8" ry=".5" opacity=".4" transform="rotate(179 511.5 46.5)"/><ellipse cx="526.6" cy="50.3" rx=".8" ry=".6" opacity=".3" transform="rotate(45 526.6 50.3)"/><ellipse cx="526.9" cy="50" rx=".6" ry=".4" opacity=".2" transform="rotate(3 526.9 50)"/><ellipse cx="510.2" cy="71.1" rx="1.2" ry=".7" opacity=".5" transform="rotate(20 510.2 71.1)"/><ellipse cx="510.3" cy="71.1" rx=".9" ry=".6" opacity=".4" transform="rotate(53 510.3 71.1)"/><ellipse cx="523" cy="59.8" rx=".9" ry=".8" opacity=".4" transform="rotate(75 523 59.8)"/><ellipse cx="522.9" cy="60.1" rx=".7" ry=".5" opacity=".3" transform="rotate(105 522.9 60.1)"/><ellipse cx="507.3" cy="48.1" rx=".8" ry=".7" opacity=".2" transform="rotate(78 507.3 48.1)"/><ellipse cx="507.4" cy="48.3" rx=".6" ry=".4" opacity=".2" transform="rotate(66 507.4 48.3)"/><ellipse cx="538.9" cy="34.9" rx="1.2" ry="1" opacity=".4" transform="rotate(59 538.9 34.9)"/><ellipse cx="539.1" cy="34.6" rx=".9" ry=".6" opacity=".3" transform="rotate(172 539.1 34.6)"/><ellipse cx="505.1" cy="50.7" rx="1.3" ry="1.1" opacity=".5" transform="rotate(159 505.1 50.7)"/><ellipse cx="504.7" cy="51.3" rx="1" ry=".9" opacity=".4" transform="rotate(108 504.7 51.3)"/><ellipse cx="524.4" cy="62.4" rx="1.1" ry=".8" opacity=".3" transform="rotate(163 524.4 62.4)"/><ellipse cx="524.4" cy="62.2" rx=".8" ry=".7" opacity=".2" transform="rotate(179 524.4 62.2)"/><ellipse cx="523.8" cy="55.3" rx=".9" ry=".7" opacity=".4" transform="rotate(173 523.8 55.3)"/><ellipse cx="523.6" cy="54.9" rx=".7" ry=".4" opacity=".4" transform="rotate(134 523.6 54.9)"/><ellipse cx="519.5" cy="61.5" rx=".7" ry=".5" opacity=".3" transform="rotate(98 519.5 61.5)"/><ellipse cx="519.7" cy="61.3" rx=".6" ry=".5" opacity=".3" transform="rotate(55 519.7 61.3)"/><ellipse cx="503.2" cy="57.3" rx="1.2" ry="1" opacity=".4" transform="rotate(43 503.2 57.3)"/><ellipse cx="502.9" cy="57.8" rx=".9" ry=".6" opacity=".3" transform="rotate(82 502.9 57.8)"/><ellipse cx="524.5" cy="56.3" rx=".8" ry=".5" opacity=".3" transform="rotate(41 524.5 56.3)"/><ellipse cx="524.4" cy="56.6" rx=".6" ry=".5" opacity=".3" transform="rotate(152 524.4 56.6)"/><ellipse cx="525" cy="57.3" rx=".9" ry=".6" opacity=".4" transform="rotate(142 525 57.3)"/><ellipse cx="524.9" cy="57.2" rx=".7" ry=".6" opacity=".3" transform="rotate(46 524.9 57.2)"/><ellipse cx="514.9" cy="53.6" rx="1.1" ry=".6" opacity=".3" transform="rotate(51 514.9 53.6)"/><ellipse cx="514.5" cy="53.8" rx=".8" ry=".6" opacity=".2" transform="rotate(170 514.5 53.8)"/><ellipse cx="529.3" cy="65.6" rx="1" ry=".6" opacity=".5" transform="rotate(146 529.3 65.6)"/><ellipse cx="529.4" cy="65.8" rx=".8" ry=".5" opacity=".4" transform="rotate(159 529.4 65.8)"/></g>
<g filter="url(#b1)" fill="#48ff50"><ellipse cx="505.7" cy="55.9" rx="3.2" ry="2.7" opacity="1" transform="rotate(20 505.7 55.9)"/><ellipse cx="505.9" cy="57.2" rx="2.4" ry="1.3" opacity=".8" transform="rotate(169 505.9 57.2)"/><ellipse cx="539.4" cy="45.9" rx="1.3" ry="1.1" opacity=".6" transform="rotate(81 539.4 45.9)"/><ellipse cx="539.9" cy="45.9" rx="1" ry=".9" opacity=".5" transform="rotate(105 539.9 45.9)"/><ellipse cx="532.8" cy="62.6" rx="1.2" ry=".7" opacity=".5" transform="rotate(144 532.8 62.6)"/><ellipse cx="532.9" cy="63" rx=".9" ry=".6" opacity=".4" transform="rotate(156 532.9 63)"/></g>
<rect x="500.7" y="32.1" width="42.2" height="42.1" fill="none" stroke="#000" stroke-width="1.1" opacity=".85"/>
<text x="541.8" y="73" font-size="3" fill="#ee2430" font-weight="bold" text-anchor="end">50μm</text>
</g>
<g clip-path="url(#c31)">
<rect x="500.4" y="76.8" width="42.8" height="42" fill="#bc1c1c"/>
<rect x="500.4" y="76.8" width="42.8" height="42" fill="#200000" filter="url(#nz)" opacity="0.48"/>
<ellipse cx="506.4" cy="80.8" rx="15" ry="10" fill="#3a0505" opacity=".55" filter="url(#b2)"/>
<ellipse cx="524.4" cy="110.8" rx="18" ry="8" fill="#ff3020" opacity=".25" filter="url(#b2)"/>
<ellipse cx="521.8" cy="97.8" rx="32.1" ry="31.5" fill="url(#vg)" opacity="0.3"/>
<rect x="500.7" y="77.1" width="42.2" height="41.4" fill="none" stroke="#000" stroke-width="1.1" opacity=".85"/>
<text x="541.8" y="117.3" font-size="3" fill="#ff5a48" font-weight="bold" text-anchor="end">50μm</text>
</g>
<g clip-path="url(#c32)">
<rect x="500.4" y="121" width="42.8" height="42.8" fill="#050526"/>
<path d="M523.4 134.2h0M515.2 138h0M528.6 132.5h0M509.6 151.8h0M514.8 160.6h0M524.4 151.5h0M514.9 155.7h0M505.2 127.7h0M505.3 149.6h0M530.3 129.3h0M517.8 156.1h0M525.6 125.7h0M510.6 128.4h0M506.5 138.6h0M504.4 159.6h0M518.8 142.9h0M527.8 153.3h0M534.9 137.7h0M514.9 138.8h0M502 138.3h0M530 162.1h0M533.6 148.9h0M526.2 122.8h0M514.9 136h0M527.9 126.3h0M516.8 142.8h0M533.6 155.7h0M526.3 128.5h0M532.7 158.8h0M523.8 136.4h0M521.8 127.8h0M530.5 162.3h0M522.5 151.2h0M535.5 130h0M540 147.6h0M509.5 125.4h0M511.4 145.5h0M529.8 135.4h0M539.3 136.7h0M520.3 127.1h0M541.1 127.5h0M538.3 144.2h0M524.3 144.9h0M512.2 159.1h0M541.9 155.4h0M525.9 127h0M535 133.8h0M538 131.8h0M524.8 155.9h0M509 144.4h0M504.5 123.3h0M508.7 162.3h0M539.7 148.9h0M514 149.4h0M531.5 137.6h0M525.5 154.8h0M502.1 130.1h0M520.5 127.8h0M517.2 145.2h0M508.5 143.2h0M512.2 145.2h0M514.9 148.2h0M502.9 149.4h0M507.3 161.1h0M525.9 141.2h0M518.2 147.5h0M529.5 152.9h0M532.1 141.8h0M542 156.2h0M536.3 138.7h0M519.1 145.1h0M538.3 143.5h0M522.8 139.6h0M538.3 135.1h0M503.6 151.6h0M538.1 151.9h0M525.8 152.7h0M513.8 146.2h0M504.2 127.1h0M519.6 142.5h0M517.6 124.1h0M529.8 143.5h0M511.2 134.5h0M517.5 131.6h0M504.2 159.2h0M540.8 149.2h0M536.8 139.2h0M534.3 131h0M531.9 145.1h0M538.3 126h0M533.7 127.1h0M523.3 160.8h0M501.4 132h0M513.6 135.3h0M504 158.5h0M534.7 138.2h0M515.9 145.9h0M503.3 123.3h0M538.1 134.6h0M521.7 160.1h0M541.3 141.3h0M509.8 134.1h0M539 158.6h0M509.4 156.2h0M515.8 141.3h0M508.4 157.9h0M542 130.2h0M527.2 129.8h0M537.3 124h0M505.7 151.6h0M514.2 158.7h0M536.9 151.1h0M506.9 150.4h0M539.7 140.2h0M504.6 131.1h0M513.9 151h0M509.4 129.4h0M511 149.1h0M533.7 137.2h0M528.4 158.1h0M525.5 131.3h0M513.7 159.8h0M528.6 133.3h0M527.5 125.7h0M541.5 140h0M523 143.7h0M503.2 146.5h0M513 132.2h0M534.2 125.6h0M513 152.8h0M511.4 133.4h0M523.8 129.6h0M538 162.3h0M502.8 140.8h0M532 137.7h0" stroke="#2c3acc" stroke-width="1.1" stroke-linecap="round" opacity=".62" filter="url(#b0)"/>
<rect x="500.7" y="121.3" width="42.2" height="42.2" fill="none" stroke="#000" stroke-width="1.1" opacity=".85"/>
<text x="541.8" y="162.3" font-size="3" fill="#ee2430" font-weight="bold" text-anchor="end">50μm</text>
</g>
<g clip-path="url(#c33)">
<rect x="500.4" y="166.3" width="42.8" height="42.7" fill="#a81e0e"/>
<rect x="500.4" y="166.3" width="42.8" height="42.7" fill="#200000" filter="url(#nz)" opacity="0.45"/>
<rect x="500.4" y="166.3" width="42.8" height="42.7" fill="#020" filter="url(#gq3)" opacity="0.55"/>
<path d="M539.3 187.6h0M508.7 189.9h0M527.7 181.9h0M528.3 199.2h0M522.5 187.9h0M535.9 195.1h0M522.6 206h0M508.5 199h0M508.1 192h0M511 185.2h0M532.9 199.3h0M533.7 176.9h0M521.4 176.3h0M525.1 187.6h0" stroke="#3a3ad0" stroke-width="1.1" stroke-linecap="round" opacity=".42" filter="url(#b0)"/>
<g filter="url(#b1)" fill="#25f030"><ellipse cx="505.7" cy="190.4" rx="4.6" ry="3.5" opacity="1" transform="rotate(142 505.7 190.4)"/><ellipse cx="503.8" cy="189.9" rx="3.5" ry="2.4" opacity=".8" transform="rotate(177 503.8 189.9)"/><ellipse cx="511.9" cy="186.2" rx="1.5" ry=".9" opacity="1" transform="rotate(118 511.9 186.2)"/><ellipse cx="512.1" cy="186.4" rx="1.2" ry=".9" opacity=".8" transform="rotate(128 512.1 186.4)"/><ellipse cx="517.7" cy="171.2" rx="1.4" ry=".9" opacity="1" transform="rotate(110 517.7 171.2)"/><ellipse cx="518" cy="171.6" rx="1" ry=".7" opacity=".8" transform="rotate(74 518 171.6)"/><ellipse cx="510.2" cy="175.4" rx="1.4" ry="1" opacity=".9" transform="rotate(81 510.2 175.4)"/><ellipse cx="510.5" cy="175.5" rx="1" ry=".8" opacity=".7" transform="rotate(45 510.5 175.5)"/><ellipse cx="504.3" cy="172.9" rx="1.2" ry=".8" opacity=".9" transform="rotate(59 504.3 172.9)"/><ellipse cx="504.4" cy="172.4" rx=".9" ry=".6" opacity=".7" transform="rotate(3 504.4 172.4)"/><ellipse cx="500.2" cy="175.4" rx="1" ry=".7" opacity=".8" transform="rotate(1 500.2 175.4)"/><ellipse cx="500.1" cy="175.1" rx=".7" ry=".5" opacity=".6" transform="rotate(16 500.1 175.1)"/><ellipse cx="531.9" cy="172.9" rx="1.5" ry="1.1" opacity="1" transform="rotate(83 531.9 172.9)"/><ellipse cx="531.5" cy="172.3" rx="1.2" ry=".8" opacity=".8" transform="rotate(101 531.5 172.3)"/><ellipse cx="539.4" cy="180.4" rx="1.9" ry="1.4" opacity="1" transform="rotate(175 539.4 180.4)"/><ellipse cx="540.2" cy="180.2" rx="1.5" ry="1.4" opacity=".8" transform="rotate(7 540.2 180.2)"/><ellipse cx="536.1" cy="184.6" rx="1.5" ry="1" opacity="1" transform="rotate(95 536.1 184.6)"/><ellipse cx="536.1" cy="184.5" rx="1.2" ry="1" opacity=".8" transform="rotate(128 536.1 184.5)"/><ellipse cx="531.9" cy="182.1" rx="1.4" ry="1.2" opacity="1" transform="rotate(53 531.9 182.1)"/><ellipse cx="531.6" cy="181.7" rx="1" ry=".8" opacity=".8" transform="rotate(101 531.6 181.7)"/><ellipse cx="536.1" cy="189.6" rx="1.5" ry="1.4" opacity="1" transform="rotate(145 536.1 189.6)"/><ellipse cx="535.7" cy="189.1" rx="1.2" ry=".7" opacity=".8" transform="rotate(63 535.7 189.1)"/><ellipse cx="532.8" cy="197.1" rx="1.7" ry="1.3" opacity="1" transform="rotate(81 532.8 197.1)"/><ellipse cx="533.3" cy="197.3" rx="1.3" ry="1" opacity=".8" transform="rotate(23 533.3 197.3)"/><ellipse cx="526.1" cy="186.2" rx="1.4" ry=".8" opacity="1" transform="rotate(27 526.1 186.2)"/><ellipse cx="526" cy="186.2" rx="1" ry=".6" opacity=".8" transform="rotate(71 526 186.2)"/><ellipse cx="523.6" cy="192.1" rx="1.4" ry="1.1" opacity=".9" transform="rotate(174 523.6 192.1)"/><ellipse cx="523.9" cy="192.4" rx="1" ry=".9" opacity=".7" transform="rotate(135 523.9 192.4)"/><ellipse cx="516.9" cy="195.4" rx="1.4" ry="1.2" opacity=".9" transform="rotate(132 516.9 195.4)"/><ellipse cx="516.4" cy="195.6" rx="1" ry=".8" opacity=".7" transform="rotate(129 516.4 195.6)"/><ellipse cx="521.1" cy="200.5" rx="1.4" ry="1.1" opacity=".9" transform="rotate(13 521.1 200.5)"/><ellipse cx="521.4" cy="200.9" rx="1" ry=".9" opacity=".7" transform="rotate(82 521.4 200.9)"/><ellipse cx="513.5" cy="202.1" rx="1.4" ry="1" opacity=".9" transform="rotate(120 513.5 202.1)"/><ellipse cx="513.7" cy="202.3" rx="1" ry=".8" opacity=".7" transform="rotate(71 513.7 202.3)"/><ellipse cx="521.9" cy="206.3" rx="1.4" ry="1.3" opacity="1" transform="rotate(161 521.9 206.3)"/><ellipse cx="521.6" cy="206.4" rx="1" ry=".8" opacity=".8" transform="rotate(45 521.6 206.4)"/><ellipse cx="527.7" cy="205.5" rx="1.4" ry="1.2" opacity="1" transform="rotate(38 527.7 205.5)"/><ellipse cx="528" cy="205.4" rx="1" ry=".8" opacity=".8" transform="rotate(68 528 205.4)"/><ellipse cx="540.3" cy="203.8" rx="1.4" ry="1" opacity="1" transform="rotate(149 540.3 203.8)"/><ellipse cx="540" cy="203.7" rx="1" ry=".8" opacity=".8" transform="rotate(71 540 203.7)"/><ellipse cx="542" cy="187.9" rx="1.4" ry="1.1" opacity="1" transform="rotate(32 542 187.9)"/><ellipse cx="541.9" cy="188.4" rx="1" ry=".9" opacity=".8" transform="rotate(22 541.9 188.4)"/><ellipse cx="518.5" cy="181.2" rx="1.2" ry=".9" opacity=".8" transform="rotate(132 518.5 181.2)"/><ellipse cx="518.1" cy="181.7" rx=".9" ry=".7" opacity=".6" transform="rotate(132 518.1 181.7)"/><ellipse cx="513.5" cy="192.1" rx="1.2" ry=".7" opacity=".8" transform="rotate(73 513.5 192.1)"/><ellipse cx="514" cy="191.8" rx=".9" ry=".7" opacity=".6" transform="rotate(156 514 191.8)"/><ellipse cx="541.1" cy="171.2" rx="1.4" ry="1" opacity="1" transform="rotate(82 541.1 171.2)"/><ellipse cx="540.9" cy="170.9" rx="1" ry=".8" opacity=".8" transform="rotate(43 540.9 170.9)"/><ellipse cx="525.2" cy="177.9" rx="1" ry=".7" opacity=".8" transform="rotate(155 525.2 177.9)"/><ellipse cx="524.9" cy="177.5" rx=".7" ry=".5" opacity=".6" transform="rotate(40 524.9 177.5)"/><ellipse cx="506.8" cy="200.5" rx="1.2" ry=".8" opacity=".8" transform="rotate(36 506.8 200.5)"/><ellipse cx="506.6" cy="200.6" rx=".9" ry=".7" opacity=".6" transform="rotate(83 506.6 200.6)"/><ellipse cx="530.3" cy="191.3" rx="1.2" ry=".7" opacity=".8" transform="rotate(160 530.3 191.3)"/><ellipse cx="530.1" cy="190.9" rx=".9" ry=".8" opacity=".6" transform="rotate(113 530.1 190.9)"/><ellipse cx="501.8" cy="204.6" rx="1" ry=".6" opacity=".7" transform="rotate(22 501.8 204.6)"/><ellipse cx="501.9" cy="204.3" rx=".7" ry=".5" opacity=".6" transform="rotate(55 501.9 204.3)"/><ellipse cx="536.9" cy="174.5" rx="1.2" ry="1" opacity=".9" transform="rotate(94 536.9 174.5)"/><ellipse cx="536.9" cy="175" rx=".9" ry=".7" opacity=".7" transform="rotate(167 536.9 175)"/><ellipse cx="528.6" cy="199.6" rx="1.2" ry="1.1" opacity=".9" transform="rotate(144 528.6 199.6)"/><ellipse cx="528.6" cy="199.4" rx=".9" ry=".8" opacity=".7" transform="rotate(6 528.6 199.4)"/><ellipse cx="538.6" cy="195.4" rx="1.2" ry=".7" opacity=".9" transform="rotate(162 538.6 195.4)"/><ellipse cx="538.2" cy="194.9" rx=".9" ry=".7" opacity=".7" transform="rotate(134 538.2 194.9)"/><ellipse cx="516" cy="187.9" rx="1" ry=".6" opacity=".7" transform="rotate(79 516 187.9)"/><ellipse cx="516.3" cy="187.9" rx=".7" ry=".6" opacity=".6" transform="rotate(0 516.3 187.9)"/><ellipse cx="522.7" cy="172" rx="1" ry=".6" opacity=".7" transform="rotate(129 522.7 172)"/><ellipse cx="522.5" cy="172.1" rx=".7" ry=".4" opacity=".6" transform="rotate(1 522.5 172.1)"/><ellipse cx="510.2" cy="206.3" rx="1" ry=".9" opacity=".7" transform="rotate(167 510.2 206.3)"/><ellipse cx="510.5" cy="206.4" rx=".7" ry=".5" opacity=".6" transform="rotate(67 510.5 206.4)"/><ellipse cx="534.4" cy="203.8" rx="1" ry=".6" opacity=".8" transform="rotate(57 534.4 203.8)"/><ellipse cx="534.4" cy="203.6" rx=".7" ry=".5" opacity=".6" transform="rotate(108 534.4 203.6)"/><ellipse cx="502.7" cy="181.2" rx="1" ry=".6" opacity=".7" transform="rotate(25 502.7 181.2)"/><ellipse cx="502.5" cy="181" rx=".7" ry=".6" opacity=".6" transform="rotate(103 502.5 181)"/><ellipse cx="541.3" cy="184.1" rx="1.1" ry=".8" opacity=".4" transform="rotate(127 541.3 184.1)"/><ellipse cx="541.1" cy="183.9" rx=".8" ry=".6" opacity=".4" transform="rotate(124 541.1 183.9)"/><ellipse cx="510.2" cy="168.7" rx="1" ry=".6" opacity=".3" transform="rotate(89 510.2 168.7)"/><ellipse cx="510" cy="168.9" rx=".8" ry=".7" opacity=".2" transform="rotate(6 510 168.9)"/><ellipse cx="517" cy="201.7" rx="1.2" ry=".8" opacity=".3" transform="rotate(71 517 201.7)"/><ellipse cx="516.7" cy="201.8" rx=".9" ry=".7" opacity=".2" transform="rotate(59 516.7 201.8)"/><ellipse cx="504.8" cy="174.6" rx="1.2" ry=".9" opacity=".2" transform="rotate(113 504.8 174.6)"/><ellipse cx="504.6" cy="174.1" rx=".9" ry=".6" opacity=".2" transform="rotate(28 504.6 174.1)"/><ellipse cx="510.6" cy="169.9" rx=".7" ry=".6" opacity=".4" transform="rotate(64 510.6 169.9)"/><ellipse cx="510.6" cy="170.2" rx=".6" ry=".4" opacity=".3" transform="rotate(93 510.6 170.2)"/><ellipse cx="508.9" cy="182.2" rx="1.1" ry=".9" opacity=".4" transform="rotate(64 508.9 182.2)"/><ellipse cx="508.5" cy="182.6" rx=".8" ry=".7" opacity=".4" transform="rotate(56 508.5 182.6)"/><ellipse cx="518.3" cy="197.5" rx="1" ry=".9" opacity=".5" transform="rotate(40 518.3 197.5)"/><ellipse cx="518.3" cy="197.3" rx=".8" ry=".6" opacity=".4" transform="rotate(148 518.3 197.3)"/><ellipse cx="511.6" cy="180.5" rx="1" ry="1" opacity=".5" transform="rotate(162 511.6 180.5)"/><ellipse cx="511.5" cy="181" rx=".8" ry=".5" opacity=".4" transform="rotate(179 511.5 181)"/><ellipse cx="526.6" cy="184.8" rx=".8" ry=".6" opacity=".3" transform="rotate(45 526.6 184.8)"/><ellipse cx="526.9" cy="184.5" rx=".6" ry=".4" opacity=".2" transform="rotate(3 526.9 184.5)"/><ellipse cx="510.2" cy="205.6" rx="1.2" ry=".7" opacity=".5" transform="rotate(20 510.2 205.6)"/><ellipse cx="510.3" cy="205.6" rx=".9" ry=".6" opacity=".4" transform="rotate(53 510.3 205.6)"/><ellipse cx="523" cy="194.3" rx=".8" ry=".7" opacity=".4" transform="rotate(75 523 194.3)"/><ellipse cx="522.9" cy="194.6" rx=".6" ry=".5" opacity=".3" transform="rotate(105 522.9 194.6)"/><ellipse cx="507.3" cy="182.6" rx=".8" ry=".7" opacity=".3" transform="rotate(78 507.3 182.6)"/><ellipse cx="507.4" cy="182.8" rx=".6" ry=".4" opacity=".2" transform="rotate(66 507.4 182.8)"/><ellipse cx="538.9" cy="169.4" rx="1.1" ry="1" opacity=".4" transform="rotate(59 538.9 169.4)"/><ellipse cx="539.1" cy="169.1" rx=".9" ry=".6" opacity=".3" transform="rotate(172 539.1 169.1)"/><ellipse cx="505.1" cy="185.2" rx="1.3" ry="1.1" opacity=".5" transform="rotate(159 505.1 185.2)"/><ellipse cx="504.7" cy="185.8" rx="1" ry=".9" opacity=".4" transform="rotate(108 504.7 185.8)"/><ellipse cx="524.4" cy="196.9" rx="1.1" ry=".8" opacity=".3" transform="rotate(163 524.4 196.9)"/><ellipse cx="524.4" cy="196.7" rx=".8" ry=".7" opacity=".3" transform="rotate(179 524.4 196.7)"/><ellipse cx="523.8" cy="189.8" rx=".9" ry=".7" opacity=".5" transform="rotate(173 523.8 189.8)"/><ellipse cx="523.6" cy="189.4" rx=".7" ry=".4" opacity=".4" transform="rotate(134 523.6 189.4)"/><ellipse cx="519.5" cy="196" rx=".7" ry=".5" opacity=".4" transform="rotate(98 519.5 196)"/><ellipse cx="519.7" cy="195.8" rx=".5" ry=".5" opacity=".3" transform="rotate(55 519.7 195.8)"/><ellipse cx="503.2" cy="191.8" rx="1.2" ry="1" opacity=".4" transform="rotate(43 503.2 191.8)"/><ellipse cx="502.9" cy="192.3" rx=".9" ry=".6" opacity=".3" transform="rotate(82 502.9 192.3)"/><ellipse cx="524.5" cy="190.8" rx=".8" ry=".5" opacity=".3" transform="rotate(41 524.5 190.8)"/><ellipse cx="524.4" cy="191.1" rx=".6" ry=".5" opacity=".3" transform="rotate(152 524.4 191.1)"/><ellipse cx="525" cy="191.8" rx=".9" ry=".5" opacity=".4" transform="rotate(142 525 191.8)"/><ellipse cx="524.9" cy="191.7" rx=".7" ry=".5" opacity=".3" transform="rotate(46 524.9 191.7)"/><ellipse cx="514.9" cy="188.1" rx="1.1" ry=".6" opacity=".3" transform="rotate(51 514.9 188.1)"/><ellipse cx="514.5" cy="188.3" rx=".8" ry=".6" opacity=".3" transform="rotate(170 514.5 188.3)"/><ellipse cx="529.3" cy="200.1" rx="1" ry=".6" opacity=".5" transform="rotate(146 529.3 200.1)"/><ellipse cx="529.4" cy="200.3" rx=".8" ry=".5" opacity=".4" transform="rotate(159 529.4 200.3)"/></g>
<g filter="url(#b1)" fill="#48ff50"><ellipse cx="505.7" cy="190.4" rx="3.2" ry="2.7" opacity="1" transform="rotate(20 505.7 190.4)"/><ellipse cx="505.9" cy="191.7" rx="2.4" ry="1.3" opacity=".8" transform="rotate(169 505.9 191.7)"/><ellipse cx="539.4" cy="180.4" rx="1.3" ry="1.1" opacity=".6" transform="rotate(81 539.4 180.4)"/><ellipse cx="539.9" cy="180.4" rx="1" ry=".9" opacity=".5" transform="rotate(105 539.9 180.4)"/><ellipse cx="532.8" cy="197.1" rx="1.2" ry=".7" opacity=".5" transform="rotate(144 532.8 197.1)"/><ellipse cx="532.9" cy="197.5" rx=".9" ry=".6" opacity=".4" transform="rotate(156 532.9 197.5)"/></g>
<ellipse cx="521.8" cy="187.7" rx="32.1" ry="32" fill="url(#vg)" opacity="0.25"/>
<rect x="500.7" y="166.6" width="42.2" height="42.1" fill="none" stroke="#000" stroke-width="1.1" opacity=".85"/>
<text x="541.8" y="207.5" font-size="3" fill="#ee2430" font-weight="bold" text-anchor="end">50μm</text>
</g>
<text x="364.5" y="51.8" font-size="5.6" fill="#1fc77a" font-weight="bold" text-anchor="middle" transform="rotate(-90 364.5 51.8)" stroke="#1fc77a" stroke-width=".15">F4-80</text>
<text x="365.4" y="95.5" font-size="5.6" fill="#e4434f" font-weight="bold" text-anchor="middle" transform="rotate(-90 365.4 95.5)" stroke="#e4434f" stroke-width=".15">pTau</text>
<text x="364.1" y="143.2" font-size="5.6" fill="#2a9fd6" font-weight="bold" text-anchor="middle" transform="rotate(-90 364.1 143.2)" stroke="#2a9fd6" stroke-width=".15">DAPI</text>
<text x="364.8" y="192.5" font-size="5.4" fill="#111" font-weight="bold" text-anchor="middle" transform="rotate(-90 364.8 192.5)">Merge</text>
<text x="410.5" y="227.9" font-size="8.6" fill="#111" font-weight="bold" text-anchor="middle" textLength="39" lengthAdjust="spacingAndGlyphs">WT Vs KO</text>
<rect x="384.3" y="231.3" width="61.2" height="59" fill="#fff" stroke="#8d8de0" stroke-width=".6"/>
<path d="M384.3 290.8H444.5" stroke="#2a2ad0" stroke-width="1.4" stroke-dasharray=".7 .5" opacity=".85"/>
<line x1="384.3" y1="231.3" x2="384.3" y2="290.3" stroke="#3434d2" stroke-width="0.75"/>
<line x1="384.3" y1="290.3" x2="445.5" y2="290.3" stroke="#3434d2" stroke-width="0.75"/>
<line x1="382.3" y1="290.3" x2="384.3" y2="290.3" stroke="#2222cc" stroke-width="0.6"/>
<line x1="382.3" y1="276" x2="384.3" y2="276" stroke="#2222cc" stroke-width="0.6"/>
<text x="381.7" y="277" font-size="2.4" fill="#3333cc" text-anchor="end">50</text>
<line x1="382.3" y1="261.7" x2="384.3" y2="261.7" stroke="#2222cc" stroke-width="0.6"/>
<text x="381.7" y="262.7" font-size="2.4" fill="#3333cc" text-anchor="end">100</text>
<line x1="382.3" y1="247.4" x2="384.3" y2="247.4" stroke="#2222cc" stroke-width="0.6"/>
<text x="381.7" y="248.4" font-size="2.4" fill="#3333cc" text-anchor="end">150</text>
<line x1="382.3" y1="233.1" x2="384.3" y2="233.1" stroke="#2222cc" stroke-width="0.6"/>
<text x="381.7" y="234.1" font-size="2.4" fill="#3333cc" text-anchor="end">200</text>
<path d="M380.7 230.7l1.6 0l-.8 1.8z" fill="#2222cc"/>
<line x1="384.3" y1="290.3" x2="384.3" y2="292.5" stroke="#2222cc" stroke-width="0.6"/>
<text x="384.7" y="294.9" font-size="2.2" fill="#3333cc" text-anchor="middle" transform="rotate(-30 384.7 294.9)">10</text>
<line x1="394.3" y1="290.3" x2="394.3" y2="292.5" stroke="#2222cc" stroke-width="0.6"/>
<text x="394.7" y="294.9" font-size="2.2" fill="#3333cc" text-anchor="middle" transform="rotate(-30 394.7 294.9)">10</text>
<line x1="404.4" y1="290.3" x2="404.4" y2="292.5" stroke="#2222cc" stroke-width="0.6"/>
<text x="404.8" y="294.9" font-size="2.2" fill="#3333cc" text-anchor="middle" transform="rotate(-30 404.8 294.9)">10</text>
<line x1="414.4" y1="290.3" x2="414.4" y2="292.5" stroke="#2222cc" stroke-width="0.6"/>
<text x="414.8" y="294.9" font-size="2.2" fill="#3333cc" text-anchor="middle" transform="rotate(-30 414.8 294.9)">10</text>
<line x1="424.5" y1="290.3" x2="424.5" y2="292.5" stroke="#2222cc" stroke-width="0.6"/>
<text x="424.9" y="294.9" font-size="2.2" fill="#3333cc" text-anchor="middle" transform="rotate(-30 424.9 294.9)">10</text>
<line x1="434.5" y1="290.3" x2="434.5" y2="292.5" stroke="#2222cc" stroke-width="0.6"/>
<text x="434.9" y="294.9" font-size="2.2" fill="#3333cc" text-anchor="middle" transform="rotate(-30 434.9 294.9)">10</text>
<line x1="444.6" y1="290.3" x2="444.6" y2="292.5" stroke="#2222cc" stroke-width="0.6"/>
<text x="445" y="294.9" font-size="2.2" fill="#3333cc" text-anchor="middle" transform="rotate(-30 445 294.9)">10</text>
<line x1="413.3" y1="231.3" x2="413.3" y2="290.3" stroke="#c23a6e" stroke-width="0.7"/>
<text x="385.8" y="234.5" font-size="2.9" fill="#c23a5e">V1-L</text>
<text x="444.5" y="234.5" font-size="2.9" fill="#c23a5e" text-anchor="end">V1-R</text>
<path d="M385.3 288.8L386.1 288.7L386.9 288.4L387.7 288.2L388.5 288L389.3 287.7L390.1 287.2L390.9 286.4L391.7 286L392.5 284.2L393.3 283.2L394.1 282.9L394.9 281.1L395.7 278.6L396.5 277.7L397.3 275.7L398.1 272.9L398.9 270.7L399.7 268.8L400.5 263.8L401.3 261.2L402.1 257.3L402.9 255.9L403.7 254.8L404.5 256.4L405.3 254.9L406.1 257.1L406.9 262.8L407.7 266.1L408.5 268L409.3 273.9L410.1 274.9L410.9 278.2L411.7 280.3L412.5 282.6L413.3 283.8L414.1 285.6L414.9 286.1L415.7 287L416.5 287.9L417.3 288.1L418.1 288.5L418.9 288.7L419.7 288.7L420.5 288.9L421.3 289.2L422.1 289.3L422.9 289.5L423.7 289.5L424.5 289.2L425.3 289.4L426.1 289.7L426.9 289.5L427.7 289.6L428.5 289.5L429.3 289.2L430.1 289.5L430.9 289.2" fill="none" stroke="#222" stroke-width=".8" stroke-linejoin="round" opacity=".9"/>
<path d="M385.3 289.4L386.1 289L386.9 289.3L387.7 289.1L388.5 288.9L389.3 288.7L390.1 288.2L390.9 287.8L391.7 287.8L392.5 287L393.3 286.7L394.1 285.5L394.9 284.3L395.7 283.1L396.5 281.9L397.3 280.6L398.1 278.7L398.9 275.5L399.7 274.5L400.5 270.9L401.3 269.4L402.1 266.3L402.9 261.5L403.7 258.5L404.5 253L405.3 252.6L406.1 250.9L406.9 249L407.7 250.9L408.5 257.5L409.3 260.9L410.1 265L410.9 267.9L411.7 273.5L412.5 276L413.3 279.4L414.1 282.1L414.9 284.2L415.7 285L416.5 286.5L417.3 287.4L418.1 287.7L418.9 288.3L419.7 288.7L420.5 288.9L421.3 289L422.1 289.1L422.9 289.4L423.7 289.2L424.5 289.2L425.3 289.4L426.1 289.5L426.9 289.3L427.7 289.6L428.5 289.2L429.3 289.6L430.1 289.6L430.9 289.6" fill="none" stroke="#1a1ad8" stroke-width=".8" stroke-linejoin="round" opacity=".9"/>
<path d="M385.3 289.2L386.1 289.7L386.9 289.5L387.7 289.6L388.5 289.5L389.3 289.4L390.1 289.6L390.9 289.4L391.7 289.2L392.5 289.5L393.3 289.1L394.1 289L394.9 288.9L395.7 288.7L396.5 288.3L397.3 288.2L398.1 287.3L398.9 286.7L399.7 285.8L400.5 284.9L401.3 283L402.1 281.9L402.9 279.9L403.7 276.3L404.5 274L405.3 270.9L406.1 265.6L406.9 263.8L407.7 257.5L408.5 253.8L409.3 251.9L410.1 250.3L410.9 254.2L411.7 257.6L412.5 260.6L413.3 261.2L414.1 264.4L414.9 268.7L415.7 271.7L416.5 274.1L417.3 278.3L418.1 280L418.9 281L419.7 283.7L420.5 284.7L421.3 285.5L422.1 286.7L422.9 287.1L423.7 287.6L424.5 287.9L425.3 288.5L426.1 288.6L426.9 289.1L427.7 289.1L428.5 289.1L429.3 289.1L430.1 289.3L430.9 289.3" fill="none" stroke="#f0c020" stroke-width=".8" stroke-linejoin="round" opacity=".9"/>
<path d="M385.3 289.1L386.1 289L386.9 289.1L387.7 289L388.5 288.9L389.3 288.7L390.1 288.4L390.9 288.5L391.7 287.8L392.5 287.7L393.3 287.1L394.1 286.7L394.9 286.1L395.7 285.5L396.5 284.4L397.3 282.8L398.1 282.1L398.9 281.5L399.7 278.9L400.5 276.8L401.3 275.3L402.1 273.3L402.9 273.1L403.7 271.4L404.5 268.6L405.3 266L406.1 266.2L406.9 266.3L407.7 269.3L408.5 271L409.3 272.1L410.1 273.9L410.9 276.4L411.7 278.9L412.5 280.1L413.3 281.4L414.1 283.4L414.9 284.4L415.7 285.2L416.5 286.1L417.3 286.6L418.1 287.4L418.9 287.9L419.7 288.4L420.5 288.6L421.3 288.6L422.1 289.2L422.9 289.1L423.7 289.2L424.5 289L425.3 289.4L426.1 289.4L426.9 289.4L427.7 289.4L428.5 289.3L429.3 289.4L430.1 289.6L430.9 289.6" fill="none" stroke="#e02020" stroke-width=".8" stroke-linejoin="round" opacity=".9"/>
<path d="M385.3 289.2L386.1 289.5L386.9 289.2L387.7 289L388.5 289.3L389.3 289L390.1 288.9L390.9 288.7L391.7 288.5L392.5 288.4L393.3 288L394.1 287.4L394.9 287.2L395.7 286.5L396.5 286.1L397.3 285.1L398.1 283.9L398.9 282.9L399.7 282.1L400.5 279.7L401.3 278.5L402.1 276.8L402.9 274.9L403.7 274L404.5 272.1L405.3 269.9L406.1 268.2L406.9 268.2L407.7 268.7L408.5 271.8L409.3 273.2L410.1 273.4L410.9 277L411.7 277.6L412.5 280.4L413.3 281.5L414.1 283.2L414.9 284.3L415.7 285.2L416.5 286L417.3 286.9L418.1 287.3L418.9 287.8L419.7 288.4L420.5 288.5L421.3 289L422.1 288.9L422.9 289.1L423.7 289L424.5 289.1L425.3 289.5L426.1 289.1L426.9 289.6L427.7 289.5L428.5 289.4L429.3 289.6L430.1 289.3L430.9 289.6" fill="none" stroke="#f08a20" stroke-width=".8" stroke-linejoin="round" opacity=".9"/>
<path d="M385.3 289.1L386.1 288.8L386.9 288.6L387.7 288.7L388.5 288.2L389.3 287.6L390.1 287.3L390.9 286.6L391.7 286.3L392.5 285.4L393.3 284.8L394.1 283L394.9 282.2L395.7 281.1L396.5 279.4L397.3 278.1L398.1 276L398.9 272.4L399.7 269.2L400.5 266.5L401.3 263.4L402.1 260.1L402.9 259.3L403.7 258.6L404.5 253.9L405.3 255.1L406.1 253.7L406.9 253.3L407.7 258.5L408.5 260.6L409.3 264.7L410.1 270.3L410.9 272.8L411.7 275.4L412.5 277.6L413.3 279.3L414.1 281.2L414.9 283.5L415.7 285L416.5 285.9L417.3 286.4L418.1 287.1L418.9 287.8L419.7 288.4L420.5 288.7L421.3 288.9L422.1 289.2L422.9 289.1L423.7 289.5L424.5 289.3L425.3 289.1L426.1 289.2L426.9 289.4L427.7 289.6L428.5 289.5L429.3 289.6L430.1 289.2L430.9 289.3" fill="none" stroke="#6a6ae0" stroke-width=".8" stroke-linejoin="round" opacity=".9"/>
<text x="413.4" y="299.9" font-size="2.7" fill="#333" text-anchor="middle">F4/80-A</text>
<text x="378.2" y="267.1" font-size="2.7" fill="#333" text-anchor="middle" transform="rotate(-90 378.2 267.1)">Count</text>
<line x1="471.5" y1="274.1" x2="471.5" y2="270.4" stroke="#000" stroke-width="0.85"/>
<line x1="467.9" y1="270.4" x2="475.1" y2="270.4" stroke="#000" stroke-width="0.85"/>
<rect x="465" y="274.1" width="13" height="8.3" fill="#14921a" stroke="#000" stroke-width=".9"/>
<text x="472.9" y="286" font-size="4" fill="#111" font-weight="bold" text-anchor="end" transform="rotate(-45 472.9 286)" stroke="#111" stroke-width=".18">WT ND</text>
<line x1="471.5" y1="282.4" x2="471.5" y2="283.6" stroke="#000" stroke-width="0.6"/>
<line x1="491.1" y1="265.4" x2="491.1" y2="262.4" stroke="#000" stroke-width="0.85"/>
<line x1="487.5" y1="262.4" x2="494.7" y2="262.4" stroke="#000" stroke-width="0.85"/>
<rect x="484.6" y="265.4" width="13" height="17" fill="#b81414" stroke="#000" stroke-width=".9"/>
<text x="492.5" y="286" font-size="4" fill="#111" font-weight="bold" text-anchor="end" transform="rotate(-45 492.5 286)" stroke="#111" stroke-width=".18">KO ND</text>
<line x1="491.1" y1="282.4" x2="491.1" y2="283.6" stroke="#000" stroke-width="0.6"/>
<line x1="510.6" y1="267.2" x2="510.6" y2="265" stroke="#000" stroke-width="0.85"/>
<line x1="506.9" y1="265" x2="514.3" y2="265" stroke="#000" stroke-width="0.85"/>
<rect x="504" y="267.2" width="13.2" height="15.2" fill="#1414f0" stroke="#000" stroke-width=".9"/>
<text x="512" y="286" font-size="4" fill="#111" font-weight="bold" text-anchor="end" transform="rotate(-45 512 286)" stroke="#111" stroke-width=".18">WT HFD</text>
<line x1="510.6" y1="282.4" x2="510.6" y2="283.6" stroke="#000" stroke-width="0.6"/>
<line x1="530" y1="245" x2="530" y2="240" stroke="#000" stroke-width="0.85"/>
<line x1="526.2" y1="240" x2="533.8" y2="240" stroke="#000" stroke-width="0.85"/>
<rect x="523.3" y="245" width="13.4" height="37.4" fill="#ff1515" stroke="#000" stroke-width=".9"/>
<text x="530" y="240.2" font-size="4.2" fill="#222" font-weight="bold" text-anchor="middle">**</text>
<text x="531.4" y="286" font-size="4" fill="#111" font-weight="bold" text-anchor="end" transform="rotate(-45 531.4 286)" stroke="#111" stroke-width=".18">KO HFD</text>
<line x1="530" y1="282.4" x2="530" y2="283.6" stroke="#000" stroke-width="0.6"/>
<line x1="460.7" y1="228.2" x2="460.7" y2="282.8" stroke="#000" stroke-width="0.8"/>
<line x1="460.4" y1="282.4" x2="539.6" y2="282.4" stroke="#000" stroke-width="0.8"/>
<line x1="459.1" y1="282.4" x2="460.7" y2="282.4" stroke="#000" stroke-width="0.7"/>
<text x="458.4" y="283.8" font-size="3.8" fill="#111" font-weight="bold" text-anchor="end" stroke="#111" stroke-width=".18">0</text>
<line x1="459.1" y1="271.6" x2="460.7" y2="271.6" stroke="#000" stroke-width="0.7"/>
<text x="458.4" y="273.1" font-size="3.8" fill="#111" font-weight="bold" text-anchor="end" stroke="#111" stroke-width=".18">5</text>
<line x1="459.1" y1="260.8" x2="460.7" y2="260.8" stroke="#000" stroke-width="0.7"/>
<text x="458.4" y="262.3" font-size="3.8" fill="#111" font-weight="bold" text-anchor="end" stroke="#111" stroke-width=".18">10</text>
<line x1="459.1" y1="250.1" x2="460.7" y2="250.1" stroke="#000" stroke-width="0.7"/>
<text x="458.4" y="251.5" font-size="3.8" fill="#111" font-weight="bold" text-anchor="end" stroke="#111" stroke-width=".18">15</text>
<line x1="459.1" y1="239.3" x2="460.7" y2="239.3" stroke="#000" stroke-width="0.7"/>
<text x="458.4" y="240.7" font-size="3.8" fill="#111" font-weight="bold" text-anchor="end" stroke="#111" stroke-width=".18">20</text>
<line x1="459.1" y1="228.5" x2="460.7" y2="228.5" stroke="#000" stroke-width="0.7"/>
<text x="458.4" y="229.9" font-size="3.8" fill="#111" font-weight="bold" text-anchor="end" stroke="#111" stroke-width=".18">25</text>
<text x="451.9" y="257.6" font-size="3.6" fill="#111" font-weight="bold" text-anchor="middle" transform="rotate(-90 451.9 257.6)" stroke="#111" stroke-width=".18">F4/80 +ve cells</text>
<text x="408.2" y="314.2" font-size="8.8" fill="#111" font-weight="bold" text-anchor="middle" textLength="49.7" lengthAdjust="spacingAndGlyphs">FL Vs Int-KO</text>
<rect x="384.4" y="319.5" width="61" height="58.3" fill="#fff" stroke="#8d8de0" stroke-width=".6"/>
<path d="M384.4 378.3H444.4" stroke="#2a2ad0" stroke-width="1.4" stroke-dasharray=".7 .5" opacity=".85"/>
<line x1="384.4" y1="319.5" x2="384.4" y2="377.8" stroke="#3434d2" stroke-width="0.75"/>
<line x1="384.4" y1="377.8" x2="445.4" y2="377.8" stroke="#3434d2" stroke-width="0.75"/>
<line x1="382.4" y1="377.8" x2="384.4" y2="377.8" stroke="#2222cc" stroke-width="0.6"/>
<line x1="382.4" y1="363.7" x2="384.4" y2="363.7" stroke="#2222cc" stroke-width="0.6"/>
<text x="381.8" y="364.7" font-size="2.4" fill="#3333cc" text-anchor="end">50</text>
<line x1="382.4" y1="349.5" x2="384.4" y2="349.5" stroke="#2222cc" stroke-width="0.6"/>
<text x="381.8" y="350.5" font-size="2.4" fill="#3333cc" text-anchor="end">100</text>
<line x1="382.4" y1="335.4" x2="384.4" y2="335.4" stroke="#2222cc" stroke-width="0.6"/>
<text x="381.8" y="336.4" font-size="2.4" fill="#3333cc" text-anchor="end">150</text>
<line x1="382.4" y1="321.2" x2="384.4" y2="321.2" stroke="#2222cc" stroke-width="0.6"/>
<text x="381.8" y="322.2" font-size="2.4" fill="#3333cc" text-anchor="end">200</text>
<path d="M380.8 318.9l1.6 0l-.8 1.8z" fill="#2222cc"/>
<line x1="384.4" y1="377.8" x2="384.4" y2="380" stroke="#2222cc" stroke-width="0.6"/>
<text x="384.8" y="382.4" font-size="2.2" fill="#3333cc" text-anchor="middle" transform="rotate(-30 384.8 382.4)">10</text>
<line x1="394.4" y1="377.8" x2="394.4" y2="380" stroke="#2222cc" stroke-width="0.6"/>
<text x="394.8" y="382.4" font-size="2.2" fill="#3333cc" text-anchor="middle" transform="rotate(-30 394.8 382.4)">10</text>
<line x1="404.4" y1="377.8" x2="404.4" y2="380" stroke="#2222cc" stroke-width="0.6"/>
<text x="404.8" y="382.4" font-size="2.2" fill="#3333cc" text-anchor="middle" transform="rotate(-30 404.8 382.4)">10</text>
<line x1="414.4" y1="377.8" x2="414.4" y2="380" stroke="#2222cc" stroke-width="0.6"/>
<text x="414.8" y="382.4" font-size="2.2" fill="#3333cc" text-anchor="middle" transform="rotate(-30 414.8 382.4)">10</text>
<line x1="424.5" y1="377.8" x2="424.5" y2="380" stroke="#2222cc" stroke-width="0.6"/>
<text x="424.9" y="382.4" font-size="2.2" fill="#3333cc" text-anchor="middle" transform="rotate(-30 424.9 382.4)">10</text>
<line x1="434.5" y1="377.8" x2="434.5" y2="380" stroke="#2222cc" stroke-width="0.6"/>
<text x="434.9" y="382.4" font-size="2.2" fill="#3333cc" text-anchor="middle" transform="rotate(-30 434.9 382.4)">10</text>
<line x1="444.5" y1="377.8" x2="444.5" y2="380" stroke="#2222cc" stroke-width="0.6"/>
<text x="444.9" y="382.4" font-size="2.2" fill="#3333cc" text-anchor="middle" transform="rotate(-30 444.9 382.4)">10</text>
<line x1="413.5" y1="319.5" x2="413.5" y2="377.8" stroke="#c23a6e" stroke-width="0.7"/>
<text x="385.9" y="322.7" font-size="2.9" fill="#c23a5e">V2-L</text>
<text x="444.4" y="322.7" font-size="2.9" fill="#c23a5e" text-anchor="end">V2-R</text>
<path d="M385.4 376.6L386.2 376.1L387 376.1L387.8 375.4L388.6 375L389.4 374.6L390.2 373.8L391 372.7L391.8 372.3L392.6 370.1L393.4 369.2L394.2 366.8L395 365.2L395.8 361.7L396.6 357.6L397.4 356.1L398.2 350.4L399 349.6L399.8 341.9L400.6 340.8L401.4 334.3L402.2 331.1L403 332.2L403.8 329.4L404.6 329.6L405.4 331.5L406.2 336.1L407 344.5L407.8 347.5L408.6 352L409.4 357.1L410.2 359.7L411 364L411.8 365.2L412.6 367.7L413.4 370L414.2 371.5L415 373L415.8 373.8L416.6 374.9L417.4 375.1L418.2 375.6L419 375.9L419.8 376.4L420.6 376.4L421.4 376.8L422.2 376.6L423 376.5L423.8 377L424.6 376.6L425.4 377.1L426.2 377L427 377.2L427.8 376.8L428.6 376.9L429.4 377.1L430.2 377L431 377" fill="none" stroke="#222" stroke-width=".8" stroke-linejoin="round" opacity=".9"/>
<path d="M385.4 376.6L386.2 376.1L387 375.9L387.8 375.8L388.6 375.3L389.4 374.5L390.2 374.6L391 373.6L391.8 372.8L392.6 371.1L393.4 369.9L394.2 369.2L395 366.2L395.8 365.3L396.6 363.2L397.4 359.7L398.2 356.4L399 353.7L399.8 348.3L400.6 345.1L401.4 341.8L402.2 339.8L403 336.3L403.8 334.8L404.6 335L405.4 338L406.2 343.6L407 344.7L407.8 350L408.6 354.4L409.4 357.9L410.2 359.4L411 362.9L411.8 365L412.6 367.8L413.4 370.1L414.2 371.3L415 372.3L415.8 373.4L416.6 374.5L417.4 375.3L418.2 375.4L419 375.6L419.8 376.2L420.6 376.1L421.4 376.7L422.2 376.8L423 377L423.8 376.6L424.6 376.7L425.4 376.9L426.2 377L427 377.1L427.8 377.1L428.6 376.7L429.4 376.9L430.2 377L431 377" fill="none" stroke="#1a1ad8" stroke-width=".8" stroke-linejoin="round" opacity=".9"/>
<path d="M385.4 376.9L386.2 377L387 376.7L387.8 377.1L388.6 376.8L389.4 376.6L390.2 376.9L391 376.7L391.8 376.8L392.6 376.9L393.4 376.4L394.2 376.2L395 376.1L395.8 376.1L396.6 375.5L397.4 375.4L398.2 374.4L399 374.2L399.8 373.4L400.6 372.4L401.4 371.1L402.2 369.9L403 368.1L403.8 365.2L404.6 364.2L405.4 361.7L406.2 359.2L407 356L407.8 351.3L408.6 349L409.4 345.7L410.2 344.8L411 342.6L411.8 342.4L412.6 344.1L413.4 347.8L414.2 351.1L415 352.9L415.8 356.1L416.6 360.2L417.4 361L418.2 363.7L419 365.8L419.8 366.8L420.6 369.4L421.4 370.5L422.2 372.1L423 372.8L423.8 373.6L424.6 374.1L425.4 374.5L426.2 375.1L427 375.4L427.8 375.9L428.6 376L429.4 376.2L430.2 376.7L431 376.6" fill="none" stroke="#f0c828" stroke-width=".8" stroke-linejoin="round" opacity=".9"/>
<path d="M385.4 376.4L386.2 376L387 376.1L387.8 375.7L388.6 375.6L389.4 375.1L390.2 374.4L391 373.3L391.8 373.2L392.6 371.8L393.4 369.8L394.2 368.2L395 366.9L395.8 365.4L396.6 362.4L397.4 359.8L398.2 357.4L399 353.1L399.8 350L400.6 349L401.4 345.9L402.2 341.3L403 339.8L403.8 340L404.6 342L405.4 346.1L406.2 350L407 352.2L407.8 355.4L408.6 357.8L409.4 359.7L410.2 360.9L411 363.7L411.8 365.3L412.6 367.4L413.4 369.6L414.2 370.8L415 371.4L415.8 372.9L416.6 373.4L417.4 374.3L418.2 375L419 375.3L419.8 375.3L420.6 375.8L421.4 376.1L422.2 376.4L423 376.2L423.8 376.4L424.6 376.8L425.4 376.7L426.2 376.9L427 376.7L427.8 376.7L428.6 376.8L429.4 376.9L430.2 376.9L431 377" fill="none" stroke="#e02020" stroke-width=".8" stroke-linejoin="round" opacity=".9"/>
<path d="M385.4 376.2L386.2 375.9L387 375.7L387.8 375.4L388.6 374.9L389.4 374.8L390.2 373.9L391 373.2L391.8 372.3L392.6 371.1L393.4 370.3L394.2 369L395 367L395.8 365.3L396.6 361.6L397.4 360.6L398.2 355.5L399 352.4L399.8 350.5L400.6 347.8L401.4 343.4L402.2 341L403 336.4L403.8 336.1L404.6 340.1L405.4 338.5L406.2 342.7L407 346.7L407.8 349.3L408.6 355.5L409.4 358.2L410.2 361.3L411 362.3L411.8 366.4L412.6 367.4L413.4 369.3L414.2 371.1L415 372.6L415.8 373.2L416.6 374.3L417.4 374.8L418.2 375.4L419 375.9L419.8 376.1L420.6 376.2L421.4 376.7L422.2 376.5L423 376.6L423.8 376.8L424.6 377L425.4 377L426.2 377L427 376.7L427.8 376.9L428.6 377.1L429.4 376.8L430.2 376.8L431 377.1" fill="none" stroke="#6a6ae0" stroke-width=".8" stroke-linejoin="round" opacity=".9"/>
<path d="M385.4 376.2L386.2 376L387 375.8L387.8 375.8L388.6 375.3L389.4 374.9L390.2 374.3L391 373.2L391.8 372.7L392.6 371.5L393.4 370.8L394.2 368.6L395 367.5L395.8 365.2L396.6 363.4L397.4 360.3L398.2 358.2L399 354.7L399.8 352.3L400.6 346.2L401.4 343.2L402.2 343.8L403 339.9L403.8 337.9L404.6 343.4L405.4 346.2L406.2 348.5L407 348.9L407.8 353.3L408.6 357.6L409.4 359.2L410.2 362L411 364.3L411.8 367.3L412.6 368.1L413.4 370.3L414.2 371.7L415 372.9L415.8 373.2L416.6 374.3L417.4 374.8L418.2 375.4L419 375.6L419.8 376.1L420.6 376.4L421.4 376.2L422.2 376.5L423 376.7L423.8 376.8L424.6 376.9L425.4 376.9L426.2 377L427 377.1L427.8 376.9L428.6 376.7L429.4 376.9L430.2 376.9L431 377" fill="none" stroke="#a02060" stroke-width=".8" stroke-linejoin="round" opacity=".9"/>
<text x="413.4" y="386.3" font-size="2.7" fill="#333" text-anchor="middle">F4/80-A</text>
<text x="377.8" y="354.9" font-size="2.7" fill="#333" text-anchor="middle" transform="rotate(-90 377.8 354.9)">Count</text>
<line x1="473.6" y1="364.4" x2="473.6" y2="363.2" stroke="#000" stroke-width="0.85"/>
<line x1="469.7" y1="363.2" x2="477.5" y2="363.2" stroke="#000" stroke-width="0.85"/>
<rect x="466.6" y="364.4" width="14" height="1.7" fill="#14921a" stroke="#000" stroke-width=".9"/>
<text x="475" y="369.7" font-size="3.8" fill="#111" font-weight="bold" text-anchor="end" transform="rotate(-45 475 369.7)" stroke="#111" stroke-width=".18">FL ND</text>
<line x1="473.6" y1="366.1" x2="473.6" y2="367.3" stroke="#000" stroke-width="0.6"/>
<line x1="492.9" y1="356.8" x2="492.9" y2="354.4" stroke="#000" stroke-width="0.85"/>
<line x1="489.1" y1="354.4" x2="496.6" y2="354.4" stroke="#000" stroke-width="0.85"/>
<rect x="486.2" y="356.8" width="13.3" height="9.3" fill="#b81414" stroke="#000" stroke-width=".9"/>
<text x="494.2" y="369.7" font-size="3.8" fill="#111" font-weight="bold" text-anchor="end" transform="rotate(-45 494.2 369.7)" stroke="#111" stroke-width=".18">Int-KO ND</text>
<line x1="492.9" y1="366.1" x2="492.9" y2="367.3" stroke="#000" stroke-width="0.6"/>
<line x1="511.6" y1="359.3" x2="511.6" y2="357.3" stroke="#000" stroke-width="0.85"/>
<line x1="508" y1="357.3" x2="515.2" y2="357.3" stroke="#000" stroke-width="0.85"/>
<rect x="505.1" y="359.3" width="13" height="6.8" fill="#1414f0" stroke="#000" stroke-width=".9"/>
<text x="513" y="369.7" font-size="3.8" fill="#111" font-weight="bold" text-anchor="end" transform="rotate(-45 513 369.7)" stroke="#111" stroke-width=".18">FL HFD</text>
<line x1="511.6" y1="366.1" x2="511.6" y2="367.3" stroke="#000" stroke-width="0.6"/>
<line x1="530.5" y1="328.9" x2="530.5" y2="325.7" stroke="#000" stroke-width="0.85"/>
<line x1="526.9" y1="325.7" x2="534.1" y2="325.7" stroke="#000" stroke-width="0.85"/>
<rect x="524" y="328.9" width="13" height="37.2" fill="#ff1515" stroke="#000" stroke-width=".9"/>
<text x="530.5" y="326" font-size="4.2" fill="#222" font-weight="bold" text-anchor="middle">***</text>
<text x="531.9" y="369.7" font-size="3.8" fill="#111" font-weight="bold" text-anchor="end" transform="rotate(-45 531.9 369.7)" stroke="#111" stroke-width=".18">Int-KO HFD</text>
<line x1="530.5" y1="366.1" x2="530.5" y2="367.3" stroke="#000" stroke-width="0.6"/>
<line x1="462.7" y1="314.3" x2="462.7" y2="366.5" stroke="#000" stroke-width="0.8"/>
<line x1="462.4" y1="366.1" x2="540.7" y2="366.1" stroke="#000" stroke-width="0.8"/>
<line x1="461.1" y1="366.1" x2="462.7" y2="366.1" stroke="#000" stroke-width="0.7"/>
<text x="460.4" y="367.6" font-size="3.7" fill="#111" font-weight="bold" text-anchor="end" stroke="#111" stroke-width=".18">0</text>
<line x1="461.1" y1="353.2" x2="462.7" y2="353.2" stroke="#000" stroke-width="0.7"/>
<text x="460.4" y="354.7" font-size="3.7" fill="#111" font-weight="bold" text-anchor="end" stroke="#111" stroke-width=".18">10</text>
<line x1="461.1" y1="340.4" x2="462.7" y2="340.4" stroke="#000" stroke-width="0.7"/>
<text x="460.4" y="341.8" font-size="3.7" fill="#111" font-weight="bold" text-anchor="end" stroke="#111" stroke-width=".18">20</text>
<line x1="461.1" y1="327.5" x2="462.7" y2="327.5" stroke="#000" stroke-width="0.7"/>
<text x="460.4" y="328.9" font-size="3.7" fill="#111" font-weight="bold" text-anchor="end" stroke="#111" stroke-width=".18">30</text>
<line x1="461.1" y1="314.6" x2="462.7" y2="314.6" stroke="#000" stroke-width="0.7"/>
<text x="460.4" y="316.1" font-size="3.7" fill="#111" font-weight="bold" text-anchor="end" stroke="#111" stroke-width=".18">40</text>
<text x="455.5" y="340.4" font-size="4.0" fill="#111" font-weight="bold" text-anchor="middle" transform="rotate(-90 455.5 340.4)" stroke="#111" stroke-width=".18">F4/80 +ve cells</text>
</svg>
</body></html>
